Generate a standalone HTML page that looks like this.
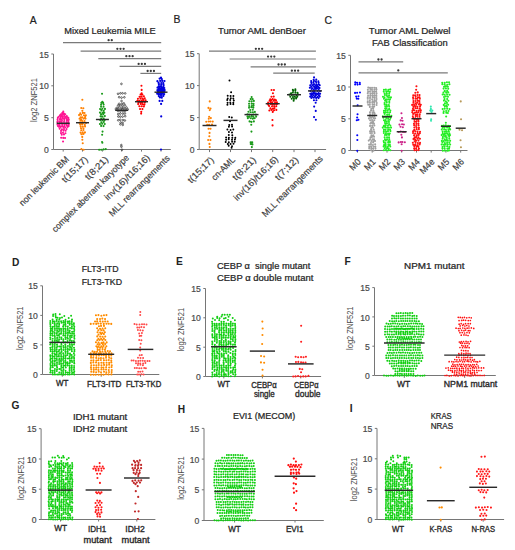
<!DOCTYPE html>
<html><head><meta charset="utf-8"><style>
html,body{margin:0;padding:0;background:#fff;width:515px;height:550px;overflow:hidden}
svg{display:block;font-family:"Liberation Sans",sans-serif}
</style></head><body>
<svg width="515" height="550" viewBox="0 0 515 550">
<rect width="515" height="550" fill="#fff"/>
<text x="29.8" y="24.2" font-size="10.4" fill="#222" stroke="#222" stroke-width="0.2">A</text>
<text x="64.3" y="34.2" font-size="8.5" fill="#262626" textLength="91.5" lengthAdjust="spacingAndGlyphs" stroke="#262626" stroke-width="0.22">Mixed Leukemia MILE</text>
<line x1="53.5" y1="54.0" x2="53.5" y2="149.5" stroke="#767676" stroke-width="1"/>
<line x1="53.5" y1="149.5" x2="170.8" y2="149.5" stroke="#767676" stroke-width="1"/>
<line x1="51.3" y1="149.5" x2="53.5" y2="149.5" stroke="#767676" stroke-width="1"/>
<text x="48.9" y="153.1" font-size="8.6" fill="#4a4a4a" text-anchor="end" stroke="#4a4a4a" stroke-width="0.2">0</text>
<line x1="51.3" y1="117.7" x2="53.5" y2="117.7" stroke="#767676" stroke-width="1"/>
<text x="48.9" y="121.3" font-size="8.6" fill="#4a4a4a" text-anchor="end" stroke="#4a4a4a" stroke-width="0.2">5</text>
<line x1="51.3" y1="85.8" x2="53.5" y2="85.8" stroke="#767676" stroke-width="1"/>
<text x="48.9" y="89.4" font-size="8.6" fill="#4a4a4a" text-anchor="end" stroke="#4a4a4a" stroke-width="0.2">10</text>
<line x1="51.3" y1="54.0" x2="53.5" y2="54.0" stroke="#767676" stroke-width="1"/>
<text x="48.9" y="57.6" font-size="8.6" fill="#4a4a4a" text-anchor="end" stroke="#4a4a4a" stroke-width="0.2">15</text>
<text x="37.0" y="100.0" font-size="8.2" fill="#4a4a4a" text-anchor="middle" textLength="44" lengthAdjust="spacingAndGlyphs" transform="rotate(-90 37.0 100.0)">log2 ZNF521</text>
<line x1="63.2" y1="149.4" x2="63.2" y2="151.6" stroke="#767676" stroke-width="1"/>
<line x1="82.5" y1="149.4" x2="82.5" y2="151.6" stroke="#767676" stroke-width="1"/>
<line x1="102.4" y1="149.4" x2="102.4" y2="151.6" stroke="#767676" stroke-width="1"/>
<line x1="121.7" y1="149.4" x2="121.7" y2="151.6" stroke="#767676" stroke-width="1"/>
<line x1="141.5" y1="149.4" x2="141.5" y2="151.6" stroke="#767676" stroke-width="1"/>
<line x1="161.0" y1="149.4" x2="161.0" y2="151.6" stroke="#767676" stroke-width="1"/>
<line x1="63.0" y1="42.6" x2="161.2" y2="42.6" stroke="#7a7a7a" stroke-width="1.2"/>
<path d="M107.47 40.20a1.15 1.15 0 1 0 2.3 0a1.15 1.15 0 1 0 -2.3 0M110.62 40.20a1.15 1.15 0 1 0 2.3 0a1.15 1.15 0 1 0 -2.3 0" fill="#3a3a3a"/>
<line x1="80.6" y1="51.2" x2="161.2" y2="51.2" stroke="#7a7a7a" stroke-width="1.2"/>
<path d="M116.20 48.80a1.15 1.15 0 1 0 2.3 0a1.15 1.15 0 1 0 -2.3 0M119.35 48.80a1.15 1.15 0 1 0 2.3 0a1.15 1.15 0 1 0 -2.3 0M122.50 48.80a1.15 1.15 0 1 0 2.3 0a1.15 1.15 0 1 0 -2.3 0" fill="#3a3a3a"/>
<line x1="98.3" y1="58.6" x2="161.2" y2="58.6" stroke="#7a7a7a" stroke-width="1.2"/>
<path d="M125.20 56.20a1.15 1.15 0 1 0 2.3 0a1.15 1.15 0 1 0 -2.3 0M128.35 56.20a1.15 1.15 0 1 0 2.3 0a1.15 1.15 0 1 0 -2.3 0M131.50 56.20a1.15 1.15 0 1 0 2.3 0a1.15 1.15 0 1 0 -2.3 0" fill="#3a3a3a"/>
<line x1="119.6" y1="66.3" x2="161.2" y2="66.3" stroke="#7a7a7a" stroke-width="1.2"/>
<path d="M137.50 63.90a1.15 1.15 0 1 0 2.3 0a1.15 1.15 0 1 0 -2.3 0M140.65 63.90a1.15 1.15 0 1 0 2.3 0a1.15 1.15 0 1 0 -2.3 0M143.80 63.90a1.15 1.15 0 1 0 2.3 0a1.15 1.15 0 1 0 -2.3 0" fill="#3a3a3a"/>
<line x1="140.4" y1="73.4" x2="161.2" y2="73.4" stroke="#7a7a7a" stroke-width="1.2"/>
<path d="M146.50 71.00a1.15 1.15 0 1 0 2.3 0a1.15 1.15 0 1 0 -2.3 0M149.65 71.00a1.15 1.15 0 1 0 2.3 0a1.15 1.15 0 1 0 -2.3 0M152.80 71.00a1.15 1.15 0 1 0 2.3 0a1.15 1.15 0 1 0 -2.3 0" fill="#3a3a3a"/>
<text x="69.5" y="159.9" font-size="9.0" fill="#404040" text-anchor="end" textLength="66" lengthAdjust="spacingAndGlyphs" transform="rotate(-45 69.5 159.9)" stroke="#404040" stroke-width="0.2">non leukemic BM</text>
<text x="88.5" y="159.9" font-size="9.0" fill="#404040" text-anchor="end" textLength="33" lengthAdjust="spacingAndGlyphs" transform="rotate(-45 88.5 159.9)" stroke="#404040" stroke-width="0.2">t(15;17)</text>
<text x="108.9" y="159.9" font-size="9.0" fill="#404040" text-anchor="end" textLength="29" lengthAdjust="spacingAndGlyphs" transform="rotate(-45 108.9 159.9)" stroke="#404040" stroke-width="0.2">t(8;21)</text>
<text x="129.7" y="158.4" font-size="9.0" fill="#404040" text-anchor="end" textLength="105" lengthAdjust="spacingAndGlyphs" transform="rotate(-45 129.7 158.4)" stroke="#404040" stroke-width="0.2">complex aberrant karyotype</text>
<text x="150.5" y="158.4" font-size="9.0" fill="#404040" text-anchor="end" textLength="60" lengthAdjust="spacingAndGlyphs" transform="rotate(-45 150.5 158.4)" stroke="#404040" stroke-width="0.2">inv(16)/t16;16)</text>
<text x="170.5" y="158.9" font-size="9.0" fill="#404040" text-anchor="end" textLength="82" lengthAdjust="spacingAndGlyphs" transform="rotate(-45 170.5 158.9)" stroke="#404040" stroke-width="0.2">MLL rearrangements</text>
<path d="M62.0 141.5a1.05 1.05 0 1 0 2.1 0a1.05 1.05 0 1 0 -2.1 0M60.1 137.7a1.05 1.05 0 1 0 2.1 0a1.05 1.05 0 1 0 -2.1 0M62.2 137.9a1.05 1.05 0 1 0 2.1 0a1.05 1.05 0 1 0 -2.1 0M64.0 138.0a1.05 1.05 0 1 0 2.1 0a1.05 1.05 0 1 0 -2.1 0M60.7 134.7a1.05 1.05 0 1 0 2.1 0a1.05 1.05 0 1 0 -2.1 0M62.9 134.5a1.05 1.05 0 1 0 2.1 0a1.05 1.05 0 1 0 -2.1 0M59.9 133.1a1.05 1.05 0 1 0 2.1 0a1.05 1.05 0 1 0 -2.1 0M61.9 132.7a1.05 1.05 0 1 0 2.1 0a1.05 1.05 0 1 0 -2.1 0M64.4 133.2a1.05 1.05 0 1 0 2.1 0a1.05 1.05 0 1 0 -2.1 0M60.0 130.9a1.05 1.05 0 1 0 2.1 0a1.05 1.05 0 1 0 -2.1 0M62.5 130.6a1.05 1.05 0 1 0 2.1 0a1.05 1.05 0 1 0 -2.1 0M64.6 130.8a1.05 1.05 0 1 0 2.1 0a1.05 1.05 0 1 0 -2.1 0M58.6 128.8a1.05 1.05 0 1 0 2.1 0a1.05 1.05 0 1 0 -2.1 0M60.9 129.3a1.05 1.05 0 1 0 2.1 0a1.05 1.05 0 1 0 -2.1 0M63.0 129.1a1.05 1.05 0 1 0 2.1 0a1.05 1.05 0 1 0 -2.1 0M65.5 129.0a1.05 1.05 0 1 0 2.1 0a1.05 1.05 0 1 0 -2.1 0M57.8 126.8a1.05 1.05 0 1 0 2.1 0a1.05 1.05 0 1 0 -2.1 0M59.6 126.9a1.05 1.05 0 1 0 2.1 0a1.05 1.05 0 1 0 -2.1 0M62.3 127.1a1.05 1.05 0 1 0 2.1 0a1.05 1.05 0 1 0 -2.1 0M64.2 127.2a1.05 1.05 0 1 0 2.1 0a1.05 1.05 0 1 0 -2.1 0M66.5 127.0a1.05 1.05 0 1 0 2.1 0a1.05 1.05 0 1 0 -2.1 0M56.9 126.0a1.05 1.05 0 1 0 2.1 0a1.05 1.05 0 1 0 -2.1 0M58.7 125.9a1.05 1.05 0 1 0 2.1 0a1.05 1.05 0 1 0 -2.1 0M61.1 126.1a1.05 1.05 0 1 0 2.1 0a1.05 1.05 0 1 0 -2.1 0M63.4 125.7a1.05 1.05 0 1 0 2.1 0a1.05 1.05 0 1 0 -2.1 0M65.8 125.6a1.05 1.05 0 1 0 2.1 0a1.05 1.05 0 1 0 -2.1 0M67.6 126.0a1.05 1.05 0 1 0 2.1 0a1.05 1.05 0 1 0 -2.1 0M56.4 124.6a1.05 1.05 0 1 0 2.1 0a1.05 1.05 0 1 0 -2.1 0M58.5 124.7a1.05 1.05 0 1 0 2.1 0a1.05 1.05 0 1 0 -2.1 0M61.2 124.6a1.05 1.05 0 1 0 2.1 0a1.05 1.05 0 1 0 -2.1 0M63.5 124.5a1.05 1.05 0 1 0 2.1 0a1.05 1.05 0 1 0 -2.1 0M65.6 124.7a1.05 1.05 0 1 0 2.1 0a1.05 1.05 0 1 0 -2.1 0M67.7 124.6a1.05 1.05 0 1 0 2.1 0a1.05 1.05 0 1 0 -2.1 0M56.9 123.6a1.05 1.05 0 1 0 2.1 0a1.05 1.05 0 1 0 -2.1 0M58.8 123.4a1.05 1.05 0 1 0 2.1 0a1.05 1.05 0 1 0 -2.1 0M60.7 123.5a1.05 1.05 0 1 0 2.1 0a1.05 1.05 0 1 0 -2.1 0M63.4 123.7a1.05 1.05 0 1 0 2.1 0a1.05 1.05 0 1 0 -2.1 0M65.7 123.2a1.05 1.05 0 1 0 2.1 0a1.05 1.05 0 1 0 -2.1 0M67.6 123.4a1.05 1.05 0 1 0 2.1 0a1.05 1.05 0 1 0 -2.1 0M56.3 122.0a1.05 1.05 0 1 0 2.1 0a1.05 1.05 0 1 0 -2.1 0M58.6 121.8a1.05 1.05 0 1 0 2.1 0a1.05 1.05 0 1 0 -2.1 0M60.7 122.2a1.05 1.05 0 1 0 2.1 0a1.05 1.05 0 1 0 -2.1 0M63.0 121.9a1.05 1.05 0 1 0 2.1 0a1.05 1.05 0 1 0 -2.1 0M65.4 122.3a1.05 1.05 0 1 0 2.1 0a1.05 1.05 0 1 0 -2.1 0M67.4 122.0a1.05 1.05 0 1 0 2.1 0a1.05 1.05 0 1 0 -2.1 0M56.7 121.0a1.05 1.05 0 1 0 2.1 0a1.05 1.05 0 1 0 -2.1 0M59.1 121.0a1.05 1.05 0 1 0 2.1 0a1.05 1.05 0 1 0 -2.1 0M60.9 120.7a1.05 1.05 0 1 0 2.1 0a1.05 1.05 0 1 0 -2.1 0M63.2 121.0a1.05 1.05 0 1 0 2.1 0a1.05 1.05 0 1 0 -2.1 0M65.8 120.5a1.05 1.05 0 1 0 2.1 0a1.05 1.05 0 1 0 -2.1 0M67.4 120.6a1.05 1.05 0 1 0 2.1 0a1.05 1.05 0 1 0 -2.1 0M56.5 119.5a1.05 1.05 0 1 0 2.1 0a1.05 1.05 0 1 0 -2.1 0M58.9 119.3a1.05 1.05 0 1 0 2.1 0a1.05 1.05 0 1 0 -2.1 0M60.7 119.5a1.05 1.05 0 1 0 2.1 0a1.05 1.05 0 1 0 -2.1 0M63.2 119.6a1.05 1.05 0 1 0 2.1 0a1.05 1.05 0 1 0 -2.1 0M65.8 119.6a1.05 1.05 0 1 0 2.1 0a1.05 1.05 0 1 0 -2.1 0M67.7 119.6a1.05 1.05 0 1 0 2.1 0a1.05 1.05 0 1 0 -2.1 0M56.8 117.9a1.05 1.05 0 1 0 2.1 0a1.05 1.05 0 1 0 -2.1 0M59.1 118.4a1.05 1.05 0 1 0 2.1 0a1.05 1.05 0 1 0 -2.1 0M61.3 118.4a1.05 1.05 0 1 0 2.1 0a1.05 1.05 0 1 0 -2.1 0M63.2 118.2a1.05 1.05 0 1 0 2.1 0a1.05 1.05 0 1 0 -2.1 0M65.2 118.3a1.05 1.05 0 1 0 2.1 0a1.05 1.05 0 1 0 -2.1 0M67.3 117.9a1.05 1.05 0 1 0 2.1 0a1.05 1.05 0 1 0 -2.1 0M57.5 116.7a1.05 1.05 0 1 0 2.1 0a1.05 1.05 0 1 0 -2.1 0M59.8 116.7a1.05 1.05 0 1 0 2.1 0a1.05 1.05 0 1 0 -2.1 0M61.8 116.7a1.05 1.05 0 1 0 2.1 0a1.05 1.05 0 1 0 -2.1 0M64.1 116.9a1.05 1.05 0 1 0 2.1 0a1.05 1.05 0 1 0 -2.1 0M66.2 117.2a1.05 1.05 0 1 0 2.1 0a1.05 1.05 0 1 0 -2.1 0M58.9 115.4a1.05 1.05 0 1 0 2.1 0a1.05 1.05 0 1 0 -2.1 0M60.9 115.6a1.05 1.05 0 1 0 2.1 0a1.05 1.05 0 1 0 -2.1 0M63.2 115.4a1.05 1.05 0 1 0 2.1 0a1.05 1.05 0 1 0 -2.1 0M65.7 116.0a1.05 1.05 0 1 0 2.1 0a1.05 1.05 0 1 0 -2.1 0M59.9 114.4a1.05 1.05 0 1 0 2.1 0a1.05 1.05 0 1 0 -2.1 0M61.9 114.1a1.05 1.05 0 1 0 2.1 0a1.05 1.05 0 1 0 -2.1 0M64.2 114.3a1.05 1.05 0 1 0 2.1 0a1.05 1.05 0 1 0 -2.1 0M61.3 112.9a1.05 1.05 0 1 0 2.1 0a1.05 1.05 0 1 0 -2.1 0M62.9 113.5a1.05 1.05 0 1 0 2.1 0a1.05 1.05 0 1 0 -2.1 0M62.2 111.6a1.05 1.05 0 1 0 2.1 0a1.05 1.05 0 1 0 -2.1 0" fill="#ff1493"/>
<path d="M80.4 149.1a1.05 1.05 0 1 0 2.1 0a1.05 1.05 0 1 0 -2.1 0M82.6 149.7a1.05 1.05 0 1 0 2.1 0a1.05 1.05 0 1 0 -2.1 0M81.7 143.2a1.05 1.05 0 1 0 2.1 0a1.05 1.05 0 1 0 -2.1 0M81.3 139.8a1.05 1.05 0 1 0 2.1 0a1.05 1.05 0 1 0 -2.1 0M81.2 136.9a1.05 1.05 0 1 0 2.1 0a1.05 1.05 0 1 0 -2.1 0M80.4 134.3a1.05 1.05 0 1 0 2.1 0a1.05 1.05 0 1 0 -2.1 0M82.4 133.9a1.05 1.05 0 1 0 2.1 0a1.05 1.05 0 1 0 -2.1 0M79.5 132.6a1.05 1.05 0 1 0 2.1 0a1.05 1.05 0 1 0 -2.1 0M81.7 132.4a1.05 1.05 0 1 0 2.1 0a1.05 1.05 0 1 0 -2.1 0M83.9 132.4a1.05 1.05 0 1 0 2.1 0a1.05 1.05 0 1 0 -2.1 0M80.2 130.3a1.05 1.05 0 1 0 2.1 0a1.05 1.05 0 1 0 -2.1 0M82.4 130.0a1.05 1.05 0 1 0 2.1 0a1.05 1.05 0 1 0 -2.1 0M80.0 128.3a1.05 1.05 0 1 0 2.1 0a1.05 1.05 0 1 0 -2.1 0M82.4 128.5a1.05 1.05 0 1 0 2.1 0a1.05 1.05 0 1 0 -2.1 0M79.6 126.5a1.05 1.05 0 1 0 2.1 0a1.05 1.05 0 1 0 -2.1 0M81.8 126.8a1.05 1.05 0 1 0 2.1 0a1.05 1.05 0 1 0 -2.1 0M84.0 126.4a1.05 1.05 0 1 0 2.1 0a1.05 1.05 0 1 0 -2.1 0M79.1 124.4a1.05 1.05 0 1 0 2.1 0a1.05 1.05 0 1 0 -2.1 0M81.2 124.4a1.05 1.05 0 1 0 2.1 0a1.05 1.05 0 1 0 -2.1 0M83.7 124.9a1.05 1.05 0 1 0 2.1 0a1.05 1.05 0 1 0 -2.1 0M78.4 122.7a1.05 1.05 0 1 0 2.1 0a1.05 1.05 0 1 0 -2.1 0M80.5 122.9a1.05 1.05 0 1 0 2.1 0a1.05 1.05 0 1 0 -2.1 0M82.3 122.8a1.05 1.05 0 1 0 2.1 0a1.05 1.05 0 1 0 -2.1 0M85.0 122.9a1.05 1.05 0 1 0 2.1 0a1.05 1.05 0 1 0 -2.1 0M79.4 120.8a1.05 1.05 0 1 0 2.1 0a1.05 1.05 0 1 0 -2.1 0M81.2 121.0a1.05 1.05 0 1 0 2.1 0a1.05 1.05 0 1 0 -2.1 0M83.5 121.0a1.05 1.05 0 1 0 2.1 0a1.05 1.05 0 1 0 -2.1 0M78.5 118.8a1.05 1.05 0 1 0 2.1 0a1.05 1.05 0 1 0 -2.1 0M80.3 119.2a1.05 1.05 0 1 0 2.1 0a1.05 1.05 0 1 0 -2.1 0M82.7 118.6a1.05 1.05 0 1 0 2.1 0a1.05 1.05 0 1 0 -2.1 0M84.5 118.6a1.05 1.05 0 1 0 2.1 0a1.05 1.05 0 1 0 -2.1 0M79.5 117.2a1.05 1.05 0 1 0 2.1 0a1.05 1.05 0 1 0 -2.1 0M81.2 117.2a1.05 1.05 0 1 0 2.1 0a1.05 1.05 0 1 0 -2.1 0M84.0 117.1a1.05 1.05 0 1 0 2.1 0a1.05 1.05 0 1 0 -2.1 0M78.0 115.1a1.05 1.05 0 1 0 2.1 0a1.05 1.05 0 1 0 -2.1 0M80.1 114.7a1.05 1.05 0 1 0 2.1 0a1.05 1.05 0 1 0 -2.1 0M82.9 115.2a1.05 1.05 0 1 0 2.1 0a1.05 1.05 0 1 0 -2.1 0M84.8 115.4a1.05 1.05 0 1 0 2.1 0a1.05 1.05 0 1 0 -2.1 0M79.2 113.4a1.05 1.05 0 1 0 2.1 0a1.05 1.05 0 1 0 -2.1 0M81.7 112.9a1.05 1.05 0 1 0 2.1 0a1.05 1.05 0 1 0 -2.1 0M83.5 113.0a1.05 1.05 0 1 0 2.1 0a1.05 1.05 0 1 0 -2.1 0M81.3 110.7a1.05 1.05 0 1 0 2.1 0a1.05 1.05 0 1 0 -2.1 0M80.2 108.0a1.05 1.05 0 1 0 2.1 0a1.05 1.05 0 1 0 -2.1 0M82.3 108.3a1.05 1.05 0 1 0 2.1 0a1.05 1.05 0 1 0 -2.1 0M81.3 99.8a1.05 1.05 0 1 0 2.1 0a1.05 1.05 0 1 0 -2.1 0" fill="#ff8000"/>
<path d="M98.1 149.7a1.05 1.05 0 1 0 2.1 0a1.05 1.05 0 1 0 -2.1 0M100.2 149.7a1.05 1.05 0 1 0 2.1 0a1.05 1.05 0 1 0 -2.1 0M102.5 149.4a1.05 1.05 0 1 0 2.1 0a1.05 1.05 0 1 0 -2.1 0M104.7 149.1a1.05 1.05 0 1 0 2.1 0a1.05 1.05 0 1 0 -2.1 0M101.3 142.8a1.05 1.05 0 1 0 2.1 0a1.05 1.05 0 1 0 -2.1 0M101.0 142.0a1.05 1.05 0 1 0 2.1 0a1.05 1.05 0 1 0 -2.1 0M101.1 134.8a1.05 1.05 0 1 0 2.1 0a1.05 1.05 0 1 0 -2.1 0M101.5 131.6a1.05 1.05 0 1 0 2.1 0a1.05 1.05 0 1 0 -2.1 0M100.1 125.9a1.05 1.05 0 1 0 2.1 0a1.05 1.05 0 1 0 -2.1 0M102.5 126.1a1.05 1.05 0 1 0 2.1 0a1.05 1.05 0 1 0 -2.1 0M98.9 124.0a1.05 1.05 0 1 0 2.1 0a1.05 1.05 0 1 0 -2.1 0M101.2 123.8a1.05 1.05 0 1 0 2.1 0a1.05 1.05 0 1 0 -2.1 0M103.7 124.0a1.05 1.05 0 1 0 2.1 0a1.05 1.05 0 1 0 -2.1 0M100.3 122.2a1.05 1.05 0 1 0 2.1 0a1.05 1.05 0 1 0 -2.1 0M102.7 122.0a1.05 1.05 0 1 0 2.1 0a1.05 1.05 0 1 0 -2.1 0M99.2 120.1a1.05 1.05 0 1 0 2.1 0a1.05 1.05 0 1 0 -2.1 0M101.4 120.3a1.05 1.05 0 1 0 2.1 0a1.05 1.05 0 1 0 -2.1 0M103.5 120.2a1.05 1.05 0 1 0 2.1 0a1.05 1.05 0 1 0 -2.1 0M100.2 118.5a1.05 1.05 0 1 0 2.1 0a1.05 1.05 0 1 0 -2.1 0M102.6 118.5a1.05 1.05 0 1 0 2.1 0a1.05 1.05 0 1 0 -2.1 0M99.5 116.2a1.05 1.05 0 1 0 2.1 0a1.05 1.05 0 1 0 -2.1 0M101.4 116.6a1.05 1.05 0 1 0 2.1 0a1.05 1.05 0 1 0 -2.1 0M103.8 116.1a1.05 1.05 0 1 0 2.1 0a1.05 1.05 0 1 0 -2.1 0M100.0 114.4a1.05 1.05 0 1 0 2.1 0a1.05 1.05 0 1 0 -2.1 0M102.2 114.2a1.05 1.05 0 1 0 2.1 0a1.05 1.05 0 1 0 -2.1 0M98.9 112.6a1.05 1.05 0 1 0 2.1 0a1.05 1.05 0 1 0 -2.1 0M101.5 112.8a1.05 1.05 0 1 0 2.1 0a1.05 1.05 0 1 0 -2.1 0M103.3 112.7a1.05 1.05 0 1 0 2.1 0a1.05 1.05 0 1 0 -2.1 0M100.4 110.4a1.05 1.05 0 1 0 2.1 0a1.05 1.05 0 1 0 -2.1 0M102.7 110.9a1.05 1.05 0 1 0 2.1 0a1.05 1.05 0 1 0 -2.1 0M99.0 109.0a1.05 1.05 0 1 0 2.1 0a1.05 1.05 0 1 0 -2.1 0M101.3 108.7a1.05 1.05 0 1 0 2.1 0a1.05 1.05 0 1 0 -2.1 0M103.9 108.9a1.05 1.05 0 1 0 2.1 0a1.05 1.05 0 1 0 -2.1 0M100.0 106.7a1.05 1.05 0 1 0 2.1 0a1.05 1.05 0 1 0 -2.1 0M102.5 106.7a1.05 1.05 0 1 0 2.1 0a1.05 1.05 0 1 0 -2.1 0M100.0 104.8a1.05 1.05 0 1 0 2.1 0a1.05 1.05 0 1 0 -2.1 0M102.6 104.5a1.05 1.05 0 1 0 2.1 0a1.05 1.05 0 1 0 -2.1 0M100.3 102.9a1.05 1.05 0 1 0 2.1 0a1.05 1.05 0 1 0 -2.1 0M102.1 102.9a1.05 1.05 0 1 0 2.1 0a1.05 1.05 0 1 0 -2.1 0M101.4 101.7a1.05 1.05 0 1 0 2.1 0a1.05 1.05 0 1 0 -2.1 0M101.0 93.8a1.05 1.05 0 1 0 2.1 0a1.05 1.05 0 1 0 -2.1 0" fill="#1a9a1a"/>
<path d="M121.1 149.7a0.85 0.85 0 1 0 1.7 0a0.85 0.85 0 1 0 -1.7 0M120.6 146.7a0.85 0.85 0 1 0 1.7 0a0.85 0.85 0 1 0 -1.7 0M120.5 145.1a0.85 0.85 0 1 0 1.7 0a0.85 0.85 0 1 0 -1.7 0M119.5 124.3a0.85 0.85 0 1 0 1.7 0a0.85 0.85 0 1 0 -1.7 0M121.9 124.9a0.85 0.85 0 1 0 1.7 0a0.85 0.85 0 1 0 -1.7 0M119.9 122.5a0.85 0.85 0 1 0 1.7 0a0.85 0.85 0 1 0 -1.7 0M121.8 123.0a0.85 0.85 0 1 0 1.7 0a0.85 0.85 0 1 0 -1.7 0M117.4 120.3a0.85 0.85 0 1 0 1.7 0a0.85 0.85 0 1 0 -1.7 0M119.4 119.8a0.85 0.85 0 1 0 1.7 0a0.85 0.85 0 1 0 -1.7 0M122.1 120.1a0.85 0.85 0 1 0 1.7 0a0.85 0.85 0 1 0 -1.7 0M124.0 120.5a0.85 0.85 0 1 0 1.7 0a0.85 0.85 0 1 0 -1.7 0M117.5 116.5a0.85 0.85 0 1 0 1.7 0a0.85 0.85 0 1 0 -1.7 0M119.4 116.6a0.85 0.85 0 1 0 1.7 0a0.85 0.85 0 1 0 -1.7 0M121.7 116.6a0.85 0.85 0 1 0 1.7 0a0.85 0.85 0 1 0 -1.7 0M124.3 116.2a0.85 0.85 0 1 0 1.7 0a0.85 0.85 0 1 0 -1.7 0M117.4 114.1a0.85 0.85 0 1 0 1.7 0a0.85 0.85 0 1 0 -1.7 0M119.5 113.5a0.85 0.85 0 1 0 1.7 0a0.85 0.85 0 1 0 -1.7 0M122.0 113.6a0.85 0.85 0 1 0 1.7 0a0.85 0.85 0 1 0 -1.7 0M124.0 113.5a0.85 0.85 0 1 0 1.7 0a0.85 0.85 0 1 0 -1.7 0M117.1 111.0a0.85 0.85 0 1 0 1.7 0a0.85 0.85 0 1 0 -1.7 0M119.6 111.1a0.85 0.85 0 1 0 1.7 0a0.85 0.85 0 1 0 -1.7 0M122.2 111.1a0.85 0.85 0 1 0 1.7 0a0.85 0.85 0 1 0 -1.7 0M124.3 111.0a0.85 0.85 0 1 0 1.7 0a0.85 0.85 0 1 0 -1.7 0M115.0 109.0a0.85 0.85 0 1 0 1.7 0a0.85 0.85 0 1 0 -1.7 0M117.2 109.0a0.85 0.85 0 1 0 1.7 0a0.85 0.85 0 1 0 -1.7 0M119.9 109.4a0.85 0.85 0 1 0 1.7 0a0.85 0.85 0 1 0 -1.7 0M121.8 109.3a0.85 0.85 0 1 0 1.7 0a0.85 0.85 0 1 0 -1.7 0M124.6 109.1a0.85 0.85 0 1 0 1.7 0a0.85 0.85 0 1 0 -1.7 0M126.8 109.3a0.85 0.85 0 1 0 1.7 0a0.85 0.85 0 1 0 -1.7 0M116.2 107.7a0.85 0.85 0 1 0 1.7 0a0.85 0.85 0 1 0 -1.7 0M118.5 107.4a0.85 0.85 0 1 0 1.7 0a0.85 0.85 0 1 0 -1.7 0M121.0 107.8a0.85 0.85 0 1 0 1.7 0a0.85 0.85 0 1 0 -1.7 0M123.0 107.7a0.85 0.85 0 1 0 1.7 0a0.85 0.85 0 1 0 -1.7 0M125.6 107.5a0.85 0.85 0 1 0 1.7 0a0.85 0.85 0 1 0 -1.7 0M117.3 105.4a0.85 0.85 0 1 0 1.7 0a0.85 0.85 0 1 0 -1.7 0M119.4 105.3a0.85 0.85 0 1 0 1.7 0a0.85 0.85 0 1 0 -1.7 0M121.7 105.7a0.85 0.85 0 1 0 1.7 0a0.85 0.85 0 1 0 -1.7 0M124.1 105.3a0.85 0.85 0 1 0 1.7 0a0.85 0.85 0 1 0 -1.7 0M118.3 103.8a0.85 0.85 0 1 0 1.7 0a0.85 0.85 0 1 0 -1.7 0M121.1 103.7a0.85 0.85 0 1 0 1.7 0a0.85 0.85 0 1 0 -1.7 0M123.0 103.4a0.85 0.85 0 1 0 1.7 0a0.85 0.85 0 1 0 -1.7 0M120.7 101.0a0.85 0.85 0 1 0 1.7 0a0.85 0.85 0 1 0 -1.7 0M118.3 97.2a0.85 0.85 0 1 0 1.7 0a0.85 0.85 0 1 0 -1.7 0M120.7 97.6a0.85 0.85 0 1 0 1.7 0a0.85 0.85 0 1 0 -1.7 0M123.5 97.3a0.85 0.85 0 1 0 1.7 0a0.85 0.85 0 1 0 -1.7 0M117.2 93.8a0.85 0.85 0 1 0 1.7 0a0.85 0.85 0 1 0 -1.7 0M119.6 93.3a0.85 0.85 0 1 0 1.7 0a0.85 0.85 0 1 0 -1.7 0M121.7 93.3a0.85 0.85 0 1 0 1.7 0a0.85 0.85 0 1 0 -1.7 0M124.3 93.4a0.85 0.85 0 1 0 1.7 0a0.85 0.85 0 1 0 -1.7 0M120.6 83.9a0.85 0.85 0 1 0 1.7 0a0.85 0.85 0 1 0 -1.7 0" fill="none" stroke="#3a3a3a" stroke-width="0.75"/>
<path d="M140.1 113.6a1.05 1.05 0 1 0 2.1 0a1.05 1.05 0 1 0 -2.1 0M140.2 111.8a1.05 1.05 0 1 0 2.1 0a1.05 1.05 0 1 0 -2.1 0M139.0 109.0a1.05 1.05 0 1 0 2.1 0a1.05 1.05 0 1 0 -2.1 0M141.4 109.1a1.05 1.05 0 1 0 2.1 0a1.05 1.05 0 1 0 -2.1 0M138.3 106.2a1.05 1.05 0 1 0 2.1 0a1.05 1.05 0 1 0 -2.1 0M140.6 106.3a1.05 1.05 0 1 0 2.1 0a1.05 1.05 0 1 0 -2.1 0M142.8 106.4a1.05 1.05 0 1 0 2.1 0a1.05 1.05 0 1 0 -2.1 0M137.1 104.1a1.05 1.05 0 1 0 2.1 0a1.05 1.05 0 1 0 -2.1 0M139.7 104.0a1.05 1.05 0 1 0 2.1 0a1.05 1.05 0 1 0 -2.1 0M141.7 104.3a1.05 1.05 0 1 0 2.1 0a1.05 1.05 0 1 0 -2.1 0M143.4 104.5a1.05 1.05 0 1 0 2.1 0a1.05 1.05 0 1 0 -2.1 0M137.4 102.4a1.05 1.05 0 1 0 2.1 0a1.05 1.05 0 1 0 -2.1 0M139.5 102.6a1.05 1.05 0 1 0 2.1 0a1.05 1.05 0 1 0 -2.1 0M141.3 102.4a1.05 1.05 0 1 0 2.1 0a1.05 1.05 0 1 0 -2.1 0M143.8 102.6a1.05 1.05 0 1 0 2.1 0a1.05 1.05 0 1 0 -2.1 0M136.3 100.7a1.05 1.05 0 1 0 2.1 0a1.05 1.05 0 1 0 -2.1 0M138.3 100.7a1.05 1.05 0 1 0 2.1 0a1.05 1.05 0 1 0 -2.1 0M140.6 100.6a1.05 1.05 0 1 0 2.1 0a1.05 1.05 0 1 0 -2.1 0M142.5 100.1a1.05 1.05 0 1 0 2.1 0a1.05 1.05 0 1 0 -2.1 0M144.6 100.3a1.05 1.05 0 1 0 2.1 0a1.05 1.05 0 1 0 -2.1 0M136.9 98.8a1.05 1.05 0 1 0 2.1 0a1.05 1.05 0 1 0 -2.1 0M139.4 98.6a1.05 1.05 0 1 0 2.1 0a1.05 1.05 0 1 0 -2.1 0M141.6 98.6a1.05 1.05 0 1 0 2.1 0a1.05 1.05 0 1 0 -2.1 0M143.7 98.2a1.05 1.05 0 1 0 2.1 0a1.05 1.05 0 1 0 -2.1 0M138.5 96.8a1.05 1.05 0 1 0 2.1 0a1.05 1.05 0 1 0 -2.1 0M140.5 96.6a1.05 1.05 0 1 0 2.1 0a1.05 1.05 0 1 0 -2.1 0M142.8 96.3a1.05 1.05 0 1 0 2.1 0a1.05 1.05 0 1 0 -2.1 0M139.5 94.5a1.05 1.05 0 1 0 2.1 0a1.05 1.05 0 1 0 -2.1 0M141.3 94.5a1.05 1.05 0 1 0 2.1 0a1.05 1.05 0 1 0 -2.1 0M140.6 93.2a1.05 1.05 0 1 0 2.1 0a1.05 1.05 0 1 0 -2.1 0M140.6 89.9a1.05 1.05 0 1 0 2.1 0a1.05 1.05 0 1 0 -2.1 0M140.4 85.7a1.05 1.05 0 1 0 2.1 0a1.05 1.05 0 1 0 -2.1 0" fill="#ff0000"/>
<path d="M159.9 149.5a1.1 1.1 0 1 0 2.2 0a1.1 1.1 0 1 0 -2.2 0M160.1 116.4a1.1 1.1 0 1 0 2.2 0a1.1 1.1 0 1 0 -2.2 0M160.0 103.9a1.1 1.1 0 1 0 2.2 0a1.1 1.1 0 1 0 -2.2 0M158.5 100.9a1.1 1.1 0 1 0 2.2 0a1.1 1.1 0 1 0 -2.2 0M161.2 100.9a1.1 1.1 0 1 0 2.2 0a1.1 1.1 0 1 0 -2.2 0M158.8 97.5a1.1 1.1 0 1 0 2.2 0a1.1 1.1 0 1 0 -2.2 0M160.7 97.7a1.1 1.1 0 1 0 2.2 0a1.1 1.1 0 1 0 -2.2 0M157.7 96.1a1.1 1.1 0 1 0 2.2 0a1.1 1.1 0 1 0 -2.2 0M160.0 95.8a1.1 1.1 0 1 0 2.2 0a1.1 1.1 0 1 0 -2.2 0M162.2 96.0a1.1 1.1 0 1 0 2.2 0a1.1 1.1 0 1 0 -2.2 0M157.6 94.4a1.1 1.1 0 1 0 2.2 0a1.1 1.1 0 1 0 -2.2 0M160.2 94.5a1.1 1.1 0 1 0 2.2 0a1.1 1.1 0 1 0 -2.2 0M162.5 95.0a1.1 1.1 0 1 0 2.2 0a1.1 1.1 0 1 0 -2.2 0M156.1 93.7a1.1 1.1 0 1 0 2.2 0a1.1 1.1 0 1 0 -2.2 0M159.0 94.1a1.1 1.1 0 1 0 2.2 0a1.1 1.1 0 1 0 -2.2 0M161.0 93.6a1.1 1.1 0 1 0 2.2 0a1.1 1.1 0 1 0 -2.2 0M163.1 94.1a1.1 1.1 0 1 0 2.2 0a1.1 1.1 0 1 0 -2.2 0M157.4 92.9a1.1 1.1 0 1 0 2.2 0a1.1 1.1 0 1 0 -2.2 0M159.6 92.8a1.1 1.1 0 1 0 2.2 0a1.1 1.1 0 1 0 -2.2 0M162.5 92.5a1.1 1.1 0 1 0 2.2 0a1.1 1.1 0 1 0 -2.2 0M156.7 91.8a1.1 1.1 0 1 0 2.2 0a1.1 1.1 0 1 0 -2.2 0M159.0 92.0a1.1 1.1 0 1 0 2.2 0a1.1 1.1 0 1 0 -2.2 0M160.9 92.1a1.1 1.1 0 1 0 2.2 0a1.1 1.1 0 1 0 -2.2 0M163.3 91.5a1.1 1.1 0 1 0 2.2 0a1.1 1.1 0 1 0 -2.2 0M157.3 90.9a1.1 1.1 0 1 0 2.2 0a1.1 1.1 0 1 0 -2.2 0M159.9 90.7a1.1 1.1 0 1 0 2.2 0a1.1 1.1 0 1 0 -2.2 0M161.9 90.8a1.1 1.1 0 1 0 2.2 0a1.1 1.1 0 1 0 -2.2 0M156.3 90.2a1.1 1.1 0 1 0 2.2 0a1.1 1.1 0 1 0 -2.2 0M158.4 90.1a1.1 1.1 0 1 0 2.2 0a1.1 1.1 0 1 0 -2.2 0M161.3 89.7a1.1 1.1 0 1 0 2.2 0a1.1 1.1 0 1 0 -2.2 0M163.6 90.1a1.1 1.1 0 1 0 2.2 0a1.1 1.1 0 1 0 -2.2 0M157.9 88.8a1.1 1.1 0 1 0 2.2 0a1.1 1.1 0 1 0 -2.2 0M159.8 88.9a1.1 1.1 0 1 0 2.2 0a1.1 1.1 0 1 0 -2.2 0M162.5 89.0a1.1 1.1 0 1 0 2.2 0a1.1 1.1 0 1 0 -2.2 0M156.4 87.7a1.1 1.1 0 1 0 2.2 0a1.1 1.1 0 1 0 -2.2 0M158.6 87.4a1.1 1.1 0 1 0 2.2 0a1.1 1.1 0 1 0 -2.2 0M160.8 87.9a1.1 1.1 0 1 0 2.2 0a1.1 1.1 0 1 0 -2.2 0M163.2 88.0a1.1 1.1 0 1 0 2.2 0a1.1 1.1 0 1 0 -2.2 0M157.4 86.6a1.1 1.1 0 1 0 2.2 0a1.1 1.1 0 1 0 -2.2 0M159.9 86.5a1.1 1.1 0 1 0 2.2 0a1.1 1.1 0 1 0 -2.2 0M162.1 87.1a1.1 1.1 0 1 0 2.2 0a1.1 1.1 0 1 0 -2.2 0M157.9 86.0a1.1 1.1 0 1 0 2.2 0a1.1 1.1 0 1 0 -2.2 0M160.0 86.1a1.1 1.1 0 1 0 2.2 0a1.1 1.1 0 1 0 -2.2 0M162.5 85.8a1.1 1.1 0 1 0 2.2 0a1.1 1.1 0 1 0 -2.2 0M157.8 84.2a1.1 1.1 0 1 0 2.2 0a1.1 1.1 0 1 0 -2.2 0M160.1 84.5a1.1 1.1 0 1 0 2.2 0a1.1 1.1 0 1 0 -2.2 0M162.4 84.6a1.1 1.1 0 1 0 2.2 0a1.1 1.1 0 1 0 -2.2 0M157.5 82.9a1.1 1.1 0 1 0 2.2 0a1.1 1.1 0 1 0 -2.2 0M160.2 83.0a1.1 1.1 0 1 0 2.2 0a1.1 1.1 0 1 0 -2.2 0M162.2 83.1a1.1 1.1 0 1 0 2.2 0a1.1 1.1 0 1 0 -2.2 0M156.3 81.2a1.1 1.1 0 1 0 2.2 0a1.1 1.1 0 1 0 -2.2 0M159.1 80.9a1.1 1.1 0 1 0 2.2 0a1.1 1.1 0 1 0 -2.2 0M161.2 80.9a1.1 1.1 0 1 0 2.2 0a1.1 1.1 0 1 0 -2.2 0M163.4 81.0a1.1 1.1 0 1 0 2.2 0a1.1 1.1 0 1 0 -2.2 0M158.5 78.6a1.1 1.1 0 1 0 2.2 0a1.1 1.1 0 1 0 -2.2 0M160.8 79.1a1.1 1.1 0 1 0 2.2 0a1.1 1.1 0 1 0 -2.2 0M159.9 77.7a1.1 1.1 0 1 0 2.2 0a1.1 1.1 0 1 0 -2.2 0" fill="#0000dd"/>
<line x1="56.7" y1="123.3" x2="69.7" y2="123.3" stroke="#2a2a2a" stroke-width="1.45"/>
<line x1="76.0" y1="122.7" x2="89.0" y2="122.7" stroke="#2a2a2a" stroke-width="1.45"/>
<line x1="95.9" y1="119.5" x2="108.9" y2="119.5" stroke="#2a2a2a" stroke-width="1.45"/>
<line x1="115.2" y1="110.3" x2="128.2" y2="110.3" stroke="#2a2a2a" stroke-width="1.45"/>
<line x1="135.0" y1="101.7" x2="148.0" y2="101.7" stroke="#2a2a2a" stroke-width="1.45"/>
<line x1="154.5" y1="92.2" x2="167.5" y2="92.2" stroke="#2a2a2a" stroke-width="1.45"/>
<text x="173.6" y="23.4" font-size="10.4" fill="#222" stroke="#222" stroke-width="0.2">B</text>
<text x="217.9" y="34.2" font-size="8.5" fill="#262626" textLength="88" lengthAdjust="spacingAndGlyphs" stroke="#262626" stroke-width="0.22">Tumor AML denBoer</text>
<line x1="199.2" y1="53.7" x2="199.2" y2="149.5" stroke="#767676" stroke-width="1"/>
<line x1="199.2" y1="149.5" x2="326.1" y2="149.5" stroke="#767676" stroke-width="1"/>
<line x1="197.0" y1="149.5" x2="199.2" y2="149.5" stroke="#767676" stroke-width="1"/>
<text x="194.6" y="153.1" font-size="8.6" fill="#4a4a4a" text-anchor="end" stroke="#4a4a4a" stroke-width="0.2">0</text>
<line x1="197.0" y1="117.6" x2="199.2" y2="117.6" stroke="#767676" stroke-width="1"/>
<text x="194.6" y="121.2" font-size="8.6" fill="#4a4a4a" text-anchor="end" stroke="#4a4a4a" stroke-width="0.2">5</text>
<line x1="197.0" y1="85.6" x2="199.2" y2="85.6" stroke="#767676" stroke-width="1"/>
<text x="194.6" y="89.2" font-size="8.6" fill="#4a4a4a" text-anchor="end" stroke="#4a4a4a" stroke-width="0.2">10</text>
<line x1="197.0" y1="53.7" x2="199.2" y2="53.7" stroke="#767676" stroke-width="1"/>
<text x="194.6" y="57.3" font-size="8.6" fill="#4a4a4a" text-anchor="end" stroke="#4a4a4a" stroke-width="0.2">15</text>
<line x1="209.5" y1="149.9" x2="209.5" y2="152.1" stroke="#767676" stroke-width="1"/>
<line x1="230.5" y1="149.9" x2="230.5" y2="152.1" stroke="#767676" stroke-width="1"/>
<line x1="251.5" y1="149.9" x2="251.5" y2="152.1" stroke="#767676" stroke-width="1"/>
<line x1="272.7" y1="149.9" x2="272.7" y2="152.1" stroke="#767676" stroke-width="1"/>
<line x1="294.0" y1="149.9" x2="294.0" y2="152.1" stroke="#767676" stroke-width="1"/>
<line x1="315.0" y1="149.9" x2="315.0" y2="152.1" stroke="#767676" stroke-width="1"/>
<line x1="209.0" y1="51.2" x2="315.9" y2="51.2" stroke="#7a7a7a" stroke-width="1.2"/>
<path d="M254.70 48.80a1.15 1.15 0 1 0 2.3 0a1.15 1.15 0 1 0 -2.3 0M257.85 48.80a1.15 1.15 0 1 0 2.3 0a1.15 1.15 0 1 0 -2.3 0M261.00 48.80a1.15 1.15 0 1 0 2.3 0a1.15 1.15 0 1 0 -2.3 0" fill="#3a3a3a"/>
<line x1="229.6" y1="59.0" x2="315.9" y2="59.0" stroke="#7a7a7a" stroke-width="1.2"/>
<path d="M266.90 56.60a1.15 1.15 0 1 0 2.3 0a1.15 1.15 0 1 0 -2.3 0M270.05 56.60a1.15 1.15 0 1 0 2.3 0a1.15 1.15 0 1 0 -2.3 0M273.20 56.60a1.15 1.15 0 1 0 2.3 0a1.15 1.15 0 1 0 -2.3 0" fill="#3a3a3a"/>
<line x1="250.6" y1="66.9" x2="315.9" y2="66.9" stroke="#7a7a7a" stroke-width="1.2"/>
<path d="M277.40 64.50a1.15 1.15 0 1 0 2.3 0a1.15 1.15 0 1 0 -2.3 0M280.55 64.50a1.15 1.15 0 1 0 2.3 0a1.15 1.15 0 1 0 -2.3 0M283.70 64.50a1.15 1.15 0 1 0 2.3 0a1.15 1.15 0 1 0 -2.3 0" fill="#3a3a3a"/>
<line x1="273.2" y1="73.1" x2="314.7" y2="73.1" stroke="#7a7a7a" stroke-width="1.2"/>
<path d="M290.70 70.70a1.15 1.15 0 1 0 2.3 0a1.15 1.15 0 1 0 -2.3 0M293.85 70.70a1.15 1.15 0 1 0 2.3 0a1.15 1.15 0 1 0 -2.3 0M297.00 70.70a1.15 1.15 0 1 0 2.3 0a1.15 1.15 0 1 0 -2.3 0" fill="#3a3a3a"/>
<text x="214.5" y="160.4" font-size="9.0" fill="#404040" text-anchor="end" textLength="33" lengthAdjust="spacingAndGlyphs" transform="rotate(-45 214.5 160.4)" stroke="#404040" stroke-width="0.2">t(15;17)</text>
<text x="235.5" y="160.4" font-size="9.0" fill="#404040" text-anchor="end" textLength="29" lengthAdjust="spacingAndGlyphs" transform="rotate(-45 235.5 160.4)" stroke="#404040" stroke-width="0.2">cn-AML</text>
<text x="256.5" y="160.4" font-size="9.0" fill="#404040" text-anchor="end" textLength="29" lengthAdjust="spacingAndGlyphs" transform="rotate(-45 256.5 160.4)" stroke="#404040" stroke-width="0.2">t(8;21)</text>
<text x="278.7" y="159.9" font-size="9.0" fill="#404040" text-anchor="end" textLength="58.5" lengthAdjust="spacingAndGlyphs" transform="rotate(-45 278.7 159.9)" stroke="#404040" stroke-width="0.2">inv(16)/t16;16)</text>
<text x="299.0" y="160.4" font-size="9.0" fill="#404040" text-anchor="end" textLength="29" lengthAdjust="spacingAndGlyphs" transform="rotate(-45 299.0 160.4)" stroke="#404040" stroke-width="0.2">t(7;12)</text>
<text x="323.5" y="159.4" font-size="9.0" fill="#404040" text-anchor="end" textLength="82" lengthAdjust="spacingAndGlyphs" transform="rotate(-45 323.5 159.4)" stroke="#404040" stroke-width="0.2">MLL rearrangements</text>
<path d="M208.7 147.0a1.05 1.05 0 1 0 2.1 0a1.05 1.05 0 1 0 -2.1 0M208.4 143.9a1.05 1.05 0 1 0 2.1 0a1.05 1.05 0 1 0 -2.1 0M207.1 140.0a1.05 1.05 0 1 0 2.1 0a1.05 1.05 0 1 0 -2.1 0M209.4 140.0a1.05 1.05 0 1 0 2.1 0a1.05 1.05 0 1 0 -2.1 0M208.3 136.3a1.05 1.05 0 1 0 2.1 0a1.05 1.05 0 1 0 -2.1 0M208.5 132.9a1.05 1.05 0 1 0 2.1 0a1.05 1.05 0 1 0 -2.1 0M207.5 128.7a1.05 1.05 0 1 0 2.1 0a1.05 1.05 0 1 0 -2.1 0M209.5 128.8a1.05 1.05 0 1 0 2.1 0a1.05 1.05 0 1 0 -2.1 0M206.2 124.8a1.05 1.05 0 1 0 2.1 0a1.05 1.05 0 1 0 -2.1 0M208.1 124.7a1.05 1.05 0 1 0 2.1 0a1.05 1.05 0 1 0 -2.1 0M211.0 124.6a1.05 1.05 0 1 0 2.1 0a1.05 1.05 0 1 0 -2.1 0M205.2 121.8a1.05 1.05 0 1 0 2.1 0a1.05 1.05 0 1 0 -2.1 0M207.6 121.5a1.05 1.05 0 1 0 2.1 0a1.05 1.05 0 1 0 -2.1 0M209.4 121.5a1.05 1.05 0 1 0 2.1 0a1.05 1.05 0 1 0 -2.1 0M211.7 121.6a1.05 1.05 0 1 0 2.1 0a1.05 1.05 0 1 0 -2.1 0M207.7 118.7a1.05 1.05 0 1 0 2.1 0a1.05 1.05 0 1 0 -2.1 0M209.8 118.1a1.05 1.05 0 1 0 2.1 0a1.05 1.05 0 1 0 -2.1 0M208.1 116.7a1.05 1.05 0 1 0 2.1 0a1.05 1.05 0 1 0 -2.1 0M208.7 110.1a1.05 1.05 0 1 0 2.1 0a1.05 1.05 0 1 0 -2.1 0M207.4 107.9a1.05 1.05 0 1 0 2.1 0a1.05 1.05 0 1 0 -2.1 0M209.5 108.5a1.05 1.05 0 1 0 2.1 0a1.05 1.05 0 1 0 -2.1 0M208.7 101.4a1.05 1.05 0 1 0 2.1 0a1.05 1.05 0 1 0 -2.1 0" fill="#ff8000"/>
<path d="M230.6 147.8a1.0 1.0 0 1 0 2.0 0a1.0 1.0 0 1 0 -2.0 0M227.7 145.8a1.0 1.0 0 1 0 2.0 0a1.0 1.0 0 1 0 -2.0 0M231.0 146.2a1.0 1.0 0 1 0 2.0 0a1.0 1.0 0 1 0 -2.0 0M226.8 144.0a1.0 1.0 0 1 0 2.0 0a1.0 1.0 0 1 0 -2.0 0M229.6 144.0a1.0 1.0 0 1 0 2.0 0a1.0 1.0 0 1 0 -2.0 0M232.5 143.8a1.0 1.0 0 1 0 2.0 0a1.0 1.0 0 1 0 -2.0 0M224.7 142.1a1.0 1.0 0 1 0 2.0 0a1.0 1.0 0 1 0 -2.0 0M227.8 142.2a1.0 1.0 0 1 0 2.0 0a1.0 1.0 0 1 0 -2.0 0M231.1 141.7a1.0 1.0 0 1 0 2.0 0a1.0 1.0 0 1 0 -2.0 0M233.7 141.7a1.0 1.0 0 1 0 2.0 0a1.0 1.0 0 1 0 -2.0 0M225.1 139.8a1.0 1.0 0 1 0 2.0 0a1.0 1.0 0 1 0 -2.0 0M227.7 139.3a1.0 1.0 0 1 0 2.0 0a1.0 1.0 0 1 0 -2.0 0M231.0 139.7a1.0 1.0 0 1 0 2.0 0a1.0 1.0 0 1 0 -2.0 0M233.9 139.4a1.0 1.0 0 1 0 2.0 0a1.0 1.0 0 1 0 -2.0 0M225.1 137.4a1.0 1.0 0 1 0 2.0 0a1.0 1.0 0 1 0 -2.0 0M227.9 137.7a1.0 1.0 0 1 0 2.0 0a1.0 1.0 0 1 0 -2.0 0M231.3 137.8a1.0 1.0 0 1 0 2.0 0a1.0 1.0 0 1 0 -2.0 0M234.3 137.7a1.0 1.0 0 1 0 2.0 0a1.0 1.0 0 1 0 -2.0 0M227.8 135.0a1.0 1.0 0 1 0 2.0 0a1.0 1.0 0 1 0 -2.0 0M231.3 135.3a1.0 1.0 0 1 0 2.0 0a1.0 1.0 0 1 0 -2.0 0M227.9 131.9a1.0 1.0 0 1 0 2.0 0a1.0 1.0 0 1 0 -2.0 0M231.0 132.4a1.0 1.0 0 1 0 2.0 0a1.0 1.0 0 1 0 -2.0 0M226.4 129.5a1.0 1.0 0 1 0 2.0 0a1.0 1.0 0 1 0 -2.0 0M229.6 130.0a1.0 1.0 0 1 0 2.0 0a1.0 1.0 0 1 0 -2.0 0M232.3 129.4a1.0 1.0 0 1 0 2.0 0a1.0 1.0 0 1 0 -2.0 0M227.9 126.8a1.0 1.0 0 1 0 2.0 0a1.0 1.0 0 1 0 -2.0 0M231.1 126.6a1.0 1.0 0 1 0 2.0 0a1.0 1.0 0 1 0 -2.0 0M228.2 125.1a1.0 1.0 0 1 0 2.0 0a1.0 1.0 0 1 0 -2.0 0M231.0 124.7a1.0 1.0 0 1 0 2.0 0a1.0 1.0 0 1 0 -2.0 0M229.0 121.2a1.0 1.0 0 1 0 2.0 0a1.0 1.0 0 1 0 -2.0 0M228.2 117.0a1.0 1.0 0 1 0 2.0 0a1.0 1.0 0 1 0 -2.0 0M230.8 117.4a1.0 1.0 0 1 0 2.0 0a1.0 1.0 0 1 0 -2.0 0M226.4 104.7a1.0 1.0 0 1 0 2.0 0a1.0 1.0 0 1 0 -2.0 0M229.5 104.1a1.0 1.0 0 1 0 2.0 0a1.0 1.0 0 1 0 -2.0 0M232.3 104.3a1.0 1.0 0 1 0 2.0 0a1.0 1.0 0 1 0 -2.0 0M226.6 102.8a1.0 1.0 0 1 0 2.0 0a1.0 1.0 0 1 0 -2.0 0M229.3 102.4a1.0 1.0 0 1 0 2.0 0a1.0 1.0 0 1 0 -2.0 0M232.3 102.8a1.0 1.0 0 1 0 2.0 0a1.0 1.0 0 1 0 -2.0 0M226.2 99.9a1.0 1.0 0 1 0 2.0 0a1.0 1.0 0 1 0 -2.0 0M229.2 100.1a1.0 1.0 0 1 0 2.0 0a1.0 1.0 0 1 0 -2.0 0M232.8 100.5a1.0 1.0 0 1 0 2.0 0a1.0 1.0 0 1 0 -2.0 0M226.7 98.6a1.0 1.0 0 1 0 2.0 0a1.0 1.0 0 1 0 -2.0 0M229.8 98.2a1.0 1.0 0 1 0 2.0 0a1.0 1.0 0 1 0 -2.0 0M232.3 98.6a1.0 1.0 0 1 0 2.0 0a1.0 1.0 0 1 0 -2.0 0M226.7 95.7a1.0 1.0 0 1 0 2.0 0a1.0 1.0 0 1 0 -2.0 0M229.6 95.9a1.0 1.0 0 1 0 2.0 0a1.0 1.0 0 1 0 -2.0 0M232.4 95.9a1.0 1.0 0 1 0 2.0 0a1.0 1.0 0 1 0 -2.0 0M230.1 92.2a1.0 1.0 0 1 0 2.0 0a1.0 1.0 0 1 0 -2.0 0M228.5 80.5a1.0 1.0 0 1 0 2.0 0a1.0 1.0 0 1 0 -2.0 0" fill="#000000"/>
<path d="M250.8 147.1a1.05 1.05 0 1 0 2.1 0a1.05 1.05 0 1 0 -2.1 0M249.7 143.9a1.05 1.05 0 1 0 2.1 0a1.05 1.05 0 1 0 -2.1 0M251.4 144.4a1.05 1.05 0 1 0 2.1 0a1.05 1.05 0 1 0 -2.1 0M249.6 142.2a1.05 1.05 0 1 0 2.1 0a1.05 1.05 0 1 0 -2.1 0M251.2 142.2a1.05 1.05 0 1 0 2.1 0a1.05 1.05 0 1 0 -2.1 0M250.4 131.6a1.05 1.05 0 1 0 2.1 0a1.05 1.05 0 1 0 -2.1 0M250.2 124.8a1.05 1.05 0 1 0 2.1 0a1.05 1.05 0 1 0 -2.1 0M248.5 121.4a1.05 1.05 0 1 0 2.1 0a1.05 1.05 0 1 0 -2.1 0M250.4 121.9a1.05 1.05 0 1 0 2.1 0a1.05 1.05 0 1 0 -2.1 0M252.8 121.4a1.05 1.05 0 1 0 2.1 0a1.05 1.05 0 1 0 -2.1 0M246.8 118.2a1.05 1.05 0 1 0 2.1 0a1.05 1.05 0 1 0 -2.1 0M249.6 118.3a1.05 1.05 0 1 0 2.1 0a1.05 1.05 0 1 0 -2.1 0M251.7 118.8a1.05 1.05 0 1 0 2.1 0a1.05 1.05 0 1 0 -2.1 0M253.6 118.3a1.05 1.05 0 1 0 2.1 0a1.05 1.05 0 1 0 -2.1 0M246.4 116.6a1.05 1.05 0 1 0 2.1 0a1.05 1.05 0 1 0 -2.1 0M248.1 116.7a1.05 1.05 0 1 0 2.1 0a1.05 1.05 0 1 0 -2.1 0M250.3 116.4a1.05 1.05 0 1 0 2.1 0a1.05 1.05 0 1 0 -2.1 0M252.3 116.7a1.05 1.05 0 1 0 2.1 0a1.05 1.05 0 1 0 -2.1 0M255.1 116.6a1.05 1.05 0 1 0 2.1 0a1.05 1.05 0 1 0 -2.1 0M246.4 114.3a1.05 1.05 0 1 0 2.1 0a1.05 1.05 0 1 0 -2.1 0M248.1 114.6a1.05 1.05 0 1 0 2.1 0a1.05 1.05 0 1 0 -2.1 0M250.8 114.9a1.05 1.05 0 1 0 2.1 0a1.05 1.05 0 1 0 -2.1 0M252.6 114.5a1.05 1.05 0 1 0 2.1 0a1.05 1.05 0 1 0 -2.1 0M254.8 114.6a1.05 1.05 0 1 0 2.1 0a1.05 1.05 0 1 0 -2.1 0M247.4 111.8a1.05 1.05 0 1 0 2.1 0a1.05 1.05 0 1 0 -2.1 0M249.6 112.2a1.05 1.05 0 1 0 2.1 0a1.05 1.05 0 1 0 -2.1 0M251.8 112.3a1.05 1.05 0 1 0 2.1 0a1.05 1.05 0 1 0 -2.1 0M253.8 111.9a1.05 1.05 0 1 0 2.1 0a1.05 1.05 0 1 0 -2.1 0M249.2 110.0a1.05 1.05 0 1 0 2.1 0a1.05 1.05 0 1 0 -2.1 0M251.7 109.8a1.05 1.05 0 1 0 2.1 0a1.05 1.05 0 1 0 -2.1 0M248.0 107.7a1.05 1.05 0 1 0 2.1 0a1.05 1.05 0 1 0 -2.1 0M250.3 107.3a1.05 1.05 0 1 0 2.1 0a1.05 1.05 0 1 0 -2.1 0M252.3 107.6a1.05 1.05 0 1 0 2.1 0a1.05 1.05 0 1 0 -2.1 0M248.1 106.0a1.05 1.05 0 1 0 2.1 0a1.05 1.05 0 1 0 -2.1 0M250.7 106.0a1.05 1.05 0 1 0 2.1 0a1.05 1.05 0 1 0 -2.1 0M252.5 105.4a1.05 1.05 0 1 0 2.1 0a1.05 1.05 0 1 0 -2.1 0M248.0 103.7a1.05 1.05 0 1 0 2.1 0a1.05 1.05 0 1 0 -2.1 0M250.6 103.7a1.05 1.05 0 1 0 2.1 0a1.05 1.05 0 1 0 -2.1 0M252.5 103.7a1.05 1.05 0 1 0 2.1 0a1.05 1.05 0 1 0 -2.1 0M248.3 101.3a1.05 1.05 0 1 0 2.1 0a1.05 1.05 0 1 0 -2.1 0M250.6 101.4a1.05 1.05 0 1 0 2.1 0a1.05 1.05 0 1 0 -2.1 0M252.8 100.9a1.05 1.05 0 1 0 2.1 0a1.05 1.05 0 1 0 -2.1 0M249.6 99.1a1.05 1.05 0 1 0 2.1 0a1.05 1.05 0 1 0 -2.1 0M251.6 99.1a1.05 1.05 0 1 0 2.1 0a1.05 1.05 0 1 0 -2.1 0M250.6 97.1a1.05 1.05 0 1 0 2.1 0a1.05 1.05 0 1 0 -2.1 0" fill="#1a9a1a"/>
<path d="M271.5 125.4a1.05 1.05 0 1 0 2.1 0a1.05 1.05 0 1 0 -2.1 0M271.4 120.0a1.05 1.05 0 1 0 2.1 0a1.05 1.05 0 1 0 -2.1 0M271.7 111.9a1.05 1.05 0 1 0 2.1 0a1.05 1.05 0 1 0 -2.1 0M268.3 110.5a1.05 1.05 0 1 0 2.1 0a1.05 1.05 0 1 0 -2.1 0M270.6 109.9a1.05 1.05 0 1 0 2.1 0a1.05 1.05 0 1 0 -2.1 0M273.0 110.2a1.05 1.05 0 1 0 2.1 0a1.05 1.05 0 1 0 -2.1 0M275.3 109.9a1.05 1.05 0 1 0 2.1 0a1.05 1.05 0 1 0 -2.1 0M269.4 108.4a1.05 1.05 0 1 0 2.1 0a1.05 1.05 0 1 0 -2.1 0M271.9 108.5a1.05 1.05 0 1 0 2.1 0a1.05 1.05 0 1 0 -2.1 0M273.5 108.1a1.05 1.05 0 1 0 2.1 0a1.05 1.05 0 1 0 -2.1 0M268.1 106.1a1.05 1.05 0 1 0 2.1 0a1.05 1.05 0 1 0 -2.1 0M270.9 106.3a1.05 1.05 0 1 0 2.1 0a1.05 1.05 0 1 0 -2.1 0M273.1 106.2a1.05 1.05 0 1 0 2.1 0a1.05 1.05 0 1 0 -2.1 0M275.2 106.3a1.05 1.05 0 1 0 2.1 0a1.05 1.05 0 1 0 -2.1 0M267.1 104.6a1.05 1.05 0 1 0 2.1 0a1.05 1.05 0 1 0 -2.1 0M269.8 104.1a1.05 1.05 0 1 0 2.1 0a1.05 1.05 0 1 0 -2.1 0M271.7 104.4a1.05 1.05 0 1 0 2.1 0a1.05 1.05 0 1 0 -2.1 0M273.7 104.3a1.05 1.05 0 1 0 2.1 0a1.05 1.05 0 1 0 -2.1 0M275.8 104.2a1.05 1.05 0 1 0 2.1 0a1.05 1.05 0 1 0 -2.1 0M267.1 102.5a1.05 1.05 0 1 0 2.1 0a1.05 1.05 0 1 0 -2.1 0M269.6 102.2a1.05 1.05 0 1 0 2.1 0a1.05 1.05 0 1 0 -2.1 0M271.3 102.3a1.05 1.05 0 1 0 2.1 0a1.05 1.05 0 1 0 -2.1 0M274.0 102.2a1.05 1.05 0 1 0 2.1 0a1.05 1.05 0 1 0 -2.1 0M275.9 102.2a1.05 1.05 0 1 0 2.1 0a1.05 1.05 0 1 0 -2.1 0M268.6 100.6a1.05 1.05 0 1 0 2.1 0a1.05 1.05 0 1 0 -2.1 0M270.2 100.2a1.05 1.05 0 1 0 2.1 0a1.05 1.05 0 1 0 -2.1 0M272.7 100.6a1.05 1.05 0 1 0 2.1 0a1.05 1.05 0 1 0 -2.1 0M275.0 100.2a1.05 1.05 0 1 0 2.1 0a1.05 1.05 0 1 0 -2.1 0M269.2 99.4a1.05 1.05 0 1 0 2.1 0a1.05 1.05 0 1 0 -2.1 0M271.6 99.1a1.05 1.05 0 1 0 2.1 0a1.05 1.05 0 1 0 -2.1 0M273.7 99.6a1.05 1.05 0 1 0 2.1 0a1.05 1.05 0 1 0 -2.1 0M270.4 96.7a1.05 1.05 0 1 0 2.1 0a1.05 1.05 0 1 0 -2.1 0M272.7 96.6a1.05 1.05 0 1 0 2.1 0a1.05 1.05 0 1 0 -2.1 0M271.9 93.2a1.05 1.05 0 1 0 2.1 0a1.05 1.05 0 1 0 -2.1 0M270.5 90.0a1.05 1.05 0 1 0 2.1 0a1.05 1.05 0 1 0 -2.1 0M272.9 90.0a1.05 1.05 0 1 0 2.1 0a1.05 1.05 0 1 0 -2.1 0" fill="#ff0000"/>
<path d="M292.6 100.8a1.05 1.05 0 1 0 2.1 0a1.05 1.05 0 1 0 -2.1 0M290.7 98.8a1.05 1.05 0 1 0 2.1 0a1.05 1.05 0 1 0 -2.1 0M292.9 98.9a1.05 1.05 0 1 0 2.1 0a1.05 1.05 0 1 0 -2.1 0M295.1 98.4a1.05 1.05 0 1 0 2.1 0a1.05 1.05 0 1 0 -2.1 0M289.3 96.7a1.05 1.05 0 1 0 2.1 0a1.05 1.05 0 1 0 -2.1 0M291.9 97.0a1.05 1.05 0 1 0 2.1 0a1.05 1.05 0 1 0 -2.1 0M293.8 96.8a1.05 1.05 0 1 0 2.1 0a1.05 1.05 0 1 0 -2.1 0M296.2 96.7a1.05 1.05 0 1 0 2.1 0a1.05 1.05 0 1 0 -2.1 0M288.3 94.6a1.05 1.05 0 1 0 2.1 0a1.05 1.05 0 1 0 -2.1 0M290.8 95.0a1.05 1.05 0 1 0 2.1 0a1.05 1.05 0 1 0 -2.1 0M292.7 94.7a1.05 1.05 0 1 0 2.1 0a1.05 1.05 0 1 0 -2.1 0M295.4 95.1a1.05 1.05 0 1 0 2.1 0a1.05 1.05 0 1 0 -2.1 0M297.1 94.5a1.05 1.05 0 1 0 2.1 0a1.05 1.05 0 1 0 -2.1 0M290.0 93.2a1.05 1.05 0 1 0 2.1 0a1.05 1.05 0 1 0 -2.1 0M291.8 92.5a1.05 1.05 0 1 0 2.1 0a1.05 1.05 0 1 0 -2.1 0M294.3 92.7a1.05 1.05 0 1 0 2.1 0a1.05 1.05 0 1 0 -2.1 0M296.5 92.9a1.05 1.05 0 1 0 2.1 0a1.05 1.05 0 1 0 -2.1 0M292.1 90.7a1.05 1.05 0 1 0 2.1 0a1.05 1.05 0 1 0 -2.1 0M294.3 90.7a1.05 1.05 0 1 0 2.1 0a1.05 1.05 0 1 0 -2.1 0M291.8 89.9a1.05 1.05 0 1 0 2.1 0a1.05 1.05 0 1 0 -2.1 0M294.3 89.4a1.05 1.05 0 1 0 2.1 0a1.05 1.05 0 1 0 -2.1 0" fill="#006400"/>
<path d="M314.8 119.7a1.05 1.05 0 1 0 2.1 0a1.05 1.05 0 1 0 -2.1 0M313.0 117.1a1.05 1.05 0 1 0 2.1 0a1.05 1.05 0 1 0 -2.1 0M314.7 110.9a1.05 1.05 0 1 0 2.1 0a1.05 1.05 0 1 0 -2.1 0M313.1 106.6a1.05 1.05 0 1 0 2.1 0a1.05 1.05 0 1 0 -2.1 0M314.6 102.8a1.05 1.05 0 1 0 2.1 0a1.05 1.05 0 1 0 -2.1 0M312.9 100.2a1.05 1.05 0 1 0 2.1 0a1.05 1.05 0 1 0 -2.1 0M315.4 100.2a1.05 1.05 0 1 0 2.1 0a1.05 1.05 0 1 0 -2.1 0M310.4 98.0a1.05 1.05 0 1 0 2.1 0a1.05 1.05 0 1 0 -2.1 0M312.8 97.8a1.05 1.05 0 1 0 2.1 0a1.05 1.05 0 1 0 -2.1 0M315.1 98.0a1.05 1.05 0 1 0 2.1 0a1.05 1.05 0 1 0 -2.1 0M317.5 98.1a1.05 1.05 0 1 0 2.1 0a1.05 1.05 0 1 0 -2.1 0M309.1 96.6a1.05 1.05 0 1 0 2.1 0a1.05 1.05 0 1 0 -2.1 0M311.2 96.8a1.05 1.05 0 1 0 2.1 0a1.05 1.05 0 1 0 -2.1 0M313.9 96.5a1.05 1.05 0 1 0 2.1 0a1.05 1.05 0 1 0 -2.1 0M316.5 96.9a1.05 1.05 0 1 0 2.1 0a1.05 1.05 0 1 0 -2.1 0M318.7 96.4a1.05 1.05 0 1 0 2.1 0a1.05 1.05 0 1 0 -2.1 0M310.3 95.1a1.05 1.05 0 1 0 2.1 0a1.05 1.05 0 1 0 -2.1 0M312.5 95.3a1.05 1.05 0 1 0 2.1 0a1.05 1.05 0 1 0 -2.1 0M314.9 95.3a1.05 1.05 0 1 0 2.1 0a1.05 1.05 0 1 0 -2.1 0M317.6 95.1a1.05 1.05 0 1 0 2.1 0a1.05 1.05 0 1 0 -2.1 0M309.2 93.8a1.05 1.05 0 1 0 2.1 0a1.05 1.05 0 1 0 -2.1 0M311.7 94.3a1.05 1.05 0 1 0 2.1 0a1.05 1.05 0 1 0 -2.1 0M314.0 93.8a1.05 1.05 0 1 0 2.1 0a1.05 1.05 0 1 0 -2.1 0M316.4 94.0a1.05 1.05 0 1 0 2.1 0a1.05 1.05 0 1 0 -2.1 0M319.1 93.8a1.05 1.05 0 1 0 2.1 0a1.05 1.05 0 1 0 -2.1 0M310.6 93.2a1.05 1.05 0 1 0 2.1 0a1.05 1.05 0 1 0 -2.1 0M312.9 93.0a1.05 1.05 0 1 0 2.1 0a1.05 1.05 0 1 0 -2.1 0M314.9 93.2a1.05 1.05 0 1 0 2.1 0a1.05 1.05 0 1 0 -2.1 0M317.5 93.1a1.05 1.05 0 1 0 2.1 0a1.05 1.05 0 1 0 -2.1 0M309.4 91.0a1.05 1.05 0 1 0 2.1 0a1.05 1.05 0 1 0 -2.1 0M311.8 91.5a1.05 1.05 0 1 0 2.1 0a1.05 1.05 0 1 0 -2.1 0M313.6 91.1a1.05 1.05 0 1 0 2.1 0a1.05 1.05 0 1 0 -2.1 0M316.5 91.0a1.05 1.05 0 1 0 2.1 0a1.05 1.05 0 1 0 -2.1 0M319.0 91.1a1.05 1.05 0 1 0 2.1 0a1.05 1.05 0 1 0 -2.1 0M310.6 89.0a1.05 1.05 0 1 0 2.1 0a1.05 1.05 0 1 0 -2.1 0M312.8 89.6a1.05 1.05 0 1 0 2.1 0a1.05 1.05 0 1 0 -2.1 0M314.9 89.1a1.05 1.05 0 1 0 2.1 0a1.05 1.05 0 1 0 -2.1 0M317.6 89.2a1.05 1.05 0 1 0 2.1 0a1.05 1.05 0 1 0 -2.1 0M308.8 87.8a1.05 1.05 0 1 0 2.1 0a1.05 1.05 0 1 0 -2.1 0M311.3 88.3a1.05 1.05 0 1 0 2.1 0a1.05 1.05 0 1 0 -2.1 0M314.1 88.3a1.05 1.05 0 1 0 2.1 0a1.05 1.05 0 1 0 -2.1 0M316.1 88.2a1.05 1.05 0 1 0 2.1 0a1.05 1.05 0 1 0 -2.1 0M318.5 88.0a1.05 1.05 0 1 0 2.1 0a1.05 1.05 0 1 0 -2.1 0M310.4 86.6a1.05 1.05 0 1 0 2.1 0a1.05 1.05 0 1 0 -2.1 0M313.0 86.8a1.05 1.05 0 1 0 2.1 0a1.05 1.05 0 1 0 -2.1 0M315.2 87.0a1.05 1.05 0 1 0 2.1 0a1.05 1.05 0 1 0 -2.1 0M317.3 87.1a1.05 1.05 0 1 0 2.1 0a1.05 1.05 0 1 0 -2.1 0M309.2 85.4a1.05 1.05 0 1 0 2.1 0a1.05 1.05 0 1 0 -2.1 0M311.8 85.3a1.05 1.05 0 1 0 2.1 0a1.05 1.05 0 1 0 -2.1 0M314.3 85.5a1.05 1.05 0 1 0 2.1 0a1.05 1.05 0 1 0 -2.1 0M316.3 85.6a1.05 1.05 0 1 0 2.1 0a1.05 1.05 0 1 0 -2.1 0M318.7 85.2a1.05 1.05 0 1 0 2.1 0a1.05 1.05 0 1 0 -2.1 0M310.5 83.8a1.05 1.05 0 1 0 2.1 0a1.05 1.05 0 1 0 -2.1 0M313.0 84.0a1.05 1.05 0 1 0 2.1 0a1.05 1.05 0 1 0 -2.1 0M315.2 84.5a1.05 1.05 0 1 0 2.1 0a1.05 1.05 0 1 0 -2.1 0M317.6 84.3a1.05 1.05 0 1 0 2.1 0a1.05 1.05 0 1 0 -2.1 0M310.2 82.2a1.05 1.05 0 1 0 2.1 0a1.05 1.05 0 1 0 -2.1 0M312.4 82.3a1.05 1.05 0 1 0 2.1 0a1.05 1.05 0 1 0 -2.1 0M315.2 82.5a1.05 1.05 0 1 0 2.1 0a1.05 1.05 0 1 0 -2.1 0M317.6 82.8a1.05 1.05 0 1 0 2.1 0a1.05 1.05 0 1 0 -2.1 0M310.1 81.1a1.05 1.05 0 1 0 2.1 0a1.05 1.05 0 1 0 -2.1 0M312.9 80.9a1.05 1.05 0 1 0 2.1 0a1.05 1.05 0 1 0 -2.1 0M314.8 81.2a1.05 1.05 0 1 0 2.1 0a1.05 1.05 0 1 0 -2.1 0M317.3 81.2a1.05 1.05 0 1 0 2.1 0a1.05 1.05 0 1 0 -2.1 0M312.6 79.7a1.05 1.05 0 1 0 2.1 0a1.05 1.05 0 1 0 -2.1 0M315.2 79.5a1.05 1.05 0 1 0 2.1 0a1.05 1.05 0 1 0 -2.1 0M313.0 77.4a1.05 1.05 0 1 0 2.1 0a1.05 1.05 0 1 0 -2.1 0" fill="#0000dd"/>
<line x1="202.5" y1="125.5" x2="216.5" y2="125.5" stroke="#2a2a2a" stroke-width="1.45"/>
<line x1="223.5" y1="120.4" x2="237.5" y2="120.4" stroke="#2a2a2a" stroke-width="1.45"/>
<line x1="244.5" y1="114.6" x2="258.5" y2="114.6" stroke="#2a2a2a" stroke-width="1.45"/>
<line x1="265.7" y1="103.7" x2="279.7" y2="103.7" stroke="#2a2a2a" stroke-width="1.45"/>
<line x1="287.0" y1="94.7" x2="301.0" y2="94.7" stroke="#2a2a2a" stroke-width="1.45"/>
<line x1="308.0" y1="90.9" x2="322.0" y2="90.9" stroke="#2a2a2a" stroke-width="1.45"/>
<text x="324.5" y="23.8" font-size="10.4" fill="#222" stroke="#222" stroke-width="0.2">C</text>
<text x="368.8" y="34.2" font-size="8.5" fill="#262626" textLength="81.7" lengthAdjust="spacingAndGlyphs" stroke="#262626" stroke-width="0.22">Tumor AML Delwel</text>
<text x="372.1" y="46.4" font-size="8.5" fill="#262626" textLength="75.5" lengthAdjust="spacingAndGlyphs" stroke="#262626" stroke-width="0.22">FAB Classification</text>
<line x1="350.5" y1="55.3" x2="350.5" y2="150.5" stroke="#767676" stroke-width="1"/>
<line x1="350.5" y1="150.5" x2="467.5" y2="150.5" stroke="#767676" stroke-width="1"/>
<line x1="348.3" y1="150.5" x2="350.5" y2="150.5" stroke="#767676" stroke-width="1"/>
<text x="345.9" y="154.1" font-size="8.6" fill="#4a4a4a" text-anchor="end" stroke="#4a4a4a" stroke-width="0.2">0</text>
<line x1="348.3" y1="118.8" x2="350.5" y2="118.8" stroke="#767676" stroke-width="1"/>
<text x="345.9" y="122.4" font-size="8.6" fill="#4a4a4a" text-anchor="end" stroke="#4a4a4a" stroke-width="0.2">5</text>
<line x1="348.3" y1="87.0" x2="350.5" y2="87.0" stroke="#767676" stroke-width="1"/>
<text x="345.9" y="90.6" font-size="8.6" fill="#4a4a4a" text-anchor="end" stroke="#4a4a4a" stroke-width="0.2">10</text>
<line x1="348.3" y1="55.3" x2="350.5" y2="55.3" stroke="#767676" stroke-width="1"/>
<text x="345.9" y="58.9" font-size="8.6" fill="#4a4a4a" text-anchor="end" stroke="#4a4a4a" stroke-width="0.2">15</text>
<line x1="357.5" y1="150.4" x2="357.5" y2="152.6" stroke="#767676" stroke-width="1"/>
<line x1="372.2" y1="150.4" x2="372.2" y2="152.6" stroke="#767676" stroke-width="1"/>
<line x1="387.0" y1="150.4" x2="387.0" y2="152.6" stroke="#767676" stroke-width="1"/>
<line x1="401.7" y1="150.4" x2="401.7" y2="152.6" stroke="#767676" stroke-width="1"/>
<line x1="416.5" y1="150.4" x2="416.5" y2="152.6" stroke="#767676" stroke-width="1"/>
<line x1="431.2" y1="150.4" x2="431.2" y2="152.6" stroke="#767676" stroke-width="1"/>
<line x1="445.9" y1="150.4" x2="445.9" y2="152.6" stroke="#767676" stroke-width="1"/>
<line x1="460.7" y1="150.4" x2="460.7" y2="152.6" stroke="#767676" stroke-width="1"/>
<line x1="358.5" y1="61.9" x2="403.2" y2="61.9" stroke="#7a7a7a" stroke-width="1.2"/>
<path d="M377.28 59.50a1.15 1.15 0 1 0 2.3 0a1.15 1.15 0 1 0 -2.3 0M380.43 59.50a1.15 1.15 0 1 0 2.3 0a1.15 1.15 0 1 0 -2.3 0" fill="#3a3a3a"/>
<line x1="358.5" y1="72.8" x2="447.8" y2="72.8" stroke="#7a7a7a" stroke-width="1.2"/>
<path d="M397.15 70.40a1.15 1.15 0 1 0 2.3 0a1.15 1.15 0 1 0 -2.3 0" fill="#3a3a3a"/>
<text x="361.5" y="162.4" font-size="9.0" fill="#404040" text-anchor="end" textLength="12" lengthAdjust="spacingAndGlyphs" transform="rotate(-45 361.5 162.4)" stroke="#404040" stroke-width="0.2">M0</text>
<text x="376.2" y="162.4" font-size="9.0" fill="#404040" text-anchor="end" textLength="12" lengthAdjust="spacingAndGlyphs" transform="rotate(-45 376.2 162.4)" stroke="#404040" stroke-width="0.2">M1</text>
<text x="391.0" y="162.4" font-size="9.0" fill="#404040" text-anchor="end" textLength="12" lengthAdjust="spacingAndGlyphs" transform="rotate(-45 391.0 162.4)" stroke="#404040" stroke-width="0.2">M2</text>
<text x="405.7" y="162.4" font-size="9.0" fill="#404040" text-anchor="end" textLength="12" lengthAdjust="spacingAndGlyphs" transform="rotate(-45 405.7 162.4)" stroke="#404040" stroke-width="0.2">M3</text>
<text x="420.5" y="162.4" font-size="9.0" fill="#404040" text-anchor="end" textLength="12" lengthAdjust="spacingAndGlyphs" transform="rotate(-45 420.5 162.4)" stroke="#404040" stroke-width="0.2">M4</text>
<text x="435.2" y="162.4" font-size="9.0" fill="#404040" text-anchor="end" textLength="17" lengthAdjust="spacingAndGlyphs" transform="rotate(-45 435.2 162.4)" stroke="#404040" stroke-width="0.2">M4e</text>
<text x="449.9" y="162.4" font-size="9.0" fill="#404040" text-anchor="end" textLength="12" lengthAdjust="spacingAndGlyphs" transform="rotate(-45 449.9 162.4)" stroke="#404040" stroke-width="0.2">M5</text>
<text x="464.7" y="162.4" font-size="9.0" fill="#404040" text-anchor="end" textLength="12" lengthAdjust="spacingAndGlyphs" transform="rotate(-45 464.7 162.4)" stroke="#404040" stroke-width="0.2">M6</text>
<path d="M356.2 150.7a1.05 1.05 0 1 0 2.1 0a1.05 1.05 0 1 0 -2.1 0M356.3 140.0a1.05 1.05 0 1 0 2.1 0a1.05 1.05 0 1 0 -2.1 0M356.2 135.3a1.05 1.05 0 1 0 2.1 0a1.05 1.05 0 1 0 -2.1 0M355.7 120.2a1.05 1.05 0 1 0 2.1 0a1.05 1.05 0 1 0 -2.1 0M357.4 119.8a1.05 1.05 0 1 0 2.1 0a1.05 1.05 0 1 0 -2.1 0M356.1 117.5a1.05 1.05 0 1 0 2.1 0a1.05 1.05 0 1 0 -2.1 0M356.5 114.2a1.05 1.05 0 1 0 2.1 0a1.05 1.05 0 1 0 -2.1 0M356.6 105.3a1.05 1.05 0 1 0 2.1 0a1.05 1.05 0 1 0 -2.1 0M355.7 98.6a1.05 1.05 0 1 0 2.1 0a1.05 1.05 0 1 0 -2.1 0M357.3 98.7a1.05 1.05 0 1 0 2.1 0a1.05 1.05 0 1 0 -2.1 0M355.1 96.5a1.05 1.05 0 1 0 2.1 0a1.05 1.05 0 1 0 -2.1 0M357.4 96.3a1.05 1.05 0 1 0 2.1 0a1.05 1.05 0 1 0 -2.1 0M354.0 92.9a1.05 1.05 0 1 0 2.1 0a1.05 1.05 0 1 0 -2.1 0M356.1 92.7a1.05 1.05 0 1 0 2.1 0a1.05 1.05 0 1 0 -2.1 0M358.9 92.5a1.05 1.05 0 1 0 2.1 0a1.05 1.05 0 1 0 -2.1 0M354.1 84.5a1.05 1.05 0 1 0 2.1 0a1.05 1.05 0 1 0 -2.1 0M356.5 84.6a1.05 1.05 0 1 0 2.1 0a1.05 1.05 0 1 0 -2.1 0M358.8 84.2a1.05 1.05 0 1 0 2.1 0a1.05 1.05 0 1 0 -2.1 0M354.2 82.4a1.05 1.05 0 1 0 2.1 0a1.05 1.05 0 1 0 -2.1 0M356.1 82.8a1.05 1.05 0 1 0 2.1 0a1.05 1.05 0 1 0 -2.1 0M358.7 82.7a1.05 1.05 0 1 0 2.1 0a1.05 1.05 0 1 0 -2.1 0" fill="#0000ff"/>
<path d="M370.0 150.2a1.05 1.05 0 1 0 2.1 0a1.05 1.05 0 1 0 -2.1 0M372.4 150.7a1.05 1.05 0 1 0 2.1 0a1.05 1.05 0 1 0 -2.1 0M368.2 148.4a1.05 1.05 0 1 0 2.1 0a1.05 1.05 0 1 0 -2.1 0M370.4 148.4a1.05 1.05 0 1 0 2.1 0a1.05 1.05 0 1 0 -2.1 0M372.1 148.8a1.05 1.05 0 1 0 2.1 0a1.05 1.05 0 1 0 -2.1 0M374.4 148.6a1.05 1.05 0 1 0 2.1 0a1.05 1.05 0 1 0 -2.1 0M368.2 146.9a1.05 1.05 0 1 0 2.1 0a1.05 1.05 0 1 0 -2.1 0M370.1 146.8a1.05 1.05 0 1 0 2.1 0a1.05 1.05 0 1 0 -2.1 0M372.4 146.8a1.05 1.05 0 1 0 2.1 0a1.05 1.05 0 1 0 -2.1 0M374.3 146.8a1.05 1.05 0 1 0 2.1 0a1.05 1.05 0 1 0 -2.1 0M368.1 144.6a1.05 1.05 0 1 0 2.1 0a1.05 1.05 0 1 0 -2.1 0M369.9 144.8a1.05 1.05 0 1 0 2.1 0a1.05 1.05 0 1 0 -2.1 0M371.9 145.0a1.05 1.05 0 1 0 2.1 0a1.05 1.05 0 1 0 -2.1 0M374.1 144.4a1.05 1.05 0 1 0 2.1 0a1.05 1.05 0 1 0 -2.1 0M369.9 143.1a1.05 1.05 0 1 0 2.1 0a1.05 1.05 0 1 0 -2.1 0M372.1 142.5a1.05 1.05 0 1 0 2.1 0a1.05 1.05 0 1 0 -2.1 0M367.7 140.6a1.05 1.05 0 1 0 2.1 0a1.05 1.05 0 1 0 -2.1 0M370.3 141.0a1.05 1.05 0 1 0 2.1 0a1.05 1.05 0 1 0 -2.1 0M372.4 141.1a1.05 1.05 0 1 0 2.1 0a1.05 1.05 0 1 0 -2.1 0M374.0 141.0a1.05 1.05 0 1 0 2.1 0a1.05 1.05 0 1 0 -2.1 0M369.0 139.2a1.05 1.05 0 1 0 2.1 0a1.05 1.05 0 1 0 -2.1 0M371.4 139.3a1.05 1.05 0 1 0 2.1 0a1.05 1.05 0 1 0 -2.1 0M373.0 139.2a1.05 1.05 0 1 0 2.1 0a1.05 1.05 0 1 0 -2.1 0M369.4 137.4a1.05 1.05 0 1 0 2.1 0a1.05 1.05 0 1 0 -2.1 0M370.9 136.9a1.05 1.05 0 1 0 2.1 0a1.05 1.05 0 1 0 -2.1 0M373.0 136.8a1.05 1.05 0 1 0 2.1 0a1.05 1.05 0 1 0 -2.1 0M370.4 135.4a1.05 1.05 0 1 0 2.1 0a1.05 1.05 0 1 0 -2.1 0M372.3 135.4a1.05 1.05 0 1 0 2.1 0a1.05 1.05 0 1 0 -2.1 0M369.2 133.1a1.05 1.05 0 1 0 2.1 0a1.05 1.05 0 1 0 -2.1 0M370.9 133.0a1.05 1.05 0 1 0 2.1 0a1.05 1.05 0 1 0 -2.1 0M373.5 133.1a1.05 1.05 0 1 0 2.1 0a1.05 1.05 0 1 0 -2.1 0M369.0 131.3a1.05 1.05 0 1 0 2.1 0a1.05 1.05 0 1 0 -2.1 0M370.9 131.2a1.05 1.05 0 1 0 2.1 0a1.05 1.05 0 1 0 -2.1 0M373.1 131.5a1.05 1.05 0 1 0 2.1 0a1.05 1.05 0 1 0 -2.1 0M370.0 129.4a1.05 1.05 0 1 0 2.1 0a1.05 1.05 0 1 0 -2.1 0M372.6 129.5a1.05 1.05 0 1 0 2.1 0a1.05 1.05 0 1 0 -2.1 0M370.4 127.7a1.05 1.05 0 1 0 2.1 0a1.05 1.05 0 1 0 -2.1 0M371.9 127.5a1.05 1.05 0 1 0 2.1 0a1.05 1.05 0 1 0 -2.1 0M369.0 125.9a1.05 1.05 0 1 0 2.1 0a1.05 1.05 0 1 0 -2.1 0M371.1 125.8a1.05 1.05 0 1 0 2.1 0a1.05 1.05 0 1 0 -2.1 0M373.3 125.5a1.05 1.05 0 1 0 2.1 0a1.05 1.05 0 1 0 -2.1 0M369.3 123.5a1.05 1.05 0 1 0 2.1 0a1.05 1.05 0 1 0 -2.1 0M371.4 123.5a1.05 1.05 0 1 0 2.1 0a1.05 1.05 0 1 0 -2.1 0M372.9 123.6a1.05 1.05 0 1 0 2.1 0a1.05 1.05 0 1 0 -2.1 0M370.3 122.2a1.05 1.05 0 1 0 2.1 0a1.05 1.05 0 1 0 -2.1 0M371.9 121.9a1.05 1.05 0 1 0 2.1 0a1.05 1.05 0 1 0 -2.1 0M369.1 120.2a1.05 1.05 0 1 0 2.1 0a1.05 1.05 0 1 0 -2.1 0M371.0 120.0a1.05 1.05 0 1 0 2.1 0a1.05 1.05 0 1 0 -2.1 0M373.2 120.2a1.05 1.05 0 1 0 2.1 0a1.05 1.05 0 1 0 -2.1 0M367.9 118.4a1.05 1.05 0 1 0 2.1 0a1.05 1.05 0 1 0 -2.1 0M370.0 117.9a1.05 1.05 0 1 0 2.1 0a1.05 1.05 0 1 0 -2.1 0M372.4 118.1a1.05 1.05 0 1 0 2.1 0a1.05 1.05 0 1 0 -2.1 0M374.1 118.2a1.05 1.05 0 1 0 2.1 0a1.05 1.05 0 1 0 -2.1 0M368.8 116.4a1.05 1.05 0 1 0 2.1 0a1.05 1.05 0 1 0 -2.1 0M371.3 116.4a1.05 1.05 0 1 0 2.1 0a1.05 1.05 0 1 0 -2.1 0M373.4 116.1a1.05 1.05 0 1 0 2.1 0a1.05 1.05 0 1 0 -2.1 0M369.0 114.2a1.05 1.05 0 1 0 2.1 0a1.05 1.05 0 1 0 -2.1 0M371.5 114.0a1.05 1.05 0 1 0 2.1 0a1.05 1.05 0 1 0 -2.1 0M373.6 113.9a1.05 1.05 0 1 0 2.1 0a1.05 1.05 0 1 0 -2.1 0M368.9 112.2a1.05 1.05 0 1 0 2.1 0a1.05 1.05 0 1 0 -2.1 0M371.5 112.4a1.05 1.05 0 1 0 2.1 0a1.05 1.05 0 1 0 -2.1 0M373.2 112.6a1.05 1.05 0 1 0 2.1 0a1.05 1.05 0 1 0 -2.1 0M370.0 110.4a1.05 1.05 0 1 0 2.1 0a1.05 1.05 0 1 0 -2.1 0M372.3 110.6a1.05 1.05 0 1 0 2.1 0a1.05 1.05 0 1 0 -2.1 0M370.3 108.7a1.05 1.05 0 1 0 2.1 0a1.05 1.05 0 1 0 -2.1 0M372.1 108.4a1.05 1.05 0 1 0 2.1 0a1.05 1.05 0 1 0 -2.1 0M368.8 106.9a1.05 1.05 0 1 0 2.1 0a1.05 1.05 0 1 0 -2.1 0M371.3 106.8a1.05 1.05 0 1 0 2.1 0a1.05 1.05 0 1 0 -2.1 0M373.1 106.6a1.05 1.05 0 1 0 2.1 0a1.05 1.05 0 1 0 -2.1 0M367.2 104.8a1.05 1.05 0 1 0 2.1 0a1.05 1.05 0 1 0 -2.1 0M368.8 104.7a1.05 1.05 0 1 0 2.1 0a1.05 1.05 0 1 0 -2.1 0M371.5 104.6a1.05 1.05 0 1 0 2.1 0a1.05 1.05 0 1 0 -2.1 0M373.1 104.6a1.05 1.05 0 1 0 2.1 0a1.05 1.05 0 1 0 -2.1 0M375.5 105.0a1.05 1.05 0 1 0 2.1 0a1.05 1.05 0 1 0 -2.1 0M366.7 102.6a1.05 1.05 0 1 0 2.1 0a1.05 1.05 0 1 0 -2.1 0M368.9 102.7a1.05 1.05 0 1 0 2.1 0a1.05 1.05 0 1 0 -2.1 0M371.2 102.6a1.05 1.05 0 1 0 2.1 0a1.05 1.05 0 1 0 -2.1 0M373.2 102.6a1.05 1.05 0 1 0 2.1 0a1.05 1.05 0 1 0 -2.1 0M375.7 103.0a1.05 1.05 0 1 0 2.1 0a1.05 1.05 0 1 0 -2.1 0M366.7 101.3a1.05 1.05 0 1 0 2.1 0a1.05 1.05 0 1 0 -2.1 0M368.8 100.9a1.05 1.05 0 1 0 2.1 0a1.05 1.05 0 1 0 -2.1 0M371.5 101.2a1.05 1.05 0 1 0 2.1 0a1.05 1.05 0 1 0 -2.1 0M373.5 100.9a1.05 1.05 0 1 0 2.1 0a1.05 1.05 0 1 0 -2.1 0M375.2 101.0a1.05 1.05 0 1 0 2.1 0a1.05 1.05 0 1 0 -2.1 0M366.7 98.8a1.05 1.05 0 1 0 2.1 0a1.05 1.05 0 1 0 -2.1 0M369.0 98.7a1.05 1.05 0 1 0 2.1 0a1.05 1.05 0 1 0 -2.1 0M371.1 99.2a1.05 1.05 0 1 0 2.1 0a1.05 1.05 0 1 0 -2.1 0M373.4 99.0a1.05 1.05 0 1 0 2.1 0a1.05 1.05 0 1 0 -2.1 0M375.5 99.0a1.05 1.05 0 1 0 2.1 0a1.05 1.05 0 1 0 -2.1 0M366.7 97.2a1.05 1.05 0 1 0 2.1 0a1.05 1.05 0 1 0 -2.1 0M369.0 97.3a1.05 1.05 0 1 0 2.1 0a1.05 1.05 0 1 0 -2.1 0M371.5 97.1a1.05 1.05 0 1 0 2.1 0a1.05 1.05 0 1 0 -2.1 0M373.3 97.3a1.05 1.05 0 1 0 2.1 0a1.05 1.05 0 1 0 -2.1 0M375.3 97.0a1.05 1.05 0 1 0 2.1 0a1.05 1.05 0 1 0 -2.1 0M367.1 95.5a1.05 1.05 0 1 0 2.1 0a1.05 1.05 0 1 0 -2.1 0M369.3 95.4a1.05 1.05 0 1 0 2.1 0a1.05 1.05 0 1 0 -2.1 0M371.4 95.4a1.05 1.05 0 1 0 2.1 0a1.05 1.05 0 1 0 -2.1 0M373.4 95.2a1.05 1.05 0 1 0 2.1 0a1.05 1.05 0 1 0 -2.1 0M375.3 95.3a1.05 1.05 0 1 0 2.1 0a1.05 1.05 0 1 0 -2.1 0M366.7 93.3a1.05 1.05 0 1 0 2.1 0a1.05 1.05 0 1 0 -2.1 0M369.3 93.5a1.05 1.05 0 1 0 2.1 0a1.05 1.05 0 1 0 -2.1 0M371.3 93.2a1.05 1.05 0 1 0 2.1 0a1.05 1.05 0 1 0 -2.1 0M373.2 93.3a1.05 1.05 0 1 0 2.1 0a1.05 1.05 0 1 0 -2.1 0M375.5 93.3a1.05 1.05 0 1 0 2.1 0a1.05 1.05 0 1 0 -2.1 0M367.1 91.7a1.05 1.05 0 1 0 2.1 0a1.05 1.05 0 1 0 -2.1 0M368.9 91.5a1.05 1.05 0 1 0 2.1 0a1.05 1.05 0 1 0 -2.1 0M371.4 91.4a1.05 1.05 0 1 0 2.1 0a1.05 1.05 0 1 0 -2.1 0M373.3 91.8a1.05 1.05 0 1 0 2.1 0a1.05 1.05 0 1 0 -2.1 0M375.1 91.5a1.05 1.05 0 1 0 2.1 0a1.05 1.05 0 1 0 -2.1 0M366.8 89.7a1.05 1.05 0 1 0 2.1 0a1.05 1.05 0 1 0 -2.1 0M369.4 89.5a1.05 1.05 0 1 0 2.1 0a1.05 1.05 0 1 0 -2.1 0M370.9 89.6a1.05 1.05 0 1 0 2.1 0a1.05 1.05 0 1 0 -2.1 0M373.3 89.7a1.05 1.05 0 1 0 2.1 0a1.05 1.05 0 1 0 -2.1 0M375.4 89.6a1.05 1.05 0 1 0 2.1 0a1.05 1.05 0 1 0 -2.1 0M367.2 87.6a1.05 1.05 0 1 0 2.1 0a1.05 1.05 0 1 0 -2.1 0M369.0 87.9a1.05 1.05 0 1 0 2.1 0a1.05 1.05 0 1 0 -2.1 0M371.0 87.8a1.05 1.05 0 1 0 2.1 0a1.05 1.05 0 1 0 -2.1 0M373.2 87.8a1.05 1.05 0 1 0 2.1 0a1.05 1.05 0 1 0 -2.1 0M375.1 88.0a1.05 1.05 0 1 0 2.1 0a1.05 1.05 0 1 0 -2.1 0" fill="#a0a0a0"/>
<path d="M382.8 150.3a1.05 1.05 0 1 0 2.1 0a1.05 1.05 0 1 0 -2.1 0M384.9 150.1a1.05 1.05 0 1 0 2.1 0a1.05 1.05 0 1 0 -2.1 0M387.2 150.3a1.05 1.05 0 1 0 2.1 0a1.05 1.05 0 1 0 -2.1 0M389.3 150.2a1.05 1.05 0 1 0 2.1 0a1.05 1.05 0 1 0 -2.1 0M383.7 148.3a1.05 1.05 0 1 0 2.1 0a1.05 1.05 0 1 0 -2.1 0M385.9 148.3a1.05 1.05 0 1 0 2.1 0a1.05 1.05 0 1 0 -2.1 0M387.7 148.7a1.05 1.05 0 1 0 2.1 0a1.05 1.05 0 1 0 -2.1 0M382.6 146.4a1.05 1.05 0 1 0 2.1 0a1.05 1.05 0 1 0 -2.1 0M384.7 146.6a1.05 1.05 0 1 0 2.1 0a1.05 1.05 0 1 0 -2.1 0M386.9 146.7a1.05 1.05 0 1 0 2.1 0a1.05 1.05 0 1 0 -2.1 0M389.2 146.5a1.05 1.05 0 1 0 2.1 0a1.05 1.05 0 1 0 -2.1 0M383.1 144.9a1.05 1.05 0 1 0 2.1 0a1.05 1.05 0 1 0 -2.1 0M384.6 144.9a1.05 1.05 0 1 0 2.1 0a1.05 1.05 0 1 0 -2.1 0M387.3 144.9a1.05 1.05 0 1 0 2.1 0a1.05 1.05 0 1 0 -2.1 0M388.8 144.9a1.05 1.05 0 1 0 2.1 0a1.05 1.05 0 1 0 -2.1 0M382.9 142.5a1.05 1.05 0 1 0 2.1 0a1.05 1.05 0 1 0 -2.1 0M384.5 143.1a1.05 1.05 0 1 0 2.1 0a1.05 1.05 0 1 0 -2.1 0M387.1 142.6a1.05 1.05 0 1 0 2.1 0a1.05 1.05 0 1 0 -2.1 0M388.8 142.5a1.05 1.05 0 1 0 2.1 0a1.05 1.05 0 1 0 -2.1 0M382.6 141.1a1.05 1.05 0 1 0 2.1 0a1.05 1.05 0 1 0 -2.1 0M384.8 140.6a1.05 1.05 0 1 0 2.1 0a1.05 1.05 0 1 0 -2.1 0M387.3 141.1a1.05 1.05 0 1 0 2.1 0a1.05 1.05 0 1 0 -2.1 0M388.8 141.2a1.05 1.05 0 1 0 2.1 0a1.05 1.05 0 1 0 -2.1 0M383.9 139.2a1.05 1.05 0 1 0 2.1 0a1.05 1.05 0 1 0 -2.1 0M386.0 139.3a1.05 1.05 0 1 0 2.1 0a1.05 1.05 0 1 0 -2.1 0M388.2 139.2a1.05 1.05 0 1 0 2.1 0a1.05 1.05 0 1 0 -2.1 0M383.6 137.2a1.05 1.05 0 1 0 2.1 0a1.05 1.05 0 1 0 -2.1 0M386.0 137.3a1.05 1.05 0 1 0 2.1 0a1.05 1.05 0 1 0 -2.1 0M388.0 137.4a1.05 1.05 0 1 0 2.1 0a1.05 1.05 0 1 0 -2.1 0M383.9 135.0a1.05 1.05 0 1 0 2.1 0a1.05 1.05 0 1 0 -2.1 0M385.7 134.9a1.05 1.05 0 1 0 2.1 0a1.05 1.05 0 1 0 -2.1 0M388.0 134.9a1.05 1.05 0 1 0 2.1 0a1.05 1.05 0 1 0 -2.1 0M382.8 133.0a1.05 1.05 0 1 0 2.1 0a1.05 1.05 0 1 0 -2.1 0M384.9 133.3a1.05 1.05 0 1 0 2.1 0a1.05 1.05 0 1 0 -2.1 0M387.0 133.5a1.05 1.05 0 1 0 2.1 0a1.05 1.05 0 1 0 -2.1 0M388.7 133.5a1.05 1.05 0 1 0 2.1 0a1.05 1.05 0 1 0 -2.1 0M382.8 131.4a1.05 1.05 0 1 0 2.1 0a1.05 1.05 0 1 0 -2.1 0M385.0 131.6a1.05 1.05 0 1 0 2.1 0a1.05 1.05 0 1 0 -2.1 0M386.9 131.3a1.05 1.05 0 1 0 2.1 0a1.05 1.05 0 1 0 -2.1 0M389.4 131.1a1.05 1.05 0 1 0 2.1 0a1.05 1.05 0 1 0 -2.1 0M382.9 129.6a1.05 1.05 0 1 0 2.1 0a1.05 1.05 0 1 0 -2.1 0M384.5 129.6a1.05 1.05 0 1 0 2.1 0a1.05 1.05 0 1 0 -2.1 0M387.1 129.8a1.05 1.05 0 1 0 2.1 0a1.05 1.05 0 1 0 -2.1 0M389.0 129.8a1.05 1.05 0 1 0 2.1 0a1.05 1.05 0 1 0 -2.1 0M381.7 127.6a1.05 1.05 0 1 0 2.1 0a1.05 1.05 0 1 0 -2.1 0M384.1 127.2a1.05 1.05 0 1 0 2.1 0a1.05 1.05 0 1 0 -2.1 0M386.1 127.7a1.05 1.05 0 1 0 2.1 0a1.05 1.05 0 1 0 -2.1 0M387.9 127.8a1.05 1.05 0 1 0 2.1 0a1.05 1.05 0 1 0 -2.1 0M390.0 127.6a1.05 1.05 0 1 0 2.1 0a1.05 1.05 0 1 0 -2.1 0M382.8 125.9a1.05 1.05 0 1 0 2.1 0a1.05 1.05 0 1 0 -2.1 0M384.7 125.6a1.05 1.05 0 1 0 2.1 0a1.05 1.05 0 1 0 -2.1 0M386.9 125.7a1.05 1.05 0 1 0 2.1 0a1.05 1.05 0 1 0 -2.1 0M389.3 125.5a1.05 1.05 0 1 0 2.1 0a1.05 1.05 0 1 0 -2.1 0M384.1 123.7a1.05 1.05 0 1 0 2.1 0a1.05 1.05 0 1 0 -2.1 0M385.9 123.6a1.05 1.05 0 1 0 2.1 0a1.05 1.05 0 1 0 -2.1 0M388.0 124.1a1.05 1.05 0 1 0 2.1 0a1.05 1.05 0 1 0 -2.1 0M383.9 122.1a1.05 1.05 0 1 0 2.1 0a1.05 1.05 0 1 0 -2.1 0M385.8 121.7a1.05 1.05 0 1 0 2.1 0a1.05 1.05 0 1 0 -2.1 0M387.9 121.9a1.05 1.05 0 1 0 2.1 0a1.05 1.05 0 1 0 -2.1 0M382.9 120.2a1.05 1.05 0 1 0 2.1 0a1.05 1.05 0 1 0 -2.1 0M384.6 120.1a1.05 1.05 0 1 0 2.1 0a1.05 1.05 0 1 0 -2.1 0M387.2 120.0a1.05 1.05 0 1 0 2.1 0a1.05 1.05 0 1 0 -2.1 0M388.8 119.8a1.05 1.05 0 1 0 2.1 0a1.05 1.05 0 1 0 -2.1 0M382.4 117.8a1.05 1.05 0 1 0 2.1 0a1.05 1.05 0 1 0 -2.1 0M385.2 118.1a1.05 1.05 0 1 0 2.1 0a1.05 1.05 0 1 0 -2.1 0M387.1 118.3a1.05 1.05 0 1 0 2.1 0a1.05 1.05 0 1 0 -2.1 0M389.4 118.1a1.05 1.05 0 1 0 2.1 0a1.05 1.05 0 1 0 -2.1 0M381.8 116.3a1.05 1.05 0 1 0 2.1 0a1.05 1.05 0 1 0 -2.1 0M384.0 116.2a1.05 1.05 0 1 0 2.1 0a1.05 1.05 0 1 0 -2.1 0M386.1 116.0a1.05 1.05 0 1 0 2.1 0a1.05 1.05 0 1 0 -2.1 0M388.1 116.1a1.05 1.05 0 1 0 2.1 0a1.05 1.05 0 1 0 -2.1 0M390.3 115.9a1.05 1.05 0 1 0 2.1 0a1.05 1.05 0 1 0 -2.1 0M383.6 113.9a1.05 1.05 0 1 0 2.1 0a1.05 1.05 0 1 0 -2.1 0M386.1 114.6a1.05 1.05 0 1 0 2.1 0a1.05 1.05 0 1 0 -2.1 0M388.1 114.2a1.05 1.05 0 1 0 2.1 0a1.05 1.05 0 1 0 -2.1 0M383.0 112.6a1.05 1.05 0 1 0 2.1 0a1.05 1.05 0 1 0 -2.1 0M384.9 112.2a1.05 1.05 0 1 0 2.1 0a1.05 1.05 0 1 0 -2.1 0M386.8 112.3a1.05 1.05 0 1 0 2.1 0a1.05 1.05 0 1 0 -2.1 0M389.0 112.3a1.05 1.05 0 1 0 2.1 0a1.05 1.05 0 1 0 -2.1 0M382.9 110.8a1.05 1.05 0 1 0 2.1 0a1.05 1.05 0 1 0 -2.1 0M384.6 110.5a1.05 1.05 0 1 0 2.1 0a1.05 1.05 0 1 0 -2.1 0M386.7 110.2a1.05 1.05 0 1 0 2.1 0a1.05 1.05 0 1 0 -2.1 0M389.3 110.5a1.05 1.05 0 1 0 2.1 0a1.05 1.05 0 1 0 -2.1 0M384.1 108.5a1.05 1.05 0 1 0 2.1 0a1.05 1.05 0 1 0 -2.1 0M385.6 108.5a1.05 1.05 0 1 0 2.1 0a1.05 1.05 0 1 0 -2.1 0M388.1 108.9a1.05 1.05 0 1 0 2.1 0a1.05 1.05 0 1 0 -2.1 0M384.2 106.6a1.05 1.05 0 1 0 2.1 0a1.05 1.05 0 1 0 -2.1 0M385.9 106.4a1.05 1.05 0 1 0 2.1 0a1.05 1.05 0 1 0 -2.1 0M388.1 106.5a1.05 1.05 0 1 0 2.1 0a1.05 1.05 0 1 0 -2.1 0M383.6 104.4a1.05 1.05 0 1 0 2.1 0a1.05 1.05 0 1 0 -2.1 0M385.6 104.9a1.05 1.05 0 1 0 2.1 0a1.05 1.05 0 1 0 -2.1 0M387.8 105.1a1.05 1.05 0 1 0 2.1 0a1.05 1.05 0 1 0 -2.1 0M383.5 103.1a1.05 1.05 0 1 0 2.1 0a1.05 1.05 0 1 0 -2.1 0M385.7 102.5a1.05 1.05 0 1 0 2.1 0a1.05 1.05 0 1 0 -2.1 0M388.2 102.7a1.05 1.05 0 1 0 2.1 0a1.05 1.05 0 1 0 -2.1 0M384.0 100.7a1.05 1.05 0 1 0 2.1 0a1.05 1.05 0 1 0 -2.1 0M385.6 101.1a1.05 1.05 0 1 0 2.1 0a1.05 1.05 0 1 0 -2.1 0M388.2 101.2a1.05 1.05 0 1 0 2.1 0a1.05 1.05 0 1 0 -2.1 0M382.9 98.8a1.05 1.05 0 1 0 2.1 0a1.05 1.05 0 1 0 -2.1 0M385.0 99.2a1.05 1.05 0 1 0 2.1 0a1.05 1.05 0 1 0 -2.1 0M387.0 99.3a1.05 1.05 0 1 0 2.1 0a1.05 1.05 0 1 0 -2.1 0M388.9 99.4a1.05 1.05 0 1 0 2.1 0a1.05 1.05 0 1 0 -2.1 0M381.9 96.8a1.05 1.05 0 1 0 2.1 0a1.05 1.05 0 1 0 -2.1 0M383.5 97.2a1.05 1.05 0 1 0 2.1 0a1.05 1.05 0 1 0 -2.1 0M386.2 96.8a1.05 1.05 0 1 0 2.1 0a1.05 1.05 0 1 0 -2.1 0M387.9 97.3a1.05 1.05 0 1 0 2.1 0a1.05 1.05 0 1 0 -2.1 0M389.9 97.4a1.05 1.05 0 1 0 2.1 0a1.05 1.05 0 1 0 -2.1 0M383.8 94.9a1.05 1.05 0 1 0 2.1 0a1.05 1.05 0 1 0 -2.1 0M385.8 95.3a1.05 1.05 0 1 0 2.1 0a1.05 1.05 0 1 0 -2.1 0M388.0 95.4a1.05 1.05 0 1 0 2.1 0a1.05 1.05 0 1 0 -2.1 0M383.6 93.5a1.05 1.05 0 1 0 2.1 0a1.05 1.05 0 1 0 -2.1 0M385.8 93.4a1.05 1.05 0 1 0 2.1 0a1.05 1.05 0 1 0 -2.1 0M388.1 93.3a1.05 1.05 0 1 0 2.1 0a1.05 1.05 0 1 0 -2.1 0M382.7 91.6a1.05 1.05 0 1 0 2.1 0a1.05 1.05 0 1 0 -2.1 0M385.2 91.6a1.05 1.05 0 1 0 2.1 0a1.05 1.05 0 1 0 -2.1 0M387.0 91.3a1.05 1.05 0 1 0 2.1 0a1.05 1.05 0 1 0 -2.1 0M388.8 91.8a1.05 1.05 0 1 0 2.1 0a1.05 1.05 0 1 0 -2.1 0M382.9 89.8a1.05 1.05 0 1 0 2.1 0a1.05 1.05 0 1 0 -2.1 0M384.8 89.6a1.05 1.05 0 1 0 2.1 0a1.05 1.05 0 1 0 -2.1 0M387.3 89.8a1.05 1.05 0 1 0 2.1 0a1.05 1.05 0 1 0 -2.1 0M389.2 89.4a1.05 1.05 0 1 0 2.1 0a1.05 1.05 0 1 0 -2.1 0" fill="#22ee22"/>
<path d="M400.6 150.7a1.05 1.05 0 1 0 2.1 0a1.05 1.05 0 1 0 -2.1 0M400.6 144.2a1.05 1.05 0 1 0 2.1 0a1.05 1.05 0 1 0 -2.1 0M397.6 142.4a1.05 1.05 0 1 0 2.1 0a1.05 1.05 0 1 0 -2.1 0M399.8 142.0a1.05 1.05 0 1 0 2.1 0a1.05 1.05 0 1 0 -2.1 0M401.4 142.0a1.05 1.05 0 1 0 2.1 0a1.05 1.05 0 1 0 -2.1 0M403.8 142.2a1.05 1.05 0 1 0 2.1 0a1.05 1.05 0 1 0 -2.1 0M400.9 137.4a1.05 1.05 0 1 0 2.1 0a1.05 1.05 0 1 0 -2.1 0M400.3 134.8a1.05 1.05 0 1 0 2.1 0a1.05 1.05 0 1 0 -2.1 0M397.7 132.0a1.05 1.05 0 1 0 2.1 0a1.05 1.05 0 1 0 -2.1 0M399.7 131.5a1.05 1.05 0 1 0 2.1 0a1.05 1.05 0 1 0 -2.1 0M402.0 131.9a1.05 1.05 0 1 0 2.1 0a1.05 1.05 0 1 0 -2.1 0M403.9 132.0a1.05 1.05 0 1 0 2.1 0a1.05 1.05 0 1 0 -2.1 0M399.5 126.7a1.05 1.05 0 1 0 2.1 0a1.05 1.05 0 1 0 -2.1 0M401.8 127.2a1.05 1.05 0 1 0 2.1 0a1.05 1.05 0 1 0 -2.1 0M398.4 124.6a1.05 1.05 0 1 0 2.1 0a1.05 1.05 0 1 0 -2.1 0M401.0 124.2a1.05 1.05 0 1 0 2.1 0a1.05 1.05 0 1 0 -2.1 0M402.8 124.5a1.05 1.05 0 1 0 2.1 0a1.05 1.05 0 1 0 -2.1 0M399.6 120.4a1.05 1.05 0 1 0 2.1 0a1.05 1.05 0 1 0 -2.1 0M401.5 120.8a1.05 1.05 0 1 0 2.1 0a1.05 1.05 0 1 0 -2.1 0M400.9 118.0a1.05 1.05 0 1 0 2.1 0a1.05 1.05 0 1 0 -2.1 0M400.4 113.2a1.05 1.05 0 1 0 2.1 0a1.05 1.05 0 1 0 -2.1 0" fill="#cc2288"/>
<path d="M413.5 150.3a1.05 1.05 0 1 0 2.1 0a1.05 1.05 0 1 0 -2.1 0M415.4 150.1a1.05 1.05 0 1 0 2.1 0a1.05 1.05 0 1 0 -2.1 0M417.5 150.1a1.05 1.05 0 1 0 2.1 0a1.05 1.05 0 1 0 -2.1 0M413.1 148.6a1.05 1.05 0 1 0 2.1 0a1.05 1.05 0 1 0 -2.1 0M415.1 148.3a1.05 1.05 0 1 0 2.1 0a1.05 1.05 0 1 0 -2.1 0M417.9 148.5a1.05 1.05 0 1 0 2.1 0a1.05 1.05 0 1 0 -2.1 0M413.3 146.4a1.05 1.05 0 1 0 2.1 0a1.05 1.05 0 1 0 -2.1 0M415.7 146.4a1.05 1.05 0 1 0 2.1 0a1.05 1.05 0 1 0 -2.1 0M417.3 146.6a1.05 1.05 0 1 0 2.1 0a1.05 1.05 0 1 0 -2.1 0M412.2 144.8a1.05 1.05 0 1 0 2.1 0a1.05 1.05 0 1 0 -2.1 0M414.1 144.9a1.05 1.05 0 1 0 2.1 0a1.05 1.05 0 1 0 -2.1 0M416.4 145.0a1.05 1.05 0 1 0 2.1 0a1.05 1.05 0 1 0 -2.1 0M418.6 144.4a1.05 1.05 0 1 0 2.1 0a1.05 1.05 0 1 0 -2.1 0M411.8 142.7a1.05 1.05 0 1 0 2.1 0a1.05 1.05 0 1 0 -2.1 0M414.5 142.8a1.05 1.05 0 1 0 2.1 0a1.05 1.05 0 1 0 -2.1 0M416.8 143.1a1.05 1.05 0 1 0 2.1 0a1.05 1.05 0 1 0 -2.1 0M419.0 142.9a1.05 1.05 0 1 0 2.1 0a1.05 1.05 0 1 0 -2.1 0M413.5 141.0a1.05 1.05 0 1 0 2.1 0a1.05 1.05 0 1 0 -2.1 0M415.1 140.8a1.05 1.05 0 1 0 2.1 0a1.05 1.05 0 1 0 -2.1 0M417.4 140.6a1.05 1.05 0 1 0 2.1 0a1.05 1.05 0 1 0 -2.1 0M412.4 139.0a1.05 1.05 0 1 0 2.1 0a1.05 1.05 0 1 0 -2.1 0M414.1 139.2a1.05 1.05 0 1 0 2.1 0a1.05 1.05 0 1 0 -2.1 0M416.4 138.8a1.05 1.05 0 1 0 2.1 0a1.05 1.05 0 1 0 -2.1 0M418.9 138.8a1.05 1.05 0 1 0 2.1 0a1.05 1.05 0 1 0 -2.1 0M413.5 137.4a1.05 1.05 0 1 0 2.1 0a1.05 1.05 0 1 0 -2.1 0M415.1 137.1a1.05 1.05 0 1 0 2.1 0a1.05 1.05 0 1 0 -2.1 0M417.3 137.4a1.05 1.05 0 1 0 2.1 0a1.05 1.05 0 1 0 -2.1 0M413.0 135.2a1.05 1.05 0 1 0 2.1 0a1.05 1.05 0 1 0 -2.1 0M415.6 135.4a1.05 1.05 0 1 0 2.1 0a1.05 1.05 0 1 0 -2.1 0M417.6 134.9a1.05 1.05 0 1 0 2.1 0a1.05 1.05 0 1 0 -2.1 0M412.0 132.9a1.05 1.05 0 1 0 2.1 0a1.05 1.05 0 1 0 -2.1 0M414.1 133.5a1.05 1.05 0 1 0 2.1 0a1.05 1.05 0 1 0 -2.1 0M416.6 133.2a1.05 1.05 0 1 0 2.1 0a1.05 1.05 0 1 0 -2.1 0M418.8 133.3a1.05 1.05 0 1 0 2.1 0a1.05 1.05 0 1 0 -2.1 0M412.0 131.3a1.05 1.05 0 1 0 2.1 0a1.05 1.05 0 1 0 -2.1 0M414.2 131.3a1.05 1.05 0 1 0 2.1 0a1.05 1.05 0 1 0 -2.1 0M416.5 131.6a1.05 1.05 0 1 0 2.1 0a1.05 1.05 0 1 0 -2.1 0M419.0 131.7a1.05 1.05 0 1 0 2.1 0a1.05 1.05 0 1 0 -2.1 0M413.2 129.8a1.05 1.05 0 1 0 2.1 0a1.05 1.05 0 1 0 -2.1 0M415.6 129.2a1.05 1.05 0 1 0 2.1 0a1.05 1.05 0 1 0 -2.1 0M417.8 129.2a1.05 1.05 0 1 0 2.1 0a1.05 1.05 0 1 0 -2.1 0M413.3 127.5a1.05 1.05 0 1 0 2.1 0a1.05 1.05 0 1 0 -2.1 0M415.6 127.8a1.05 1.05 0 1 0 2.1 0a1.05 1.05 0 1 0 -2.1 0M417.9 127.9a1.05 1.05 0 1 0 2.1 0a1.05 1.05 0 1 0 -2.1 0M413.1 125.3a1.05 1.05 0 1 0 2.1 0a1.05 1.05 0 1 0 -2.1 0M415.1 126.0a1.05 1.05 0 1 0 2.1 0a1.05 1.05 0 1 0 -2.1 0M417.5 125.5a1.05 1.05 0 1 0 2.1 0a1.05 1.05 0 1 0 -2.1 0M412.9 123.7a1.05 1.05 0 1 0 2.1 0a1.05 1.05 0 1 0 -2.1 0M415.3 123.9a1.05 1.05 0 1 0 2.1 0a1.05 1.05 0 1 0 -2.1 0M417.4 123.7a1.05 1.05 0 1 0 2.1 0a1.05 1.05 0 1 0 -2.1 0M413.5 121.8a1.05 1.05 0 1 0 2.1 0a1.05 1.05 0 1 0 -2.1 0M415.2 121.8a1.05 1.05 0 1 0 2.1 0a1.05 1.05 0 1 0 -2.1 0M417.4 121.5a1.05 1.05 0 1 0 2.1 0a1.05 1.05 0 1 0 -2.1 0M413.3 119.8a1.05 1.05 0 1 0 2.1 0a1.05 1.05 0 1 0 -2.1 0M415.6 119.8a1.05 1.05 0 1 0 2.1 0a1.05 1.05 0 1 0 -2.1 0M417.3 119.9a1.05 1.05 0 1 0 2.1 0a1.05 1.05 0 1 0 -2.1 0M412.1 117.8a1.05 1.05 0 1 0 2.1 0a1.05 1.05 0 1 0 -2.1 0M414.3 118.2a1.05 1.05 0 1 0 2.1 0a1.05 1.05 0 1 0 -2.1 0M416.7 118.4a1.05 1.05 0 1 0 2.1 0a1.05 1.05 0 1 0 -2.1 0M418.8 118.3a1.05 1.05 0 1 0 2.1 0a1.05 1.05 0 1 0 -2.1 0M411.8 116.3a1.05 1.05 0 1 0 2.1 0a1.05 1.05 0 1 0 -2.1 0M414.6 116.1a1.05 1.05 0 1 0 2.1 0a1.05 1.05 0 1 0 -2.1 0M416.3 116.0a1.05 1.05 0 1 0 2.1 0a1.05 1.05 0 1 0 -2.1 0M418.5 116.1a1.05 1.05 0 1 0 2.1 0a1.05 1.05 0 1 0 -2.1 0M412.1 114.0a1.05 1.05 0 1 0 2.1 0a1.05 1.05 0 1 0 -2.1 0M414.5 114.6a1.05 1.05 0 1 0 2.1 0a1.05 1.05 0 1 0 -2.1 0M416.3 114.4a1.05 1.05 0 1 0 2.1 0a1.05 1.05 0 1 0 -2.1 0M418.7 114.3a1.05 1.05 0 1 0 2.1 0a1.05 1.05 0 1 0 -2.1 0M411.2 112.3a1.05 1.05 0 1 0 2.1 0a1.05 1.05 0 1 0 -2.1 0M413.5 112.7a1.05 1.05 0 1 0 2.1 0a1.05 1.05 0 1 0 -2.1 0M415.3 112.3a1.05 1.05 0 1 0 2.1 0a1.05 1.05 0 1 0 -2.1 0M417.2 112.3a1.05 1.05 0 1 0 2.1 0a1.05 1.05 0 1 0 -2.1 0M419.5 112.1a1.05 1.05 0 1 0 2.1 0a1.05 1.05 0 1 0 -2.1 0M411.4 110.5a1.05 1.05 0 1 0 2.1 0a1.05 1.05 0 1 0 -2.1 0M413.1 110.2a1.05 1.05 0 1 0 2.1 0a1.05 1.05 0 1 0 -2.1 0M415.5 110.7a1.05 1.05 0 1 0 2.1 0a1.05 1.05 0 1 0 -2.1 0M417.8 110.6a1.05 1.05 0 1 0 2.1 0a1.05 1.05 0 1 0 -2.1 0M419.8 110.2a1.05 1.05 0 1 0 2.1 0a1.05 1.05 0 1 0 -2.1 0M411.9 108.7a1.05 1.05 0 1 0 2.1 0a1.05 1.05 0 1 0 -2.1 0M414.4 108.3a1.05 1.05 0 1 0 2.1 0a1.05 1.05 0 1 0 -2.1 0M416.4 108.2a1.05 1.05 0 1 0 2.1 0a1.05 1.05 0 1 0 -2.1 0M418.8 108.6a1.05 1.05 0 1 0 2.1 0a1.05 1.05 0 1 0 -2.1 0M412.3 106.9a1.05 1.05 0 1 0 2.1 0a1.05 1.05 0 1 0 -2.1 0M414.3 106.5a1.05 1.05 0 1 0 2.1 0a1.05 1.05 0 1 0 -2.1 0M416.4 106.8a1.05 1.05 0 1 0 2.1 0a1.05 1.05 0 1 0 -2.1 0M419.0 106.4a1.05 1.05 0 1 0 2.1 0a1.05 1.05 0 1 0 -2.1 0M411.1 104.9a1.05 1.05 0 1 0 2.1 0a1.05 1.05 0 1 0 -2.1 0M413.0 104.9a1.05 1.05 0 1 0 2.1 0a1.05 1.05 0 1 0 -2.1 0M415.2 104.8a1.05 1.05 0 1 0 2.1 0a1.05 1.05 0 1 0 -2.1 0M417.9 104.4a1.05 1.05 0 1 0 2.1 0a1.05 1.05 0 1 0 -2.1 0M419.8 104.8a1.05 1.05 0 1 0 2.1 0a1.05 1.05 0 1 0 -2.1 0M412.4 102.7a1.05 1.05 0 1 0 2.1 0a1.05 1.05 0 1 0 -2.1 0M414.6 103.2a1.05 1.05 0 1 0 2.1 0a1.05 1.05 0 1 0 -2.1 0M416.2 102.7a1.05 1.05 0 1 0 2.1 0a1.05 1.05 0 1 0 -2.1 0M418.5 103.1a1.05 1.05 0 1 0 2.1 0a1.05 1.05 0 1 0 -2.1 0M412.4 101.1a1.05 1.05 0 1 0 2.1 0a1.05 1.05 0 1 0 -2.1 0M414.6 101.0a1.05 1.05 0 1 0 2.1 0a1.05 1.05 0 1 0 -2.1 0M416.8 100.8a1.05 1.05 0 1 0 2.1 0a1.05 1.05 0 1 0 -2.1 0M418.4 101.1a1.05 1.05 0 1 0 2.1 0a1.05 1.05 0 1 0 -2.1 0M412.1 98.7a1.05 1.05 0 1 0 2.1 0a1.05 1.05 0 1 0 -2.1 0M414.5 98.8a1.05 1.05 0 1 0 2.1 0a1.05 1.05 0 1 0 -2.1 0M416.3 98.8a1.05 1.05 0 1 0 2.1 0a1.05 1.05 0 1 0 -2.1 0M418.8 98.8a1.05 1.05 0 1 0 2.1 0a1.05 1.05 0 1 0 -2.1 0M412.0 97.2a1.05 1.05 0 1 0 2.1 0a1.05 1.05 0 1 0 -2.1 0M414.6 96.8a1.05 1.05 0 1 0 2.1 0a1.05 1.05 0 1 0 -2.1 0M416.8 97.3a1.05 1.05 0 1 0 2.1 0a1.05 1.05 0 1 0 -2.1 0M418.5 97.4a1.05 1.05 0 1 0 2.1 0a1.05 1.05 0 1 0 -2.1 0M412.2 95.2a1.05 1.05 0 1 0 2.1 0a1.05 1.05 0 1 0 -2.1 0M414.1 95.2a1.05 1.05 0 1 0 2.1 0a1.05 1.05 0 1 0 -2.1 0M416.4 95.0a1.05 1.05 0 1 0 2.1 0a1.05 1.05 0 1 0 -2.1 0M418.5 95.1a1.05 1.05 0 1 0 2.1 0a1.05 1.05 0 1 0 -2.1 0M414.3 92.8a1.05 1.05 0 1 0 2.1 0a1.05 1.05 0 1 0 -2.1 0M416.7 92.4a1.05 1.05 0 1 0 2.1 0a1.05 1.05 0 1 0 -2.1 0M415.1 89.8a1.05 1.05 0 1 0 2.1 0a1.05 1.05 0 1 0 -2.1 0M415.4 86.2a1.05 1.05 0 1 0 2.1 0a1.05 1.05 0 1 0 -2.1 0" fill="#ff1010"/>
<path d="M430.0 120.7a1.05 1.05 0 1 0 2.1 0a1.05 1.05 0 1 0 -2.1 0M430.1 119.3a1.05 1.05 0 1 0 2.1 0a1.05 1.05 0 1 0 -2.1 0M430.5 112.0a1.05 1.05 0 1 0 2.1 0a1.05 1.05 0 1 0 -2.1 0M429.2 110.6a1.05 1.05 0 1 0 2.1 0a1.05 1.05 0 1 0 -2.1 0M431.3 110.5a1.05 1.05 0 1 0 2.1 0a1.05 1.05 0 1 0 -2.1 0M429.8 108.9a1.05 1.05 0 1 0 2.1 0a1.05 1.05 0 1 0 -2.1 0M429.8 106.6a1.05 1.05 0 1 0 2.1 0a1.05 1.05 0 1 0 -2.1 0" fill="#33e8b0"/>
<path d="M441.8 150.7a1.05 1.05 0 1 0 2.1 0a1.05 1.05 0 1 0 -2.1 0M443.9 150.6a1.05 1.05 0 1 0 2.1 0a1.05 1.05 0 1 0 -2.1 0M446.3 150.7a1.05 1.05 0 1 0 2.1 0a1.05 1.05 0 1 0 -2.1 0M447.9 150.5a1.05 1.05 0 1 0 2.1 0a1.05 1.05 0 1 0 -2.1 0M441.4 148.6a1.05 1.05 0 1 0 2.1 0a1.05 1.05 0 1 0 -2.1 0M443.6 148.5a1.05 1.05 0 1 0 2.1 0a1.05 1.05 0 1 0 -2.1 0M446.3 148.6a1.05 1.05 0 1 0 2.1 0a1.05 1.05 0 1 0 -2.1 0M448.0 148.5a1.05 1.05 0 1 0 2.1 0a1.05 1.05 0 1 0 -2.1 0M441.5 146.9a1.05 1.05 0 1 0 2.1 0a1.05 1.05 0 1 0 -2.1 0M443.6 146.5a1.05 1.05 0 1 0 2.1 0a1.05 1.05 0 1 0 -2.1 0M446.1 146.3a1.05 1.05 0 1 0 2.1 0a1.05 1.05 0 1 0 -2.1 0M448.3 146.9a1.05 1.05 0 1 0 2.1 0a1.05 1.05 0 1 0 -2.1 0M440.6 144.5a1.05 1.05 0 1 0 2.1 0a1.05 1.05 0 1 0 -2.1 0M442.7 144.7a1.05 1.05 0 1 0 2.1 0a1.05 1.05 0 1 0 -2.1 0M444.6 144.4a1.05 1.05 0 1 0 2.1 0a1.05 1.05 0 1 0 -2.1 0M446.8 144.5a1.05 1.05 0 1 0 2.1 0a1.05 1.05 0 1 0 -2.1 0M449.1 144.5a1.05 1.05 0 1 0 2.1 0a1.05 1.05 0 1 0 -2.1 0M441.4 142.5a1.05 1.05 0 1 0 2.1 0a1.05 1.05 0 1 0 -2.1 0M443.8 143.0a1.05 1.05 0 1 0 2.1 0a1.05 1.05 0 1 0 -2.1 0M446.1 142.8a1.05 1.05 0 1 0 2.1 0a1.05 1.05 0 1 0 -2.1 0M448.3 142.6a1.05 1.05 0 1 0 2.1 0a1.05 1.05 0 1 0 -2.1 0M440.8 140.9a1.05 1.05 0 1 0 2.1 0a1.05 1.05 0 1 0 -2.1 0M442.8 141.0a1.05 1.05 0 1 0 2.1 0a1.05 1.05 0 1 0 -2.1 0M444.9 140.8a1.05 1.05 0 1 0 2.1 0a1.05 1.05 0 1 0 -2.1 0M446.8 140.7a1.05 1.05 0 1 0 2.1 0a1.05 1.05 0 1 0 -2.1 0M449.1 140.8a1.05 1.05 0 1 0 2.1 0a1.05 1.05 0 1 0 -2.1 0M441.6 138.6a1.05 1.05 0 1 0 2.1 0a1.05 1.05 0 1 0 -2.1 0M443.7 139.2a1.05 1.05 0 1 0 2.1 0a1.05 1.05 0 1 0 -2.1 0M445.8 139.0a1.05 1.05 0 1 0 2.1 0a1.05 1.05 0 1 0 -2.1 0M448.2 138.8a1.05 1.05 0 1 0 2.1 0a1.05 1.05 0 1 0 -2.1 0M441.9 136.9a1.05 1.05 0 1 0 2.1 0a1.05 1.05 0 1 0 -2.1 0M444.0 136.8a1.05 1.05 0 1 0 2.1 0a1.05 1.05 0 1 0 -2.1 0M445.7 137.3a1.05 1.05 0 1 0 2.1 0a1.05 1.05 0 1 0 -2.1 0M448.1 136.8a1.05 1.05 0 1 0 2.1 0a1.05 1.05 0 1 0 -2.1 0M440.6 135.1a1.05 1.05 0 1 0 2.1 0a1.05 1.05 0 1 0 -2.1 0M442.9 134.9a1.05 1.05 0 1 0 2.1 0a1.05 1.05 0 1 0 -2.1 0M444.7 135.5a1.05 1.05 0 1 0 2.1 0a1.05 1.05 0 1 0 -2.1 0M447.2 134.9a1.05 1.05 0 1 0 2.1 0a1.05 1.05 0 1 0 -2.1 0M449.0 135.1a1.05 1.05 0 1 0 2.1 0a1.05 1.05 0 1 0 -2.1 0M441.7 133.4a1.05 1.05 0 1 0 2.1 0a1.05 1.05 0 1 0 -2.1 0M444.0 133.5a1.05 1.05 0 1 0 2.1 0a1.05 1.05 0 1 0 -2.1 0M446.0 133.4a1.05 1.05 0 1 0 2.1 0a1.05 1.05 0 1 0 -2.1 0M448.4 133.5a1.05 1.05 0 1 0 2.1 0a1.05 1.05 0 1 0 -2.1 0M441.6 131.6a1.05 1.05 0 1 0 2.1 0a1.05 1.05 0 1 0 -2.1 0M443.9 131.7a1.05 1.05 0 1 0 2.1 0a1.05 1.05 0 1 0 -2.1 0M445.7 131.6a1.05 1.05 0 1 0 2.1 0a1.05 1.05 0 1 0 -2.1 0M447.8 131.6a1.05 1.05 0 1 0 2.1 0a1.05 1.05 0 1 0 -2.1 0M440.7 129.5a1.05 1.05 0 1 0 2.1 0a1.05 1.05 0 1 0 -2.1 0M443.1 129.5a1.05 1.05 0 1 0 2.1 0a1.05 1.05 0 1 0 -2.1 0M444.8 129.7a1.05 1.05 0 1 0 2.1 0a1.05 1.05 0 1 0 -2.1 0M447.3 129.6a1.05 1.05 0 1 0 2.1 0a1.05 1.05 0 1 0 -2.1 0M449.1 129.4a1.05 1.05 0 1 0 2.1 0a1.05 1.05 0 1 0 -2.1 0M441.6 127.7a1.05 1.05 0 1 0 2.1 0a1.05 1.05 0 1 0 -2.1 0M443.6 127.5a1.05 1.05 0 1 0 2.1 0a1.05 1.05 0 1 0 -2.1 0M446.0 127.5a1.05 1.05 0 1 0 2.1 0a1.05 1.05 0 1 0 -2.1 0M448.1 127.8a1.05 1.05 0 1 0 2.1 0a1.05 1.05 0 1 0 -2.1 0M440.9 125.7a1.05 1.05 0 1 0 2.1 0a1.05 1.05 0 1 0 -2.1 0M442.7 125.5a1.05 1.05 0 1 0 2.1 0a1.05 1.05 0 1 0 -2.1 0M444.8 125.4a1.05 1.05 0 1 0 2.1 0a1.05 1.05 0 1 0 -2.1 0M447.1 125.7a1.05 1.05 0 1 0 2.1 0a1.05 1.05 0 1 0 -2.1 0M448.9 126.0a1.05 1.05 0 1 0 2.1 0a1.05 1.05 0 1 0 -2.1 0M444.8 122.7a1.05 1.05 0 1 0 2.1 0a1.05 1.05 0 1 0 -2.1 0M445.1 116.5a1.05 1.05 0 1 0 2.1 0a1.05 1.05 0 1 0 -2.1 0M442.5 112.9a1.05 1.05 0 1 0 2.1 0a1.05 1.05 0 1 0 -2.1 0M445.2 112.7a1.05 1.05 0 1 0 2.1 0a1.05 1.05 0 1 0 -2.1 0M446.8 113.0a1.05 1.05 0 1 0 2.1 0a1.05 1.05 0 1 0 -2.1 0M442.7 111.3a1.05 1.05 0 1 0 2.1 0a1.05 1.05 0 1 0 -2.1 0M445.1 111.0a1.05 1.05 0 1 0 2.1 0a1.05 1.05 0 1 0 -2.1 0M447.4 111.0a1.05 1.05 0 1 0 2.1 0a1.05 1.05 0 1 0 -2.1 0M441.6 109.1a1.05 1.05 0 1 0 2.1 0a1.05 1.05 0 1 0 -2.1 0M443.7 108.8a1.05 1.05 0 1 0 2.1 0a1.05 1.05 0 1 0 -2.1 0M446.1 108.8a1.05 1.05 0 1 0 2.1 0a1.05 1.05 0 1 0 -2.1 0M448.5 109.1a1.05 1.05 0 1 0 2.1 0a1.05 1.05 0 1 0 -2.1 0M443.8 106.6a1.05 1.05 0 1 0 2.1 0a1.05 1.05 0 1 0 -2.1 0M445.9 106.8a1.05 1.05 0 1 0 2.1 0a1.05 1.05 0 1 0 -2.1 0M442.7 104.9a1.05 1.05 0 1 0 2.1 0a1.05 1.05 0 1 0 -2.1 0M445.2 105.2a1.05 1.05 0 1 0 2.1 0a1.05 1.05 0 1 0 -2.1 0M447.1 104.8a1.05 1.05 0 1 0 2.1 0a1.05 1.05 0 1 0 -2.1 0M443.9 103.2a1.05 1.05 0 1 0 2.1 0a1.05 1.05 0 1 0 -2.1 0M445.9 102.9a1.05 1.05 0 1 0 2.1 0a1.05 1.05 0 1 0 -2.1 0M442.9 100.6a1.05 1.05 0 1 0 2.1 0a1.05 1.05 0 1 0 -2.1 0M444.8 101.2a1.05 1.05 0 1 0 2.1 0a1.05 1.05 0 1 0 -2.1 0M447.3 100.8a1.05 1.05 0 1 0 2.1 0a1.05 1.05 0 1 0 -2.1 0M443.5 99.1a1.05 1.05 0 1 0 2.1 0a1.05 1.05 0 1 0 -2.1 0M446.1 99.0a1.05 1.05 0 1 0 2.1 0a1.05 1.05 0 1 0 -2.1 0M443.0 97.0a1.05 1.05 0 1 0 2.1 0a1.05 1.05 0 1 0 -2.1 0M444.8 96.5a1.05 1.05 0 1 0 2.1 0a1.05 1.05 0 1 0 -2.1 0M446.9 96.8a1.05 1.05 0 1 0 2.1 0a1.05 1.05 0 1 0 -2.1 0M441.6 94.5a1.05 1.05 0 1 0 2.1 0a1.05 1.05 0 1 0 -2.1 0M443.6 94.8a1.05 1.05 0 1 0 2.1 0a1.05 1.05 0 1 0 -2.1 0M446.1 94.6a1.05 1.05 0 1 0 2.1 0a1.05 1.05 0 1 0 -2.1 0M448.5 94.8a1.05 1.05 0 1 0 2.1 0a1.05 1.05 0 1 0 -2.1 0M442.4 92.6a1.05 1.05 0 1 0 2.1 0a1.05 1.05 0 1 0 -2.1 0M445.1 92.6a1.05 1.05 0 1 0 2.1 0a1.05 1.05 0 1 0 -2.1 0M447.2 92.4a1.05 1.05 0 1 0 2.1 0a1.05 1.05 0 1 0 -2.1 0M443.7 90.9a1.05 1.05 0 1 0 2.1 0a1.05 1.05 0 1 0 -2.1 0M446.1 90.8a1.05 1.05 0 1 0 2.1 0a1.05 1.05 0 1 0 -2.1 0M442.5 88.6a1.05 1.05 0 1 0 2.1 0a1.05 1.05 0 1 0 -2.1 0M444.9 88.5a1.05 1.05 0 1 0 2.1 0a1.05 1.05 0 1 0 -2.1 0M447.2 88.7a1.05 1.05 0 1 0 2.1 0a1.05 1.05 0 1 0 -2.1 0M443.0 86.7a1.05 1.05 0 1 0 2.1 0a1.05 1.05 0 1 0 -2.1 0M444.8 86.4a1.05 1.05 0 1 0 2.1 0a1.05 1.05 0 1 0 -2.1 0M446.8 86.8a1.05 1.05 0 1 0 2.1 0a1.05 1.05 0 1 0 -2.1 0M441.3 84.3a1.05 1.05 0 1 0 2.1 0a1.05 1.05 0 1 0 -2.1 0M443.6 84.6a1.05 1.05 0 1 0 2.1 0a1.05 1.05 0 1 0 -2.1 0M446.2 84.7a1.05 1.05 0 1 0 2.1 0a1.05 1.05 0 1 0 -2.1 0M448.4 84.3a1.05 1.05 0 1 0 2.1 0a1.05 1.05 0 1 0 -2.1 0M441.2 82.8a1.05 1.05 0 1 0 2.1 0a1.05 1.05 0 1 0 -2.1 0M443.7 82.7a1.05 1.05 0 1 0 2.1 0a1.05 1.05 0 1 0 -2.1 0M445.9 82.3a1.05 1.05 0 1 0 2.1 0a1.05 1.05 0 1 0 -2.1 0M448.0 82.3a1.05 1.05 0 1 0 2.1 0a1.05 1.05 0 1 0 -2.1 0" fill="#22ee22"/>
<path d="M459.9 147.3a1.05 1.05 0 1 0 2.1 0a1.05 1.05 0 1 0 -2.1 0M459.5 140.2a1.05 1.05 0 1 0 2.1 0a1.05 1.05 0 1 0 -2.1 0M458.5 129.8a1.05 1.05 0 1 0 2.1 0a1.05 1.05 0 1 0 -2.1 0M461.0 130.2a1.05 1.05 0 1 0 2.1 0a1.05 1.05 0 1 0 -2.1 0M460.0 119.3a1.05 1.05 0 1 0 2.1 0a1.05 1.05 0 1 0 -2.1 0M459.7 101.4a1.05 1.05 0 1 0 2.1 0a1.05 1.05 0 1 0 -2.1 0" fill="#b89a5a"/>
<line x1="352.5" y1="106.0" x2="362.5" y2="106.0" stroke="#2a2a2a" stroke-width="1.45"/>
<line x1="367.2" y1="115.5" x2="377.2" y2="115.5" stroke="#2a2a2a" stroke-width="1.45"/>
<line x1="382.0" y1="116.8" x2="392.0" y2="116.8" stroke="#2a2a2a" stroke-width="1.45"/>
<line x1="396.7" y1="131.7" x2="406.7" y2="131.7" stroke="#2a2a2a" stroke-width="1.45"/>
<line x1="411.5" y1="118.7" x2="421.5" y2="118.7" stroke="#2a2a2a" stroke-width="1.45"/>
<line x1="426.2" y1="113.6" x2="436.2" y2="113.6" stroke="#2a2a2a" stroke-width="1.45"/>
<line x1="440.9" y1="126.3" x2="450.9" y2="126.3" stroke="#2a2a2a" stroke-width="1.45"/>
<line x1="455.7" y1="128.2" x2="465.7" y2="128.2" stroke="#2a2a2a" stroke-width="1.45"/>
<text x="12.0" y="265.7" font-size="10.2" fill="#222" font-weight="bold">D</text>
<text x="81.7" y="271.7" font-size="8.2" fill="#262626" textLength="36.8" lengthAdjust="spacingAndGlyphs" stroke="#262626" stroke-width="0.22">FLT3-ITD</text>
<text x="81.7" y="285.0" font-size="8.2" fill="#262626" textLength="40.3" lengthAdjust="spacingAndGlyphs" stroke="#262626" stroke-width="0.22">FLT3-TKD</text>
<line x1="42.5" y1="285.8" x2="42.5" y2="374.5" stroke="#767676" stroke-width="1"/>
<line x1="42.5" y1="374.5" x2="159.3" y2="374.5" stroke="#767676" stroke-width="1"/>
<line x1="40.3" y1="374.5" x2="42.5" y2="374.5" stroke="#767676" stroke-width="1"/>
<text x="37.9" y="378.1" font-size="8.6" fill="#4a4a4a" text-anchor="end" stroke="#4a4a4a" stroke-width="0.2">0</text>
<line x1="40.3" y1="344.9" x2="42.5" y2="344.9" stroke="#767676" stroke-width="1"/>
<text x="37.9" y="348.5" font-size="8.6" fill="#4a4a4a" text-anchor="end" stroke="#4a4a4a" stroke-width="0.2">5</text>
<line x1="40.3" y1="315.4" x2="42.5" y2="315.4" stroke="#767676" stroke-width="1"/>
<text x="37.9" y="319.0" font-size="8.6" fill="#4a4a4a" text-anchor="end" stroke="#4a4a4a" stroke-width="0.2">10</text>
<line x1="40.3" y1="285.8" x2="42.5" y2="285.8" stroke="#767676" stroke-width="1"/>
<text x="37.9" y="289.4" font-size="8.6" fill="#4a4a4a" text-anchor="end" stroke="#4a4a4a" stroke-width="0.2">15</text>
<text x="23.2" y="328.2" font-size="8.2" fill="#4a4a4a" text-anchor="middle" textLength="43.5" lengthAdjust="spacingAndGlyphs" transform="rotate(-90 23.2 328.2)">log2 ZNF521</text>
<line x1="62.3" y1="374.5" x2="62.3" y2="376.7" stroke="#767676" stroke-width="1"/>
<line x1="101.2" y1="374.5" x2="101.2" y2="376.7" stroke="#767676" stroke-width="1"/>
<line x1="140.5" y1="374.5" x2="140.5" y2="376.7" stroke="#767676" stroke-width="1"/>
<path d="M51.9 374.4a1.0 1.0 0 1 0 2.0 0a1.0 1.0 0 1 0 -2.0 0M54.0 374.4a1.0 1.0 0 1 0 2.0 0a1.0 1.0 0 1 0 -2.0 0M56.2 374.5a1.0 1.0 0 1 0 2.0 0a1.0 1.0 0 1 0 -2.0 0M57.9 374.4a1.0 1.0 0 1 0 2.0 0a1.0 1.0 0 1 0 -2.0 0M60.1 374.4a1.0 1.0 0 1 0 2.0 0a1.0 1.0 0 1 0 -2.0 0M62.4 374.7a1.0 1.0 0 1 0 2.0 0a1.0 1.0 0 1 0 -2.0 0M64.3 374.4a1.0 1.0 0 1 0 2.0 0a1.0 1.0 0 1 0 -2.0 0M66.9 374.4a1.0 1.0 0 1 0 2.0 0a1.0 1.0 0 1 0 -2.0 0M68.6 374.5a1.0 1.0 0 1 0 2.0 0a1.0 1.0 0 1 0 -2.0 0M70.9 374.2a1.0 1.0 0 1 0 2.0 0a1.0 1.0 0 1 0 -2.0 0M73.3 374.4a1.0 1.0 0 1 0 2.0 0a1.0 1.0 0 1 0 -2.0 0M49.3 372.6a1.0 1.0 0 1 0 2.0 0a1.0 1.0 0 1 0 -2.0 0M51.4 372.8a1.0 1.0 0 1 0 2.0 0a1.0 1.0 0 1 0 -2.0 0M53.6 372.8a1.0 1.0 0 1 0 2.0 0a1.0 1.0 0 1 0 -2.0 0M58.3 372.5a1.0 1.0 0 1 0 2.0 0a1.0 1.0 0 1 0 -2.0 0M60.4 372.9a1.0 1.0 0 1 0 2.0 0a1.0 1.0 0 1 0 -2.0 0M62.3 372.9a1.0 1.0 0 1 0 2.0 0a1.0 1.0 0 1 0 -2.0 0M64.8 372.6a1.0 1.0 0 1 0 2.0 0a1.0 1.0 0 1 0 -2.0 0M66.7 372.6a1.0 1.0 0 1 0 2.0 0a1.0 1.0 0 1 0 -2.0 0M68.6 372.8a1.0 1.0 0 1 0 2.0 0a1.0 1.0 0 1 0 -2.0 0M71.2 372.8a1.0 1.0 0 1 0 2.0 0a1.0 1.0 0 1 0 -2.0 0M72.9 372.8a1.0 1.0 0 1 0 2.0 0a1.0 1.0 0 1 0 -2.0 0M49.7 370.7a1.0 1.0 0 1 0 2.0 0a1.0 1.0 0 1 0 -2.0 0M51.7 370.8a1.0 1.0 0 1 0 2.0 0a1.0 1.0 0 1 0 -2.0 0M53.7 371.0a1.0 1.0 0 1 0 2.0 0a1.0 1.0 0 1 0 -2.0 0M55.8 370.9a1.0 1.0 0 1 0 2.0 0a1.0 1.0 0 1 0 -2.0 0M60.4 370.8a1.0 1.0 0 1 0 2.0 0a1.0 1.0 0 1 0 -2.0 0M62.1 371.0a1.0 1.0 0 1 0 2.0 0a1.0 1.0 0 1 0 -2.0 0M64.5 370.8a1.0 1.0 0 1 0 2.0 0a1.0 1.0 0 1 0 -2.0 0M68.6 370.7a1.0 1.0 0 1 0 2.0 0a1.0 1.0 0 1 0 -2.0 0M70.8 370.9a1.0 1.0 0 1 0 2.0 0a1.0 1.0 0 1 0 -2.0 0M73.3 371.2a1.0 1.0 0 1 0 2.0 0a1.0 1.0 0 1 0 -2.0 0M49.3 369.0a1.0 1.0 0 1 0 2.0 0a1.0 1.0 0 1 0 -2.0 0M53.9 369.1a1.0 1.0 0 1 0 2.0 0a1.0 1.0 0 1 0 -2.0 0M56.0 369.3a1.0 1.0 0 1 0 2.0 0a1.0 1.0 0 1 0 -2.0 0M58.3 369.1a1.0 1.0 0 1 0 2.0 0a1.0 1.0 0 1 0 -2.0 0M60.0 368.9a1.0 1.0 0 1 0 2.0 0a1.0 1.0 0 1 0 -2.0 0M62.5 369.3a1.0 1.0 0 1 0 2.0 0a1.0 1.0 0 1 0 -2.0 0M68.6 369.1a1.0 1.0 0 1 0 2.0 0a1.0 1.0 0 1 0 -2.0 0M70.7 369.1a1.0 1.0 0 1 0 2.0 0a1.0 1.0 0 1 0 -2.0 0M72.9 369.4a1.0 1.0 0 1 0 2.0 0a1.0 1.0 0 1 0 -2.0 0M49.6 367.3a1.0 1.0 0 1 0 2.0 0a1.0 1.0 0 1 0 -2.0 0M51.8 367.3a1.0 1.0 0 1 0 2.0 0a1.0 1.0 0 1 0 -2.0 0M56.1 367.3a1.0 1.0 0 1 0 2.0 0a1.0 1.0 0 1 0 -2.0 0M60.3 367.1a1.0 1.0 0 1 0 2.0 0a1.0 1.0 0 1 0 -2.0 0M62.1 367.6a1.0 1.0 0 1 0 2.0 0a1.0 1.0 0 1 0 -2.0 0M64.8 367.6a1.0 1.0 0 1 0 2.0 0a1.0 1.0 0 1 0 -2.0 0M68.7 367.6a1.0 1.0 0 1 0 2.0 0a1.0 1.0 0 1 0 -2.0 0M70.8 367.2a1.0 1.0 0 1 0 2.0 0a1.0 1.0 0 1 0 -2.0 0M73.1 367.7a1.0 1.0 0 1 0 2.0 0a1.0 1.0 0 1 0 -2.0 0M49.6 365.8a1.0 1.0 0 1 0 2.0 0a1.0 1.0 0 1 0 -2.0 0M51.6 365.4a1.0 1.0 0 1 0 2.0 0a1.0 1.0 0 1 0 -2.0 0M53.7 365.6a1.0 1.0 0 1 0 2.0 0a1.0 1.0 0 1 0 -2.0 0M55.7 365.8a1.0 1.0 0 1 0 2.0 0a1.0 1.0 0 1 0 -2.0 0M60.4 365.5a1.0 1.0 0 1 0 2.0 0a1.0 1.0 0 1 0 -2.0 0M62.7 365.7a1.0 1.0 0 1 0 2.0 0a1.0 1.0 0 1 0 -2.0 0M64.4 365.4a1.0 1.0 0 1 0 2.0 0a1.0 1.0 0 1 0 -2.0 0M66.6 365.5a1.0 1.0 0 1 0 2.0 0a1.0 1.0 0 1 0 -2.0 0M68.6 365.8a1.0 1.0 0 1 0 2.0 0a1.0 1.0 0 1 0 -2.0 0M70.8 365.5a1.0 1.0 0 1 0 2.0 0a1.0 1.0 0 1 0 -2.0 0M73.1 365.9a1.0 1.0 0 1 0 2.0 0a1.0 1.0 0 1 0 -2.0 0M49.4 364.1a1.0 1.0 0 1 0 2.0 0a1.0 1.0 0 1 0 -2.0 0M51.7 363.8a1.0 1.0 0 1 0 2.0 0a1.0 1.0 0 1 0 -2.0 0M53.8 364.0a1.0 1.0 0 1 0 2.0 0a1.0 1.0 0 1 0 -2.0 0M56.0 363.9a1.0 1.0 0 1 0 2.0 0a1.0 1.0 0 1 0 -2.0 0M58.2 364.1a1.0 1.0 0 1 0 2.0 0a1.0 1.0 0 1 0 -2.0 0M60.1 363.8a1.0 1.0 0 1 0 2.0 0a1.0 1.0 0 1 0 -2.0 0M62.1 363.7a1.0 1.0 0 1 0 2.0 0a1.0 1.0 0 1 0 -2.0 0M64.6 363.8a1.0 1.0 0 1 0 2.0 0a1.0 1.0 0 1 0 -2.0 0M66.6 363.8a1.0 1.0 0 1 0 2.0 0a1.0 1.0 0 1 0 -2.0 0M68.6 363.6a1.0 1.0 0 1 0 2.0 0a1.0 1.0 0 1 0 -2.0 0M73.3 363.6a1.0 1.0 0 1 0 2.0 0a1.0 1.0 0 1 0 -2.0 0M49.8 362.1a1.0 1.0 0 1 0 2.0 0a1.0 1.0 0 1 0 -2.0 0M51.6 362.0a1.0 1.0 0 1 0 2.0 0a1.0 1.0 0 1 0 -2.0 0M53.8 361.8a1.0 1.0 0 1 0 2.0 0a1.0 1.0 0 1 0 -2.0 0M56.0 362.2a1.0 1.0 0 1 0 2.0 0a1.0 1.0 0 1 0 -2.0 0M58.2 361.9a1.0 1.0 0 1 0 2.0 0a1.0 1.0 0 1 0 -2.0 0M60.0 361.8a1.0 1.0 0 1 0 2.0 0a1.0 1.0 0 1 0 -2.0 0M62.6 362.0a1.0 1.0 0 1 0 2.0 0a1.0 1.0 0 1 0 -2.0 0M64.6 362.3a1.0 1.0 0 1 0 2.0 0a1.0 1.0 0 1 0 -2.0 0M66.5 362.3a1.0 1.0 0 1 0 2.0 0a1.0 1.0 0 1 0 -2.0 0M69.0 362.0a1.0 1.0 0 1 0 2.0 0a1.0 1.0 0 1 0 -2.0 0M71.1 362.0a1.0 1.0 0 1 0 2.0 0a1.0 1.0 0 1 0 -2.0 0M73.1 362.0a1.0 1.0 0 1 0 2.0 0a1.0 1.0 0 1 0 -2.0 0M49.3 360.0a1.0 1.0 0 1 0 2.0 0a1.0 1.0 0 1 0 -2.0 0M51.7 360.5a1.0 1.0 0 1 0 2.0 0a1.0 1.0 0 1 0 -2.0 0M54.0 360.6a1.0 1.0 0 1 0 2.0 0a1.0 1.0 0 1 0 -2.0 0M55.9 360.1a1.0 1.0 0 1 0 2.0 0a1.0 1.0 0 1 0 -2.0 0M58.1 360.1a1.0 1.0 0 1 0 2.0 0a1.0 1.0 0 1 0 -2.0 0M60.0 360.3a1.0 1.0 0 1 0 2.0 0a1.0 1.0 0 1 0 -2.0 0M62.1 360.0a1.0 1.0 0 1 0 2.0 0a1.0 1.0 0 1 0 -2.0 0M64.3 360.4a1.0 1.0 0 1 0 2.0 0a1.0 1.0 0 1 0 -2.0 0M69.0 360.5a1.0 1.0 0 1 0 2.0 0a1.0 1.0 0 1 0 -2.0 0M70.8 360.4a1.0 1.0 0 1 0 2.0 0a1.0 1.0 0 1 0 -2.0 0M73.1 360.2a1.0 1.0 0 1 0 2.0 0a1.0 1.0 0 1 0 -2.0 0M49.6 358.7a1.0 1.0 0 1 0 2.0 0a1.0 1.0 0 1 0 -2.0 0M51.4 358.4a1.0 1.0 0 1 0 2.0 0a1.0 1.0 0 1 0 -2.0 0M53.8 358.4a1.0 1.0 0 1 0 2.0 0a1.0 1.0 0 1 0 -2.0 0M55.7 358.4a1.0 1.0 0 1 0 2.0 0a1.0 1.0 0 1 0 -2.0 0M58.4 358.8a1.0 1.0 0 1 0 2.0 0a1.0 1.0 0 1 0 -2.0 0M60.5 358.8a1.0 1.0 0 1 0 2.0 0a1.0 1.0 0 1 0 -2.0 0M62.6 358.3a1.0 1.0 0 1 0 2.0 0a1.0 1.0 0 1 0 -2.0 0M64.6 358.4a1.0 1.0 0 1 0 2.0 0a1.0 1.0 0 1 0 -2.0 0M66.9 358.5a1.0 1.0 0 1 0 2.0 0a1.0 1.0 0 1 0 -2.0 0M68.7 358.4a1.0 1.0 0 1 0 2.0 0a1.0 1.0 0 1 0 -2.0 0M70.7 358.3a1.0 1.0 0 1 0 2.0 0a1.0 1.0 0 1 0 -2.0 0M73.1 358.3a1.0 1.0 0 1 0 2.0 0a1.0 1.0 0 1 0 -2.0 0M49.4 356.8a1.0 1.0 0 1 0 2.0 0a1.0 1.0 0 1 0 -2.0 0M51.7 356.8a1.0 1.0 0 1 0 2.0 0a1.0 1.0 0 1 0 -2.0 0M53.6 356.6a1.0 1.0 0 1 0 2.0 0a1.0 1.0 0 1 0 -2.0 0M56.0 356.5a1.0 1.0 0 1 0 2.0 0a1.0 1.0 0 1 0 -2.0 0M57.9 356.5a1.0 1.0 0 1 0 2.0 0a1.0 1.0 0 1 0 -2.0 0M60.1 356.8a1.0 1.0 0 1 0 2.0 0a1.0 1.0 0 1 0 -2.0 0M62.2 356.8a1.0 1.0 0 1 0 2.0 0a1.0 1.0 0 1 0 -2.0 0M64.5 356.8a1.0 1.0 0 1 0 2.0 0a1.0 1.0 0 1 0 -2.0 0M68.6 356.7a1.0 1.0 0 1 0 2.0 0a1.0 1.0 0 1 0 -2.0 0M71.0 356.9a1.0 1.0 0 1 0 2.0 0a1.0 1.0 0 1 0 -2.0 0M72.9 357.1a1.0 1.0 0 1 0 2.0 0a1.0 1.0 0 1 0 -2.0 0M49.3 355.2a1.0 1.0 0 1 0 2.0 0a1.0 1.0 0 1 0 -2.0 0M51.4 355.3a1.0 1.0 0 1 0 2.0 0a1.0 1.0 0 1 0 -2.0 0M54.0 354.8a1.0 1.0 0 1 0 2.0 0a1.0 1.0 0 1 0 -2.0 0M55.7 354.8a1.0 1.0 0 1 0 2.0 0a1.0 1.0 0 1 0 -2.0 0M57.8 355.0a1.0 1.0 0 1 0 2.0 0a1.0 1.0 0 1 0 -2.0 0M60.1 355.1a1.0 1.0 0 1 0 2.0 0a1.0 1.0 0 1 0 -2.0 0M62.6 355.1a1.0 1.0 0 1 0 2.0 0a1.0 1.0 0 1 0 -2.0 0M64.6 355.2a1.0 1.0 0 1 0 2.0 0a1.0 1.0 0 1 0 -2.0 0M66.5 355.1a1.0 1.0 0 1 0 2.0 0a1.0 1.0 0 1 0 -2.0 0M69.0 355.1a1.0 1.0 0 1 0 2.0 0a1.0 1.0 0 1 0 -2.0 0M70.7 354.9a1.0 1.0 0 1 0 2.0 0a1.0 1.0 0 1 0 -2.0 0M73.4 355.1a1.0 1.0 0 1 0 2.0 0a1.0 1.0 0 1 0 -2.0 0M51.4 353.2a1.0 1.0 0 1 0 2.0 0a1.0 1.0 0 1 0 -2.0 0M53.6 353.5a1.0 1.0 0 1 0 2.0 0a1.0 1.0 0 1 0 -2.0 0M55.8 353.0a1.0 1.0 0 1 0 2.0 0a1.0 1.0 0 1 0 -2.0 0M58.3 353.3a1.0 1.0 0 1 0 2.0 0a1.0 1.0 0 1 0 -2.0 0M59.9 353.0a1.0 1.0 0 1 0 2.0 0a1.0 1.0 0 1 0 -2.0 0M62.2 353.2a1.0 1.0 0 1 0 2.0 0a1.0 1.0 0 1 0 -2.0 0M64.6 353.1a1.0 1.0 0 1 0 2.0 0a1.0 1.0 0 1 0 -2.0 0M66.9 353.2a1.0 1.0 0 1 0 2.0 0a1.0 1.0 0 1 0 -2.0 0M69.0 353.5a1.0 1.0 0 1 0 2.0 0a1.0 1.0 0 1 0 -2.0 0M72.9 353.2a1.0 1.0 0 1 0 2.0 0a1.0 1.0 0 1 0 -2.0 0M49.7 351.2a1.0 1.0 0 1 0 2.0 0a1.0 1.0 0 1 0 -2.0 0M51.8 351.5a1.0 1.0 0 1 0 2.0 0a1.0 1.0 0 1 0 -2.0 0M53.8 351.2a1.0 1.0 0 1 0 2.0 0a1.0 1.0 0 1 0 -2.0 0M55.9 351.7a1.0 1.0 0 1 0 2.0 0a1.0 1.0 0 1 0 -2.0 0M57.8 351.3a1.0 1.0 0 1 0 2.0 0a1.0 1.0 0 1 0 -2.0 0M60.5 351.5a1.0 1.0 0 1 0 2.0 0a1.0 1.0 0 1 0 -2.0 0M64.4 351.4a1.0 1.0 0 1 0 2.0 0a1.0 1.0 0 1 0 -2.0 0M66.6 351.4a1.0 1.0 0 1 0 2.0 0a1.0 1.0 0 1 0 -2.0 0M70.9 351.2a1.0 1.0 0 1 0 2.0 0a1.0 1.0 0 1 0 -2.0 0M73.4 351.2a1.0 1.0 0 1 0 2.0 0a1.0 1.0 0 1 0 -2.0 0M49.6 349.5a1.0 1.0 0 1 0 2.0 0a1.0 1.0 0 1 0 -2.0 0M51.6 349.5a1.0 1.0 0 1 0 2.0 0a1.0 1.0 0 1 0 -2.0 0M53.8 349.9a1.0 1.0 0 1 0 2.0 0a1.0 1.0 0 1 0 -2.0 0M55.7 349.7a1.0 1.0 0 1 0 2.0 0a1.0 1.0 0 1 0 -2.0 0M58.3 349.8a1.0 1.0 0 1 0 2.0 0a1.0 1.0 0 1 0 -2.0 0M60.3 349.6a1.0 1.0 0 1 0 2.0 0a1.0 1.0 0 1 0 -2.0 0M62.5 349.9a1.0 1.0 0 1 0 2.0 0a1.0 1.0 0 1 0 -2.0 0M64.6 349.5a1.0 1.0 0 1 0 2.0 0a1.0 1.0 0 1 0 -2.0 0M66.8 349.7a1.0 1.0 0 1 0 2.0 0a1.0 1.0 0 1 0 -2.0 0M68.7 349.7a1.0 1.0 0 1 0 2.0 0a1.0 1.0 0 1 0 -2.0 0M70.7 349.6a1.0 1.0 0 1 0 2.0 0a1.0 1.0 0 1 0 -2.0 0M73.4 349.7a1.0 1.0 0 1 0 2.0 0a1.0 1.0 0 1 0 -2.0 0M49.3 347.7a1.0 1.0 0 1 0 2.0 0a1.0 1.0 0 1 0 -2.0 0M51.4 347.6a1.0 1.0 0 1 0 2.0 0a1.0 1.0 0 1 0 -2.0 0M53.8 347.9a1.0 1.0 0 1 0 2.0 0a1.0 1.0 0 1 0 -2.0 0M55.8 347.7a1.0 1.0 0 1 0 2.0 0a1.0 1.0 0 1 0 -2.0 0M60.1 348.0a1.0 1.0 0 1 0 2.0 0a1.0 1.0 0 1 0 -2.0 0M62.6 347.8a1.0 1.0 0 1 0 2.0 0a1.0 1.0 0 1 0 -2.0 0M64.6 347.6a1.0 1.0 0 1 0 2.0 0a1.0 1.0 0 1 0 -2.0 0M66.7 348.2a1.0 1.0 0 1 0 2.0 0a1.0 1.0 0 1 0 -2.0 0M69.0 347.8a1.0 1.0 0 1 0 2.0 0a1.0 1.0 0 1 0 -2.0 0M70.7 347.9a1.0 1.0 0 1 0 2.0 0a1.0 1.0 0 1 0 -2.0 0M73.0 347.7a1.0 1.0 0 1 0 2.0 0a1.0 1.0 0 1 0 -2.0 0M51.5 346.2a1.0 1.0 0 1 0 2.0 0a1.0 1.0 0 1 0 -2.0 0M53.7 345.9a1.0 1.0 0 1 0 2.0 0a1.0 1.0 0 1 0 -2.0 0M56.2 346.2a1.0 1.0 0 1 0 2.0 0a1.0 1.0 0 1 0 -2.0 0M58.2 346.4a1.0 1.0 0 1 0 2.0 0a1.0 1.0 0 1 0 -2.0 0M60.0 346.3a1.0 1.0 0 1 0 2.0 0a1.0 1.0 0 1 0 -2.0 0M62.3 345.9a1.0 1.0 0 1 0 2.0 0a1.0 1.0 0 1 0 -2.0 0M64.5 346.3a1.0 1.0 0 1 0 2.0 0a1.0 1.0 0 1 0 -2.0 0M66.9 345.9a1.0 1.0 0 1 0 2.0 0a1.0 1.0 0 1 0 -2.0 0M69.0 346.2a1.0 1.0 0 1 0 2.0 0a1.0 1.0 0 1 0 -2.0 0M71.1 346.0a1.0 1.0 0 1 0 2.0 0a1.0 1.0 0 1 0 -2.0 0M49.2 344.4a1.0 1.0 0 1 0 2.0 0a1.0 1.0 0 1 0 -2.0 0M51.6 344.4a1.0 1.0 0 1 0 2.0 0a1.0 1.0 0 1 0 -2.0 0M53.8 344.1a1.0 1.0 0 1 0 2.0 0a1.0 1.0 0 1 0 -2.0 0M56.0 344.6a1.0 1.0 0 1 0 2.0 0a1.0 1.0 0 1 0 -2.0 0M60.4 344.2a1.0 1.0 0 1 0 2.0 0a1.0 1.0 0 1 0 -2.0 0M64.3 344.5a1.0 1.0 0 1 0 2.0 0a1.0 1.0 0 1 0 -2.0 0M68.8 344.4a1.0 1.0 0 1 0 2.0 0a1.0 1.0 0 1 0 -2.0 0M71.0 344.4a1.0 1.0 0 1 0 2.0 0a1.0 1.0 0 1 0 -2.0 0M73.0 344.5a1.0 1.0 0 1 0 2.0 0a1.0 1.0 0 1 0 -2.0 0M49.6 342.7a1.0 1.0 0 1 0 2.0 0a1.0 1.0 0 1 0 -2.0 0M51.5 342.7a1.0 1.0 0 1 0 2.0 0a1.0 1.0 0 1 0 -2.0 0M53.8 342.4a1.0 1.0 0 1 0 2.0 0a1.0 1.0 0 1 0 -2.0 0M56.2 342.3a1.0 1.0 0 1 0 2.0 0a1.0 1.0 0 1 0 -2.0 0M60.3 342.7a1.0 1.0 0 1 0 2.0 0a1.0 1.0 0 1 0 -2.0 0M62.7 342.4a1.0 1.0 0 1 0 2.0 0a1.0 1.0 0 1 0 -2.0 0M64.3 342.3a1.0 1.0 0 1 0 2.0 0a1.0 1.0 0 1 0 -2.0 0M66.4 342.6a1.0 1.0 0 1 0 2.0 0a1.0 1.0 0 1 0 -2.0 0M68.6 342.8a1.0 1.0 0 1 0 2.0 0a1.0 1.0 0 1 0 -2.0 0M70.7 342.4a1.0 1.0 0 1 0 2.0 0a1.0 1.0 0 1 0 -2.0 0M73.4 342.4a1.0 1.0 0 1 0 2.0 0a1.0 1.0 0 1 0 -2.0 0M51.5 341.1a1.0 1.0 0 1 0 2.0 0a1.0 1.0 0 1 0 -2.0 0M53.9 340.7a1.0 1.0 0 1 0 2.0 0a1.0 1.0 0 1 0 -2.0 0M55.9 340.7a1.0 1.0 0 1 0 2.0 0a1.0 1.0 0 1 0 -2.0 0M57.8 340.9a1.0 1.0 0 1 0 2.0 0a1.0 1.0 0 1 0 -2.0 0M62.3 341.0a1.0 1.0 0 1 0 2.0 0a1.0 1.0 0 1 0 -2.0 0M66.6 341.0a1.0 1.0 0 1 0 2.0 0a1.0 1.0 0 1 0 -2.0 0M68.9 340.6a1.0 1.0 0 1 0 2.0 0a1.0 1.0 0 1 0 -2.0 0M70.8 340.8a1.0 1.0 0 1 0 2.0 0a1.0 1.0 0 1 0 -2.0 0M72.9 340.9a1.0 1.0 0 1 0 2.0 0a1.0 1.0 0 1 0 -2.0 0M49.4 339.3a1.0 1.0 0 1 0 2.0 0a1.0 1.0 0 1 0 -2.0 0M51.7 338.8a1.0 1.0 0 1 0 2.0 0a1.0 1.0 0 1 0 -2.0 0M54.0 338.9a1.0 1.0 0 1 0 2.0 0a1.0 1.0 0 1 0 -2.0 0M56.1 338.9a1.0 1.0 0 1 0 2.0 0a1.0 1.0 0 1 0 -2.0 0M58.1 339.3a1.0 1.0 0 1 0 2.0 0a1.0 1.0 0 1 0 -2.0 0M60.3 339.1a1.0 1.0 0 1 0 2.0 0a1.0 1.0 0 1 0 -2.0 0M62.4 339.2a1.0 1.0 0 1 0 2.0 0a1.0 1.0 0 1 0 -2.0 0M64.7 338.9a1.0 1.0 0 1 0 2.0 0a1.0 1.0 0 1 0 -2.0 0M66.9 338.8a1.0 1.0 0 1 0 2.0 0a1.0 1.0 0 1 0 -2.0 0M69.1 338.9a1.0 1.0 0 1 0 2.0 0a1.0 1.0 0 1 0 -2.0 0M73.4 338.7a1.0 1.0 0 1 0 2.0 0a1.0 1.0 0 1 0 -2.0 0M49.3 337.4a1.0 1.0 0 1 0 2.0 0a1.0 1.0 0 1 0 -2.0 0M53.9 337.0a1.0 1.0 0 1 0 2.0 0a1.0 1.0 0 1 0 -2.0 0M56.2 337.4a1.0 1.0 0 1 0 2.0 0a1.0 1.0 0 1 0 -2.0 0M58.4 337.0a1.0 1.0 0 1 0 2.0 0a1.0 1.0 0 1 0 -2.0 0M60.4 337.4a1.0 1.0 0 1 0 2.0 0a1.0 1.0 0 1 0 -2.0 0M64.4 337.2a1.0 1.0 0 1 0 2.0 0a1.0 1.0 0 1 0 -2.0 0M66.4 337.5a1.0 1.0 0 1 0 2.0 0a1.0 1.0 0 1 0 -2.0 0M69.0 337.0a1.0 1.0 0 1 0 2.0 0a1.0 1.0 0 1 0 -2.0 0M70.7 337.2a1.0 1.0 0 1 0 2.0 0a1.0 1.0 0 1 0 -2.0 0M73.2 337.0a1.0 1.0 0 1 0 2.0 0a1.0 1.0 0 1 0 -2.0 0M49.5 335.2a1.0 1.0 0 1 0 2.0 0a1.0 1.0 0 1 0 -2.0 0M51.6 335.7a1.0 1.0 0 1 0 2.0 0a1.0 1.0 0 1 0 -2.0 0M53.6 335.8a1.0 1.0 0 1 0 2.0 0a1.0 1.0 0 1 0 -2.0 0M56.1 335.3a1.0 1.0 0 1 0 2.0 0a1.0 1.0 0 1 0 -2.0 0M57.9 335.2a1.0 1.0 0 1 0 2.0 0a1.0 1.0 0 1 0 -2.0 0M62.3 335.5a1.0 1.0 0 1 0 2.0 0a1.0 1.0 0 1 0 -2.0 0M64.2 335.6a1.0 1.0 0 1 0 2.0 0a1.0 1.0 0 1 0 -2.0 0M66.7 335.5a1.0 1.0 0 1 0 2.0 0a1.0 1.0 0 1 0 -2.0 0M69.1 335.7a1.0 1.0 0 1 0 2.0 0a1.0 1.0 0 1 0 -2.0 0M70.9 335.4a1.0 1.0 0 1 0 2.0 0a1.0 1.0 0 1 0 -2.0 0M73.4 335.4a1.0 1.0 0 1 0 2.0 0a1.0 1.0 0 1 0 -2.0 0M49.4 333.5a1.0 1.0 0 1 0 2.0 0a1.0 1.0 0 1 0 -2.0 0M51.3 333.8a1.0 1.0 0 1 0 2.0 0a1.0 1.0 0 1 0 -2.0 0M53.6 333.8a1.0 1.0 0 1 0 2.0 0a1.0 1.0 0 1 0 -2.0 0M55.8 333.5a1.0 1.0 0 1 0 2.0 0a1.0 1.0 0 1 0 -2.0 0M58.3 333.9a1.0 1.0 0 1 0 2.0 0a1.0 1.0 0 1 0 -2.0 0M60.0 333.8a1.0 1.0 0 1 0 2.0 0a1.0 1.0 0 1 0 -2.0 0M62.5 333.7a1.0 1.0 0 1 0 2.0 0a1.0 1.0 0 1 0 -2.0 0M64.8 333.4a1.0 1.0 0 1 0 2.0 0a1.0 1.0 0 1 0 -2.0 0M66.9 333.7a1.0 1.0 0 1 0 2.0 0a1.0 1.0 0 1 0 -2.0 0M69.1 333.5a1.0 1.0 0 1 0 2.0 0a1.0 1.0 0 1 0 -2.0 0M71.1 333.6a1.0 1.0 0 1 0 2.0 0a1.0 1.0 0 1 0 -2.0 0M73.0 333.7a1.0 1.0 0 1 0 2.0 0a1.0 1.0 0 1 0 -2.0 0M49.6 331.8a1.0 1.0 0 1 0 2.0 0a1.0 1.0 0 1 0 -2.0 0M51.7 331.8a1.0 1.0 0 1 0 2.0 0a1.0 1.0 0 1 0 -2.0 0M53.6 332.2a1.0 1.0 0 1 0 2.0 0a1.0 1.0 0 1 0 -2.0 0M56.1 331.9a1.0 1.0 0 1 0 2.0 0a1.0 1.0 0 1 0 -2.0 0M57.9 331.7a1.0 1.0 0 1 0 2.0 0a1.0 1.0 0 1 0 -2.0 0M60.2 331.9a1.0 1.0 0 1 0 2.0 0a1.0 1.0 0 1 0 -2.0 0M62.6 331.8a1.0 1.0 0 1 0 2.0 0a1.0 1.0 0 1 0 -2.0 0M64.7 331.9a1.0 1.0 0 1 0 2.0 0a1.0 1.0 0 1 0 -2.0 0M66.9 332.2a1.0 1.0 0 1 0 2.0 0a1.0 1.0 0 1 0 -2.0 0M68.5 331.9a1.0 1.0 0 1 0 2.0 0a1.0 1.0 0 1 0 -2.0 0M71.1 331.7a1.0 1.0 0 1 0 2.0 0a1.0 1.0 0 1 0 -2.0 0M73.0 331.7a1.0 1.0 0 1 0 2.0 0a1.0 1.0 0 1 0 -2.0 0M49.7 330.2a1.0 1.0 0 1 0 2.0 0a1.0 1.0 0 1 0 -2.0 0M51.4 330.1a1.0 1.0 0 1 0 2.0 0a1.0 1.0 0 1 0 -2.0 0M53.9 330.1a1.0 1.0 0 1 0 2.0 0a1.0 1.0 0 1 0 -2.0 0M56.1 330.3a1.0 1.0 0 1 0 2.0 0a1.0 1.0 0 1 0 -2.0 0M58.2 330.1a1.0 1.0 0 1 0 2.0 0a1.0 1.0 0 1 0 -2.0 0M60.1 330.1a1.0 1.0 0 1 0 2.0 0a1.0 1.0 0 1 0 -2.0 0M62.3 329.9a1.0 1.0 0 1 0 2.0 0a1.0 1.0 0 1 0 -2.0 0M64.6 329.9a1.0 1.0 0 1 0 2.0 0a1.0 1.0 0 1 0 -2.0 0M66.8 330.0a1.0 1.0 0 1 0 2.0 0a1.0 1.0 0 1 0 -2.0 0M68.7 330.4a1.0 1.0 0 1 0 2.0 0a1.0 1.0 0 1 0 -2.0 0M73.3 330.0a1.0 1.0 0 1 0 2.0 0a1.0 1.0 0 1 0 -2.0 0M49.7 328.4a1.0 1.0 0 1 0 2.0 0a1.0 1.0 0 1 0 -2.0 0M51.4 328.3a1.0 1.0 0 1 0 2.0 0a1.0 1.0 0 1 0 -2.0 0M53.9 328.3a1.0 1.0 0 1 0 2.0 0a1.0 1.0 0 1 0 -2.0 0M56.0 328.6a1.0 1.0 0 1 0 2.0 0a1.0 1.0 0 1 0 -2.0 0M58.0 328.4a1.0 1.0 0 1 0 2.0 0a1.0 1.0 0 1 0 -2.0 0M60.0 328.7a1.0 1.0 0 1 0 2.0 0a1.0 1.0 0 1 0 -2.0 0M62.3 328.5a1.0 1.0 0 1 0 2.0 0a1.0 1.0 0 1 0 -2.0 0M64.3 328.5a1.0 1.0 0 1 0 2.0 0a1.0 1.0 0 1 0 -2.0 0M66.7 328.4a1.0 1.0 0 1 0 2.0 0a1.0 1.0 0 1 0 -2.0 0M69.0 328.1a1.0 1.0 0 1 0 2.0 0a1.0 1.0 0 1 0 -2.0 0M70.9 328.4a1.0 1.0 0 1 0 2.0 0a1.0 1.0 0 1 0 -2.0 0M73.0 328.4a1.0 1.0 0 1 0 2.0 0a1.0 1.0 0 1 0 -2.0 0M49.5 326.6a1.0 1.0 0 1 0 2.0 0a1.0 1.0 0 1 0 -2.0 0M51.8 326.7a1.0 1.0 0 1 0 2.0 0a1.0 1.0 0 1 0 -2.0 0M53.7 326.3a1.0 1.0 0 1 0 2.0 0a1.0 1.0 0 1 0 -2.0 0M56.0 326.8a1.0 1.0 0 1 0 2.0 0a1.0 1.0 0 1 0 -2.0 0M57.9 326.4a1.0 1.0 0 1 0 2.0 0a1.0 1.0 0 1 0 -2.0 0M62.1 326.4a1.0 1.0 0 1 0 2.0 0a1.0 1.0 0 1 0 -2.0 0M64.6 326.3a1.0 1.0 0 1 0 2.0 0a1.0 1.0 0 1 0 -2.0 0M66.8 326.6a1.0 1.0 0 1 0 2.0 0a1.0 1.0 0 1 0 -2.0 0M70.9 326.7a1.0 1.0 0 1 0 2.0 0a1.0 1.0 0 1 0 -2.0 0M73.3 326.8a1.0 1.0 0 1 0 2.0 0a1.0 1.0 0 1 0 -2.0 0M49.4 324.8a1.0 1.0 0 1 0 2.0 0a1.0 1.0 0 1 0 -2.0 0M53.7 324.7a1.0 1.0 0 1 0 2.0 0a1.0 1.0 0 1 0 -2.0 0M55.8 325.0a1.0 1.0 0 1 0 2.0 0a1.0 1.0 0 1 0 -2.0 0M58.1 324.8a1.0 1.0 0 1 0 2.0 0a1.0 1.0 0 1 0 -2.0 0M62.6 325.0a1.0 1.0 0 1 0 2.0 0a1.0 1.0 0 1 0 -2.0 0M64.4 324.6a1.0 1.0 0 1 0 2.0 0a1.0 1.0 0 1 0 -2.0 0M68.7 324.8a1.0 1.0 0 1 0 2.0 0a1.0 1.0 0 1 0 -2.0 0M71.0 324.7a1.0 1.0 0 1 0 2.0 0a1.0 1.0 0 1 0 -2.0 0M72.9 325.1a1.0 1.0 0 1 0 2.0 0a1.0 1.0 0 1 0 -2.0 0M49.2 322.9a1.0 1.0 0 1 0 2.0 0a1.0 1.0 0 1 0 -2.0 0M51.6 323.1a1.0 1.0 0 1 0 2.0 0a1.0 1.0 0 1 0 -2.0 0M53.7 323.2a1.0 1.0 0 1 0 2.0 0a1.0 1.0 0 1 0 -2.0 0M56.1 323.2a1.0 1.0 0 1 0 2.0 0a1.0 1.0 0 1 0 -2.0 0M58.1 323.3a1.0 1.0 0 1 0 2.0 0a1.0 1.0 0 1 0 -2.0 0M60.5 322.8a1.0 1.0 0 1 0 2.0 0a1.0 1.0 0 1 0 -2.0 0M62.5 322.8a1.0 1.0 0 1 0 2.0 0a1.0 1.0 0 1 0 -2.0 0M64.3 323.1a1.0 1.0 0 1 0 2.0 0a1.0 1.0 0 1 0 -2.0 0M66.9 323.1a1.0 1.0 0 1 0 2.0 0a1.0 1.0 0 1 0 -2.0 0M68.8 323.2a1.0 1.0 0 1 0 2.0 0a1.0 1.0 0 1 0 -2.0 0M70.8 322.9a1.0 1.0 0 1 0 2.0 0a1.0 1.0 0 1 0 -2.0 0M72.9 323.3a1.0 1.0 0 1 0 2.0 0a1.0 1.0 0 1 0 -2.0 0M49.3 321.0a1.0 1.0 0 1 0 2.0 0a1.0 1.0 0 1 0 -2.0 0M51.9 321.2a1.0 1.0 0 1 0 2.0 0a1.0 1.0 0 1 0 -2.0 0M53.6 321.5a1.0 1.0 0 1 0 2.0 0a1.0 1.0 0 1 0 -2.0 0M55.7 321.0a1.0 1.0 0 1 0 2.0 0a1.0 1.0 0 1 0 -2.0 0M57.8 321.5a1.0 1.0 0 1 0 2.0 0a1.0 1.0 0 1 0 -2.0 0M60.1 321.3a1.0 1.0 0 1 0 2.0 0a1.0 1.0 0 1 0 -2.0 0M62.4 321.1a1.0 1.0 0 1 0 2.0 0a1.0 1.0 0 1 0 -2.0 0M64.4 321.5a1.0 1.0 0 1 0 2.0 0a1.0 1.0 0 1 0 -2.0 0M66.8 321.6a1.0 1.0 0 1 0 2.0 0a1.0 1.0 0 1 0 -2.0 0M68.5 321.2a1.0 1.0 0 1 0 2.0 0a1.0 1.0 0 1 0 -2.0 0M70.8 321.3a1.0 1.0 0 1 0 2.0 0a1.0 1.0 0 1 0 -2.0 0M51.6 319.6a1.0 1.0 0 1 0 2.0 0a1.0 1.0 0 1 0 -2.0 0M55.7 319.8a1.0 1.0 0 1 0 2.0 0a1.0 1.0 0 1 0 -2.0 0M58.3 319.5a1.0 1.0 0 1 0 2.0 0a1.0 1.0 0 1 0 -2.0 0M64.5 319.8a1.0 1.0 0 1 0 2.0 0a1.0 1.0 0 1 0 -2.0 0M71.0 319.5a1.0 1.0 0 1 0 2.0 0a1.0 1.0 0 1 0 -2.0 0M54.9 317.6a1.0 1.0 0 1 0 2.0 0a1.0 1.0 0 1 0 -2.0 0M56.6 317.8a1.0 1.0 0 1 0 2.0 0a1.0 1.0 0 1 0 -2.0 0M59.0 318.0a1.0 1.0 0 1 0 2.0 0a1.0 1.0 0 1 0 -2.0 0M61.0 317.6a1.0 1.0 0 1 0 2.0 0a1.0 1.0 0 1 0 -2.0 0M67.7 317.9a1.0 1.0 0 1 0 2.0 0a1.0 1.0 0 1 0 -2.0 0M52.1 316.0a1.0 1.0 0 1 0 2.0 0a1.0 1.0 0 1 0 -2.0 0M54.6 315.9a1.0 1.0 0 1 0 2.0 0a1.0 1.0 0 1 0 -2.0 0M63.3 316.0a1.0 1.0 0 1 0 2.0 0a1.0 1.0 0 1 0 -2.0 0M70.1 315.8a1.0 1.0 0 1 0 2.0 0a1.0 1.0 0 1 0 -2.0 0M52.2 314.4a1.0 1.0 0 1 0 2.0 0a1.0 1.0 0 1 0 -2.0 0M54.5 314.0a1.0 1.0 0 1 0 2.0 0a1.0 1.0 0 1 0 -2.0 0M58.8 314.2a1.0 1.0 0 1 0 2.0 0a1.0 1.0 0 1 0 -2.0 0" fill="#12cf12"/>
<path d="M89.8 374.8a1.05 1.05 0 1 0 2.1 0a1.05 1.05 0 1 0 -2.1 0M92.5 374.8a1.05 1.05 0 1 0 2.1 0a1.05 1.05 0 1 0 -2.1 0M94.7 374.8a1.05 1.05 0 1 0 2.1 0a1.05 1.05 0 1 0 -2.1 0M97.6 374.7a1.05 1.05 0 1 0 2.1 0a1.05 1.05 0 1 0 -2.1 0M100.2 374.6a1.05 1.05 0 1 0 2.1 0a1.05 1.05 0 1 0 -2.1 0M102.5 374.7a1.05 1.05 0 1 0 2.1 0a1.05 1.05 0 1 0 -2.1 0M105.0 374.3a1.05 1.05 0 1 0 2.1 0a1.05 1.05 0 1 0 -2.1 0M107.5 374.4a1.05 1.05 0 1 0 2.1 0a1.05 1.05 0 1 0 -2.1 0M110.4 374.4a1.05 1.05 0 1 0 2.1 0a1.05 1.05 0 1 0 -2.1 0M90.2 371.8a1.05 1.05 0 1 0 2.1 0a1.05 1.05 0 1 0 -2.1 0M92.6 371.9a1.05 1.05 0 1 0 2.1 0a1.05 1.05 0 1 0 -2.1 0M95.1 372.3a1.05 1.05 0 1 0 2.1 0a1.05 1.05 0 1 0 -2.1 0M97.7 371.8a1.05 1.05 0 1 0 2.1 0a1.05 1.05 0 1 0 -2.1 0M100.0 372.2a1.05 1.05 0 1 0 2.1 0a1.05 1.05 0 1 0 -2.1 0M103.0 371.8a1.05 1.05 0 1 0 2.1 0a1.05 1.05 0 1 0 -2.1 0M105.3 372.3a1.05 1.05 0 1 0 2.1 0a1.05 1.05 0 1 0 -2.1 0M108.0 372.0a1.05 1.05 0 1 0 2.1 0a1.05 1.05 0 1 0 -2.1 0M110.6 372.1a1.05 1.05 0 1 0 2.1 0a1.05 1.05 0 1 0 -2.1 0M90.2 369.4a1.05 1.05 0 1 0 2.1 0a1.05 1.05 0 1 0 -2.1 0M92.8 369.7a1.05 1.05 0 1 0 2.1 0a1.05 1.05 0 1 0 -2.1 0M95.0 369.5a1.05 1.05 0 1 0 2.1 0a1.05 1.05 0 1 0 -2.1 0M97.4 369.9a1.05 1.05 0 1 0 2.1 0a1.05 1.05 0 1 0 -2.1 0M100.3 369.5a1.05 1.05 0 1 0 2.1 0a1.05 1.05 0 1 0 -2.1 0M102.6 369.5a1.05 1.05 0 1 0 2.1 0a1.05 1.05 0 1 0 -2.1 0M105.0 369.6a1.05 1.05 0 1 0 2.1 0a1.05 1.05 0 1 0 -2.1 0M107.7 370.1a1.05 1.05 0 1 0 2.1 0a1.05 1.05 0 1 0 -2.1 0M110.7 370.0a1.05 1.05 0 1 0 2.1 0a1.05 1.05 0 1 0 -2.1 0M89.9 367.4a1.05 1.05 0 1 0 2.1 0a1.05 1.05 0 1 0 -2.1 0M92.7 367.7a1.05 1.05 0 1 0 2.1 0a1.05 1.05 0 1 0 -2.1 0M95.2 367.5a1.05 1.05 0 1 0 2.1 0a1.05 1.05 0 1 0 -2.1 0M97.4 367.5a1.05 1.05 0 1 0 2.1 0a1.05 1.05 0 1 0 -2.1 0M100.4 367.6a1.05 1.05 0 1 0 2.1 0a1.05 1.05 0 1 0 -2.1 0M102.4 367.6a1.05 1.05 0 1 0 2.1 0a1.05 1.05 0 1 0 -2.1 0M105.1 367.2a1.05 1.05 0 1 0 2.1 0a1.05 1.05 0 1 0 -2.1 0M108.1 367.5a1.05 1.05 0 1 0 2.1 0a1.05 1.05 0 1 0 -2.1 0M110.5 367.1a1.05 1.05 0 1 0 2.1 0a1.05 1.05 0 1 0 -2.1 0M90.2 365.3a1.05 1.05 0 1 0 2.1 0a1.05 1.05 0 1 0 -2.1 0M92.8 365.2a1.05 1.05 0 1 0 2.1 0a1.05 1.05 0 1 0 -2.1 0M95.3 365.3a1.05 1.05 0 1 0 2.1 0a1.05 1.05 0 1 0 -2.1 0M97.7 365.0a1.05 1.05 0 1 0 2.1 0a1.05 1.05 0 1 0 -2.1 0M100.4 365.2a1.05 1.05 0 1 0 2.1 0a1.05 1.05 0 1 0 -2.1 0M103.0 364.9a1.05 1.05 0 1 0 2.1 0a1.05 1.05 0 1 0 -2.1 0M105.6 365.1a1.05 1.05 0 1 0 2.1 0a1.05 1.05 0 1 0 -2.1 0M108.1 364.8a1.05 1.05 0 1 0 2.1 0a1.05 1.05 0 1 0 -2.1 0M110.7 365.2a1.05 1.05 0 1 0 2.1 0a1.05 1.05 0 1 0 -2.1 0M89.8 362.9a1.05 1.05 0 1 0 2.1 0a1.05 1.05 0 1 0 -2.1 0M92.3 362.5a1.05 1.05 0 1 0 2.1 0a1.05 1.05 0 1 0 -2.1 0M95.0 362.5a1.05 1.05 0 1 0 2.1 0a1.05 1.05 0 1 0 -2.1 0M97.6 363.0a1.05 1.05 0 1 0 2.1 0a1.05 1.05 0 1 0 -2.1 0M100.3 362.8a1.05 1.05 0 1 0 2.1 0a1.05 1.05 0 1 0 -2.1 0M102.6 362.9a1.05 1.05 0 1 0 2.1 0a1.05 1.05 0 1 0 -2.1 0M105.5 362.8a1.05 1.05 0 1 0 2.1 0a1.05 1.05 0 1 0 -2.1 0M108.1 362.9a1.05 1.05 0 1 0 2.1 0a1.05 1.05 0 1 0 -2.1 0M110.3 362.4a1.05 1.05 0 1 0 2.1 0a1.05 1.05 0 1 0 -2.1 0M90.1 360.5a1.05 1.05 0 1 0 2.1 0a1.05 1.05 0 1 0 -2.1 0M92.4 360.4a1.05 1.05 0 1 0 2.1 0a1.05 1.05 0 1 0 -2.1 0M95.3 360.5a1.05 1.05 0 1 0 2.1 0a1.05 1.05 0 1 0 -2.1 0M97.3 360.3a1.05 1.05 0 1 0 2.1 0a1.05 1.05 0 1 0 -2.1 0M99.8 360.0a1.05 1.05 0 1 0 2.1 0a1.05 1.05 0 1 0 -2.1 0M102.9 360.3a1.05 1.05 0 1 0 2.1 0a1.05 1.05 0 1 0 -2.1 0M105.3 360.3a1.05 1.05 0 1 0 2.1 0a1.05 1.05 0 1 0 -2.1 0M107.7 360.1a1.05 1.05 0 1 0 2.1 0a1.05 1.05 0 1 0 -2.1 0M110.2 360.5a1.05 1.05 0 1 0 2.1 0a1.05 1.05 0 1 0 -2.1 0M90.0 357.8a1.05 1.05 0 1 0 2.1 0a1.05 1.05 0 1 0 -2.1 0M92.2 357.8a1.05 1.05 0 1 0 2.1 0a1.05 1.05 0 1 0 -2.1 0M95.2 357.9a1.05 1.05 0 1 0 2.1 0a1.05 1.05 0 1 0 -2.1 0M97.7 358.2a1.05 1.05 0 1 0 2.1 0a1.05 1.05 0 1 0 -2.1 0M99.9 358.1a1.05 1.05 0 1 0 2.1 0a1.05 1.05 0 1 0 -2.1 0M102.4 358.2a1.05 1.05 0 1 0 2.1 0a1.05 1.05 0 1 0 -2.1 0M105.0 357.8a1.05 1.05 0 1 0 2.1 0a1.05 1.05 0 1 0 -2.1 0M108.1 357.8a1.05 1.05 0 1 0 2.1 0a1.05 1.05 0 1 0 -2.1 0M110.2 358.2a1.05 1.05 0 1 0 2.1 0a1.05 1.05 0 1 0 -2.1 0M90.0 355.9a1.05 1.05 0 1 0 2.1 0a1.05 1.05 0 1 0 -2.1 0M92.4 355.6a1.05 1.05 0 1 0 2.1 0a1.05 1.05 0 1 0 -2.1 0M95.4 355.6a1.05 1.05 0 1 0 2.1 0a1.05 1.05 0 1 0 -2.1 0M97.9 355.4a1.05 1.05 0 1 0 2.1 0a1.05 1.05 0 1 0 -2.1 0M100.4 355.3a1.05 1.05 0 1 0 2.1 0a1.05 1.05 0 1 0 -2.1 0M102.7 355.2a1.05 1.05 0 1 0 2.1 0a1.05 1.05 0 1 0 -2.1 0M105.0 355.9a1.05 1.05 0 1 0 2.1 0a1.05 1.05 0 1 0 -2.1 0M107.8 355.8a1.05 1.05 0 1 0 2.1 0a1.05 1.05 0 1 0 -2.1 0M110.2 355.5a1.05 1.05 0 1 0 2.1 0a1.05 1.05 0 1 0 -2.1 0M89.7 353.2a1.05 1.05 0 1 0 2.1 0a1.05 1.05 0 1 0 -2.1 0M92.8 353.2a1.05 1.05 0 1 0 2.1 0a1.05 1.05 0 1 0 -2.1 0M95.0 353.5a1.05 1.05 0 1 0 2.1 0a1.05 1.05 0 1 0 -2.1 0M97.9 353.3a1.05 1.05 0 1 0 2.1 0a1.05 1.05 0 1 0 -2.1 0M99.9 353.3a1.05 1.05 0 1 0 2.1 0a1.05 1.05 0 1 0 -2.1 0M102.7 353.5a1.05 1.05 0 1 0 2.1 0a1.05 1.05 0 1 0 -2.1 0M105.2 353.3a1.05 1.05 0 1 0 2.1 0a1.05 1.05 0 1 0 -2.1 0M107.9 353.1a1.05 1.05 0 1 0 2.1 0a1.05 1.05 0 1 0 -2.1 0M110.4 353.3a1.05 1.05 0 1 0 2.1 0a1.05 1.05 0 1 0 -2.1 0M91.5 351.4a1.05 1.05 0 1 0 2.1 0a1.05 1.05 0 1 0 -2.1 0M93.7 351.8a1.05 1.05 0 1 0 2.1 0a1.05 1.05 0 1 0 -2.1 0M96.0 351.7a1.05 1.05 0 1 0 2.1 0a1.05 1.05 0 1 0 -2.1 0M99.0 351.5a1.05 1.05 0 1 0 2.1 0a1.05 1.05 0 1 0 -2.1 0M101.4 351.6a1.05 1.05 0 1 0 2.1 0a1.05 1.05 0 1 0 -2.1 0M104.2 351.6a1.05 1.05 0 1 0 2.1 0a1.05 1.05 0 1 0 -2.1 0M106.7 351.1a1.05 1.05 0 1 0 2.1 0a1.05 1.05 0 1 0 -2.1 0M109.0 351.2a1.05 1.05 0 1 0 2.1 0a1.05 1.05 0 1 0 -2.1 0M96.6 349.9a1.05 1.05 0 1 0 2.1 0a1.05 1.05 0 1 0 -2.1 0M98.6 349.7a1.05 1.05 0 1 0 2.1 0a1.05 1.05 0 1 0 -2.1 0M101.5 349.3a1.05 1.05 0 1 0 2.1 0a1.05 1.05 0 1 0 -2.1 0M103.9 349.8a1.05 1.05 0 1 0 2.1 0a1.05 1.05 0 1 0 -2.1 0M96.4 347.7a1.05 1.05 0 1 0 2.1 0a1.05 1.05 0 1 0 -2.1 0M99.1 347.7a1.05 1.05 0 1 0 2.1 0a1.05 1.05 0 1 0 -2.1 0M101.5 347.8a1.05 1.05 0 1 0 2.1 0a1.05 1.05 0 1 0 -2.1 0M104.3 348.0a1.05 1.05 0 1 0 2.1 0a1.05 1.05 0 1 0 -2.1 0M95.3 346.2a1.05 1.05 0 1 0 2.1 0a1.05 1.05 0 1 0 -2.1 0M97.5 346.4a1.05 1.05 0 1 0 2.1 0a1.05 1.05 0 1 0 -2.1 0M100.3 346.2a1.05 1.05 0 1 0 2.1 0a1.05 1.05 0 1 0 -2.1 0M102.5 345.9a1.05 1.05 0 1 0 2.1 0a1.05 1.05 0 1 0 -2.1 0M105.3 346.3a1.05 1.05 0 1 0 2.1 0a1.05 1.05 0 1 0 -2.1 0M96.5 344.2a1.05 1.05 0 1 0 2.1 0a1.05 1.05 0 1 0 -2.1 0M98.6 344.4a1.05 1.05 0 1 0 2.1 0a1.05 1.05 0 1 0 -2.1 0M101.7 344.1a1.05 1.05 0 1 0 2.1 0a1.05 1.05 0 1 0 -2.1 0M104.1 344.1a1.05 1.05 0 1 0 2.1 0a1.05 1.05 0 1 0 -2.1 0M94.9 342.3a1.05 1.05 0 1 0 2.1 0a1.05 1.05 0 1 0 -2.1 0M97.5 342.5a1.05 1.05 0 1 0 2.1 0a1.05 1.05 0 1 0 -2.1 0M100.5 342.9a1.05 1.05 0 1 0 2.1 0a1.05 1.05 0 1 0 -2.1 0M102.5 342.4a1.05 1.05 0 1 0 2.1 0a1.05 1.05 0 1 0 -2.1 0M105.6 342.4a1.05 1.05 0 1 0 2.1 0a1.05 1.05 0 1 0 -2.1 0M96.2 340.2a1.05 1.05 0 1 0 2.1 0a1.05 1.05 0 1 0 -2.1 0M98.6 340.0a1.05 1.05 0 1 0 2.1 0a1.05 1.05 0 1 0 -2.1 0M101.4 340.1a1.05 1.05 0 1 0 2.1 0a1.05 1.05 0 1 0 -2.1 0M104.3 340.0a1.05 1.05 0 1 0 2.1 0a1.05 1.05 0 1 0 -2.1 0M97.4 338.7a1.05 1.05 0 1 0 2.1 0a1.05 1.05 0 1 0 -2.1 0M100.1 338.7a1.05 1.05 0 1 0 2.1 0a1.05 1.05 0 1 0 -2.1 0M102.8 338.6a1.05 1.05 0 1 0 2.1 0a1.05 1.05 0 1 0 -2.1 0M96.2 336.4a1.05 1.05 0 1 0 2.1 0a1.05 1.05 0 1 0 -2.1 0M99.1 336.6a1.05 1.05 0 1 0 2.1 0a1.05 1.05 0 1 0 -2.1 0M101.5 336.8a1.05 1.05 0 1 0 2.1 0a1.05 1.05 0 1 0 -2.1 0M104.2 336.5a1.05 1.05 0 1 0 2.1 0a1.05 1.05 0 1 0 -2.1 0M97.5 334.6a1.05 1.05 0 1 0 2.1 0a1.05 1.05 0 1 0 -2.1 0M100.2 334.1a1.05 1.05 0 1 0 2.1 0a1.05 1.05 0 1 0 -2.1 0M102.8 334.1a1.05 1.05 0 1 0 2.1 0a1.05 1.05 0 1 0 -2.1 0M96.5 332.2a1.05 1.05 0 1 0 2.1 0a1.05 1.05 0 1 0 -2.1 0M99.1 332.6a1.05 1.05 0 1 0 2.1 0a1.05 1.05 0 1 0 -2.1 0M101.3 332.8a1.05 1.05 0 1 0 2.1 0a1.05 1.05 0 1 0 -2.1 0M103.8 332.3a1.05 1.05 0 1 0 2.1 0a1.05 1.05 0 1 0 -2.1 0M97.3 330.2a1.05 1.05 0 1 0 2.1 0a1.05 1.05 0 1 0 -2.1 0M100.3 330.3a1.05 1.05 0 1 0 2.1 0a1.05 1.05 0 1 0 -2.1 0M102.6 330.4a1.05 1.05 0 1 0 2.1 0a1.05 1.05 0 1 0 -2.1 0M96.1 328.2a1.05 1.05 0 1 0 2.1 0a1.05 1.05 0 1 0 -2.1 0M99.0 328.7a1.05 1.05 0 1 0 2.1 0a1.05 1.05 0 1 0 -2.1 0M101.5 328.5a1.05 1.05 0 1 0 2.1 0a1.05 1.05 0 1 0 -2.1 0M104.2 328.3a1.05 1.05 0 1 0 2.1 0a1.05 1.05 0 1 0 -2.1 0M97.9 326.2a1.05 1.05 0 1 0 2.1 0a1.05 1.05 0 1 0 -2.1 0M100.0 325.9a1.05 1.05 0 1 0 2.1 0a1.05 1.05 0 1 0 -2.1 0M102.9 325.9a1.05 1.05 0 1 0 2.1 0a1.05 1.05 0 1 0 -2.1 0M89.7 323.9a1.05 1.05 0 1 0 2.1 0a1.05 1.05 0 1 0 -2.1 0M92.5 323.7a1.05 1.05 0 1 0 2.1 0a1.05 1.05 0 1 0 -2.1 0M95.2 323.9a1.05 1.05 0 1 0 2.1 0a1.05 1.05 0 1 0 -2.1 0M97.3 323.5a1.05 1.05 0 1 0 2.1 0a1.05 1.05 0 1 0 -2.1 0M99.8 323.6a1.05 1.05 0 1 0 2.1 0a1.05 1.05 0 1 0 -2.1 0M102.7 323.9a1.05 1.05 0 1 0 2.1 0a1.05 1.05 0 1 0 -2.1 0M105.4 323.7a1.05 1.05 0 1 0 2.1 0a1.05 1.05 0 1 0 -2.1 0M107.7 323.7a1.05 1.05 0 1 0 2.1 0a1.05 1.05 0 1 0 -2.1 0M110.2 323.9a1.05 1.05 0 1 0 2.1 0a1.05 1.05 0 1 0 -2.1 0M94.0 321.5a1.05 1.05 0 1 0 2.1 0a1.05 1.05 0 1 0 -2.1 0M96.1 321.4a1.05 1.05 0 1 0 2.1 0a1.05 1.05 0 1 0 -2.1 0M99.1 321.3a1.05 1.05 0 1 0 2.1 0a1.05 1.05 0 1 0 -2.1 0M101.7 321.6a1.05 1.05 0 1 0 2.1 0a1.05 1.05 0 1 0 -2.1 0M104.1 321.5a1.05 1.05 0 1 0 2.1 0a1.05 1.05 0 1 0 -2.1 0M106.6 321.5a1.05 1.05 0 1 0 2.1 0a1.05 1.05 0 1 0 -2.1 0M96.1 319.1a1.05 1.05 0 1 0 2.1 0a1.05 1.05 0 1 0 -2.1 0M99.0 319.0a1.05 1.05 0 1 0 2.1 0a1.05 1.05 0 1 0 -2.1 0M101.3 318.6a1.05 1.05 0 1 0 2.1 0a1.05 1.05 0 1 0 -2.1 0M104.0 319.1a1.05 1.05 0 1 0 2.1 0a1.05 1.05 0 1 0 -2.1 0M94.9 315.2a1.05 1.05 0 1 0 2.1 0a1.05 1.05 0 1 0 -2.1 0M97.4 315.1a1.05 1.05 0 1 0 2.1 0a1.05 1.05 0 1 0 -2.1 0M100.3 315.7a1.05 1.05 0 1 0 2.1 0a1.05 1.05 0 1 0 -2.1 0M102.9 315.3a1.05 1.05 0 1 0 2.1 0a1.05 1.05 0 1 0 -2.1 0M105.4 315.1a1.05 1.05 0 1 0 2.1 0a1.05 1.05 0 1 0 -2.1 0" fill="#ff8c00"/>
<path d="M136.3 374.4a1.0 1.0 0 1 0 2.0 0a1.0 1.0 0 1 0 -2.0 0M138.0 374.6a1.0 1.0 0 1 0 2.0 0a1.0 1.0 0 1 0 -2.0 0M140.4 374.3a1.0 1.0 0 1 0 2.0 0a1.0 1.0 0 1 0 -2.0 0M142.6 374.5a1.0 1.0 0 1 0 2.0 0a1.0 1.0 0 1 0 -2.0 0M137.2 371.8a1.0 1.0 0 1 0 2.0 0a1.0 1.0 0 1 0 -2.0 0M139.2 371.8a1.0 1.0 0 1 0 2.0 0a1.0 1.0 0 1 0 -2.0 0M141.5 371.4a1.0 1.0 0 1 0 2.0 0a1.0 1.0 0 1 0 -2.0 0M133.8 367.9a1.0 1.0 0 1 0 2.0 0a1.0 1.0 0 1 0 -2.0 0M135.9 368.0a1.0 1.0 0 1 0 2.0 0a1.0 1.0 0 1 0 -2.0 0M138.2 368.2a1.0 1.0 0 1 0 2.0 0a1.0 1.0 0 1 0 -2.0 0M140.4 368.2a1.0 1.0 0 1 0 2.0 0a1.0 1.0 0 1 0 -2.0 0M143.2 368.0a1.0 1.0 0 1 0 2.0 0a1.0 1.0 0 1 0 -2.0 0M144.9 368.2a1.0 1.0 0 1 0 2.0 0a1.0 1.0 0 1 0 -2.0 0M136.9 365.0a1.0 1.0 0 1 0 2.0 0a1.0 1.0 0 1 0 -2.0 0M139.4 364.7a1.0 1.0 0 1 0 2.0 0a1.0 1.0 0 1 0 -2.0 0M141.9 365.2a1.0 1.0 0 1 0 2.0 0a1.0 1.0 0 1 0 -2.0 0M135.0 363.2a1.0 1.0 0 1 0 2.0 0a1.0 1.0 0 1 0 -2.0 0M137.2 363.3a1.0 1.0 0 1 0 2.0 0a1.0 1.0 0 1 0 -2.0 0M139.3 363.5a1.0 1.0 0 1 0 2.0 0a1.0 1.0 0 1 0 -2.0 0M142.1 363.5a1.0 1.0 0 1 0 2.0 0a1.0 1.0 0 1 0 -2.0 0M144.4 363.1a1.0 1.0 0 1 0 2.0 0a1.0 1.0 0 1 0 -2.0 0M130.6 360.6a1.0 1.0 0 1 0 2.0 0a1.0 1.0 0 1 0 -2.0 0M132.6 360.6a1.0 1.0 0 1 0 2.0 0a1.0 1.0 0 1 0 -2.0 0M134.9 361.0a1.0 1.0 0 1 0 2.0 0a1.0 1.0 0 1 0 -2.0 0M137.3 360.9a1.0 1.0 0 1 0 2.0 0a1.0 1.0 0 1 0 -2.0 0M139.4 360.7a1.0 1.0 0 1 0 2.0 0a1.0 1.0 0 1 0 -2.0 0M141.7 360.7a1.0 1.0 0 1 0 2.0 0a1.0 1.0 0 1 0 -2.0 0M143.9 361.1a1.0 1.0 0 1 0 2.0 0a1.0 1.0 0 1 0 -2.0 0M146.4 360.9a1.0 1.0 0 1 0 2.0 0a1.0 1.0 0 1 0 -2.0 0M148.5 361.0a1.0 1.0 0 1 0 2.0 0a1.0 1.0 0 1 0 -2.0 0M137.0 357.8a1.0 1.0 0 1 0 2.0 0a1.0 1.0 0 1 0 -2.0 0M139.5 358.1a1.0 1.0 0 1 0 2.0 0a1.0 1.0 0 1 0 -2.0 0M142.1 358.1a1.0 1.0 0 1 0 2.0 0a1.0 1.0 0 1 0 -2.0 0M138.7 355.3a1.0 1.0 0 1 0 2.0 0a1.0 1.0 0 1 0 -2.0 0M140.8 355.1a1.0 1.0 0 1 0 2.0 0a1.0 1.0 0 1 0 -2.0 0M139.2 350.6a1.0 1.0 0 1 0 2.0 0a1.0 1.0 0 1 0 -2.0 0M139.2 347.6a1.0 1.0 0 1 0 2.0 0a1.0 1.0 0 1 0 -2.0 0M139.7 343.8a1.0 1.0 0 1 0 2.0 0a1.0 1.0 0 1 0 -2.0 0M138.2 340.1a1.0 1.0 0 1 0 2.0 0a1.0 1.0 0 1 0 -2.0 0M140.4 340.3a1.0 1.0 0 1 0 2.0 0a1.0 1.0 0 1 0 -2.0 0M138.7 335.9a1.0 1.0 0 1 0 2.0 0a1.0 1.0 0 1 0 -2.0 0M140.3 335.8a1.0 1.0 0 1 0 2.0 0a1.0 1.0 0 1 0 -2.0 0M138.2 333.4a1.0 1.0 0 1 0 2.0 0a1.0 1.0 0 1 0 -2.0 0M140.9 333.1a1.0 1.0 0 1 0 2.0 0a1.0 1.0 0 1 0 -2.0 0M136.9 329.9a1.0 1.0 0 1 0 2.0 0a1.0 1.0 0 1 0 -2.0 0M139.3 330.3a1.0 1.0 0 1 0 2.0 0a1.0 1.0 0 1 0 -2.0 0M141.8 330.5a1.0 1.0 0 1 0 2.0 0a1.0 1.0 0 1 0 -2.0 0M136.3 327.4a1.0 1.0 0 1 0 2.0 0a1.0 1.0 0 1 0 -2.0 0M138.3 327.4a1.0 1.0 0 1 0 2.0 0a1.0 1.0 0 1 0 -2.0 0M140.4 326.9a1.0 1.0 0 1 0 2.0 0a1.0 1.0 0 1 0 -2.0 0M143.0 327.2a1.0 1.0 0 1 0 2.0 0a1.0 1.0 0 1 0 -2.0 0M133.5 324.1a1.0 1.0 0 1 0 2.0 0a1.0 1.0 0 1 0 -2.0 0M135.7 324.5a1.0 1.0 0 1 0 2.0 0a1.0 1.0 0 1 0 -2.0 0M138.5 324.5a1.0 1.0 0 1 0 2.0 0a1.0 1.0 0 1 0 -2.0 0M141.0 324.2a1.0 1.0 0 1 0 2.0 0a1.0 1.0 0 1 0 -2.0 0M143.1 324.2a1.0 1.0 0 1 0 2.0 0a1.0 1.0 0 1 0 -2.0 0M145.5 324.5a1.0 1.0 0 1 0 2.0 0a1.0 1.0 0 1 0 -2.0 0M139.2 315.0a1.0 1.0 0 1 0 2.0 0a1.0 1.0 0 1 0 -2.0 0M139.3 311.9a1.0 1.0 0 1 0 2.0 0a1.0 1.0 0 1 0 -2.0 0" fill="#ff4a4a"/>
<line x1="49.4" y1="342.4" x2="75.2" y2="342.4" stroke="#2a2a2a" stroke-width="1.45"/>
<line x1="88.2" y1="354.3" x2="114.2" y2="354.3" stroke="#2a2a2a" stroke-width="1.45"/>
<line x1="127.7" y1="349.4" x2="153.3" y2="349.4" stroke="#2a2a2a" stroke-width="1.45"/>
<text x="55.9" y="386.2" font-size="8.8" fill="#2a2a2a" textLength="12.4" lengthAdjust="spacingAndGlyphs" stroke="#2a2a2a" stroke-width="0.35">WT</text>
<text x="87.1" y="386.8" font-size="8.8" fill="#2a2a2a" textLength="34.4" lengthAdjust="spacingAndGlyphs" stroke="#2a2a2a" stroke-width="0.35">FLT3-ITD</text>
<text x="125.9" y="386.8" font-size="8.8" fill="#2a2a2a" textLength="35.4" lengthAdjust="spacingAndGlyphs" stroke="#2a2a2a" stroke-width="0.35">FLT3-TKD</text>
<text x="175.9" y="264.8" font-size="10.2" fill="#222" font-weight="bold">E</text>
<text x="216.9" y="269.4" font-size="8.2" fill="#262626" textLength="93.4" lengthAdjust="spacingAndGlyphs" stroke="#262626" stroke-width="0.22" style="white-space:pre">CEBP α  single mutant</text>
<text x="216.9" y="280.7" font-size="8.2" fill="#262626" textLength="96.5" lengthAdjust="spacingAndGlyphs" stroke="#262626" stroke-width="0.22">CEBP α double mutant</text>
<line x1="205.5" y1="288.5" x2="205.5" y2="376.5" stroke="#767676" stroke-width="1"/>
<line x1="205.5" y1="376.5" x2="321.1" y2="376.5" stroke="#767676" stroke-width="1"/>
<line x1="203.3" y1="376.5" x2="205.5" y2="376.5" stroke="#767676" stroke-width="1"/>
<text x="200.9" y="380.1" font-size="8.6" fill="#4a4a4a" text-anchor="end" stroke="#4a4a4a" stroke-width="0.2">0</text>
<line x1="203.3" y1="347.2" x2="205.5" y2="347.2" stroke="#767676" stroke-width="1"/>
<text x="200.9" y="350.8" font-size="8.6" fill="#4a4a4a" text-anchor="end" stroke="#4a4a4a" stroke-width="0.2">5</text>
<line x1="203.3" y1="317.8" x2="205.5" y2="317.8" stroke="#767676" stroke-width="1"/>
<text x="200.9" y="321.4" font-size="8.6" fill="#4a4a4a" text-anchor="end" stroke="#4a4a4a" stroke-width="0.2">10</text>
<line x1="203.3" y1="288.5" x2="205.5" y2="288.5" stroke="#767676" stroke-width="1"/>
<text x="200.9" y="292.1" font-size="8.6" fill="#4a4a4a" text-anchor="end" stroke="#4a4a4a" stroke-width="0.2">15</text>
<text x="184.2" y="329.6" font-size="8.2" fill="#4a4a4a" text-anchor="middle" textLength="43.5" lengthAdjust="spacingAndGlyphs" transform="rotate(-90 184.2 329.6)">log2 ZNF521</text>
<line x1="223.8" y1="376.2" x2="223.8" y2="378.4" stroke="#767676" stroke-width="1"/>
<line x1="262.4" y1="376.2" x2="262.4" y2="378.4" stroke="#767676" stroke-width="1"/>
<line x1="300.8" y1="376.2" x2="300.8" y2="378.4" stroke="#767676" stroke-width="1"/>
<path d="M211.1 376.4a1.0 1.0 0 1 0 2.0 0a1.0 1.0 0 1 0 -2.0 0M213.7 375.9a1.0 1.0 0 1 0 2.0 0a1.0 1.0 0 1 0 -2.0 0M216.0 375.9a1.0 1.0 0 1 0 2.0 0a1.0 1.0 0 1 0 -2.0 0M218.3 376.4a1.0 1.0 0 1 0 2.0 0a1.0 1.0 0 1 0 -2.0 0M220.6 376.0a1.0 1.0 0 1 0 2.0 0a1.0 1.0 0 1 0 -2.0 0M223.0 376.1a1.0 1.0 0 1 0 2.0 0a1.0 1.0 0 1 0 -2.0 0M225.1 376.0a1.0 1.0 0 1 0 2.0 0a1.0 1.0 0 1 0 -2.0 0M227.3 376.3a1.0 1.0 0 1 0 2.0 0a1.0 1.0 0 1 0 -2.0 0M229.8 376.2a1.0 1.0 0 1 0 2.0 0a1.0 1.0 0 1 0 -2.0 0M233.9 376.2a1.0 1.0 0 1 0 2.0 0a1.0 1.0 0 1 0 -2.0 0M211.5 374.6a1.0 1.0 0 1 0 2.0 0a1.0 1.0 0 1 0 -2.0 0M213.8 374.6a1.0 1.0 0 1 0 2.0 0a1.0 1.0 0 1 0 -2.0 0M215.7 374.7a1.0 1.0 0 1 0 2.0 0a1.0 1.0 0 1 0 -2.0 0M218.0 374.3a1.0 1.0 0 1 0 2.0 0a1.0 1.0 0 1 0 -2.0 0M220.4 374.4a1.0 1.0 0 1 0 2.0 0a1.0 1.0 0 1 0 -2.0 0M223.0 374.5a1.0 1.0 0 1 0 2.0 0a1.0 1.0 0 1 0 -2.0 0M224.8 374.2a1.0 1.0 0 1 0 2.0 0a1.0 1.0 0 1 0 -2.0 0M227.5 374.2a1.0 1.0 0 1 0 2.0 0a1.0 1.0 0 1 0 -2.0 0M232.2 374.3a1.0 1.0 0 1 0 2.0 0a1.0 1.0 0 1 0 -2.0 0M234.5 374.5a1.0 1.0 0 1 0 2.0 0a1.0 1.0 0 1 0 -2.0 0M211.3 372.5a1.0 1.0 0 1 0 2.0 0a1.0 1.0 0 1 0 -2.0 0M215.7 373.0a1.0 1.0 0 1 0 2.0 0a1.0 1.0 0 1 0 -2.0 0M218.1 372.9a1.0 1.0 0 1 0 2.0 0a1.0 1.0 0 1 0 -2.0 0M220.5 372.5a1.0 1.0 0 1 0 2.0 0a1.0 1.0 0 1 0 -2.0 0M223.0 372.9a1.0 1.0 0 1 0 2.0 0a1.0 1.0 0 1 0 -2.0 0M227.4 372.9a1.0 1.0 0 1 0 2.0 0a1.0 1.0 0 1 0 -2.0 0M229.7 372.7a1.0 1.0 0 1 0 2.0 0a1.0 1.0 0 1 0 -2.0 0M231.7 372.4a1.0 1.0 0 1 0 2.0 0a1.0 1.0 0 1 0 -2.0 0M234.1 372.6a1.0 1.0 0 1 0 2.0 0a1.0 1.0 0 1 0 -2.0 0M213.4 371.1a1.0 1.0 0 1 0 2.0 0a1.0 1.0 0 1 0 -2.0 0M215.9 370.7a1.0 1.0 0 1 0 2.0 0a1.0 1.0 0 1 0 -2.0 0M218.1 370.9a1.0 1.0 0 1 0 2.0 0a1.0 1.0 0 1 0 -2.0 0M220.8 371.0a1.0 1.0 0 1 0 2.0 0a1.0 1.0 0 1 0 -2.0 0M222.6 371.1a1.0 1.0 0 1 0 2.0 0a1.0 1.0 0 1 0 -2.0 0M225.3 370.7a1.0 1.0 0 1 0 2.0 0a1.0 1.0 0 1 0 -2.0 0M227.2 371.1a1.0 1.0 0 1 0 2.0 0a1.0 1.0 0 1 0 -2.0 0M229.7 371.2a1.0 1.0 0 1 0 2.0 0a1.0 1.0 0 1 0 -2.0 0M231.6 370.7a1.0 1.0 0 1 0 2.0 0a1.0 1.0 0 1 0 -2.0 0M234.3 371.0a1.0 1.0 0 1 0 2.0 0a1.0 1.0 0 1 0 -2.0 0M211.4 369.1a1.0 1.0 0 1 0 2.0 0a1.0 1.0 0 1 0 -2.0 0M213.8 369.4a1.0 1.0 0 1 0 2.0 0a1.0 1.0 0 1 0 -2.0 0M216.1 369.4a1.0 1.0 0 1 0 2.0 0a1.0 1.0 0 1 0 -2.0 0M218.4 368.9a1.0 1.0 0 1 0 2.0 0a1.0 1.0 0 1 0 -2.0 0M220.7 369.1a1.0 1.0 0 1 0 2.0 0a1.0 1.0 0 1 0 -2.0 0M222.6 369.4a1.0 1.0 0 1 0 2.0 0a1.0 1.0 0 1 0 -2.0 0M225.2 369.0a1.0 1.0 0 1 0 2.0 0a1.0 1.0 0 1 0 -2.0 0M227.3 369.1a1.0 1.0 0 1 0 2.0 0a1.0 1.0 0 1 0 -2.0 0M232.2 369.3a1.0 1.0 0 1 0 2.0 0a1.0 1.0 0 1 0 -2.0 0M234.4 369.4a1.0 1.0 0 1 0 2.0 0a1.0 1.0 0 1 0 -2.0 0M211.6 367.3a1.0 1.0 0 1 0 2.0 0a1.0 1.0 0 1 0 -2.0 0M213.6 367.1a1.0 1.0 0 1 0 2.0 0a1.0 1.0 0 1 0 -2.0 0M216.2 367.7a1.0 1.0 0 1 0 2.0 0a1.0 1.0 0 1 0 -2.0 0M218.4 367.6a1.0 1.0 0 1 0 2.0 0a1.0 1.0 0 1 0 -2.0 0M220.7 367.4a1.0 1.0 0 1 0 2.0 0a1.0 1.0 0 1 0 -2.0 0M223.0 367.3a1.0 1.0 0 1 0 2.0 0a1.0 1.0 0 1 0 -2.0 0M225.0 367.5a1.0 1.0 0 1 0 2.0 0a1.0 1.0 0 1 0 -2.0 0M227.2 367.4a1.0 1.0 0 1 0 2.0 0a1.0 1.0 0 1 0 -2.0 0M229.7 367.7a1.0 1.0 0 1 0 2.0 0a1.0 1.0 0 1 0 -2.0 0M232.2 367.5a1.0 1.0 0 1 0 2.0 0a1.0 1.0 0 1 0 -2.0 0M234.0 367.3a1.0 1.0 0 1 0 2.0 0a1.0 1.0 0 1 0 -2.0 0M211.6 365.4a1.0 1.0 0 1 0 2.0 0a1.0 1.0 0 1 0 -2.0 0M213.8 366.0a1.0 1.0 0 1 0 2.0 0a1.0 1.0 0 1 0 -2.0 0M215.9 365.8a1.0 1.0 0 1 0 2.0 0a1.0 1.0 0 1 0 -2.0 0M218.4 365.8a1.0 1.0 0 1 0 2.0 0a1.0 1.0 0 1 0 -2.0 0M220.4 365.4a1.0 1.0 0 1 0 2.0 0a1.0 1.0 0 1 0 -2.0 0M222.6 365.5a1.0 1.0 0 1 0 2.0 0a1.0 1.0 0 1 0 -2.0 0M225.2 365.7a1.0 1.0 0 1 0 2.0 0a1.0 1.0 0 1 0 -2.0 0M227.4 365.8a1.0 1.0 0 1 0 2.0 0a1.0 1.0 0 1 0 -2.0 0M229.4 365.4a1.0 1.0 0 1 0 2.0 0a1.0 1.0 0 1 0 -2.0 0M234.0 365.4a1.0 1.0 0 1 0 2.0 0a1.0 1.0 0 1 0 -2.0 0M211.7 364.0a1.0 1.0 0 1 0 2.0 0a1.0 1.0 0 1 0 -2.0 0M213.8 363.7a1.0 1.0 0 1 0 2.0 0a1.0 1.0 0 1 0 -2.0 0M215.8 363.9a1.0 1.0 0 1 0 2.0 0a1.0 1.0 0 1 0 -2.0 0M218.2 364.1a1.0 1.0 0 1 0 2.0 0a1.0 1.0 0 1 0 -2.0 0M222.7 364.1a1.0 1.0 0 1 0 2.0 0a1.0 1.0 0 1 0 -2.0 0M227.2 364.1a1.0 1.0 0 1 0 2.0 0a1.0 1.0 0 1 0 -2.0 0M229.7 363.8a1.0 1.0 0 1 0 2.0 0a1.0 1.0 0 1 0 -2.0 0M234.4 363.7a1.0 1.0 0 1 0 2.0 0a1.0 1.0 0 1 0 -2.0 0M211.5 362.3a1.0 1.0 0 1 0 2.0 0a1.0 1.0 0 1 0 -2.0 0M213.5 361.9a1.0 1.0 0 1 0 2.0 0a1.0 1.0 0 1 0 -2.0 0M215.9 362.3a1.0 1.0 0 1 0 2.0 0a1.0 1.0 0 1 0 -2.0 0M218.1 361.9a1.0 1.0 0 1 0 2.0 0a1.0 1.0 0 1 0 -2.0 0M222.6 362.4a1.0 1.0 0 1 0 2.0 0a1.0 1.0 0 1 0 -2.0 0M225.2 362.0a1.0 1.0 0 1 0 2.0 0a1.0 1.0 0 1 0 -2.0 0M227.2 362.1a1.0 1.0 0 1 0 2.0 0a1.0 1.0 0 1 0 -2.0 0M229.4 362.0a1.0 1.0 0 1 0 2.0 0a1.0 1.0 0 1 0 -2.0 0M231.8 362.1a1.0 1.0 0 1 0 2.0 0a1.0 1.0 0 1 0 -2.0 0M234.0 362.0a1.0 1.0 0 1 0 2.0 0a1.0 1.0 0 1 0 -2.0 0M211.3 360.3a1.0 1.0 0 1 0 2.0 0a1.0 1.0 0 1 0 -2.0 0M213.7 360.6a1.0 1.0 0 1 0 2.0 0a1.0 1.0 0 1 0 -2.0 0M218.4 360.3a1.0 1.0 0 1 0 2.0 0a1.0 1.0 0 1 0 -2.0 0M222.6 360.4a1.0 1.0 0 1 0 2.0 0a1.0 1.0 0 1 0 -2.0 0M224.8 360.2a1.0 1.0 0 1 0 2.0 0a1.0 1.0 0 1 0 -2.0 0M227.2 360.3a1.0 1.0 0 1 0 2.0 0a1.0 1.0 0 1 0 -2.0 0M229.4 360.2a1.0 1.0 0 1 0 2.0 0a1.0 1.0 0 1 0 -2.0 0M231.9 360.7a1.0 1.0 0 1 0 2.0 0a1.0 1.0 0 1 0 -2.0 0M233.9 360.2a1.0 1.0 0 1 0 2.0 0a1.0 1.0 0 1 0 -2.0 0M211.4 358.9a1.0 1.0 0 1 0 2.0 0a1.0 1.0 0 1 0 -2.0 0M213.9 358.4a1.0 1.0 0 1 0 2.0 0a1.0 1.0 0 1 0 -2.0 0M216.0 358.5a1.0 1.0 0 1 0 2.0 0a1.0 1.0 0 1 0 -2.0 0M218.5 358.5a1.0 1.0 0 1 0 2.0 0a1.0 1.0 0 1 0 -2.0 0M223.1 358.6a1.0 1.0 0 1 0 2.0 0a1.0 1.0 0 1 0 -2.0 0M224.8 358.6a1.0 1.0 0 1 0 2.0 0a1.0 1.0 0 1 0 -2.0 0M227.2 358.8a1.0 1.0 0 1 0 2.0 0a1.0 1.0 0 1 0 -2.0 0M229.4 359.0a1.0 1.0 0 1 0 2.0 0a1.0 1.0 0 1 0 -2.0 0M231.7 358.4a1.0 1.0 0 1 0 2.0 0a1.0 1.0 0 1 0 -2.0 0M234.2 358.4a1.0 1.0 0 1 0 2.0 0a1.0 1.0 0 1 0 -2.0 0M211.5 356.9a1.0 1.0 0 1 0 2.0 0a1.0 1.0 0 1 0 -2.0 0M213.7 357.0a1.0 1.0 0 1 0 2.0 0a1.0 1.0 0 1 0 -2.0 0M215.7 357.1a1.0 1.0 0 1 0 2.0 0a1.0 1.0 0 1 0 -2.0 0M218.4 357.1a1.0 1.0 0 1 0 2.0 0a1.0 1.0 0 1 0 -2.0 0M220.8 356.7a1.0 1.0 0 1 0 2.0 0a1.0 1.0 0 1 0 -2.0 0M222.9 357.1a1.0 1.0 0 1 0 2.0 0a1.0 1.0 0 1 0 -2.0 0M227.1 356.9a1.0 1.0 0 1 0 2.0 0a1.0 1.0 0 1 0 -2.0 0M229.5 357.1a1.0 1.0 0 1 0 2.0 0a1.0 1.0 0 1 0 -2.0 0M232.2 356.8a1.0 1.0 0 1 0 2.0 0a1.0 1.0 0 1 0 -2.0 0M233.9 357.2a1.0 1.0 0 1 0 2.0 0a1.0 1.0 0 1 0 -2.0 0M211.4 355.2a1.0 1.0 0 1 0 2.0 0a1.0 1.0 0 1 0 -2.0 0M213.7 355.4a1.0 1.0 0 1 0 2.0 0a1.0 1.0 0 1 0 -2.0 0M215.8 355.4a1.0 1.0 0 1 0 2.0 0a1.0 1.0 0 1 0 -2.0 0M218.5 355.1a1.0 1.0 0 1 0 2.0 0a1.0 1.0 0 1 0 -2.0 0M220.8 355.0a1.0 1.0 0 1 0 2.0 0a1.0 1.0 0 1 0 -2.0 0M222.7 355.3a1.0 1.0 0 1 0 2.0 0a1.0 1.0 0 1 0 -2.0 0M227.2 355.3a1.0 1.0 0 1 0 2.0 0a1.0 1.0 0 1 0 -2.0 0M231.8 355.1a1.0 1.0 0 1 0 2.0 0a1.0 1.0 0 1 0 -2.0 0M234.3 354.9a1.0 1.0 0 1 0 2.0 0a1.0 1.0 0 1 0 -2.0 0M211.2 353.7a1.0 1.0 0 1 0 2.0 0a1.0 1.0 0 1 0 -2.0 0M213.5 353.4a1.0 1.0 0 1 0 2.0 0a1.0 1.0 0 1 0 -2.0 0M216.2 353.1a1.0 1.0 0 1 0 2.0 0a1.0 1.0 0 1 0 -2.0 0M218.0 353.4a1.0 1.0 0 1 0 2.0 0a1.0 1.0 0 1 0 -2.0 0M220.5 353.6a1.0 1.0 0 1 0 2.0 0a1.0 1.0 0 1 0 -2.0 0M223.0 353.7a1.0 1.0 0 1 0 2.0 0a1.0 1.0 0 1 0 -2.0 0M225.3 353.3a1.0 1.0 0 1 0 2.0 0a1.0 1.0 0 1 0 -2.0 0M229.4 353.1a1.0 1.0 0 1 0 2.0 0a1.0 1.0 0 1 0 -2.0 0M231.8 353.7a1.0 1.0 0 1 0 2.0 0a1.0 1.0 0 1 0 -2.0 0M234.2 353.4a1.0 1.0 0 1 0 2.0 0a1.0 1.0 0 1 0 -2.0 0M211.6 351.7a1.0 1.0 0 1 0 2.0 0a1.0 1.0 0 1 0 -2.0 0M213.4 351.5a1.0 1.0 0 1 0 2.0 0a1.0 1.0 0 1 0 -2.0 0M216.0 351.8a1.0 1.0 0 1 0 2.0 0a1.0 1.0 0 1 0 -2.0 0M218.5 351.5a1.0 1.0 0 1 0 2.0 0a1.0 1.0 0 1 0 -2.0 0M222.8 351.5a1.0 1.0 0 1 0 2.0 0a1.0 1.0 0 1 0 -2.0 0M224.9 351.5a1.0 1.0 0 1 0 2.0 0a1.0 1.0 0 1 0 -2.0 0M227.4 351.8a1.0 1.0 0 1 0 2.0 0a1.0 1.0 0 1 0 -2.0 0M232.0 351.6a1.0 1.0 0 1 0 2.0 0a1.0 1.0 0 1 0 -2.0 0M234.4 351.3a1.0 1.0 0 1 0 2.0 0a1.0 1.0 0 1 0 -2.0 0M211.5 350.0a1.0 1.0 0 1 0 2.0 0a1.0 1.0 0 1 0 -2.0 0M213.5 350.2a1.0 1.0 0 1 0 2.0 0a1.0 1.0 0 1 0 -2.0 0M215.8 349.8a1.0 1.0 0 1 0 2.0 0a1.0 1.0 0 1 0 -2.0 0M218.1 349.8a1.0 1.0 0 1 0 2.0 0a1.0 1.0 0 1 0 -2.0 0M220.8 349.7a1.0 1.0 0 1 0 2.0 0a1.0 1.0 0 1 0 -2.0 0M222.7 350.0a1.0 1.0 0 1 0 2.0 0a1.0 1.0 0 1 0 -2.0 0M224.9 349.7a1.0 1.0 0 1 0 2.0 0a1.0 1.0 0 1 0 -2.0 0M227.2 349.6a1.0 1.0 0 1 0 2.0 0a1.0 1.0 0 1 0 -2.0 0M229.6 349.8a1.0 1.0 0 1 0 2.0 0a1.0 1.0 0 1 0 -2.0 0M234.5 349.9a1.0 1.0 0 1 0 2.0 0a1.0 1.0 0 1 0 -2.0 0M211.5 348.1a1.0 1.0 0 1 0 2.0 0a1.0 1.0 0 1 0 -2.0 0M213.7 347.8a1.0 1.0 0 1 0 2.0 0a1.0 1.0 0 1 0 -2.0 0M215.8 348.1a1.0 1.0 0 1 0 2.0 0a1.0 1.0 0 1 0 -2.0 0M218.4 348.3a1.0 1.0 0 1 0 2.0 0a1.0 1.0 0 1 0 -2.0 0M220.6 348.3a1.0 1.0 0 1 0 2.0 0a1.0 1.0 0 1 0 -2.0 0M222.6 348.3a1.0 1.0 0 1 0 2.0 0a1.0 1.0 0 1 0 -2.0 0M224.9 348.3a1.0 1.0 0 1 0 2.0 0a1.0 1.0 0 1 0 -2.0 0M227.6 348.4a1.0 1.0 0 1 0 2.0 0a1.0 1.0 0 1 0 -2.0 0M229.5 347.8a1.0 1.0 0 1 0 2.0 0a1.0 1.0 0 1 0 -2.0 0M232.1 348.0a1.0 1.0 0 1 0 2.0 0a1.0 1.0 0 1 0 -2.0 0M213.8 346.1a1.0 1.0 0 1 0 2.0 0a1.0 1.0 0 1 0 -2.0 0M215.8 346.5a1.0 1.0 0 1 0 2.0 0a1.0 1.0 0 1 0 -2.0 0M218.0 346.2a1.0 1.0 0 1 0 2.0 0a1.0 1.0 0 1 0 -2.0 0M220.8 346.2a1.0 1.0 0 1 0 2.0 0a1.0 1.0 0 1 0 -2.0 0M222.8 346.3a1.0 1.0 0 1 0 2.0 0a1.0 1.0 0 1 0 -2.0 0M225.1 346.2a1.0 1.0 0 1 0 2.0 0a1.0 1.0 0 1 0 -2.0 0M231.7 346.5a1.0 1.0 0 1 0 2.0 0a1.0 1.0 0 1 0 -2.0 0M234.1 346.6a1.0 1.0 0 1 0 2.0 0a1.0 1.0 0 1 0 -2.0 0M211.3 344.6a1.0 1.0 0 1 0 2.0 0a1.0 1.0 0 1 0 -2.0 0M213.9 344.7a1.0 1.0 0 1 0 2.0 0a1.0 1.0 0 1 0 -2.0 0M218.4 344.6a1.0 1.0 0 1 0 2.0 0a1.0 1.0 0 1 0 -2.0 0M220.4 344.8a1.0 1.0 0 1 0 2.0 0a1.0 1.0 0 1 0 -2.0 0M222.6 344.7a1.0 1.0 0 1 0 2.0 0a1.0 1.0 0 1 0 -2.0 0M225.2 344.8a1.0 1.0 0 1 0 2.0 0a1.0 1.0 0 1 0 -2.0 0M227.2 344.4a1.0 1.0 0 1 0 2.0 0a1.0 1.0 0 1 0 -2.0 0M229.7 344.4a1.0 1.0 0 1 0 2.0 0a1.0 1.0 0 1 0 -2.0 0M232.0 344.4a1.0 1.0 0 1 0 2.0 0a1.0 1.0 0 1 0 -2.0 0M234.0 344.5a1.0 1.0 0 1 0 2.0 0a1.0 1.0 0 1 0 -2.0 0M211.4 343.0a1.0 1.0 0 1 0 2.0 0a1.0 1.0 0 1 0 -2.0 0M215.8 342.7a1.0 1.0 0 1 0 2.0 0a1.0 1.0 0 1 0 -2.0 0M218.4 342.9a1.0 1.0 0 1 0 2.0 0a1.0 1.0 0 1 0 -2.0 0M220.3 342.8a1.0 1.0 0 1 0 2.0 0a1.0 1.0 0 1 0 -2.0 0M222.7 342.7a1.0 1.0 0 1 0 2.0 0a1.0 1.0 0 1 0 -2.0 0M225.2 343.1a1.0 1.0 0 1 0 2.0 0a1.0 1.0 0 1 0 -2.0 0M227.6 343.1a1.0 1.0 0 1 0 2.0 0a1.0 1.0 0 1 0 -2.0 0M229.5 343.0a1.0 1.0 0 1 0 2.0 0a1.0 1.0 0 1 0 -2.0 0M234.0 342.6a1.0 1.0 0 1 0 2.0 0a1.0 1.0 0 1 0 -2.0 0M211.2 341.4a1.0 1.0 0 1 0 2.0 0a1.0 1.0 0 1 0 -2.0 0M213.7 340.9a1.0 1.0 0 1 0 2.0 0a1.0 1.0 0 1 0 -2.0 0M216.0 341.1a1.0 1.0 0 1 0 2.0 0a1.0 1.0 0 1 0 -2.0 0M218.4 341.1a1.0 1.0 0 1 0 2.0 0a1.0 1.0 0 1 0 -2.0 0M220.3 340.9a1.0 1.0 0 1 0 2.0 0a1.0 1.0 0 1 0 -2.0 0M222.8 341.0a1.0 1.0 0 1 0 2.0 0a1.0 1.0 0 1 0 -2.0 0M224.9 341.0a1.0 1.0 0 1 0 2.0 0a1.0 1.0 0 1 0 -2.0 0M227.5 341.3a1.0 1.0 0 1 0 2.0 0a1.0 1.0 0 1 0 -2.0 0M229.6 341.4a1.0 1.0 0 1 0 2.0 0a1.0 1.0 0 1 0 -2.0 0M232.0 340.9a1.0 1.0 0 1 0 2.0 0a1.0 1.0 0 1 0 -2.0 0M234.3 341.0a1.0 1.0 0 1 0 2.0 0a1.0 1.0 0 1 0 -2.0 0M213.9 339.1a1.0 1.0 0 1 0 2.0 0a1.0 1.0 0 1 0 -2.0 0M216.0 339.2a1.0 1.0 0 1 0 2.0 0a1.0 1.0 0 1 0 -2.0 0M220.7 339.3a1.0 1.0 0 1 0 2.0 0a1.0 1.0 0 1 0 -2.0 0M224.8 339.6a1.0 1.0 0 1 0 2.0 0a1.0 1.0 0 1 0 -2.0 0M229.8 339.1a1.0 1.0 0 1 0 2.0 0a1.0 1.0 0 1 0 -2.0 0M231.7 339.2a1.0 1.0 0 1 0 2.0 0a1.0 1.0 0 1 0 -2.0 0M234.4 339.2a1.0 1.0 0 1 0 2.0 0a1.0 1.0 0 1 0 -2.0 0M211.6 337.6a1.0 1.0 0 1 0 2.0 0a1.0 1.0 0 1 0 -2.0 0M213.5 337.5a1.0 1.0 0 1 0 2.0 0a1.0 1.0 0 1 0 -2.0 0M215.7 337.5a1.0 1.0 0 1 0 2.0 0a1.0 1.0 0 1 0 -2.0 0M218.5 337.9a1.0 1.0 0 1 0 2.0 0a1.0 1.0 0 1 0 -2.0 0M220.8 337.7a1.0 1.0 0 1 0 2.0 0a1.0 1.0 0 1 0 -2.0 0M222.8 337.7a1.0 1.0 0 1 0 2.0 0a1.0 1.0 0 1 0 -2.0 0M224.9 337.4a1.0 1.0 0 1 0 2.0 0a1.0 1.0 0 1 0 -2.0 0M227.1 337.8a1.0 1.0 0 1 0 2.0 0a1.0 1.0 0 1 0 -2.0 0M229.5 337.5a1.0 1.0 0 1 0 2.0 0a1.0 1.0 0 1 0 -2.0 0M232.2 337.4a1.0 1.0 0 1 0 2.0 0a1.0 1.0 0 1 0 -2.0 0M234.1 337.4a1.0 1.0 0 1 0 2.0 0a1.0 1.0 0 1 0 -2.0 0M211.3 335.7a1.0 1.0 0 1 0 2.0 0a1.0 1.0 0 1 0 -2.0 0M213.9 336.1a1.0 1.0 0 1 0 2.0 0a1.0 1.0 0 1 0 -2.0 0M215.7 336.0a1.0 1.0 0 1 0 2.0 0a1.0 1.0 0 1 0 -2.0 0M218.5 336.1a1.0 1.0 0 1 0 2.0 0a1.0 1.0 0 1 0 -2.0 0M220.7 336.0a1.0 1.0 0 1 0 2.0 0a1.0 1.0 0 1 0 -2.0 0M222.7 335.8a1.0 1.0 0 1 0 2.0 0a1.0 1.0 0 1 0 -2.0 0M225.0 335.6a1.0 1.0 0 1 0 2.0 0a1.0 1.0 0 1 0 -2.0 0M227.6 335.8a1.0 1.0 0 1 0 2.0 0a1.0 1.0 0 1 0 -2.0 0M229.9 336.0a1.0 1.0 0 1 0 2.0 0a1.0 1.0 0 1 0 -2.0 0M232.2 336.0a1.0 1.0 0 1 0 2.0 0a1.0 1.0 0 1 0 -2.0 0M234.3 336.0a1.0 1.0 0 1 0 2.0 0a1.0 1.0 0 1 0 -2.0 0M211.3 334.2a1.0 1.0 0 1 0 2.0 0a1.0 1.0 0 1 0 -2.0 0M213.9 333.9a1.0 1.0 0 1 0 2.0 0a1.0 1.0 0 1 0 -2.0 0M215.9 334.3a1.0 1.0 0 1 0 2.0 0a1.0 1.0 0 1 0 -2.0 0M218.4 334.3a1.0 1.0 0 1 0 2.0 0a1.0 1.0 0 1 0 -2.0 0M220.3 334.4a1.0 1.0 0 1 0 2.0 0a1.0 1.0 0 1 0 -2.0 0M222.9 334.2a1.0 1.0 0 1 0 2.0 0a1.0 1.0 0 1 0 -2.0 0M227.4 334.1a1.0 1.0 0 1 0 2.0 0a1.0 1.0 0 1 0 -2.0 0M229.8 334.3a1.0 1.0 0 1 0 2.0 0a1.0 1.0 0 1 0 -2.0 0M231.7 334.0a1.0 1.0 0 1 0 2.0 0a1.0 1.0 0 1 0 -2.0 0M234.0 334.0a1.0 1.0 0 1 0 2.0 0a1.0 1.0 0 1 0 -2.0 0M213.5 332.1a1.0 1.0 0 1 0 2.0 0a1.0 1.0 0 1 0 -2.0 0M218.1 332.3a1.0 1.0 0 1 0 2.0 0a1.0 1.0 0 1 0 -2.0 0M220.7 332.6a1.0 1.0 0 1 0 2.0 0a1.0 1.0 0 1 0 -2.0 0M222.9 332.6a1.0 1.0 0 1 0 2.0 0a1.0 1.0 0 1 0 -2.0 0M225.3 332.5a1.0 1.0 0 1 0 2.0 0a1.0 1.0 0 1 0 -2.0 0M227.6 332.4a1.0 1.0 0 1 0 2.0 0a1.0 1.0 0 1 0 -2.0 0M229.7 332.5a1.0 1.0 0 1 0 2.0 0a1.0 1.0 0 1 0 -2.0 0M231.9 332.3a1.0 1.0 0 1 0 2.0 0a1.0 1.0 0 1 0 -2.0 0M234.3 332.2a1.0 1.0 0 1 0 2.0 0a1.0 1.0 0 1 0 -2.0 0M211.3 330.9a1.0 1.0 0 1 0 2.0 0a1.0 1.0 0 1 0 -2.0 0M213.5 330.8a1.0 1.0 0 1 0 2.0 0a1.0 1.0 0 1 0 -2.0 0M218.2 330.7a1.0 1.0 0 1 0 2.0 0a1.0 1.0 0 1 0 -2.0 0M220.3 330.6a1.0 1.0 0 1 0 2.0 0a1.0 1.0 0 1 0 -2.0 0M223.0 330.5a1.0 1.0 0 1 0 2.0 0a1.0 1.0 0 1 0 -2.0 0M225.2 330.8a1.0 1.0 0 1 0 2.0 0a1.0 1.0 0 1 0 -2.0 0M227.6 330.9a1.0 1.0 0 1 0 2.0 0a1.0 1.0 0 1 0 -2.0 0M229.6 330.7a1.0 1.0 0 1 0 2.0 0a1.0 1.0 0 1 0 -2.0 0M231.7 330.5a1.0 1.0 0 1 0 2.0 0a1.0 1.0 0 1 0 -2.0 0M234.3 330.4a1.0 1.0 0 1 0 2.0 0a1.0 1.0 0 1 0 -2.0 0M211.4 328.9a1.0 1.0 0 1 0 2.0 0a1.0 1.0 0 1 0 -2.0 0M214.0 329.1a1.0 1.0 0 1 0 2.0 0a1.0 1.0 0 1 0 -2.0 0M216.1 328.7a1.0 1.0 0 1 0 2.0 0a1.0 1.0 0 1 0 -2.0 0M218.3 329.0a1.0 1.0 0 1 0 2.0 0a1.0 1.0 0 1 0 -2.0 0M220.4 329.1a1.0 1.0 0 1 0 2.0 0a1.0 1.0 0 1 0 -2.0 0M222.5 328.8a1.0 1.0 0 1 0 2.0 0a1.0 1.0 0 1 0 -2.0 0M225.3 329.1a1.0 1.0 0 1 0 2.0 0a1.0 1.0 0 1 0 -2.0 0M227.6 328.9a1.0 1.0 0 1 0 2.0 0a1.0 1.0 0 1 0 -2.0 0M229.7 329.0a1.0 1.0 0 1 0 2.0 0a1.0 1.0 0 1 0 -2.0 0M232.0 328.7a1.0 1.0 0 1 0 2.0 0a1.0 1.0 0 1 0 -2.0 0M234.2 328.8a1.0 1.0 0 1 0 2.0 0a1.0 1.0 0 1 0 -2.0 0M211.2 326.8a1.0 1.0 0 1 0 2.0 0a1.0 1.0 0 1 0 -2.0 0M213.8 327.2a1.0 1.0 0 1 0 2.0 0a1.0 1.0 0 1 0 -2.0 0M215.8 327.1a1.0 1.0 0 1 0 2.0 0a1.0 1.0 0 1 0 -2.0 0M218.3 327.3a1.0 1.0 0 1 0 2.0 0a1.0 1.0 0 1 0 -2.0 0M220.6 327.2a1.0 1.0 0 1 0 2.0 0a1.0 1.0 0 1 0 -2.0 0M222.9 327.2a1.0 1.0 0 1 0 2.0 0a1.0 1.0 0 1 0 -2.0 0M225.3 327.3a1.0 1.0 0 1 0 2.0 0a1.0 1.0 0 1 0 -2.0 0M229.6 326.8a1.0 1.0 0 1 0 2.0 0a1.0 1.0 0 1 0 -2.0 0M234.3 326.9a1.0 1.0 0 1 0 2.0 0a1.0 1.0 0 1 0 -2.0 0M211.5 325.6a1.0 1.0 0 1 0 2.0 0a1.0 1.0 0 1 0 -2.0 0M213.8 325.2a1.0 1.0 0 1 0 2.0 0a1.0 1.0 0 1 0 -2.0 0M215.8 325.3a1.0 1.0 0 1 0 2.0 0a1.0 1.0 0 1 0 -2.0 0M218.1 325.1a1.0 1.0 0 1 0 2.0 0a1.0 1.0 0 1 0 -2.0 0M220.3 325.1a1.0 1.0 0 1 0 2.0 0a1.0 1.0 0 1 0 -2.0 0M222.8 325.1a1.0 1.0 0 1 0 2.0 0a1.0 1.0 0 1 0 -2.0 0M225.0 325.6a1.0 1.0 0 1 0 2.0 0a1.0 1.0 0 1 0 -2.0 0M227.6 325.3a1.0 1.0 0 1 0 2.0 0a1.0 1.0 0 1 0 -2.0 0M229.7 325.1a1.0 1.0 0 1 0 2.0 0a1.0 1.0 0 1 0 -2.0 0M231.7 325.5a1.0 1.0 0 1 0 2.0 0a1.0 1.0 0 1 0 -2.0 0M234.1 325.2a1.0 1.0 0 1 0 2.0 0a1.0 1.0 0 1 0 -2.0 0M211.3 323.7a1.0 1.0 0 1 0 2.0 0a1.0 1.0 0 1 0 -2.0 0M213.5 323.8a1.0 1.0 0 1 0 2.0 0a1.0 1.0 0 1 0 -2.0 0M215.7 323.8a1.0 1.0 0 1 0 2.0 0a1.0 1.0 0 1 0 -2.0 0M218.2 323.7a1.0 1.0 0 1 0 2.0 0a1.0 1.0 0 1 0 -2.0 0M220.5 323.5a1.0 1.0 0 1 0 2.0 0a1.0 1.0 0 1 0 -2.0 0M222.8 323.7a1.0 1.0 0 1 0 2.0 0a1.0 1.0 0 1 0 -2.0 0M225.3 323.4a1.0 1.0 0 1 0 2.0 0a1.0 1.0 0 1 0 -2.0 0M227.6 323.8a1.0 1.0 0 1 0 2.0 0a1.0 1.0 0 1 0 -2.0 0M229.7 323.5a1.0 1.0 0 1 0 2.0 0a1.0 1.0 0 1 0 -2.0 0M231.9 323.5a1.0 1.0 0 1 0 2.0 0a1.0 1.0 0 1 0 -2.0 0M234.0 323.8a1.0 1.0 0 1 0 2.0 0a1.0 1.0 0 1 0 -2.0 0M211.1 321.7a1.0 1.0 0 1 0 2.0 0a1.0 1.0 0 1 0 -2.0 0M220.4 321.8a1.0 1.0 0 1 0 2.0 0a1.0 1.0 0 1 0 -2.0 0M222.9 321.8a1.0 1.0 0 1 0 2.0 0a1.0 1.0 0 1 0 -2.0 0M229.8 321.7a1.0 1.0 0 1 0 2.0 0a1.0 1.0 0 1 0 -2.0 0M214.0 319.9a1.0 1.0 0 1 0 2.0 0a1.0 1.0 0 1 0 -2.0 0M218.2 320.2a1.0 1.0 0 1 0 2.0 0a1.0 1.0 0 1 0 -2.0 0M227.0 319.9a1.0 1.0 0 1 0 2.0 0a1.0 1.0 0 1 0 -2.0 0M233.9 320.3a1.0 1.0 0 1 0 2.0 0a1.0 1.0 0 1 0 -2.0 0M211.8 318.6a1.0 1.0 0 1 0 2.0 0a1.0 1.0 0 1 0 -2.0 0M216.2 318.1a1.0 1.0 0 1 0 2.0 0a1.0 1.0 0 1 0 -2.0 0M218.6 318.2a1.0 1.0 0 1 0 2.0 0a1.0 1.0 0 1 0 -2.0 0M223.0 318.4a1.0 1.0 0 1 0 2.0 0a1.0 1.0 0 1 0 -2.0 0M224.7 318.1a1.0 1.0 0 1 0 2.0 0a1.0 1.0 0 1 0 -2.0 0M231.7 318.1a1.0 1.0 0 1 0 2.0 0a1.0 1.0 0 1 0 -2.0 0M216.2 316.8a1.0 1.0 0 1 0 2.0 0a1.0 1.0 0 1 0 -2.0 0M220.5 316.5a1.0 1.0 0 1 0 2.0 0a1.0 1.0 0 1 0 -2.0 0M227.6 316.7a1.0 1.0 0 1 0 2.0 0a1.0 1.0 0 1 0 -2.0 0M221.3 314.8a1.0 1.0 0 1 0 2.0 0a1.0 1.0 0 1 0 -2.0 0M223.7 314.8a1.0 1.0 0 1 0 2.0 0a1.0 1.0 0 1 0 -2.0 0M226.4 314.8a1.0 1.0 0 1 0 2.0 0a1.0 1.0 0 1 0 -2.0 0M228.9 314.7a1.0 1.0 0 1 0 2.0 0a1.0 1.0 0 1 0 -2.0 0" fill="#12cf12"/>
<path d="M261.3 321.6a1.05 1.05 0 1 0 2.1 0a1.05 1.05 0 1 0 -2.1 0M261.6 328.5a1.05 1.05 0 1 0 2.1 0a1.05 1.05 0 1 0 -2.1 0M261.4 335.0a1.05 1.05 0 1 0 2.1 0a1.05 1.05 0 1 0 -2.1 0M261.1 344.0a1.05 1.05 0 1 0 2.1 0a1.05 1.05 0 1 0 -2.1 0M260.0 356.0a1.05 1.05 0 1 0 2.1 0a1.05 1.05 0 1 0 -2.1 0M263.1 356.5a1.05 1.05 0 1 0 2.1 0a1.05 1.05 0 1 0 -2.1 0M259.9 362.4a1.05 1.05 0 1 0 2.1 0a1.05 1.05 0 1 0 -2.1 0M263.1 362.7a1.05 1.05 0 1 0 2.1 0a1.05 1.05 0 1 0 -2.1 0M261.5 369.8a1.05 1.05 0 1 0 2.1 0a1.05 1.05 0 1 0 -2.1 0M261.5 375.6a1.05 1.05 0 1 0 2.1 0a1.05 1.05 0 1 0 -2.1 0" fill="#ff8c00"/>
<path d="M300.1 325.7a1.05 1.05 0 1 0 2.1 0a1.05 1.05 0 1 0 -2.1 0M300.1 341.8a1.05 1.05 0 1 0 2.1 0a1.05 1.05 0 1 0 -2.1 0M294.6 356.8a1.05 1.05 0 1 0 2.1 0a1.05 1.05 0 1 0 -2.1 0M297.1 357.2a1.05 1.05 0 1 0 2.1 0a1.05 1.05 0 1 0 -2.1 0M300.0 357.1a1.05 1.05 0 1 0 2.1 0a1.05 1.05 0 1 0 -2.1 0M302.5 357.2a1.05 1.05 0 1 0 2.1 0a1.05 1.05 0 1 0 -2.1 0M304.9 356.8a1.05 1.05 0 1 0 2.1 0a1.05 1.05 0 1 0 -2.1 0M294.9 362.0a1.05 1.05 0 1 0 2.1 0a1.05 1.05 0 1 0 -2.1 0M297.3 361.9a1.05 1.05 0 1 0 2.1 0a1.05 1.05 0 1 0 -2.1 0M300.0 362.2a1.05 1.05 0 1 0 2.1 0a1.05 1.05 0 1 0 -2.1 0M302.1 362.5a1.05 1.05 0 1 0 2.1 0a1.05 1.05 0 1 0 -2.1 0M304.5 362.5a1.05 1.05 0 1 0 2.1 0a1.05 1.05 0 1 0 -2.1 0M298.7 368.9a1.05 1.05 0 1 0 2.1 0a1.05 1.05 0 1 0 -2.1 0M301.2 369.2a1.05 1.05 0 1 0 2.1 0a1.05 1.05 0 1 0 -2.1 0M300.0 372.2a1.05 1.05 0 1 0 2.1 0a1.05 1.05 0 1 0 -2.1 0M292.2 376.5a1.05 1.05 0 1 0 2.1 0a1.05 1.05 0 1 0 -2.1 0M294.5 376.4a1.05 1.05 0 1 0 2.1 0a1.05 1.05 0 1 0 -2.1 0M297.0 376.0a1.05 1.05 0 1 0 2.1 0a1.05 1.05 0 1 0 -2.1 0M299.5 376.5a1.05 1.05 0 1 0 2.1 0a1.05 1.05 0 1 0 -2.1 0M302.2 376.4a1.05 1.05 0 1 0 2.1 0a1.05 1.05 0 1 0 -2.1 0M304.6 376.4a1.05 1.05 0 1 0 2.1 0a1.05 1.05 0 1 0 -2.1 0M307.4 375.9a1.05 1.05 0 1 0 2.1 0a1.05 1.05 0 1 0 -2.1 0" fill="#ff2020"/>
<line x1="211.0" y1="346.7" x2="236.6" y2="346.7" stroke="#2a2a2a" stroke-width="1.45"/>
<line x1="249.8" y1="351.1" x2="275.0" y2="351.1" stroke="#2a2a2a" stroke-width="1.45"/>
<line x1="288.0" y1="363.9" x2="313.6" y2="363.9" stroke="#2a2a2a" stroke-width="1.45"/>
<text x="217.4" y="387.2" font-size="8.8" fill="#2a2a2a" textLength="12.4" lengthAdjust="spacingAndGlyphs" stroke="#2a2a2a" stroke-width="0.35">WT</text>
<text x="251.2" y="388.3" font-size="8.8" fill="#2a2a2a" textLength="25.5" lengthAdjust="spacingAndGlyphs" stroke="#2a2a2a" stroke-width="0.35">CEBPα</text>
<text x="253.9" y="397.3" font-size="8.8" fill="#2a2a2a" textLength="20.8" lengthAdjust="spacingAndGlyphs" stroke="#2a2a2a" stroke-width="0.35">single</text>
<text x="294.0" y="388.3" font-size="8.8" fill="#2a2a2a" textLength="24.5" lengthAdjust="spacingAndGlyphs" stroke="#2a2a2a" stroke-width="0.35">CEBPα</text>
<text x="295.0" y="397.3" font-size="8.8" fill="#2a2a2a" textLength="25.5" lengthAdjust="spacingAndGlyphs" stroke="#2a2a2a" stroke-width="0.35">double</text>
<text x="344.6" y="265.1" font-size="10.2" fill="#222" font-weight="bold">F</text>
<text x="404.1" y="269.0" font-size="8.2" fill="#262626" textLength="60.3" lengthAdjust="spacingAndGlyphs" stroke="#262626" stroke-width="0.22">NPM1 mutant</text>
<line x1="374.5" y1="287.6" x2="374.5" y2="375.5" stroke="#767676" stroke-width="1"/>
<line x1="374.5" y1="375.5" x2="495.8" y2="375.5" stroke="#767676" stroke-width="1"/>
<line x1="372.3" y1="375.5" x2="374.5" y2="375.5" stroke="#767676" stroke-width="1"/>
<text x="369.9" y="379.1" font-size="8.6" fill="#4a4a4a" text-anchor="end" stroke="#4a4a4a" stroke-width="0.2">0</text>
<line x1="372.3" y1="346.2" x2="374.5" y2="346.2" stroke="#767676" stroke-width="1"/>
<text x="369.9" y="349.8" font-size="8.6" fill="#4a4a4a" text-anchor="end" stroke="#4a4a4a" stroke-width="0.2">5</text>
<line x1="372.3" y1="316.9" x2="374.5" y2="316.9" stroke="#767676" stroke-width="1"/>
<text x="369.9" y="320.5" font-size="8.6" fill="#4a4a4a" text-anchor="end" stroke="#4a4a4a" stroke-width="0.2">10</text>
<line x1="372.3" y1="287.6" x2="374.5" y2="287.6" stroke="#767676" stroke-width="1"/>
<text x="369.9" y="291.2" font-size="8.6" fill="#4a4a4a" text-anchor="end" stroke="#4a4a4a" stroke-width="0.2">15</text>
<text x="353.2" y="328.2" font-size="8.2" fill="#4a4a4a" text-anchor="middle" textLength="43.5" lengthAdjust="spacingAndGlyphs" transform="rotate(-90 353.2 328.2)">log2 ZNF521</text>
<line x1="404.3" y1="375.7" x2="404.3" y2="377.9" stroke="#767676" stroke-width="1"/>
<line x1="464.7" y1="375.7" x2="464.7" y2="377.9" stroke="#767676" stroke-width="1"/>
<path d="M395.4 313.2a1.0 1.0 0 1 0 2.0 0a1.0 1.0 0 1 0 -2.0 0M397.6 313.2a1.0 1.0 0 1 0 2.0 0a1.0 1.0 0 1 0 -2.0 0M399.8 313.1a1.0 1.0 0 1 0 2.0 0a1.0 1.0 0 1 0 -2.0 0M402.3 313.3a1.0 1.0 0 1 0 2.0 0a1.0 1.0 0 1 0 -2.0 0M404.6 313.1a1.0 1.0 0 1 0 2.0 0a1.0 1.0 0 1 0 -2.0 0M406.7 313.3a1.0 1.0 0 1 0 2.0 0a1.0 1.0 0 1 0 -2.0 0M409.0 313.1a1.0 1.0 0 1 0 2.0 0a1.0 1.0 0 1 0 -2.0 0M411.3 313.1a1.0 1.0 0 1 0 2.0 0a1.0 1.0 0 1 0 -2.0 0M391.1 315.8a1.0 1.0 0 1 0 2.0 0a1.0 1.0 0 1 0 -2.0 0M393.0 315.9a1.0 1.0 0 1 0 2.0 0a1.0 1.0 0 1 0 -2.0 0M395.3 315.9a1.0 1.0 0 1 0 2.0 0a1.0 1.0 0 1 0 -2.0 0M397.5 316.0a1.0 1.0 0 1 0 2.0 0a1.0 1.0 0 1 0 -2.0 0M399.9 315.9a1.0 1.0 0 1 0 2.0 0a1.0 1.0 0 1 0 -2.0 0M402.0 315.8a1.0 1.0 0 1 0 2.0 0a1.0 1.0 0 1 0 -2.0 0M404.4 315.7a1.0 1.0 0 1 0 2.0 0a1.0 1.0 0 1 0 -2.0 0M406.8 315.6a1.0 1.0 0 1 0 2.0 0a1.0 1.0 0 1 0 -2.0 0M408.9 315.6a1.0 1.0 0 1 0 2.0 0a1.0 1.0 0 1 0 -2.0 0M411.3 315.9a1.0 1.0 0 1 0 2.0 0a1.0 1.0 0 1 0 -2.0 0M413.2 315.8a1.0 1.0 0 1 0 2.0 0a1.0 1.0 0 1 0 -2.0 0M415.7 315.9a1.0 1.0 0 1 0 2.0 0a1.0 1.0 0 1 0 -2.0 0M391.0 318.4a1.0 1.0 0 1 0 2.0 0a1.0 1.0 0 1 0 -2.0 0M393.3 318.3a1.0 1.0 0 1 0 2.0 0a1.0 1.0 0 1 0 -2.0 0M395.3 318.6a1.0 1.0 0 1 0 2.0 0a1.0 1.0 0 1 0 -2.0 0M397.5 318.3a1.0 1.0 0 1 0 2.0 0a1.0 1.0 0 1 0 -2.0 0M399.9 318.4a1.0 1.0 0 1 0 2.0 0a1.0 1.0 0 1 0 -2.0 0M402.0 318.6a1.0 1.0 0 1 0 2.0 0a1.0 1.0 0 1 0 -2.0 0M404.4 318.5a1.0 1.0 0 1 0 2.0 0a1.0 1.0 0 1 0 -2.0 0M406.6 318.6a1.0 1.0 0 1 0 2.0 0a1.0 1.0 0 1 0 -2.0 0M408.8 318.6a1.0 1.0 0 1 0 2.0 0a1.0 1.0 0 1 0 -2.0 0M411.2 318.6a1.0 1.0 0 1 0 2.0 0a1.0 1.0 0 1 0 -2.0 0M413.5 318.5a1.0 1.0 0 1 0 2.0 0a1.0 1.0 0 1 0 -2.0 0M415.7 318.6a1.0 1.0 0 1 0 2.0 0a1.0 1.0 0 1 0 -2.0 0M388.7 320.9a1.0 1.0 0 1 0 2.0 0a1.0 1.0 0 1 0 -2.0 0M391.1 321.2a1.0 1.0 0 1 0 2.0 0a1.0 1.0 0 1 0 -2.0 0M393.2 321.2a1.0 1.0 0 1 0 2.0 0a1.0 1.0 0 1 0 -2.0 0M395.3 321.1a1.0 1.0 0 1 0 2.0 0a1.0 1.0 0 1 0 -2.0 0M397.8 321.3a1.0 1.0 0 1 0 2.0 0a1.0 1.0 0 1 0 -2.0 0M400.1 320.9a1.0 1.0 0 1 0 2.0 0a1.0 1.0 0 1 0 -2.0 0M402.2 321.1a1.0 1.0 0 1 0 2.0 0a1.0 1.0 0 1 0 -2.0 0M404.4 320.9a1.0 1.0 0 1 0 2.0 0a1.0 1.0 0 1 0 -2.0 0M406.5 321.1a1.0 1.0 0 1 0 2.0 0a1.0 1.0 0 1 0 -2.0 0M408.9 321.0a1.0 1.0 0 1 0 2.0 0a1.0 1.0 0 1 0 -2.0 0M411.1 321.1a1.0 1.0 0 1 0 2.0 0a1.0 1.0 0 1 0 -2.0 0M413.5 321.1a1.0 1.0 0 1 0 2.0 0a1.0 1.0 0 1 0 -2.0 0M415.5 321.2a1.0 1.0 0 1 0 2.0 0a1.0 1.0 0 1 0 -2.0 0M417.9 321.3a1.0 1.0 0 1 0 2.0 0a1.0 1.0 0 1 0 -2.0 0M385.5 323.6a1.0 1.0 0 1 0 2.0 0a1.0 1.0 0 1 0 -2.0 0M387.6 323.9a1.0 1.0 0 1 0 2.0 0a1.0 1.0 0 1 0 -2.0 0M389.8 323.7a1.0 1.0 0 1 0 2.0 0a1.0 1.0 0 1 0 -2.0 0M392.0 323.5a1.0 1.0 0 1 0 2.0 0a1.0 1.0 0 1 0 -2.0 0M394.2 323.6a1.0 1.0 0 1 0 2.0 0a1.0 1.0 0 1 0 -2.0 0M396.5 323.8a1.0 1.0 0 1 0 2.0 0a1.0 1.0 0 1 0 -2.0 0M398.8 323.9a1.0 1.0 0 1 0 2.0 0a1.0 1.0 0 1 0 -2.0 0M401.1 323.7a1.0 1.0 0 1 0 2.0 0a1.0 1.0 0 1 0 -2.0 0M403.5 323.8a1.0 1.0 0 1 0 2.0 0a1.0 1.0 0 1 0 -2.0 0M405.6 323.9a1.0 1.0 0 1 0 2.0 0a1.0 1.0 0 1 0 -2.0 0M407.9 323.7a1.0 1.0 0 1 0 2.0 0a1.0 1.0 0 1 0 -2.0 0M410.1 323.6a1.0 1.0 0 1 0 2.0 0a1.0 1.0 0 1 0 -2.0 0M412.5 323.6a1.0 1.0 0 1 0 2.0 0a1.0 1.0 0 1 0 -2.0 0M414.7 323.5a1.0 1.0 0 1 0 2.0 0a1.0 1.0 0 1 0 -2.0 0M416.6 323.7a1.0 1.0 0 1 0 2.0 0a1.0 1.0 0 1 0 -2.0 0M418.9 323.7a1.0 1.0 0 1 0 2.0 0a1.0 1.0 0 1 0 -2.0 0M421.1 323.9a1.0 1.0 0 1 0 2.0 0a1.0 1.0 0 1 0 -2.0 0M384.2 326.4a1.0 1.0 0 1 0 2.0 0a1.0 1.0 0 1 0 -2.0 0M386.6 326.6a1.0 1.0 0 1 0 2.0 0a1.0 1.0 0 1 0 -2.0 0M388.7 326.4a1.0 1.0 0 1 0 2.0 0a1.0 1.0 0 1 0 -2.0 0M390.7 326.2a1.0 1.0 0 1 0 2.0 0a1.0 1.0 0 1 0 -2.0 0M393.1 326.6a1.0 1.0 0 1 0 2.0 0a1.0 1.0 0 1 0 -2.0 0M395.4 326.4a1.0 1.0 0 1 0 2.0 0a1.0 1.0 0 1 0 -2.0 0M397.5 326.3a1.0 1.0 0 1 0 2.0 0a1.0 1.0 0 1 0 -2.0 0M400.1 326.4a1.0 1.0 0 1 0 2.0 0a1.0 1.0 0 1 0 -2.0 0M402.3 326.2a1.0 1.0 0 1 0 2.0 0a1.0 1.0 0 1 0 -2.0 0M404.3 326.2a1.0 1.0 0 1 0 2.0 0a1.0 1.0 0 1 0 -2.0 0M406.8 326.2a1.0 1.0 0 1 0 2.0 0a1.0 1.0 0 1 0 -2.0 0M409.1 326.3a1.0 1.0 0 1 0 2.0 0a1.0 1.0 0 1 0 -2.0 0M411.3 326.4a1.0 1.0 0 1 0 2.0 0a1.0 1.0 0 1 0 -2.0 0M413.4 326.6a1.0 1.0 0 1 0 2.0 0a1.0 1.0 0 1 0 -2.0 0M415.6 326.4a1.0 1.0 0 1 0 2.0 0a1.0 1.0 0 1 0 -2.0 0M417.8 326.5a1.0 1.0 0 1 0 2.0 0a1.0 1.0 0 1 0 -2.0 0M420.4 326.2a1.0 1.0 0 1 0 2.0 0a1.0 1.0 0 1 0 -2.0 0M422.5 326.3a1.0 1.0 0 1 0 2.0 0a1.0 1.0 0 1 0 -2.0 0M384.0 329.0a1.0 1.0 0 1 0 2.0 0a1.0 1.0 0 1 0 -2.0 0M386.5 329.2a1.0 1.0 0 1 0 2.0 0a1.0 1.0 0 1 0 -2.0 0M388.9 329.2a1.0 1.0 0 1 0 2.0 0a1.0 1.0 0 1 0 -2.0 0M391.0 329.1a1.0 1.0 0 1 0 2.0 0a1.0 1.0 0 1 0 -2.0 0M393.0 329.1a1.0 1.0 0 1 0 2.0 0a1.0 1.0 0 1 0 -2.0 0M395.4 329.0a1.0 1.0 0 1 0 2.0 0a1.0 1.0 0 1 0 -2.0 0M397.8 328.9a1.0 1.0 0 1 0 2.0 0a1.0 1.0 0 1 0 -2.0 0M399.8 328.9a1.0 1.0 0 1 0 2.0 0a1.0 1.0 0 1 0 -2.0 0M402.0 329.0a1.0 1.0 0 1 0 2.0 0a1.0 1.0 0 1 0 -2.0 0M404.5 328.9a1.0 1.0 0 1 0 2.0 0a1.0 1.0 0 1 0 -2.0 0M406.7 329.0a1.0 1.0 0 1 0 2.0 0a1.0 1.0 0 1 0 -2.0 0M408.9 329.0a1.0 1.0 0 1 0 2.0 0a1.0 1.0 0 1 0 -2.0 0M411.2 328.8a1.0 1.0 0 1 0 2.0 0a1.0 1.0 0 1 0 -2.0 0M413.2 329.0a1.0 1.0 0 1 0 2.0 0a1.0 1.0 0 1 0 -2.0 0M415.6 329.1a1.0 1.0 0 1 0 2.0 0a1.0 1.0 0 1 0 -2.0 0M417.8 329.1a1.0 1.0 0 1 0 2.0 0a1.0 1.0 0 1 0 -2.0 0M420.1 328.8a1.0 1.0 0 1 0 2.0 0a1.0 1.0 0 1 0 -2.0 0M422.4 329.0a1.0 1.0 0 1 0 2.0 0a1.0 1.0 0 1 0 -2.0 0M384.1 331.8a1.0 1.0 0 1 0 2.0 0a1.0 1.0 0 1 0 -2.0 0M386.3 331.7a1.0 1.0 0 1 0 2.0 0a1.0 1.0 0 1 0 -2.0 0M388.8 331.6a1.0 1.0 0 1 0 2.0 0a1.0 1.0 0 1 0 -2.0 0M390.9 331.8a1.0 1.0 0 1 0 2.0 0a1.0 1.0 0 1 0 -2.0 0M393.2 331.5a1.0 1.0 0 1 0 2.0 0a1.0 1.0 0 1 0 -2.0 0M395.3 331.5a1.0 1.0 0 1 0 2.0 0a1.0 1.0 0 1 0 -2.0 0M397.6 331.5a1.0 1.0 0 1 0 2.0 0a1.0 1.0 0 1 0 -2.0 0M400.0 331.6a1.0 1.0 0 1 0 2.0 0a1.0 1.0 0 1 0 -2.0 0M402.1 331.7a1.0 1.0 0 1 0 2.0 0a1.0 1.0 0 1 0 -2.0 0M404.6 331.5a1.0 1.0 0 1 0 2.0 0a1.0 1.0 0 1 0 -2.0 0M406.5 331.6a1.0 1.0 0 1 0 2.0 0a1.0 1.0 0 1 0 -2.0 0M408.9 331.8a1.0 1.0 0 1 0 2.0 0a1.0 1.0 0 1 0 -2.0 0M411.3 331.6a1.0 1.0 0 1 0 2.0 0a1.0 1.0 0 1 0 -2.0 0M413.3 331.5a1.0 1.0 0 1 0 2.0 0a1.0 1.0 0 1 0 -2.0 0M415.5 331.8a1.0 1.0 0 1 0 2.0 0a1.0 1.0 0 1 0 -2.0 0M418.0 331.5a1.0 1.0 0 1 0 2.0 0a1.0 1.0 0 1 0 -2.0 0M420.2 331.5a1.0 1.0 0 1 0 2.0 0a1.0 1.0 0 1 0 -2.0 0M422.4 331.6a1.0 1.0 0 1 0 2.0 0a1.0 1.0 0 1 0 -2.0 0M384.0 334.4a1.0 1.0 0 1 0 2.0 0a1.0 1.0 0 1 0 -2.0 0M386.5 334.3a1.0 1.0 0 1 0 2.0 0a1.0 1.0 0 1 0 -2.0 0M388.5 334.4a1.0 1.0 0 1 0 2.0 0a1.0 1.0 0 1 0 -2.0 0M390.9 334.4a1.0 1.0 0 1 0 2.0 0a1.0 1.0 0 1 0 -2.0 0M393.0 334.5a1.0 1.0 0 1 0 2.0 0a1.0 1.0 0 1 0 -2.0 0M395.2 334.2a1.0 1.0 0 1 0 2.0 0a1.0 1.0 0 1 0 -2.0 0M397.6 334.2a1.0 1.0 0 1 0 2.0 0a1.0 1.0 0 1 0 -2.0 0M399.8 334.4a1.0 1.0 0 1 0 2.0 0a1.0 1.0 0 1 0 -2.0 0M402.4 334.2a1.0 1.0 0 1 0 2.0 0a1.0 1.0 0 1 0 -2.0 0M404.3 334.4a1.0 1.0 0 1 0 2.0 0a1.0 1.0 0 1 0 -2.0 0M406.6 334.3a1.0 1.0 0 1 0 2.0 0a1.0 1.0 0 1 0 -2.0 0M409.0 334.3a1.0 1.0 0 1 0 2.0 0a1.0 1.0 0 1 0 -2.0 0M411.0 334.1a1.0 1.0 0 1 0 2.0 0a1.0 1.0 0 1 0 -2.0 0M413.4 334.5a1.0 1.0 0 1 0 2.0 0a1.0 1.0 0 1 0 -2.0 0M415.8 334.1a1.0 1.0 0 1 0 2.0 0a1.0 1.0 0 1 0 -2.0 0M417.9 334.3a1.0 1.0 0 1 0 2.0 0a1.0 1.0 0 1 0 -2.0 0M420.1 334.4a1.0 1.0 0 1 0 2.0 0a1.0 1.0 0 1 0 -2.0 0M422.4 334.4a1.0 1.0 0 1 0 2.0 0a1.0 1.0 0 1 0 -2.0 0M385.2 337.1a1.0 1.0 0 1 0 2.0 0a1.0 1.0 0 1 0 -2.0 0M387.7 336.9a1.0 1.0 0 1 0 2.0 0a1.0 1.0 0 1 0 -2.0 0M389.7 336.9a1.0 1.0 0 1 0 2.0 0a1.0 1.0 0 1 0 -2.0 0M391.9 337.0a1.0 1.0 0 1 0 2.0 0a1.0 1.0 0 1 0 -2.0 0M394.4 337.0a1.0 1.0 0 1 0 2.0 0a1.0 1.0 0 1 0 -2.0 0M396.7 336.8a1.0 1.0 0 1 0 2.0 0a1.0 1.0 0 1 0 -2.0 0M398.9 337.1a1.0 1.0 0 1 0 2.0 0a1.0 1.0 0 1 0 -2.0 0M400.9 336.9a1.0 1.0 0 1 0 2.0 0a1.0 1.0 0 1 0 -2.0 0M403.1 337.0a1.0 1.0 0 1 0 2.0 0a1.0 1.0 0 1 0 -2.0 0M405.6 336.9a1.0 1.0 0 1 0 2.0 0a1.0 1.0 0 1 0 -2.0 0M407.9 336.9a1.0 1.0 0 1 0 2.0 0a1.0 1.0 0 1 0 -2.0 0M410.1 336.8a1.0 1.0 0 1 0 2.0 0a1.0 1.0 0 1 0 -2.0 0M412.5 336.9a1.0 1.0 0 1 0 2.0 0a1.0 1.0 0 1 0 -2.0 0M414.4 336.8a1.0 1.0 0 1 0 2.0 0a1.0 1.0 0 1 0 -2.0 0M416.9 337.1a1.0 1.0 0 1 0 2.0 0a1.0 1.0 0 1 0 -2.0 0M419.1 336.8a1.0 1.0 0 1 0 2.0 0a1.0 1.0 0 1 0 -2.0 0M421.4 337.0a1.0 1.0 0 1 0 2.0 0a1.0 1.0 0 1 0 -2.0 0M386.3 339.5a1.0 1.0 0 1 0 2.0 0a1.0 1.0 0 1 0 -2.0 0M388.7 339.4a1.0 1.0 0 1 0 2.0 0a1.0 1.0 0 1 0 -2.0 0M390.7 339.5a1.0 1.0 0 1 0 2.0 0a1.0 1.0 0 1 0 -2.0 0M393.3 339.8a1.0 1.0 0 1 0 2.0 0a1.0 1.0 0 1 0 -2.0 0M395.4 339.7a1.0 1.0 0 1 0 2.0 0a1.0 1.0 0 1 0 -2.0 0M397.8 339.7a1.0 1.0 0 1 0 2.0 0a1.0 1.0 0 1 0 -2.0 0M400.0 339.8a1.0 1.0 0 1 0 2.0 0a1.0 1.0 0 1 0 -2.0 0M402.2 339.8a1.0 1.0 0 1 0 2.0 0a1.0 1.0 0 1 0 -2.0 0M404.5 339.5a1.0 1.0 0 1 0 2.0 0a1.0 1.0 0 1 0 -2.0 0M406.7 339.6a1.0 1.0 0 1 0 2.0 0a1.0 1.0 0 1 0 -2.0 0M408.9 339.5a1.0 1.0 0 1 0 2.0 0a1.0 1.0 0 1 0 -2.0 0M411.2 339.6a1.0 1.0 0 1 0 2.0 0a1.0 1.0 0 1 0 -2.0 0M413.3 339.5a1.0 1.0 0 1 0 2.0 0a1.0 1.0 0 1 0 -2.0 0M415.7 339.6a1.0 1.0 0 1 0 2.0 0a1.0 1.0 0 1 0 -2.0 0M417.9 339.6a1.0 1.0 0 1 0 2.0 0a1.0 1.0 0 1 0 -2.0 0M420.0 339.6a1.0 1.0 0 1 0 2.0 0a1.0 1.0 0 1 0 -2.0 0M386.3 342.3a1.0 1.0 0 1 0 2.0 0a1.0 1.0 0 1 0 -2.0 0M388.8 342.3a1.0 1.0 0 1 0 2.0 0a1.0 1.0 0 1 0 -2.0 0M390.9 342.1a1.0 1.0 0 1 0 2.0 0a1.0 1.0 0 1 0 -2.0 0M393.3 342.2a1.0 1.0 0 1 0 2.0 0a1.0 1.0 0 1 0 -2.0 0M395.4 342.1a1.0 1.0 0 1 0 2.0 0a1.0 1.0 0 1 0 -2.0 0M397.6 342.3a1.0 1.0 0 1 0 2.0 0a1.0 1.0 0 1 0 -2.0 0M400.1 342.2a1.0 1.0 0 1 0 2.0 0a1.0 1.0 0 1 0 -2.0 0M402.3 342.1a1.0 1.0 0 1 0 2.0 0a1.0 1.0 0 1 0 -2.0 0M404.4 342.2a1.0 1.0 0 1 0 2.0 0a1.0 1.0 0 1 0 -2.0 0M406.6 342.2a1.0 1.0 0 1 0 2.0 0a1.0 1.0 0 1 0 -2.0 0M409.0 342.3a1.0 1.0 0 1 0 2.0 0a1.0 1.0 0 1 0 -2.0 0M411.1 342.1a1.0 1.0 0 1 0 2.0 0a1.0 1.0 0 1 0 -2.0 0M413.5 342.3a1.0 1.0 0 1 0 2.0 0a1.0 1.0 0 1 0 -2.0 0M415.7 342.3a1.0 1.0 0 1 0 2.0 0a1.0 1.0 0 1 0 -2.0 0M418.0 342.1a1.0 1.0 0 1 0 2.0 0a1.0 1.0 0 1 0 -2.0 0M420.0 342.2a1.0 1.0 0 1 0 2.0 0a1.0 1.0 0 1 0 -2.0 0M387.4 345.0a1.0 1.0 0 1 0 2.0 0a1.0 1.0 0 1 0 -2.0 0M389.8 344.9a1.0 1.0 0 1 0 2.0 0a1.0 1.0 0 1 0 -2.0 0M392.2 345.0a1.0 1.0 0 1 0 2.0 0a1.0 1.0 0 1 0 -2.0 0M394.2 344.8a1.0 1.0 0 1 0 2.0 0a1.0 1.0 0 1 0 -2.0 0M396.4 345.0a1.0 1.0 0 1 0 2.0 0a1.0 1.0 0 1 0 -2.0 0M398.9 344.9a1.0 1.0 0 1 0 2.0 0a1.0 1.0 0 1 0 -2.0 0M401.0 344.8a1.0 1.0 0 1 0 2.0 0a1.0 1.0 0 1 0 -2.0 0M403.3 344.9a1.0 1.0 0 1 0 2.0 0a1.0 1.0 0 1 0 -2.0 0M405.7 345.0a1.0 1.0 0 1 0 2.0 0a1.0 1.0 0 1 0 -2.0 0M407.9 344.8a1.0 1.0 0 1 0 2.0 0a1.0 1.0 0 1 0 -2.0 0M410.0 344.8a1.0 1.0 0 1 0 2.0 0a1.0 1.0 0 1 0 -2.0 0M412.5 344.7a1.0 1.0 0 1 0 2.0 0a1.0 1.0 0 1 0 -2.0 0M414.4 344.8a1.0 1.0 0 1 0 2.0 0a1.0 1.0 0 1 0 -2.0 0M417.0 345.0a1.0 1.0 0 1 0 2.0 0a1.0 1.0 0 1 0 -2.0 0M419.0 345.0a1.0 1.0 0 1 0 2.0 0a1.0 1.0 0 1 0 -2.0 0M387.7 347.5a1.0 1.0 0 1 0 2.0 0a1.0 1.0 0 1 0 -2.0 0M389.7 347.6a1.0 1.0 0 1 0 2.0 0a1.0 1.0 0 1 0 -2.0 0M392.0 347.4a1.0 1.0 0 1 0 2.0 0a1.0 1.0 0 1 0 -2.0 0M394.5 347.5a1.0 1.0 0 1 0 2.0 0a1.0 1.0 0 1 0 -2.0 0M396.5 347.5a1.0 1.0 0 1 0 2.0 0a1.0 1.0 0 1 0 -2.0 0M398.7 347.3a1.0 1.0 0 1 0 2.0 0a1.0 1.0 0 1 0 -2.0 0M401.0 347.5a1.0 1.0 0 1 0 2.0 0a1.0 1.0 0 1 0 -2.0 0M403.1 347.5a1.0 1.0 0 1 0 2.0 0a1.0 1.0 0 1 0 -2.0 0M405.7 347.4a1.0 1.0 0 1 0 2.0 0a1.0 1.0 0 1 0 -2.0 0M407.9 347.6a1.0 1.0 0 1 0 2.0 0a1.0 1.0 0 1 0 -2.0 0M409.9 347.3a1.0 1.0 0 1 0 2.0 0a1.0 1.0 0 1 0 -2.0 0M412.4 347.6a1.0 1.0 0 1 0 2.0 0a1.0 1.0 0 1 0 -2.0 0M414.5 347.4a1.0 1.0 0 1 0 2.0 0a1.0 1.0 0 1 0 -2.0 0M416.9 347.7a1.0 1.0 0 1 0 2.0 0a1.0 1.0 0 1 0 -2.0 0M418.9 347.5a1.0 1.0 0 1 0 2.0 0a1.0 1.0 0 1 0 -2.0 0M387.6 350.1a1.0 1.0 0 1 0 2.0 0a1.0 1.0 0 1 0 -2.0 0M389.6 350.1a1.0 1.0 0 1 0 2.0 0a1.0 1.0 0 1 0 -2.0 0M392.1 350.2a1.0 1.0 0 1 0 2.0 0a1.0 1.0 0 1 0 -2.0 0M394.3 350.0a1.0 1.0 0 1 0 2.0 0a1.0 1.0 0 1 0 -2.0 0M396.4 350.1a1.0 1.0 0 1 0 2.0 0a1.0 1.0 0 1 0 -2.0 0M398.8 350.1a1.0 1.0 0 1 0 2.0 0a1.0 1.0 0 1 0 -2.0 0M401.2 350.0a1.0 1.0 0 1 0 2.0 0a1.0 1.0 0 1 0 -2.0 0M403.5 350.0a1.0 1.0 0 1 0 2.0 0a1.0 1.0 0 1 0 -2.0 0M405.7 350.0a1.0 1.0 0 1 0 2.0 0a1.0 1.0 0 1 0 -2.0 0M407.8 350.1a1.0 1.0 0 1 0 2.0 0a1.0 1.0 0 1 0 -2.0 0M409.9 350.3a1.0 1.0 0 1 0 2.0 0a1.0 1.0 0 1 0 -2.0 0M412.4 350.1a1.0 1.0 0 1 0 2.0 0a1.0 1.0 0 1 0 -2.0 0M414.7 350.1a1.0 1.0 0 1 0 2.0 0a1.0 1.0 0 1 0 -2.0 0M417.0 350.0a1.0 1.0 0 1 0 2.0 0a1.0 1.0 0 1 0 -2.0 0M419.0 350.0a1.0 1.0 0 1 0 2.0 0a1.0 1.0 0 1 0 -2.0 0M386.5 352.9a1.0 1.0 0 1 0 2.0 0a1.0 1.0 0 1 0 -2.0 0M388.8 352.8a1.0 1.0 0 1 0 2.0 0a1.0 1.0 0 1 0 -2.0 0M390.9 352.9a1.0 1.0 0 1 0 2.0 0a1.0 1.0 0 1 0 -2.0 0M393.0 352.7a1.0 1.0 0 1 0 2.0 0a1.0 1.0 0 1 0 -2.0 0M395.5 352.8a1.0 1.0 0 1 0 2.0 0a1.0 1.0 0 1 0 -2.0 0M397.9 352.6a1.0 1.0 0 1 0 2.0 0a1.0 1.0 0 1 0 -2.0 0M399.9 352.7a1.0 1.0 0 1 0 2.0 0a1.0 1.0 0 1 0 -2.0 0M402.0 352.6a1.0 1.0 0 1 0 2.0 0a1.0 1.0 0 1 0 -2.0 0M404.3 352.7a1.0 1.0 0 1 0 2.0 0a1.0 1.0 0 1 0 -2.0 0M406.6 352.8a1.0 1.0 0 1 0 2.0 0a1.0 1.0 0 1 0 -2.0 0M408.8 352.9a1.0 1.0 0 1 0 2.0 0a1.0 1.0 0 1 0 -2.0 0M411.2 353.0a1.0 1.0 0 1 0 2.0 0a1.0 1.0 0 1 0 -2.0 0M413.3 352.8a1.0 1.0 0 1 0 2.0 0a1.0 1.0 0 1 0 -2.0 0M415.7 352.7a1.0 1.0 0 1 0 2.0 0a1.0 1.0 0 1 0 -2.0 0M418.1 352.7a1.0 1.0 0 1 0 2.0 0a1.0 1.0 0 1 0 -2.0 0M420.3 352.7a1.0 1.0 0 1 0 2.0 0a1.0 1.0 0 1 0 -2.0 0M385.2 355.5a1.0 1.0 0 1 0 2.0 0a1.0 1.0 0 1 0 -2.0 0M387.6 355.4a1.0 1.0 0 1 0 2.0 0a1.0 1.0 0 1 0 -2.0 0M389.6 355.6a1.0 1.0 0 1 0 2.0 0a1.0 1.0 0 1 0 -2.0 0M392.0 355.3a1.0 1.0 0 1 0 2.0 0a1.0 1.0 0 1 0 -2.0 0M394.4 355.4a1.0 1.0 0 1 0 2.0 0a1.0 1.0 0 1 0 -2.0 0M396.5 355.4a1.0 1.0 0 1 0 2.0 0a1.0 1.0 0 1 0 -2.0 0M398.9 355.4a1.0 1.0 0 1 0 2.0 0a1.0 1.0 0 1 0 -2.0 0M401.0 355.6a1.0 1.0 0 1 0 2.0 0a1.0 1.0 0 1 0 -2.0 0M403.2 355.4a1.0 1.0 0 1 0 2.0 0a1.0 1.0 0 1 0 -2.0 0M405.4 355.5a1.0 1.0 0 1 0 2.0 0a1.0 1.0 0 1 0 -2.0 0M407.9 355.4a1.0 1.0 0 1 0 2.0 0a1.0 1.0 0 1 0 -2.0 0M410.0 355.3a1.0 1.0 0 1 0 2.0 0a1.0 1.0 0 1 0 -2.0 0M412.4 355.4a1.0 1.0 0 1 0 2.0 0a1.0 1.0 0 1 0 -2.0 0M414.7 355.4a1.0 1.0 0 1 0 2.0 0a1.0 1.0 0 1 0 -2.0 0M416.9 355.2a1.0 1.0 0 1 0 2.0 0a1.0 1.0 0 1 0 -2.0 0M418.9 355.6a1.0 1.0 0 1 0 2.0 0a1.0 1.0 0 1 0 -2.0 0M421.4 355.5a1.0 1.0 0 1 0 2.0 0a1.0 1.0 0 1 0 -2.0 0M385.3 358.1a1.0 1.0 0 1 0 2.0 0a1.0 1.0 0 1 0 -2.0 0M387.4 357.9a1.0 1.0 0 1 0 2.0 0a1.0 1.0 0 1 0 -2.0 0M389.9 358.2a1.0 1.0 0 1 0 2.0 0a1.0 1.0 0 1 0 -2.0 0M392.0 358.1a1.0 1.0 0 1 0 2.0 0a1.0 1.0 0 1 0 -2.0 0M394.2 358.1a1.0 1.0 0 1 0 2.0 0a1.0 1.0 0 1 0 -2.0 0M396.4 358.1a1.0 1.0 0 1 0 2.0 0a1.0 1.0 0 1 0 -2.0 0M398.7 358.1a1.0 1.0 0 1 0 2.0 0a1.0 1.0 0 1 0 -2.0 0M400.9 358.1a1.0 1.0 0 1 0 2.0 0a1.0 1.0 0 1 0 -2.0 0M403.3 357.9a1.0 1.0 0 1 0 2.0 0a1.0 1.0 0 1 0 -2.0 0M405.5 358.2a1.0 1.0 0 1 0 2.0 0a1.0 1.0 0 1 0 -2.0 0M407.8 358.1a1.0 1.0 0 1 0 2.0 0a1.0 1.0 0 1 0 -2.0 0M410.2 358.1a1.0 1.0 0 1 0 2.0 0a1.0 1.0 0 1 0 -2.0 0M412.2 358.1a1.0 1.0 0 1 0 2.0 0a1.0 1.0 0 1 0 -2.0 0M414.7 358.1a1.0 1.0 0 1 0 2.0 0a1.0 1.0 0 1 0 -2.0 0M416.9 358.0a1.0 1.0 0 1 0 2.0 0a1.0 1.0 0 1 0 -2.0 0M419.0 358.3a1.0 1.0 0 1 0 2.0 0a1.0 1.0 0 1 0 -2.0 0M421.4 358.1a1.0 1.0 0 1 0 2.0 0a1.0 1.0 0 1 0 -2.0 0M386.3 360.8a1.0 1.0 0 1 0 2.0 0a1.0 1.0 0 1 0 -2.0 0M388.5 360.9a1.0 1.0 0 1 0 2.0 0a1.0 1.0 0 1 0 -2.0 0M391.1 360.8a1.0 1.0 0 1 0 2.0 0a1.0 1.0 0 1 0 -2.0 0M393.1 360.9a1.0 1.0 0 1 0 2.0 0a1.0 1.0 0 1 0 -2.0 0M395.3 360.9a1.0 1.0 0 1 0 2.0 0a1.0 1.0 0 1 0 -2.0 0M397.7 360.5a1.0 1.0 0 1 0 2.0 0a1.0 1.0 0 1 0 -2.0 0M400.1 360.7a1.0 1.0 0 1 0 2.0 0a1.0 1.0 0 1 0 -2.0 0M402.3 360.8a1.0 1.0 0 1 0 2.0 0a1.0 1.0 0 1 0 -2.0 0M404.4 360.9a1.0 1.0 0 1 0 2.0 0a1.0 1.0 0 1 0 -2.0 0M406.6 360.9a1.0 1.0 0 1 0 2.0 0a1.0 1.0 0 1 0 -2.0 0M408.9 360.5a1.0 1.0 0 1 0 2.0 0a1.0 1.0 0 1 0 -2.0 0M411.1 360.5a1.0 1.0 0 1 0 2.0 0a1.0 1.0 0 1 0 -2.0 0M413.3 360.8a1.0 1.0 0 1 0 2.0 0a1.0 1.0 0 1 0 -2.0 0M415.5 360.6a1.0 1.0 0 1 0 2.0 0a1.0 1.0 0 1 0 -2.0 0M417.8 360.6a1.0 1.0 0 1 0 2.0 0a1.0 1.0 0 1 0 -2.0 0M420.3 360.9a1.0 1.0 0 1 0 2.0 0a1.0 1.0 0 1 0 -2.0 0M388.8 363.6a1.0 1.0 0 1 0 2.0 0a1.0 1.0 0 1 0 -2.0 0M390.9 363.5a1.0 1.0 0 1 0 2.0 0a1.0 1.0 0 1 0 -2.0 0M393.1 363.5a1.0 1.0 0 1 0 2.0 0a1.0 1.0 0 1 0 -2.0 0M395.5 363.5a1.0 1.0 0 1 0 2.0 0a1.0 1.0 0 1 0 -2.0 0M397.6 363.2a1.0 1.0 0 1 0 2.0 0a1.0 1.0 0 1 0 -2.0 0M400.1 363.4a1.0 1.0 0 1 0 2.0 0a1.0 1.0 0 1 0 -2.0 0M402.2 363.5a1.0 1.0 0 1 0 2.0 0a1.0 1.0 0 1 0 -2.0 0M404.3 363.4a1.0 1.0 0 1 0 2.0 0a1.0 1.0 0 1 0 -2.0 0M406.7 363.5a1.0 1.0 0 1 0 2.0 0a1.0 1.0 0 1 0 -2.0 0M408.9 363.2a1.0 1.0 0 1 0 2.0 0a1.0 1.0 0 1 0 -2.0 0M411.4 363.3a1.0 1.0 0 1 0 2.0 0a1.0 1.0 0 1 0 -2.0 0M413.5 363.5a1.0 1.0 0 1 0 2.0 0a1.0 1.0 0 1 0 -2.0 0M415.6 363.4a1.0 1.0 0 1 0 2.0 0a1.0 1.0 0 1 0 -2.0 0M417.9 363.3a1.0 1.0 0 1 0 2.0 0a1.0 1.0 0 1 0 -2.0 0M390.8 366.2a1.0 1.0 0 1 0 2.0 0a1.0 1.0 0 1 0 -2.0 0M393.1 366.0a1.0 1.0 0 1 0 2.0 0a1.0 1.0 0 1 0 -2.0 0M395.4 365.8a1.0 1.0 0 1 0 2.0 0a1.0 1.0 0 1 0 -2.0 0M397.8 366.1a1.0 1.0 0 1 0 2.0 0a1.0 1.0 0 1 0 -2.0 0M400.1 366.0a1.0 1.0 0 1 0 2.0 0a1.0 1.0 0 1 0 -2.0 0M402.1 365.9a1.0 1.0 0 1 0 2.0 0a1.0 1.0 0 1 0 -2.0 0M404.5 366.1a1.0 1.0 0 1 0 2.0 0a1.0 1.0 0 1 0 -2.0 0M406.6 366.0a1.0 1.0 0 1 0 2.0 0a1.0 1.0 0 1 0 -2.0 0M408.8 366.2a1.0 1.0 0 1 0 2.0 0a1.0 1.0 0 1 0 -2.0 0M411.2 366.0a1.0 1.0 0 1 0 2.0 0a1.0 1.0 0 1 0 -2.0 0M413.5 365.9a1.0 1.0 0 1 0 2.0 0a1.0 1.0 0 1 0 -2.0 0M415.8 366.0a1.0 1.0 0 1 0 2.0 0a1.0 1.0 0 1 0 -2.0 0M392.2 368.5a1.0 1.0 0 1 0 2.0 0a1.0 1.0 0 1 0 -2.0 0M394.2 368.7a1.0 1.0 0 1 0 2.0 0a1.0 1.0 0 1 0 -2.0 0M396.5 368.6a1.0 1.0 0 1 0 2.0 0a1.0 1.0 0 1 0 -2.0 0M398.8 368.5a1.0 1.0 0 1 0 2.0 0a1.0 1.0 0 1 0 -2.0 0M401.0 368.5a1.0 1.0 0 1 0 2.0 0a1.0 1.0 0 1 0 -2.0 0M403.4 368.6a1.0 1.0 0 1 0 2.0 0a1.0 1.0 0 1 0 -2.0 0M405.7 368.7a1.0 1.0 0 1 0 2.0 0a1.0 1.0 0 1 0 -2.0 0M407.8 368.7a1.0 1.0 0 1 0 2.0 0a1.0 1.0 0 1 0 -2.0 0M409.9 368.8a1.0 1.0 0 1 0 2.0 0a1.0 1.0 0 1 0 -2.0 0M412.2 368.8a1.0 1.0 0 1 0 2.0 0a1.0 1.0 0 1 0 -2.0 0M414.7 368.7a1.0 1.0 0 1 0 2.0 0a1.0 1.0 0 1 0 -2.0 0M394.4 371.3a1.0 1.0 0 1 0 2.0 0a1.0 1.0 0 1 0 -2.0 0M396.6 371.5a1.0 1.0 0 1 0 2.0 0a1.0 1.0 0 1 0 -2.0 0M398.7 371.1a1.0 1.0 0 1 0 2.0 0a1.0 1.0 0 1 0 -2.0 0M401.0 371.3a1.0 1.0 0 1 0 2.0 0a1.0 1.0 0 1 0 -2.0 0M403.2 371.2a1.0 1.0 0 1 0 2.0 0a1.0 1.0 0 1 0 -2.0 0M405.7 371.3a1.0 1.0 0 1 0 2.0 0a1.0 1.0 0 1 0 -2.0 0M407.7 371.2a1.0 1.0 0 1 0 2.0 0a1.0 1.0 0 1 0 -2.0 0M410.1 371.2a1.0 1.0 0 1 0 2.0 0a1.0 1.0 0 1 0 -2.0 0M412.3 371.3a1.0 1.0 0 1 0 2.0 0a1.0 1.0 0 1 0 -2.0 0M394.3 373.9a1.0 1.0 0 1 0 2.0 0a1.0 1.0 0 1 0 -2.0 0M396.7 373.7a1.0 1.0 0 1 0 2.0 0a1.0 1.0 0 1 0 -2.0 0M399.0 373.8a1.0 1.0 0 1 0 2.0 0a1.0 1.0 0 1 0 -2.0 0M400.9 374.0a1.0 1.0 0 1 0 2.0 0a1.0 1.0 0 1 0 -2.0 0M403.3 374.0a1.0 1.0 0 1 0 2.0 0a1.0 1.0 0 1 0 -2.0 0M405.4 374.1a1.0 1.0 0 1 0 2.0 0a1.0 1.0 0 1 0 -2.0 0M407.7 374.0a1.0 1.0 0 1 0 2.0 0a1.0 1.0 0 1 0 -2.0 0M409.9 374.0a1.0 1.0 0 1 0 2.0 0a1.0 1.0 0 1 0 -2.0 0M412.4 373.9a1.0 1.0 0 1 0 2.0 0a1.0 1.0 0 1 0 -2.0 0M383.0 375.5a1.0 1.0 0 1 0 2.0 0a1.0 1.0 0 1 0 -2.0 0M385.4 375.8a1.0 1.0 0 1 0 2.0 0a1.0 1.0 0 1 0 -2.0 0M387.4 375.7a1.0 1.0 0 1 0 2.0 0a1.0 1.0 0 1 0 -2.0 0M389.9 375.5a1.0 1.0 0 1 0 2.0 0a1.0 1.0 0 1 0 -2.0 0M392.2 375.8a1.0 1.0 0 1 0 2.0 0a1.0 1.0 0 1 0 -2.0 0M394.1 375.6a1.0 1.0 0 1 0 2.0 0a1.0 1.0 0 1 0 -2.0 0M396.4 375.6a1.0 1.0 0 1 0 2.0 0a1.0 1.0 0 1 0 -2.0 0M398.6 375.7a1.0 1.0 0 1 0 2.0 0a1.0 1.0 0 1 0 -2.0 0M401.0 375.6a1.0 1.0 0 1 0 2.0 0a1.0 1.0 0 1 0 -2.0 0M403.3 375.6a1.0 1.0 0 1 0 2.0 0a1.0 1.0 0 1 0 -2.0 0M405.7 375.8a1.0 1.0 0 1 0 2.0 0a1.0 1.0 0 1 0 -2.0 0M407.6 375.6a1.0 1.0 0 1 0 2.0 0a1.0 1.0 0 1 0 -2.0 0M409.9 375.6a1.0 1.0 0 1 0 2.0 0a1.0 1.0 0 1 0 -2.0 0M412.1 375.8a1.0 1.0 0 1 0 2.0 0a1.0 1.0 0 1 0 -2.0 0M414.7 375.9a1.0 1.0 0 1 0 2.0 0a1.0 1.0 0 1 0 -2.0 0M416.7 375.5a1.0 1.0 0 1 0 2.0 0a1.0 1.0 0 1 0 -2.0 0M419.2 375.7a1.0 1.0 0 1 0 2.0 0a1.0 1.0 0 1 0 -2.0 0M421.5 375.7a1.0 1.0 0 1 0 2.0 0a1.0 1.0 0 1 0 -2.0 0M423.5 375.5a1.0 1.0 0 1 0 2.0 0a1.0 1.0 0 1 0 -2.0 0M394.5 328.7a1.0 1.0 0 1 0 2.0 0a1.0 1.0 0 1 0 -2.0 0M396.5 328.7a1.0 1.0 0 1 0 2.0 0a1.0 1.0 0 1 0 -2.0 0M398.9 328.8a1.0 1.0 0 1 0 2.0 0a1.0 1.0 0 1 0 -2.0 0M401.0 328.6a1.0 1.0 0 1 0 2.0 0a1.0 1.0 0 1 0 -2.0 0M403.3 328.9a1.0 1.0 0 1 0 2.0 0a1.0 1.0 0 1 0 -2.0 0M405.5 328.8a1.0 1.0 0 1 0 2.0 0a1.0 1.0 0 1 0 -2.0 0M407.8 328.7a1.0 1.0 0 1 0 2.0 0a1.0 1.0 0 1 0 -2.0 0M410.1 328.6a1.0 1.0 0 1 0 2.0 0a1.0 1.0 0 1 0 -2.0 0M412.3 328.9a1.0 1.0 0 1 0 2.0 0a1.0 1.0 0 1 0 -2.0 0M395.3 332.8a1.0 1.0 0 1 0 2.0 0a1.0 1.0 0 1 0 -2.0 0M397.8 333.0a1.0 1.0 0 1 0 2.0 0a1.0 1.0 0 1 0 -2.0 0M399.7 332.9a1.0 1.0 0 1 0 2.0 0a1.0 1.0 0 1 0 -2.0 0M402.2 333.0a1.0 1.0 0 1 0 2.0 0a1.0 1.0 0 1 0 -2.0 0M404.4 332.7a1.0 1.0 0 1 0 2.0 0a1.0 1.0 0 1 0 -2.0 0M406.6 332.9a1.0 1.0 0 1 0 2.0 0a1.0 1.0 0 1 0 -2.0 0M409.0 332.7a1.0 1.0 0 1 0 2.0 0a1.0 1.0 0 1 0 -2.0 0M411.2 332.9a1.0 1.0 0 1 0 2.0 0a1.0 1.0 0 1 0 -2.0 0M396.6 337.9a1.0 1.0 0 1 0 2.0 0a1.0 1.0 0 1 0 -2.0 0M398.8 338.0a1.0 1.0 0 1 0 2.0 0a1.0 1.0 0 1 0 -2.0 0M401.1 338.0a1.0 1.0 0 1 0 2.0 0a1.0 1.0 0 1 0 -2.0 0M403.2 338.2a1.0 1.0 0 1 0 2.0 0a1.0 1.0 0 1 0 -2.0 0M405.5 338.2a1.0 1.0 0 1 0 2.0 0a1.0 1.0 0 1 0 -2.0 0M407.7 338.1a1.0 1.0 0 1 0 2.0 0a1.0 1.0 0 1 0 -2.0 0M410.2 338.0a1.0 1.0 0 1 0 2.0 0a1.0 1.0 0 1 0 -2.0 0M397.8 362.6a1.0 1.0 0 1 0 2.0 0a1.0 1.0 0 1 0 -2.0 0M400.1 362.6a1.0 1.0 0 1 0 2.0 0a1.0 1.0 0 1 0 -2.0 0M402.3 362.7a1.0 1.0 0 1 0 2.0 0a1.0 1.0 0 1 0 -2.0 0M404.3 362.7a1.0 1.0 0 1 0 2.0 0a1.0 1.0 0 1 0 -2.0 0M406.7 362.7a1.0 1.0 0 1 0 2.0 0a1.0 1.0 0 1 0 -2.0 0M408.8 362.8a1.0 1.0 0 1 0 2.0 0a1.0 1.0 0 1 0 -2.0 0M398.7 370.0a1.0 1.0 0 1 0 2.0 0a1.0 1.0 0 1 0 -2.0 0M401.0 369.8a1.0 1.0 0 1 0 2.0 0a1.0 1.0 0 1 0 -2.0 0M403.2 370.0a1.0 1.0 0 1 0 2.0 0a1.0 1.0 0 1 0 -2.0 0M405.5 369.9a1.0 1.0 0 1 0 2.0 0a1.0 1.0 0 1 0 -2.0 0M407.9 369.8a1.0 1.0 0 1 0 2.0 0a1.0 1.0 0 1 0 -2.0 0" fill="#12cf12"/>
<path d="M444.2 375.5a0.85 0.85 0 1 0 1.7 0a0.85 0.85 0 1 0 -1.7 0M446.0 375.4a0.85 0.85 0 1 0 1.7 0a0.85 0.85 0 1 0 -1.7 0M448.4 376.0a0.85 0.85 0 1 0 1.7 0a0.85 0.85 0 1 0 -1.7 0M450.4 375.7a0.85 0.85 0 1 0 1.7 0a0.85 0.85 0 1 0 -1.7 0M453.0 375.5a0.85 0.85 0 1 0 1.7 0a0.85 0.85 0 1 0 -1.7 0M454.8 375.7a0.85 0.85 0 1 0 1.7 0a0.85 0.85 0 1 0 -1.7 0M457.2 376.0a0.85 0.85 0 1 0 1.7 0a0.85 0.85 0 1 0 -1.7 0M459.7 375.5a0.85 0.85 0 1 0 1.7 0a0.85 0.85 0 1 0 -1.7 0M461.7 375.6a0.85 0.85 0 1 0 1.7 0a0.85 0.85 0 1 0 -1.7 0M463.5 375.7a0.85 0.85 0 1 0 1.7 0a0.85 0.85 0 1 0 -1.7 0M466.3 375.6a0.85 0.85 0 1 0 1.7 0a0.85 0.85 0 1 0 -1.7 0M468.3 375.8a0.85 0.85 0 1 0 1.7 0a0.85 0.85 0 1 0 -1.7 0M470.1 376.0a0.85 0.85 0 1 0 1.7 0a0.85 0.85 0 1 0 -1.7 0M472.4 375.6a0.85 0.85 0 1 0 1.7 0a0.85 0.85 0 1 0 -1.7 0M475.0 375.4a0.85 0.85 0 1 0 1.7 0a0.85 0.85 0 1 0 -1.7 0M477.0 375.4a0.85 0.85 0 1 0 1.7 0a0.85 0.85 0 1 0 -1.7 0M479.2 375.4a0.85 0.85 0 1 0 1.7 0a0.85 0.85 0 1 0 -1.7 0M481.2 375.5a0.85 0.85 0 1 0 1.7 0a0.85 0.85 0 1 0 -1.7 0M483.4 375.4a0.85 0.85 0 1 0 1.7 0a0.85 0.85 0 1 0 -1.7 0M453.7 374.0a0.85 0.85 0 1 0 1.7 0a0.85 0.85 0 1 0 -1.7 0M455.9 374.2a0.85 0.85 0 1 0 1.7 0a0.85 0.85 0 1 0 -1.7 0M458.3 373.8a0.85 0.85 0 1 0 1.7 0a0.85 0.85 0 1 0 -1.7 0M460.4 374.2a0.85 0.85 0 1 0 1.7 0a0.85 0.85 0 1 0 -1.7 0M462.4 374.1a0.85 0.85 0 1 0 1.7 0a0.85 0.85 0 1 0 -1.7 0M464.7 374.2a0.85 0.85 0 1 0 1.7 0a0.85 0.85 0 1 0 -1.7 0M467.1 374.0a0.85 0.85 0 1 0 1.7 0a0.85 0.85 0 1 0 -1.7 0M469.6 373.7a0.85 0.85 0 1 0 1.7 0a0.85 0.85 0 1 0 -1.7 0M471.2 374.1a0.85 0.85 0 1 0 1.7 0a0.85 0.85 0 1 0 -1.7 0M473.8 374.1a0.85 0.85 0 1 0 1.7 0a0.85 0.85 0 1 0 -1.7 0M451.6 372.2a0.85 0.85 0 1 0 1.7 0a0.85 0.85 0 1 0 -1.7 0M453.7 372.1a0.85 0.85 0 1 0 1.7 0a0.85 0.85 0 1 0 -1.7 0M456.0 372.2a0.85 0.85 0 1 0 1.7 0a0.85 0.85 0 1 0 -1.7 0M458.2 372.0a0.85 0.85 0 1 0 1.7 0a0.85 0.85 0 1 0 -1.7 0M460.6 371.9a0.85 0.85 0 1 0 1.7 0a0.85 0.85 0 1 0 -1.7 0M463.0 372.2a0.85 0.85 0 1 0 1.7 0a0.85 0.85 0 1 0 -1.7 0M464.8 371.9a0.85 0.85 0 1 0 1.7 0a0.85 0.85 0 1 0 -1.7 0M467.2 372.2a0.85 0.85 0 1 0 1.7 0a0.85 0.85 0 1 0 -1.7 0M469.5 372.1a0.85 0.85 0 1 0 1.7 0a0.85 0.85 0 1 0 -1.7 0M471.5 372.5a0.85 0.85 0 1 0 1.7 0a0.85 0.85 0 1 0 -1.7 0M473.6 372.5a0.85 0.85 0 1 0 1.7 0a0.85 0.85 0 1 0 -1.7 0M476.2 372.5a0.85 0.85 0 1 0 1.7 0a0.85 0.85 0 1 0 -1.7 0M447.7 370.2a0.85 0.85 0 1 0 1.7 0a0.85 0.85 0 1 0 -1.7 0M449.8 370.5a0.85 0.85 0 1 0 1.7 0a0.85 0.85 0 1 0 -1.7 0M451.5 370.8a0.85 0.85 0 1 0 1.7 0a0.85 0.85 0 1 0 -1.7 0M454.1 370.6a0.85 0.85 0 1 0 1.7 0a0.85 0.85 0 1 0 -1.7 0M456.2 370.1a0.85 0.85 0 1 0 1.7 0a0.85 0.85 0 1 0 -1.7 0M458.6 370.2a0.85 0.85 0 1 0 1.7 0a0.85 0.85 0 1 0 -1.7 0M460.4 370.5a0.85 0.85 0 1 0 1.7 0a0.85 0.85 0 1 0 -1.7 0M462.5 370.4a0.85 0.85 0 1 0 1.7 0a0.85 0.85 0 1 0 -1.7 0M465.1 370.1a0.85 0.85 0 1 0 1.7 0a0.85 0.85 0 1 0 -1.7 0M467.3 370.1a0.85 0.85 0 1 0 1.7 0a0.85 0.85 0 1 0 -1.7 0M469.3 370.5a0.85 0.85 0 1 0 1.7 0a0.85 0.85 0 1 0 -1.7 0M471.7 370.1a0.85 0.85 0 1 0 1.7 0a0.85 0.85 0 1 0 -1.7 0M473.5 370.7a0.85 0.85 0 1 0 1.7 0a0.85 0.85 0 1 0 -1.7 0M475.9 370.4a0.85 0.85 0 1 0 1.7 0a0.85 0.85 0 1 0 -1.7 0M478.1 370.6a0.85 0.85 0 1 0 1.7 0a0.85 0.85 0 1 0 -1.7 0M480.5 370.5a0.85 0.85 0 1 0 1.7 0a0.85 0.85 0 1 0 -1.7 0M445.1 368.1a0.85 0.85 0 1 0 1.7 0a0.85 0.85 0 1 0 -1.7 0M447.4 367.8a0.85 0.85 0 1 0 1.7 0a0.85 0.85 0 1 0 -1.7 0M449.9 368.4a0.85 0.85 0 1 0 1.7 0a0.85 0.85 0 1 0 -1.7 0M451.9 368.4a0.85 0.85 0 1 0 1.7 0a0.85 0.85 0 1 0 -1.7 0M453.9 368.3a0.85 0.85 0 1 0 1.7 0a0.85 0.85 0 1 0 -1.7 0M456.0 368.2a0.85 0.85 0 1 0 1.7 0a0.85 0.85 0 1 0 -1.7 0M458.5 368.4a0.85 0.85 0 1 0 1.7 0a0.85 0.85 0 1 0 -1.7 0M460.8 368.3a0.85 0.85 0 1 0 1.7 0a0.85 0.85 0 1 0 -1.7 0M462.6 368.3a0.85 0.85 0 1 0 1.7 0a0.85 0.85 0 1 0 -1.7 0M464.9 367.9a0.85 0.85 0 1 0 1.7 0a0.85 0.85 0 1 0 -1.7 0M467.1 368.3a0.85 0.85 0 1 0 1.7 0a0.85 0.85 0 1 0 -1.7 0M469.6 368.3a0.85 0.85 0 1 0 1.7 0a0.85 0.85 0 1 0 -1.7 0M471.7 367.8a0.85 0.85 0 1 0 1.7 0a0.85 0.85 0 1 0 -1.7 0M473.5 368.1a0.85 0.85 0 1 0 1.7 0a0.85 0.85 0 1 0 -1.7 0M475.7 368.0a0.85 0.85 0 1 0 1.7 0a0.85 0.85 0 1 0 -1.7 0M477.9 367.8a0.85 0.85 0 1 0 1.7 0a0.85 0.85 0 1 0 -1.7 0M480.5 367.9a0.85 0.85 0 1 0 1.7 0a0.85 0.85 0 1 0 -1.7 0M482.8 367.9a0.85 0.85 0 1 0 1.7 0a0.85 0.85 0 1 0 -1.7 0M450.9 366.2a0.85 0.85 0 1 0 1.7 0a0.85 0.85 0 1 0 -1.7 0M452.7 366.2a0.85 0.85 0 1 0 1.7 0a0.85 0.85 0 1 0 -1.7 0M454.7 366.3a0.85 0.85 0 1 0 1.7 0a0.85 0.85 0 1 0 -1.7 0M457.2 366.0a0.85 0.85 0 1 0 1.7 0a0.85 0.85 0 1 0 -1.7 0M459.7 366.2a0.85 0.85 0 1 0 1.7 0a0.85 0.85 0 1 0 -1.7 0M461.3 366.6a0.85 0.85 0 1 0 1.7 0a0.85 0.85 0 1 0 -1.7 0M463.7 366.1a0.85 0.85 0 1 0 1.7 0a0.85 0.85 0 1 0 -1.7 0M465.7 366.0a0.85 0.85 0 1 0 1.7 0a0.85 0.85 0 1 0 -1.7 0M468.4 366.4a0.85 0.85 0 1 0 1.7 0a0.85 0.85 0 1 0 -1.7 0M470.5 366.1a0.85 0.85 0 1 0 1.7 0a0.85 0.85 0 1 0 -1.7 0M472.5 366.6a0.85 0.85 0 1 0 1.7 0a0.85 0.85 0 1 0 -1.7 0M474.8 366.6a0.85 0.85 0 1 0 1.7 0a0.85 0.85 0 1 0 -1.7 0M477.3 366.0a0.85 0.85 0 1 0 1.7 0a0.85 0.85 0 1 0 -1.7 0M452.0 364.2a0.85 0.85 0 1 0 1.7 0a0.85 0.85 0 1 0 -1.7 0M454.1 364.8a0.85 0.85 0 1 0 1.7 0a0.85 0.85 0 1 0 -1.7 0M456.3 364.6a0.85 0.85 0 1 0 1.7 0a0.85 0.85 0 1 0 -1.7 0M458.6 364.3a0.85 0.85 0 1 0 1.7 0a0.85 0.85 0 1 0 -1.7 0M460.6 364.4a0.85 0.85 0 1 0 1.7 0a0.85 0.85 0 1 0 -1.7 0M462.7 364.3a0.85 0.85 0 1 0 1.7 0a0.85 0.85 0 1 0 -1.7 0M465.1 364.6a0.85 0.85 0 1 0 1.7 0a0.85 0.85 0 1 0 -1.7 0M467.3 364.6a0.85 0.85 0 1 0 1.7 0a0.85 0.85 0 1 0 -1.7 0M469.4 364.8a0.85 0.85 0 1 0 1.7 0a0.85 0.85 0 1 0 -1.7 0M471.8 364.6a0.85 0.85 0 1 0 1.7 0a0.85 0.85 0 1 0 -1.7 0M473.6 364.8a0.85 0.85 0 1 0 1.7 0a0.85 0.85 0 1 0 -1.7 0M475.9 364.3a0.85 0.85 0 1 0 1.7 0a0.85 0.85 0 1 0 -1.7 0M448.3 361.7a0.85 0.85 0 1 0 1.7 0a0.85 0.85 0 1 0 -1.7 0M451.0 361.7a0.85 0.85 0 1 0 1.7 0a0.85 0.85 0 1 0 -1.7 0M453.0 361.9a0.85 0.85 0 1 0 1.7 0a0.85 0.85 0 1 0 -1.7 0M455.2 361.6a0.85 0.85 0 1 0 1.7 0a0.85 0.85 0 1 0 -1.7 0M457.2 361.8a0.85 0.85 0 1 0 1.7 0a0.85 0.85 0 1 0 -1.7 0M459.3 361.3a0.85 0.85 0 1 0 1.7 0a0.85 0.85 0 1 0 -1.7 0M461.7 361.8a0.85 0.85 0 1 0 1.7 0a0.85 0.85 0 1 0 -1.7 0M463.7 361.7a0.85 0.85 0 1 0 1.7 0a0.85 0.85 0 1 0 -1.7 0M466.3 361.3a0.85 0.85 0 1 0 1.7 0a0.85 0.85 0 1 0 -1.7 0M468.0 361.6a0.85 0.85 0 1 0 1.7 0a0.85 0.85 0 1 0 -1.7 0M470.3 361.9a0.85 0.85 0 1 0 1.7 0a0.85 0.85 0 1 0 -1.7 0M473.0 361.6a0.85 0.85 0 1 0 1.7 0a0.85 0.85 0 1 0 -1.7 0M475.1 361.7a0.85 0.85 0 1 0 1.7 0a0.85 0.85 0 1 0 -1.7 0M476.8 361.9a0.85 0.85 0 1 0 1.7 0a0.85 0.85 0 1 0 -1.7 0M479.0 361.3a0.85 0.85 0 1 0 1.7 0a0.85 0.85 0 1 0 -1.7 0M453.9 359.5a0.85 0.85 0 1 0 1.7 0a0.85 0.85 0 1 0 -1.7 0M456.1 359.8a0.85 0.85 0 1 0 1.7 0a0.85 0.85 0 1 0 -1.7 0M458.7 359.8a0.85 0.85 0 1 0 1.7 0a0.85 0.85 0 1 0 -1.7 0M460.8 360.0a0.85 0.85 0 1 0 1.7 0a0.85 0.85 0 1 0 -1.7 0M462.8 359.7a0.85 0.85 0 1 0 1.7 0a0.85 0.85 0 1 0 -1.7 0M464.8 359.8a0.85 0.85 0 1 0 1.7 0a0.85 0.85 0 1 0 -1.7 0M467.1 359.9a0.85 0.85 0 1 0 1.7 0a0.85 0.85 0 1 0 -1.7 0M469.4 359.7a0.85 0.85 0 1 0 1.7 0a0.85 0.85 0 1 0 -1.7 0M471.6 360.2a0.85 0.85 0 1 0 1.7 0a0.85 0.85 0 1 0 -1.7 0M473.5 359.7a0.85 0.85 0 1 0 1.7 0a0.85 0.85 0 1 0 -1.7 0M455.8 357.2a0.85 0.85 0 1 0 1.7 0a0.85 0.85 0 1 0 -1.7 0M458.0 357.4a0.85 0.85 0 1 0 1.7 0a0.85 0.85 0 1 0 -1.7 0M460.8 357.6a0.85 0.85 0 1 0 1.7 0a0.85 0.85 0 1 0 -1.7 0M463.1 357.7a0.85 0.85 0 1 0 1.7 0a0.85 0.85 0 1 0 -1.7 0M465.0 357.5a0.85 0.85 0 1 0 1.7 0a0.85 0.85 0 1 0 -1.7 0M466.8 357.4a0.85 0.85 0 1 0 1.7 0a0.85 0.85 0 1 0 -1.7 0M469.2 357.6a0.85 0.85 0 1 0 1.7 0a0.85 0.85 0 1 0 -1.7 0M471.2 357.5a0.85 0.85 0 1 0 1.7 0a0.85 0.85 0 1 0 -1.7 0M458.3 355.1a0.85 0.85 0 1 0 1.7 0a0.85 0.85 0 1 0 -1.7 0M460.5 354.9a0.85 0.85 0 1 0 1.7 0a0.85 0.85 0 1 0 -1.7 0M462.9 355.4a0.85 0.85 0 1 0 1.7 0a0.85 0.85 0 1 0 -1.7 0M465.0 354.9a0.85 0.85 0 1 0 1.7 0a0.85 0.85 0 1 0 -1.7 0M467.2 355.4a0.85 0.85 0 1 0 1.7 0a0.85 0.85 0 1 0 -1.7 0M469.7 355.3a0.85 0.85 0 1 0 1.7 0a0.85 0.85 0 1 0 -1.7 0M458.0 353.6a0.85 0.85 0 1 0 1.7 0a0.85 0.85 0 1 0 -1.7 0M460.7 353.2a0.85 0.85 0 1 0 1.7 0a0.85 0.85 0 1 0 -1.7 0M463.0 353.6a0.85 0.85 0 1 0 1.7 0a0.85 0.85 0 1 0 -1.7 0M465.2 353.2a0.85 0.85 0 1 0 1.7 0a0.85 0.85 0 1 0 -1.7 0M467.2 353.3a0.85 0.85 0 1 0 1.7 0a0.85 0.85 0 1 0 -1.7 0M469.2 353.6a0.85 0.85 0 1 0 1.7 0a0.85 0.85 0 1 0 -1.7 0M460.6 350.3a0.85 0.85 0 1 0 1.7 0a0.85 0.85 0 1 0 -1.7 0M462.8 350.7a0.85 0.85 0 1 0 1.7 0a0.85 0.85 0 1 0 -1.7 0M465.0 350.7a0.85 0.85 0 1 0 1.7 0a0.85 0.85 0 1 0 -1.7 0M467.2 350.8a0.85 0.85 0 1 0 1.7 0a0.85 0.85 0 1 0 -1.7 0M459.1 347.5a0.85 0.85 0 1 0 1.7 0a0.85 0.85 0 1 0 -1.7 0M461.7 347.7a0.85 0.85 0 1 0 1.7 0a0.85 0.85 0 1 0 -1.7 0M464.2 347.6a0.85 0.85 0 1 0 1.7 0a0.85 0.85 0 1 0 -1.7 0M466.0 347.6a0.85 0.85 0 1 0 1.7 0a0.85 0.85 0 1 0 -1.7 0M468.3 347.7a0.85 0.85 0 1 0 1.7 0a0.85 0.85 0 1 0 -1.7 0M460.9 345.4a0.85 0.85 0 1 0 1.7 0a0.85 0.85 0 1 0 -1.7 0M462.6 346.0a0.85 0.85 0 1 0 1.7 0a0.85 0.85 0 1 0 -1.7 0M464.6 345.9a0.85 0.85 0 1 0 1.7 0a0.85 0.85 0 1 0 -1.7 0M466.8 345.8a0.85 0.85 0 1 0 1.7 0a0.85 0.85 0 1 0 -1.7 0M459.7 343.2a0.85 0.85 0 1 0 1.7 0a0.85 0.85 0 1 0 -1.7 0M461.6 343.2a0.85 0.85 0 1 0 1.7 0a0.85 0.85 0 1 0 -1.7 0M464.0 343.4a0.85 0.85 0 1 0 1.7 0a0.85 0.85 0 1 0 -1.7 0M466.1 343.3a0.85 0.85 0 1 0 1.7 0a0.85 0.85 0 1 0 -1.7 0M468.3 343.7a0.85 0.85 0 1 0 1.7 0a0.85 0.85 0 1 0 -1.7 0M458.5 342.0a0.85 0.85 0 1 0 1.7 0a0.85 0.85 0 1 0 -1.7 0M460.4 341.6a0.85 0.85 0 1 0 1.7 0a0.85 0.85 0 1 0 -1.7 0M462.7 341.5a0.85 0.85 0 1 0 1.7 0a0.85 0.85 0 1 0 -1.7 0M465.2 341.4a0.85 0.85 0 1 0 1.7 0a0.85 0.85 0 1 0 -1.7 0M467.2 341.8a0.85 0.85 0 1 0 1.7 0a0.85 0.85 0 1 0 -1.7 0M469.7 341.3a0.85 0.85 0 1 0 1.7 0a0.85 0.85 0 1 0 -1.7 0M460.4 335.2a0.85 0.85 0 1 0 1.7 0a0.85 0.85 0 1 0 -1.7 0M463.1 334.9a0.85 0.85 0 1 0 1.7 0a0.85 0.85 0 1 0 -1.7 0M465.2 335.1a0.85 0.85 0 1 0 1.7 0a0.85 0.85 0 1 0 -1.7 0M467.2 335.5a0.85 0.85 0 1 0 1.7 0a0.85 0.85 0 1 0 -1.7 0M459.1 332.7a0.85 0.85 0 1 0 1.7 0a0.85 0.85 0 1 0 -1.7 0M461.4 332.6a0.85 0.85 0 1 0 1.7 0a0.85 0.85 0 1 0 -1.7 0M463.7 333.0a0.85 0.85 0 1 0 1.7 0a0.85 0.85 0 1 0 -1.7 0M466.1 332.6a0.85 0.85 0 1 0 1.7 0a0.85 0.85 0 1 0 -1.7 0M468.5 332.8a0.85 0.85 0 1 0 1.7 0a0.85 0.85 0 1 0 -1.7 0M458.1 330.7a0.85 0.85 0 1 0 1.7 0a0.85 0.85 0 1 0 -1.7 0M460.8 330.3a0.85 0.85 0 1 0 1.7 0a0.85 0.85 0 1 0 -1.7 0M463.1 330.7a0.85 0.85 0 1 0 1.7 0a0.85 0.85 0 1 0 -1.7 0M464.8 330.1a0.85 0.85 0 1 0 1.7 0a0.85 0.85 0 1 0 -1.7 0M467.4 330.7a0.85 0.85 0 1 0 1.7 0a0.85 0.85 0 1 0 -1.7 0M469.1 330.7a0.85 0.85 0 1 0 1.7 0a0.85 0.85 0 1 0 -1.7 0M455.2 328.2a0.85 0.85 0 1 0 1.7 0a0.85 0.85 0 1 0 -1.7 0M457.5 328.5a0.85 0.85 0 1 0 1.7 0a0.85 0.85 0 1 0 -1.7 0M459.3 328.4a0.85 0.85 0 1 0 1.7 0a0.85 0.85 0 1 0 -1.7 0M461.9 328.0a0.85 0.85 0 1 0 1.7 0a0.85 0.85 0 1 0 -1.7 0M464.0 328.3a0.85 0.85 0 1 0 1.7 0a0.85 0.85 0 1 0 -1.7 0M466.3 328.2a0.85 0.85 0 1 0 1.7 0a0.85 0.85 0 1 0 -1.7 0M468.1 328.0a0.85 0.85 0 1 0 1.7 0a0.85 0.85 0 1 0 -1.7 0M470.5 327.9a0.85 0.85 0 1 0 1.7 0a0.85 0.85 0 1 0 -1.7 0M472.9 328.4a0.85 0.85 0 1 0 1.7 0a0.85 0.85 0 1 0 -1.7 0M459.3 325.9a0.85 0.85 0 1 0 1.7 0a0.85 0.85 0 1 0 -1.7 0M461.8 325.5a0.85 0.85 0 1 0 1.7 0a0.85 0.85 0 1 0 -1.7 0M464.0 326.0a0.85 0.85 0 1 0 1.7 0a0.85 0.85 0 1 0 -1.7 0M465.9 325.5a0.85 0.85 0 1 0 1.7 0a0.85 0.85 0 1 0 -1.7 0M468.1 326.0a0.85 0.85 0 1 0 1.7 0a0.85 0.85 0 1 0 -1.7 0M458.3 324.2a0.85 0.85 0 1 0 1.7 0a0.85 0.85 0 1 0 -1.7 0M460.3 323.7a0.85 0.85 0 1 0 1.7 0a0.85 0.85 0 1 0 -1.7 0M462.6 324.3a0.85 0.85 0 1 0 1.7 0a0.85 0.85 0 1 0 -1.7 0M464.7 323.7a0.85 0.85 0 1 0 1.7 0a0.85 0.85 0 1 0 -1.7 0M467.3 323.7a0.85 0.85 0 1 0 1.7 0a0.85 0.85 0 1 0 -1.7 0M469.5 323.7a0.85 0.85 0 1 0 1.7 0a0.85 0.85 0 1 0 -1.7 0M458.2 320.6a0.85 0.85 0 1 0 1.7 0a0.85 0.85 0 1 0 -1.7 0M460.8 320.4a0.85 0.85 0 1 0 1.7 0a0.85 0.85 0 1 0 -1.7 0M462.7 320.2a0.85 0.85 0 1 0 1.7 0a0.85 0.85 0 1 0 -1.7 0M464.8 320.3a0.85 0.85 0 1 0 1.7 0a0.85 0.85 0 1 0 -1.7 0M467.4 320.6a0.85 0.85 0 1 0 1.7 0a0.85 0.85 0 1 0 -1.7 0M469.5 320.5a0.85 0.85 0 1 0 1.7 0a0.85 0.85 0 1 0 -1.7 0M457.4 317.3a0.85 0.85 0 1 0 1.7 0a0.85 0.85 0 1 0 -1.7 0M459.4 317.4a0.85 0.85 0 1 0 1.7 0a0.85 0.85 0 1 0 -1.7 0M461.5 317.7a0.85 0.85 0 1 0 1.7 0a0.85 0.85 0 1 0 -1.7 0M463.6 317.4a0.85 0.85 0 1 0 1.7 0a0.85 0.85 0 1 0 -1.7 0M465.9 317.8a0.85 0.85 0 1 0 1.7 0a0.85 0.85 0 1 0 -1.7 0M468.3 317.5a0.85 0.85 0 1 0 1.7 0a0.85 0.85 0 1 0 -1.7 0M470.4 317.8a0.85 0.85 0 1 0 1.7 0a0.85 0.85 0 1 0 -1.7 0" fill="#ff1010"/>
<line x1="384.0" y1="343.0" x2="424.6" y2="343.0" stroke="#2a2a2a" stroke-width="1.45"/>
<line x1="444.2" y1="355.1" x2="485.2" y2="355.1" stroke="#2a2a2a" stroke-width="1.45"/>
<text x="397.0" y="386.9" font-size="8.8" fill="#2a2a2a" textLength="13.2" lengthAdjust="spacingAndGlyphs" stroke="#2a2a2a" stroke-width="0.35">WT</text>
<text x="443.8" y="386.9" font-size="8.8" fill="#2a2a2a" textLength="53.4" lengthAdjust="spacingAndGlyphs" stroke="#2a2a2a" stroke-width="0.35">NPM1 mutant</text>
<text x="11.6" y="408.5" font-size="10.2" fill="#222" font-weight="bold">G</text>
<text x="72.9" y="420.4" font-size="8.2" fill="#262626" textLength="54.4" lengthAdjust="spacingAndGlyphs" stroke="#262626" stroke-width="0.22">IDH1 mutant</text>
<text x="72.9" y="431.7" font-size="8.2" fill="#262626" textLength="54.4" lengthAdjust="spacingAndGlyphs" stroke="#262626" stroke-width="0.22">IDH2 mutant</text>
<line x1="41.1" y1="428.7" x2="41.1" y2="519.5" stroke="#767676" stroke-width="1"/>
<line x1="41.1" y1="519.5" x2="155.4" y2="519.5" stroke="#767676" stroke-width="1"/>
<line x1="38.9" y1="519.5" x2="41.1" y2="519.5" stroke="#767676" stroke-width="1"/>
<text x="36.5" y="523.1" font-size="8.6" fill="#4a4a4a" text-anchor="end" stroke="#4a4a4a" stroke-width="0.2">0</text>
<line x1="38.9" y1="489.2" x2="41.1" y2="489.2" stroke="#767676" stroke-width="1"/>
<text x="36.5" y="492.8" font-size="8.6" fill="#4a4a4a" text-anchor="end" stroke="#4a4a4a" stroke-width="0.2">5</text>
<line x1="38.9" y1="459.0" x2="41.1" y2="459.0" stroke="#767676" stroke-width="1"/>
<text x="36.5" y="462.6" font-size="8.6" fill="#4a4a4a" text-anchor="end" stroke="#4a4a4a" stroke-width="0.2">10</text>
<line x1="38.9" y1="428.7" x2="41.1" y2="428.7" stroke="#767676" stroke-width="1"/>
<text x="36.5" y="432.3" font-size="8.6" fill="#4a4a4a" text-anchor="end" stroke="#4a4a4a" stroke-width="0.2">15</text>
<text x="24.0" y="478.2" font-size="8.2" fill="#4a4a4a" text-anchor="middle" textLength="43.5" lengthAdjust="spacingAndGlyphs" transform="rotate(-90 24.0 478.2)">log2 ZNF521</text>
<line x1="60.5" y1="519.3" x2="60.5" y2="521.5" stroke="#767676" stroke-width="1"/>
<line x1="98.6" y1="519.3" x2="98.6" y2="521.5" stroke="#767676" stroke-width="1"/>
<line x1="136.8" y1="519.3" x2="136.8" y2="521.5" stroke="#767676" stroke-width="1"/>
<path d="M47.9 519.3a1.0 1.0 0 1 0 2.0 0a1.0 1.0 0 1 0 -2.0 0M49.9 519.2a1.0 1.0 0 1 0 2.0 0a1.0 1.0 0 1 0 -2.0 0M52.1 519.5a1.0 1.0 0 1 0 2.0 0a1.0 1.0 0 1 0 -2.0 0M54.2 519.6a1.0 1.0 0 1 0 2.0 0a1.0 1.0 0 1 0 -2.0 0M56.3 519.5a1.0 1.0 0 1 0 2.0 0a1.0 1.0 0 1 0 -2.0 0M58.4 519.1a1.0 1.0 0 1 0 2.0 0a1.0 1.0 0 1 0 -2.0 0M60.7 519.6a1.0 1.0 0 1 0 2.0 0a1.0 1.0 0 1 0 -2.0 0M62.5 519.3a1.0 1.0 0 1 0 2.0 0a1.0 1.0 0 1 0 -2.0 0M64.7 519.3a1.0 1.0 0 1 0 2.0 0a1.0 1.0 0 1 0 -2.0 0M67.1 519.6a1.0 1.0 0 1 0 2.0 0a1.0 1.0 0 1 0 -2.0 0M69.3 519.1a1.0 1.0 0 1 0 2.0 0a1.0 1.0 0 1 0 -2.0 0M71.2 519.5a1.0 1.0 0 1 0 2.0 0a1.0 1.0 0 1 0 -2.0 0M48.2 517.2a1.0 1.0 0 1 0 2.0 0a1.0 1.0 0 1 0 -2.0 0M50.2 517.4a1.0 1.0 0 1 0 2.0 0a1.0 1.0 0 1 0 -2.0 0M51.9 517.6a1.0 1.0 0 1 0 2.0 0a1.0 1.0 0 1 0 -2.0 0M54.2 517.3a1.0 1.0 0 1 0 2.0 0a1.0 1.0 0 1 0 -2.0 0M56.5 517.2a1.0 1.0 0 1 0 2.0 0a1.0 1.0 0 1 0 -2.0 0M58.3 517.4a1.0 1.0 0 1 0 2.0 0a1.0 1.0 0 1 0 -2.0 0M60.6 517.7a1.0 1.0 0 1 0 2.0 0a1.0 1.0 0 1 0 -2.0 0M62.7 517.4a1.0 1.0 0 1 0 2.0 0a1.0 1.0 0 1 0 -2.0 0M64.5 517.5a1.0 1.0 0 1 0 2.0 0a1.0 1.0 0 1 0 -2.0 0M66.9 517.8a1.0 1.0 0 1 0 2.0 0a1.0 1.0 0 1 0 -2.0 0M68.9 517.4a1.0 1.0 0 1 0 2.0 0a1.0 1.0 0 1 0 -2.0 0M71.4 517.5a1.0 1.0 0 1 0 2.0 0a1.0 1.0 0 1 0 -2.0 0M47.9 515.5a1.0 1.0 0 1 0 2.0 0a1.0 1.0 0 1 0 -2.0 0M50.0 515.6a1.0 1.0 0 1 0 2.0 0a1.0 1.0 0 1 0 -2.0 0M52.2 515.5a1.0 1.0 0 1 0 2.0 0a1.0 1.0 0 1 0 -2.0 0M56.2 515.8a1.0 1.0 0 1 0 2.0 0a1.0 1.0 0 1 0 -2.0 0M58.3 515.8a1.0 1.0 0 1 0 2.0 0a1.0 1.0 0 1 0 -2.0 0M60.6 515.7a1.0 1.0 0 1 0 2.0 0a1.0 1.0 0 1 0 -2.0 0M67.0 515.6a1.0 1.0 0 1 0 2.0 0a1.0 1.0 0 1 0 -2.0 0M69.2 515.6a1.0 1.0 0 1 0 2.0 0a1.0 1.0 0 1 0 -2.0 0M48.0 513.7a1.0 1.0 0 1 0 2.0 0a1.0 1.0 0 1 0 -2.0 0M51.8 514.0a1.0 1.0 0 1 0 2.0 0a1.0 1.0 0 1 0 -2.0 0M54.1 513.8a1.0 1.0 0 1 0 2.0 0a1.0 1.0 0 1 0 -2.0 0M56.1 513.7a1.0 1.0 0 1 0 2.0 0a1.0 1.0 0 1 0 -2.0 0M58.4 514.0a1.0 1.0 0 1 0 2.0 0a1.0 1.0 0 1 0 -2.0 0M60.7 513.9a1.0 1.0 0 1 0 2.0 0a1.0 1.0 0 1 0 -2.0 0M62.6 513.9a1.0 1.0 0 1 0 2.0 0a1.0 1.0 0 1 0 -2.0 0M65.1 514.0a1.0 1.0 0 1 0 2.0 0a1.0 1.0 0 1 0 -2.0 0M67.0 513.6a1.0 1.0 0 1 0 2.0 0a1.0 1.0 0 1 0 -2.0 0M68.8 514.1a1.0 1.0 0 1 0 2.0 0a1.0 1.0 0 1 0 -2.0 0M48.1 512.2a1.0 1.0 0 1 0 2.0 0a1.0 1.0 0 1 0 -2.0 0M49.9 511.9a1.0 1.0 0 1 0 2.0 0a1.0 1.0 0 1 0 -2.0 0M52.0 512.2a1.0 1.0 0 1 0 2.0 0a1.0 1.0 0 1 0 -2.0 0M54.4 512.1a1.0 1.0 0 1 0 2.0 0a1.0 1.0 0 1 0 -2.0 0M56.6 512.0a1.0 1.0 0 1 0 2.0 0a1.0 1.0 0 1 0 -2.0 0M58.2 512.3a1.0 1.0 0 1 0 2.0 0a1.0 1.0 0 1 0 -2.0 0M62.6 512.2a1.0 1.0 0 1 0 2.0 0a1.0 1.0 0 1 0 -2.0 0M64.6 512.2a1.0 1.0 0 1 0 2.0 0a1.0 1.0 0 1 0 -2.0 0M67.0 512.0a1.0 1.0 0 1 0 2.0 0a1.0 1.0 0 1 0 -2.0 0M70.9 512.0a1.0 1.0 0 1 0 2.0 0a1.0 1.0 0 1 0 -2.0 0M50.1 510.4a1.0 1.0 0 1 0 2.0 0a1.0 1.0 0 1 0 -2.0 0M52.1 510.4a1.0 1.0 0 1 0 2.0 0a1.0 1.0 0 1 0 -2.0 0M54.1 510.3a1.0 1.0 0 1 0 2.0 0a1.0 1.0 0 1 0 -2.0 0M56.5 510.1a1.0 1.0 0 1 0 2.0 0a1.0 1.0 0 1 0 -2.0 0M58.4 510.0a1.0 1.0 0 1 0 2.0 0a1.0 1.0 0 1 0 -2.0 0M60.7 510.3a1.0 1.0 0 1 0 2.0 0a1.0 1.0 0 1 0 -2.0 0M62.8 510.0a1.0 1.0 0 1 0 2.0 0a1.0 1.0 0 1 0 -2.0 0M64.6 510.0a1.0 1.0 0 1 0 2.0 0a1.0 1.0 0 1 0 -2.0 0M66.9 510.1a1.0 1.0 0 1 0 2.0 0a1.0 1.0 0 1 0 -2.0 0M69.3 510.1a1.0 1.0 0 1 0 2.0 0a1.0 1.0 0 1 0 -2.0 0M71.2 510.3a1.0 1.0 0 1 0 2.0 0a1.0 1.0 0 1 0 -2.0 0M48.2 508.7a1.0 1.0 0 1 0 2.0 0a1.0 1.0 0 1 0 -2.0 0M52.0 508.2a1.0 1.0 0 1 0 2.0 0a1.0 1.0 0 1 0 -2.0 0M54.5 508.1a1.0 1.0 0 1 0 2.0 0a1.0 1.0 0 1 0 -2.0 0M56.2 508.1a1.0 1.0 0 1 0 2.0 0a1.0 1.0 0 1 0 -2.0 0M58.3 508.3a1.0 1.0 0 1 0 2.0 0a1.0 1.0 0 1 0 -2.0 0M60.5 508.2a1.0 1.0 0 1 0 2.0 0a1.0 1.0 0 1 0 -2.0 0M62.5 508.5a1.0 1.0 0 1 0 2.0 0a1.0 1.0 0 1 0 -2.0 0M64.7 508.4a1.0 1.0 0 1 0 2.0 0a1.0 1.0 0 1 0 -2.0 0M67.0 508.3a1.0 1.0 0 1 0 2.0 0a1.0 1.0 0 1 0 -2.0 0M69.2 508.5a1.0 1.0 0 1 0 2.0 0a1.0 1.0 0 1 0 -2.0 0M71.0 508.2a1.0 1.0 0 1 0 2.0 0a1.0 1.0 0 1 0 -2.0 0M48.0 506.4a1.0 1.0 0 1 0 2.0 0a1.0 1.0 0 1 0 -2.0 0M50.2 506.3a1.0 1.0 0 1 0 2.0 0a1.0 1.0 0 1 0 -2.0 0M52.0 506.6a1.0 1.0 0 1 0 2.0 0a1.0 1.0 0 1 0 -2.0 0M54.1 506.6a1.0 1.0 0 1 0 2.0 0a1.0 1.0 0 1 0 -2.0 0M56.2 506.7a1.0 1.0 0 1 0 2.0 0a1.0 1.0 0 1 0 -2.0 0M58.7 506.4a1.0 1.0 0 1 0 2.0 0a1.0 1.0 0 1 0 -2.0 0M60.3 506.5a1.0 1.0 0 1 0 2.0 0a1.0 1.0 0 1 0 -2.0 0M62.5 506.6a1.0 1.0 0 1 0 2.0 0a1.0 1.0 0 1 0 -2.0 0M64.9 506.4a1.0 1.0 0 1 0 2.0 0a1.0 1.0 0 1 0 -2.0 0M67.1 506.4a1.0 1.0 0 1 0 2.0 0a1.0 1.0 0 1 0 -2.0 0M69.1 506.6a1.0 1.0 0 1 0 2.0 0a1.0 1.0 0 1 0 -2.0 0M71.0 506.6a1.0 1.0 0 1 0 2.0 0a1.0 1.0 0 1 0 -2.0 0M47.8 505.1a1.0 1.0 0 1 0 2.0 0a1.0 1.0 0 1 0 -2.0 0M49.8 504.8a1.0 1.0 0 1 0 2.0 0a1.0 1.0 0 1 0 -2.0 0M51.9 505.0a1.0 1.0 0 1 0 2.0 0a1.0 1.0 0 1 0 -2.0 0M54.4 504.9a1.0 1.0 0 1 0 2.0 0a1.0 1.0 0 1 0 -2.0 0M58.2 505.0a1.0 1.0 0 1 0 2.0 0a1.0 1.0 0 1 0 -2.0 0M60.4 504.9a1.0 1.0 0 1 0 2.0 0a1.0 1.0 0 1 0 -2.0 0M62.8 504.5a1.0 1.0 0 1 0 2.0 0a1.0 1.0 0 1 0 -2.0 0M64.7 505.0a1.0 1.0 0 1 0 2.0 0a1.0 1.0 0 1 0 -2.0 0M67.1 504.7a1.0 1.0 0 1 0 2.0 0a1.0 1.0 0 1 0 -2.0 0M68.7 504.8a1.0 1.0 0 1 0 2.0 0a1.0 1.0 0 1 0 -2.0 0M48.0 502.9a1.0 1.0 0 1 0 2.0 0a1.0 1.0 0 1 0 -2.0 0M50.3 503.3a1.0 1.0 0 1 0 2.0 0a1.0 1.0 0 1 0 -2.0 0M54.4 503.1a1.0 1.0 0 1 0 2.0 0a1.0 1.0 0 1 0 -2.0 0M58.4 503.0a1.0 1.0 0 1 0 2.0 0a1.0 1.0 0 1 0 -2.0 0M60.4 502.7a1.0 1.0 0 1 0 2.0 0a1.0 1.0 0 1 0 -2.0 0M62.5 502.7a1.0 1.0 0 1 0 2.0 0a1.0 1.0 0 1 0 -2.0 0M65.1 503.1a1.0 1.0 0 1 0 2.0 0a1.0 1.0 0 1 0 -2.0 0M66.7 503.2a1.0 1.0 0 1 0 2.0 0a1.0 1.0 0 1 0 -2.0 0M69.0 502.8a1.0 1.0 0 1 0 2.0 0a1.0 1.0 0 1 0 -2.0 0M71.4 502.7a1.0 1.0 0 1 0 2.0 0a1.0 1.0 0 1 0 -2.0 0M47.6 501.5a1.0 1.0 0 1 0 2.0 0a1.0 1.0 0 1 0 -2.0 0M50.3 501.4a1.0 1.0 0 1 0 2.0 0a1.0 1.0 0 1 0 -2.0 0M51.8 501.3a1.0 1.0 0 1 0 2.0 0a1.0 1.0 0 1 0 -2.0 0M54.2 501.0a1.0 1.0 0 1 0 2.0 0a1.0 1.0 0 1 0 -2.0 0M56.5 501.0a1.0 1.0 0 1 0 2.0 0a1.0 1.0 0 1 0 -2.0 0M58.4 501.0a1.0 1.0 0 1 0 2.0 0a1.0 1.0 0 1 0 -2.0 0M60.5 501.3a1.0 1.0 0 1 0 2.0 0a1.0 1.0 0 1 0 -2.0 0M62.9 501.2a1.0 1.0 0 1 0 2.0 0a1.0 1.0 0 1 0 -2.0 0M65.1 501.0a1.0 1.0 0 1 0 2.0 0a1.0 1.0 0 1 0 -2.0 0M68.9 501.0a1.0 1.0 0 1 0 2.0 0a1.0 1.0 0 1 0 -2.0 0M70.8 501.4a1.0 1.0 0 1 0 2.0 0a1.0 1.0 0 1 0 -2.0 0M48.1 499.5a1.0 1.0 0 1 0 2.0 0a1.0 1.0 0 1 0 -2.0 0M50.2 499.2a1.0 1.0 0 1 0 2.0 0a1.0 1.0 0 1 0 -2.0 0M51.9 499.4a1.0 1.0 0 1 0 2.0 0a1.0 1.0 0 1 0 -2.0 0M54.4 499.2a1.0 1.0 0 1 0 2.0 0a1.0 1.0 0 1 0 -2.0 0M56.5 499.6a1.0 1.0 0 1 0 2.0 0a1.0 1.0 0 1 0 -2.0 0M58.2 499.2a1.0 1.0 0 1 0 2.0 0a1.0 1.0 0 1 0 -2.0 0M60.7 499.5a1.0 1.0 0 1 0 2.0 0a1.0 1.0 0 1 0 -2.0 0M62.8 499.4a1.0 1.0 0 1 0 2.0 0a1.0 1.0 0 1 0 -2.0 0M65.0 499.5a1.0 1.0 0 1 0 2.0 0a1.0 1.0 0 1 0 -2.0 0M66.9 499.4a1.0 1.0 0 1 0 2.0 0a1.0 1.0 0 1 0 -2.0 0M69.0 499.1a1.0 1.0 0 1 0 2.0 0a1.0 1.0 0 1 0 -2.0 0M71.1 499.3a1.0 1.0 0 1 0 2.0 0a1.0 1.0 0 1 0 -2.0 0M47.8 497.5a1.0 1.0 0 1 0 2.0 0a1.0 1.0 0 1 0 -2.0 0M49.9 497.8a1.0 1.0 0 1 0 2.0 0a1.0 1.0 0 1 0 -2.0 0M56.3 497.5a1.0 1.0 0 1 0 2.0 0a1.0 1.0 0 1 0 -2.0 0M58.4 497.4a1.0 1.0 0 1 0 2.0 0a1.0 1.0 0 1 0 -2.0 0M62.9 497.4a1.0 1.0 0 1 0 2.0 0a1.0 1.0 0 1 0 -2.0 0M64.7 497.3a1.0 1.0 0 1 0 2.0 0a1.0 1.0 0 1 0 -2.0 0M67.1 497.4a1.0 1.0 0 1 0 2.0 0a1.0 1.0 0 1 0 -2.0 0M69.1 497.7a1.0 1.0 0 1 0 2.0 0a1.0 1.0 0 1 0 -2.0 0M71.0 497.4a1.0 1.0 0 1 0 2.0 0a1.0 1.0 0 1 0 -2.0 0M48.1 496.0a1.0 1.0 0 1 0 2.0 0a1.0 1.0 0 1 0 -2.0 0M50.1 496.0a1.0 1.0 0 1 0 2.0 0a1.0 1.0 0 1 0 -2.0 0M52.1 495.5a1.0 1.0 0 1 0 2.0 0a1.0 1.0 0 1 0 -2.0 0M56.1 495.9a1.0 1.0 0 1 0 2.0 0a1.0 1.0 0 1 0 -2.0 0M58.4 496.0a1.0 1.0 0 1 0 2.0 0a1.0 1.0 0 1 0 -2.0 0M60.6 495.5a1.0 1.0 0 1 0 2.0 0a1.0 1.0 0 1 0 -2.0 0M62.6 495.6a1.0 1.0 0 1 0 2.0 0a1.0 1.0 0 1 0 -2.0 0M64.9 495.5a1.0 1.0 0 1 0 2.0 0a1.0 1.0 0 1 0 -2.0 0M66.8 495.8a1.0 1.0 0 1 0 2.0 0a1.0 1.0 0 1 0 -2.0 0M69.0 495.9a1.0 1.0 0 1 0 2.0 0a1.0 1.0 0 1 0 -2.0 0M71.2 495.6a1.0 1.0 0 1 0 2.0 0a1.0 1.0 0 1 0 -2.0 0M48.2 493.8a1.0 1.0 0 1 0 2.0 0a1.0 1.0 0 1 0 -2.0 0M49.8 493.9a1.0 1.0 0 1 0 2.0 0a1.0 1.0 0 1 0 -2.0 0M52.2 493.8a1.0 1.0 0 1 0 2.0 0a1.0 1.0 0 1 0 -2.0 0M56.4 493.7a1.0 1.0 0 1 0 2.0 0a1.0 1.0 0 1 0 -2.0 0M58.5 494.2a1.0 1.0 0 1 0 2.0 0a1.0 1.0 0 1 0 -2.0 0M60.4 494.0a1.0 1.0 0 1 0 2.0 0a1.0 1.0 0 1 0 -2.0 0M62.8 493.7a1.0 1.0 0 1 0 2.0 0a1.0 1.0 0 1 0 -2.0 0M64.7 494.2a1.0 1.0 0 1 0 2.0 0a1.0 1.0 0 1 0 -2.0 0M66.7 493.7a1.0 1.0 0 1 0 2.0 0a1.0 1.0 0 1 0 -2.0 0M68.9 493.9a1.0 1.0 0 1 0 2.0 0a1.0 1.0 0 1 0 -2.0 0M71.0 493.9a1.0 1.0 0 1 0 2.0 0a1.0 1.0 0 1 0 -2.0 0M48.1 492.4a1.0 1.0 0 1 0 2.0 0a1.0 1.0 0 1 0 -2.0 0M50.3 492.0a1.0 1.0 0 1 0 2.0 0a1.0 1.0 0 1 0 -2.0 0M52.1 492.2a1.0 1.0 0 1 0 2.0 0a1.0 1.0 0 1 0 -2.0 0M54.1 491.9a1.0 1.0 0 1 0 2.0 0a1.0 1.0 0 1 0 -2.0 0M56.3 492.2a1.0 1.0 0 1 0 2.0 0a1.0 1.0 0 1 0 -2.0 0M58.5 491.9a1.0 1.0 0 1 0 2.0 0a1.0 1.0 0 1 0 -2.0 0M60.5 492.2a1.0 1.0 0 1 0 2.0 0a1.0 1.0 0 1 0 -2.0 0M62.4 492.2a1.0 1.0 0 1 0 2.0 0a1.0 1.0 0 1 0 -2.0 0M64.5 492.0a1.0 1.0 0 1 0 2.0 0a1.0 1.0 0 1 0 -2.0 0M67.1 492.2a1.0 1.0 0 1 0 2.0 0a1.0 1.0 0 1 0 -2.0 0M68.8 492.0a1.0 1.0 0 1 0 2.0 0a1.0 1.0 0 1 0 -2.0 0M71.0 492.3a1.0 1.0 0 1 0 2.0 0a1.0 1.0 0 1 0 -2.0 0M48.0 490.5a1.0 1.0 0 1 0 2.0 0a1.0 1.0 0 1 0 -2.0 0M49.8 490.0a1.0 1.0 0 1 0 2.0 0a1.0 1.0 0 1 0 -2.0 0M52.0 490.3a1.0 1.0 0 1 0 2.0 0a1.0 1.0 0 1 0 -2.0 0M54.3 490.3a1.0 1.0 0 1 0 2.0 0a1.0 1.0 0 1 0 -2.0 0M56.6 490.5a1.0 1.0 0 1 0 2.0 0a1.0 1.0 0 1 0 -2.0 0M58.2 490.6a1.0 1.0 0 1 0 2.0 0a1.0 1.0 0 1 0 -2.0 0M60.8 490.1a1.0 1.0 0 1 0 2.0 0a1.0 1.0 0 1 0 -2.0 0M62.6 490.5a1.0 1.0 0 1 0 2.0 0a1.0 1.0 0 1 0 -2.0 0M64.5 490.1a1.0 1.0 0 1 0 2.0 0a1.0 1.0 0 1 0 -2.0 0M67.2 490.4a1.0 1.0 0 1 0 2.0 0a1.0 1.0 0 1 0 -2.0 0M68.9 490.2a1.0 1.0 0 1 0 2.0 0a1.0 1.0 0 1 0 -2.0 0M47.6 488.6a1.0 1.0 0 1 0 2.0 0a1.0 1.0 0 1 0 -2.0 0M49.8 488.5a1.0 1.0 0 1 0 2.0 0a1.0 1.0 0 1 0 -2.0 0M52.0 488.3a1.0 1.0 0 1 0 2.0 0a1.0 1.0 0 1 0 -2.0 0M54.3 488.5a1.0 1.0 0 1 0 2.0 0a1.0 1.0 0 1 0 -2.0 0M56.6 488.3a1.0 1.0 0 1 0 2.0 0a1.0 1.0 0 1 0 -2.0 0M58.3 488.5a1.0 1.0 0 1 0 2.0 0a1.0 1.0 0 1 0 -2.0 0M60.6 488.6a1.0 1.0 0 1 0 2.0 0a1.0 1.0 0 1 0 -2.0 0M62.6 488.2a1.0 1.0 0 1 0 2.0 0a1.0 1.0 0 1 0 -2.0 0M64.5 488.4a1.0 1.0 0 1 0 2.0 0a1.0 1.0 0 1 0 -2.0 0M66.9 488.7a1.0 1.0 0 1 0 2.0 0a1.0 1.0 0 1 0 -2.0 0M68.9 488.7a1.0 1.0 0 1 0 2.0 0a1.0 1.0 0 1 0 -2.0 0M70.9 488.6a1.0 1.0 0 1 0 2.0 0a1.0 1.0 0 1 0 -2.0 0M47.8 486.5a1.0 1.0 0 1 0 2.0 0a1.0 1.0 0 1 0 -2.0 0M49.9 486.5a1.0 1.0 0 1 0 2.0 0a1.0 1.0 0 1 0 -2.0 0M52.1 486.5a1.0 1.0 0 1 0 2.0 0a1.0 1.0 0 1 0 -2.0 0M54.3 486.7a1.0 1.0 0 1 0 2.0 0a1.0 1.0 0 1 0 -2.0 0M56.5 486.4a1.0 1.0 0 1 0 2.0 0a1.0 1.0 0 1 0 -2.0 0M58.7 486.9a1.0 1.0 0 1 0 2.0 0a1.0 1.0 0 1 0 -2.0 0M60.7 486.7a1.0 1.0 0 1 0 2.0 0a1.0 1.0 0 1 0 -2.0 0M62.7 486.5a1.0 1.0 0 1 0 2.0 0a1.0 1.0 0 1 0 -2.0 0M64.5 486.9a1.0 1.0 0 1 0 2.0 0a1.0 1.0 0 1 0 -2.0 0M66.8 486.7a1.0 1.0 0 1 0 2.0 0a1.0 1.0 0 1 0 -2.0 0M69.1 486.9a1.0 1.0 0 1 0 2.0 0a1.0 1.0 0 1 0 -2.0 0M71.3 486.6a1.0 1.0 0 1 0 2.0 0a1.0 1.0 0 1 0 -2.0 0M48.1 485.0a1.0 1.0 0 1 0 2.0 0a1.0 1.0 0 1 0 -2.0 0M49.9 484.7a1.0 1.0 0 1 0 2.0 0a1.0 1.0 0 1 0 -2.0 0M52.1 485.1a1.0 1.0 0 1 0 2.0 0a1.0 1.0 0 1 0 -2.0 0M54.1 484.9a1.0 1.0 0 1 0 2.0 0a1.0 1.0 0 1 0 -2.0 0M56.6 484.8a1.0 1.0 0 1 0 2.0 0a1.0 1.0 0 1 0 -2.0 0M58.4 485.1a1.0 1.0 0 1 0 2.0 0a1.0 1.0 0 1 0 -2.0 0M60.6 484.8a1.0 1.0 0 1 0 2.0 0a1.0 1.0 0 1 0 -2.0 0M62.9 485.1a1.0 1.0 0 1 0 2.0 0a1.0 1.0 0 1 0 -2.0 0M64.5 484.7a1.0 1.0 0 1 0 2.0 0a1.0 1.0 0 1 0 -2.0 0M66.6 485.1a1.0 1.0 0 1 0 2.0 0a1.0 1.0 0 1 0 -2.0 0M69.0 484.9a1.0 1.0 0 1 0 2.0 0a1.0 1.0 0 1 0 -2.0 0M71.1 484.6a1.0 1.0 0 1 0 2.0 0a1.0 1.0 0 1 0 -2.0 0M47.7 482.8a1.0 1.0 0 1 0 2.0 0a1.0 1.0 0 1 0 -2.0 0M50.1 483.2a1.0 1.0 0 1 0 2.0 0a1.0 1.0 0 1 0 -2.0 0M52.4 482.8a1.0 1.0 0 1 0 2.0 0a1.0 1.0 0 1 0 -2.0 0M56.5 482.9a1.0 1.0 0 1 0 2.0 0a1.0 1.0 0 1 0 -2.0 0M58.6 482.9a1.0 1.0 0 1 0 2.0 0a1.0 1.0 0 1 0 -2.0 0M60.8 483.2a1.0 1.0 0 1 0 2.0 0a1.0 1.0 0 1 0 -2.0 0M62.7 482.9a1.0 1.0 0 1 0 2.0 0a1.0 1.0 0 1 0 -2.0 0M64.9 483.2a1.0 1.0 0 1 0 2.0 0a1.0 1.0 0 1 0 -2.0 0M67.0 483.1a1.0 1.0 0 1 0 2.0 0a1.0 1.0 0 1 0 -2.0 0M68.9 483.3a1.0 1.0 0 1 0 2.0 0a1.0 1.0 0 1 0 -2.0 0M71.1 483.1a1.0 1.0 0 1 0 2.0 0a1.0 1.0 0 1 0 -2.0 0M47.9 481.5a1.0 1.0 0 1 0 2.0 0a1.0 1.0 0 1 0 -2.0 0M52.2 481.2a1.0 1.0 0 1 0 2.0 0a1.0 1.0 0 1 0 -2.0 0M54.0 481.2a1.0 1.0 0 1 0 2.0 0a1.0 1.0 0 1 0 -2.0 0M56.5 481.2a1.0 1.0 0 1 0 2.0 0a1.0 1.0 0 1 0 -2.0 0M58.5 481.0a1.0 1.0 0 1 0 2.0 0a1.0 1.0 0 1 0 -2.0 0M60.3 481.3a1.0 1.0 0 1 0 2.0 0a1.0 1.0 0 1 0 -2.0 0M62.5 481.2a1.0 1.0 0 1 0 2.0 0a1.0 1.0 0 1 0 -2.0 0M67.1 481.3a1.0 1.0 0 1 0 2.0 0a1.0 1.0 0 1 0 -2.0 0M68.9 481.3a1.0 1.0 0 1 0 2.0 0a1.0 1.0 0 1 0 -2.0 0M71.4 481.5a1.0 1.0 0 1 0 2.0 0a1.0 1.0 0 1 0 -2.0 0M48.1 479.2a1.0 1.0 0 1 0 2.0 0a1.0 1.0 0 1 0 -2.0 0M49.9 479.2a1.0 1.0 0 1 0 2.0 0a1.0 1.0 0 1 0 -2.0 0M52.4 479.6a1.0 1.0 0 1 0 2.0 0a1.0 1.0 0 1 0 -2.0 0M54.1 479.3a1.0 1.0 0 1 0 2.0 0a1.0 1.0 0 1 0 -2.0 0M58.2 479.5a1.0 1.0 0 1 0 2.0 0a1.0 1.0 0 1 0 -2.0 0M60.7 479.5a1.0 1.0 0 1 0 2.0 0a1.0 1.0 0 1 0 -2.0 0M62.5 479.6a1.0 1.0 0 1 0 2.0 0a1.0 1.0 0 1 0 -2.0 0M64.9 479.4a1.0 1.0 0 1 0 2.0 0a1.0 1.0 0 1 0 -2.0 0M66.8 479.2a1.0 1.0 0 1 0 2.0 0a1.0 1.0 0 1 0 -2.0 0M69.1 479.2a1.0 1.0 0 1 0 2.0 0a1.0 1.0 0 1 0 -2.0 0M71.3 479.6a1.0 1.0 0 1 0 2.0 0a1.0 1.0 0 1 0 -2.0 0M47.9 477.4a1.0 1.0 0 1 0 2.0 0a1.0 1.0 0 1 0 -2.0 0M50.2 477.9a1.0 1.0 0 1 0 2.0 0a1.0 1.0 0 1 0 -2.0 0M51.8 477.5a1.0 1.0 0 1 0 2.0 0a1.0 1.0 0 1 0 -2.0 0M54.3 477.4a1.0 1.0 0 1 0 2.0 0a1.0 1.0 0 1 0 -2.0 0M56.2 477.9a1.0 1.0 0 1 0 2.0 0a1.0 1.0 0 1 0 -2.0 0M58.3 477.4a1.0 1.0 0 1 0 2.0 0a1.0 1.0 0 1 0 -2.0 0M60.6 477.8a1.0 1.0 0 1 0 2.0 0a1.0 1.0 0 1 0 -2.0 0M64.9 477.9a1.0 1.0 0 1 0 2.0 0a1.0 1.0 0 1 0 -2.0 0M66.6 477.5a1.0 1.0 0 1 0 2.0 0a1.0 1.0 0 1 0 -2.0 0M69.0 477.9a1.0 1.0 0 1 0 2.0 0a1.0 1.0 0 1 0 -2.0 0M70.8 477.9a1.0 1.0 0 1 0 2.0 0a1.0 1.0 0 1 0 -2.0 0M47.9 475.7a1.0 1.0 0 1 0 2.0 0a1.0 1.0 0 1 0 -2.0 0M50.3 476.1a1.0 1.0 0 1 0 2.0 0a1.0 1.0 0 1 0 -2.0 0M52.0 476.0a1.0 1.0 0 1 0 2.0 0a1.0 1.0 0 1 0 -2.0 0M56.6 475.7a1.0 1.0 0 1 0 2.0 0a1.0 1.0 0 1 0 -2.0 0M58.5 475.7a1.0 1.0 0 1 0 2.0 0a1.0 1.0 0 1 0 -2.0 0M60.6 475.6a1.0 1.0 0 1 0 2.0 0a1.0 1.0 0 1 0 -2.0 0M62.4 475.9a1.0 1.0 0 1 0 2.0 0a1.0 1.0 0 1 0 -2.0 0M64.6 475.6a1.0 1.0 0 1 0 2.0 0a1.0 1.0 0 1 0 -2.0 0M67.1 475.8a1.0 1.0 0 1 0 2.0 0a1.0 1.0 0 1 0 -2.0 0M69.3 476.1a1.0 1.0 0 1 0 2.0 0a1.0 1.0 0 1 0 -2.0 0M71.0 475.8a1.0 1.0 0 1 0 2.0 0a1.0 1.0 0 1 0 -2.0 0M48.0 474.1a1.0 1.0 0 1 0 2.0 0a1.0 1.0 0 1 0 -2.0 0M50.0 474.0a1.0 1.0 0 1 0 2.0 0a1.0 1.0 0 1 0 -2.0 0M51.9 474.2a1.0 1.0 0 1 0 2.0 0a1.0 1.0 0 1 0 -2.0 0M56.4 473.8a1.0 1.0 0 1 0 2.0 0a1.0 1.0 0 1 0 -2.0 0M58.4 473.8a1.0 1.0 0 1 0 2.0 0a1.0 1.0 0 1 0 -2.0 0M60.6 474.0a1.0 1.0 0 1 0 2.0 0a1.0 1.0 0 1 0 -2.0 0M66.7 473.9a1.0 1.0 0 1 0 2.0 0a1.0 1.0 0 1 0 -2.0 0M69.2 474.2a1.0 1.0 0 1 0 2.0 0a1.0 1.0 0 1 0 -2.0 0M70.8 474.2a1.0 1.0 0 1 0 2.0 0a1.0 1.0 0 1 0 -2.0 0M47.8 471.9a1.0 1.0 0 1 0 2.0 0a1.0 1.0 0 1 0 -2.0 0M49.9 472.2a1.0 1.0 0 1 0 2.0 0a1.0 1.0 0 1 0 -2.0 0M51.9 471.9a1.0 1.0 0 1 0 2.0 0a1.0 1.0 0 1 0 -2.0 0M54.0 472.0a1.0 1.0 0 1 0 2.0 0a1.0 1.0 0 1 0 -2.0 0M56.6 472.1a1.0 1.0 0 1 0 2.0 0a1.0 1.0 0 1 0 -2.0 0M58.4 472.0a1.0 1.0 0 1 0 2.0 0a1.0 1.0 0 1 0 -2.0 0M60.7 472.1a1.0 1.0 0 1 0 2.0 0a1.0 1.0 0 1 0 -2.0 0M62.5 471.9a1.0 1.0 0 1 0 2.0 0a1.0 1.0 0 1 0 -2.0 0M64.7 472.4a1.0 1.0 0 1 0 2.0 0a1.0 1.0 0 1 0 -2.0 0M67.0 472.3a1.0 1.0 0 1 0 2.0 0a1.0 1.0 0 1 0 -2.0 0M68.8 472.3a1.0 1.0 0 1 0 2.0 0a1.0 1.0 0 1 0 -2.0 0M71.1 472.2a1.0 1.0 0 1 0 2.0 0a1.0 1.0 0 1 0 -2.0 0M48.0 470.3a1.0 1.0 0 1 0 2.0 0a1.0 1.0 0 1 0 -2.0 0M50.0 470.4a1.0 1.0 0 1 0 2.0 0a1.0 1.0 0 1 0 -2.0 0M52.4 470.4a1.0 1.0 0 1 0 2.0 0a1.0 1.0 0 1 0 -2.0 0M54.1 470.5a1.0 1.0 0 1 0 2.0 0a1.0 1.0 0 1 0 -2.0 0M56.2 470.5a1.0 1.0 0 1 0 2.0 0a1.0 1.0 0 1 0 -2.0 0M58.4 470.6a1.0 1.0 0 1 0 2.0 0a1.0 1.0 0 1 0 -2.0 0M60.6 470.6a1.0 1.0 0 1 0 2.0 0a1.0 1.0 0 1 0 -2.0 0M62.6 470.7a1.0 1.0 0 1 0 2.0 0a1.0 1.0 0 1 0 -2.0 0M66.9 470.5a1.0 1.0 0 1 0 2.0 0a1.0 1.0 0 1 0 -2.0 0M69.2 470.5a1.0 1.0 0 1 0 2.0 0a1.0 1.0 0 1 0 -2.0 0M51.8 468.6a1.0 1.0 0 1 0 2.0 0a1.0 1.0 0 1 0 -2.0 0M54.0 468.8a1.0 1.0 0 1 0 2.0 0a1.0 1.0 0 1 0 -2.0 0M56.6 468.5a1.0 1.0 0 1 0 2.0 0a1.0 1.0 0 1 0 -2.0 0M58.5 468.4a1.0 1.0 0 1 0 2.0 0a1.0 1.0 0 1 0 -2.0 0M60.3 468.4a1.0 1.0 0 1 0 2.0 0a1.0 1.0 0 1 0 -2.0 0M62.9 468.6a1.0 1.0 0 1 0 2.0 0a1.0 1.0 0 1 0 -2.0 0M66.9 468.7a1.0 1.0 0 1 0 2.0 0a1.0 1.0 0 1 0 -2.0 0M69.2 468.5a1.0 1.0 0 1 0 2.0 0a1.0 1.0 0 1 0 -2.0 0M71.1 468.5a1.0 1.0 0 1 0 2.0 0a1.0 1.0 0 1 0 -2.0 0M48.2 467.0a1.0 1.0 0 1 0 2.0 0a1.0 1.0 0 1 0 -2.0 0M50.1 466.5a1.0 1.0 0 1 0 2.0 0a1.0 1.0 0 1 0 -2.0 0M54.3 466.8a1.0 1.0 0 1 0 2.0 0a1.0 1.0 0 1 0 -2.0 0M56.2 467.0a1.0 1.0 0 1 0 2.0 0a1.0 1.0 0 1 0 -2.0 0M58.2 466.7a1.0 1.0 0 1 0 2.0 0a1.0 1.0 0 1 0 -2.0 0M60.3 467.0a1.0 1.0 0 1 0 2.0 0a1.0 1.0 0 1 0 -2.0 0M62.9 466.5a1.0 1.0 0 1 0 2.0 0a1.0 1.0 0 1 0 -2.0 0M64.5 466.9a1.0 1.0 0 1 0 2.0 0a1.0 1.0 0 1 0 -2.0 0M67.1 466.9a1.0 1.0 0 1 0 2.0 0a1.0 1.0 0 1 0 -2.0 0M68.7 466.5a1.0 1.0 0 1 0 2.0 0a1.0 1.0 0 1 0 -2.0 0M71.3 466.8a1.0 1.0 0 1 0 2.0 0a1.0 1.0 0 1 0 -2.0 0M48.1 464.7a1.0 1.0 0 1 0 2.0 0a1.0 1.0 0 1 0 -2.0 0M49.7 465.2a1.0 1.0 0 1 0 2.0 0a1.0 1.0 0 1 0 -2.0 0M52.3 465.1a1.0 1.0 0 1 0 2.0 0a1.0 1.0 0 1 0 -2.0 0M54.5 465.1a1.0 1.0 0 1 0 2.0 0a1.0 1.0 0 1 0 -2.0 0M56.6 464.7a1.0 1.0 0 1 0 2.0 0a1.0 1.0 0 1 0 -2.0 0M58.3 464.8a1.0 1.0 0 1 0 2.0 0a1.0 1.0 0 1 0 -2.0 0M60.8 464.7a1.0 1.0 0 1 0 2.0 0a1.0 1.0 0 1 0 -2.0 0M62.4 465.2a1.0 1.0 0 1 0 2.0 0a1.0 1.0 0 1 0 -2.0 0M64.9 465.0a1.0 1.0 0 1 0 2.0 0a1.0 1.0 0 1 0 -2.0 0M66.8 464.9a1.0 1.0 0 1 0 2.0 0a1.0 1.0 0 1 0 -2.0 0M69.1 465.2a1.0 1.0 0 1 0 2.0 0a1.0 1.0 0 1 0 -2.0 0M71.3 465.1a1.0 1.0 0 1 0 2.0 0a1.0 1.0 0 1 0 -2.0 0M47.8 463.2a1.0 1.0 0 1 0 2.0 0a1.0 1.0 0 1 0 -2.0 0M54.0 462.9a1.0 1.0 0 1 0 2.0 0a1.0 1.0 0 1 0 -2.0 0M56.5 463.2a1.0 1.0 0 1 0 2.0 0a1.0 1.0 0 1 0 -2.0 0M58.6 463.3a1.0 1.0 0 1 0 2.0 0a1.0 1.0 0 1 0 -2.0 0M60.4 463.2a1.0 1.0 0 1 0 2.0 0a1.0 1.0 0 1 0 -2.0 0M62.5 462.9a1.0 1.0 0 1 0 2.0 0a1.0 1.0 0 1 0 -2.0 0M64.9 463.4a1.0 1.0 0 1 0 2.0 0a1.0 1.0 0 1 0 -2.0 0M66.7 463.1a1.0 1.0 0 1 0 2.0 0a1.0 1.0 0 1 0 -2.0 0M71.1 463.1a1.0 1.0 0 1 0 2.0 0a1.0 1.0 0 1 0 -2.0 0M47.9 461.4a1.0 1.0 0 1 0 2.0 0a1.0 1.0 0 1 0 -2.0 0M50.2 461.2a1.0 1.0 0 1 0 2.0 0a1.0 1.0 0 1 0 -2.0 0M54.4 461.1a1.0 1.0 0 1 0 2.0 0a1.0 1.0 0 1 0 -2.0 0M60.3 461.0a1.0 1.0 0 1 0 2.0 0a1.0 1.0 0 1 0 -2.0 0M65.9 459.5a1.0 1.0 0 1 0 2.0 0a1.0 1.0 0 1 0 -2.0 0M51.5 457.5a1.0 1.0 0 1 0 2.0 0a1.0 1.0 0 1 0 -2.0 0M54.0 457.5a1.0 1.0 0 1 0 2.0 0a1.0 1.0 0 1 0 -2.0 0M58.1 457.6a1.0 1.0 0 1 0 2.0 0a1.0 1.0 0 1 0 -2.0 0M60.7 457.8a1.0 1.0 0 1 0 2.0 0a1.0 1.0 0 1 0 -2.0 0M62.9 457.4a1.0 1.0 0 1 0 2.0 0a1.0 1.0 0 1 0 -2.0 0M67.7 457.9a1.0 1.0 0 1 0 2.0 0a1.0 1.0 0 1 0 -2.0 0M56.8 455.8a1.0 1.0 0 1 0 2.0 0a1.0 1.0 0 1 0 -2.0 0M62.2 456.1a1.0 1.0 0 1 0 2.0 0a1.0 1.0 0 1 0 -2.0 0" fill="#12cf12"/>
<path d="M96.5 516.4a1.05 1.05 0 1 0 2.1 0a1.05 1.05 0 1 0 -2.1 0M99.0 516.7a1.05 1.05 0 1 0 2.1 0a1.05 1.05 0 1 0 -2.1 0M96.0 514.1a1.05 1.05 0 1 0 2.1 0a1.05 1.05 0 1 0 -2.1 0M98.7 514.4a1.05 1.05 0 1 0 2.1 0a1.05 1.05 0 1 0 -2.1 0M94.5 512.1a1.05 1.05 0 1 0 2.1 0a1.05 1.05 0 1 0 -2.1 0M97.4 512.5a1.05 1.05 0 1 0 2.1 0a1.05 1.05 0 1 0 -2.1 0M100.4 512.4a1.05 1.05 0 1 0 2.1 0a1.05 1.05 0 1 0 -2.1 0M95.0 510.1a1.05 1.05 0 1 0 2.1 0a1.05 1.05 0 1 0 -2.1 0M97.3 510.0a1.05 1.05 0 1 0 2.1 0a1.05 1.05 0 1 0 -2.1 0M100.1 509.8a1.05 1.05 0 1 0 2.1 0a1.05 1.05 0 1 0 -2.1 0M94.5 507.2a1.05 1.05 0 1 0 2.1 0a1.05 1.05 0 1 0 -2.1 0M97.4 507.8a1.05 1.05 0 1 0 2.1 0a1.05 1.05 0 1 0 -2.1 0M100.5 507.2a1.05 1.05 0 1 0 2.1 0a1.05 1.05 0 1 0 -2.1 0M96.0 505.5a1.05 1.05 0 1 0 2.1 0a1.05 1.05 0 1 0 -2.1 0M99.0 505.1a1.05 1.05 0 1 0 2.1 0a1.05 1.05 0 1 0 -2.1 0M94.5 503.0a1.05 1.05 0 1 0 2.1 0a1.05 1.05 0 1 0 -2.1 0M97.6 502.7a1.05 1.05 0 1 0 2.1 0a1.05 1.05 0 1 0 -2.1 0M100.5 502.8a1.05 1.05 0 1 0 2.1 0a1.05 1.05 0 1 0 -2.1 0M96.2 500.6a1.05 1.05 0 1 0 2.1 0a1.05 1.05 0 1 0 -2.1 0M98.8 500.9a1.05 1.05 0 1 0 2.1 0a1.05 1.05 0 1 0 -2.1 0M96.1 493.3a1.05 1.05 0 1 0 2.1 0a1.05 1.05 0 1 0 -2.1 0M99.0 493.6a1.05 1.05 0 1 0 2.1 0a1.05 1.05 0 1 0 -2.1 0M95.1 492.3a1.05 1.05 0 1 0 2.1 0a1.05 1.05 0 1 0 -2.1 0M97.6 492.3a1.05 1.05 0 1 0 2.1 0a1.05 1.05 0 1 0 -2.1 0M100.4 492.4a1.05 1.05 0 1 0 2.1 0a1.05 1.05 0 1 0 -2.1 0M98.9 482.9a1.05 1.05 0 1 0 2.1 0a1.05 1.05 0 1 0 -2.1 0M96.4 478.0a1.05 1.05 0 1 0 2.1 0a1.05 1.05 0 1 0 -2.1 0M96.1 473.8a1.05 1.05 0 1 0 2.1 0a1.05 1.05 0 1 0 -2.1 0M99.1 473.8a1.05 1.05 0 1 0 2.1 0a1.05 1.05 0 1 0 -2.1 0M94.9 470.4a1.05 1.05 0 1 0 2.1 0a1.05 1.05 0 1 0 -2.1 0M97.5 470.5a1.05 1.05 0 1 0 2.1 0a1.05 1.05 0 1 0 -2.1 0M100.5 470.7a1.05 1.05 0 1 0 2.1 0a1.05 1.05 0 1 0 -2.1 0M92.3 468.8a1.05 1.05 0 1 0 2.1 0a1.05 1.05 0 1 0 -2.1 0M94.6 468.7a1.05 1.05 0 1 0 2.1 0a1.05 1.05 0 1 0 -2.1 0M97.5 468.9a1.05 1.05 0 1 0 2.1 0a1.05 1.05 0 1 0 -2.1 0M100.3 468.5a1.05 1.05 0 1 0 2.1 0a1.05 1.05 0 1 0 -2.1 0M102.8 468.5a1.05 1.05 0 1 0 2.1 0a1.05 1.05 0 1 0 -2.1 0M93.4 466.6a1.05 1.05 0 1 0 2.1 0a1.05 1.05 0 1 0 -2.1 0M95.9 466.7a1.05 1.05 0 1 0 2.1 0a1.05 1.05 0 1 0 -2.1 0M98.6 466.5a1.05 1.05 0 1 0 2.1 0a1.05 1.05 0 1 0 -2.1 0M101.7 466.6a1.05 1.05 0 1 0 2.1 0a1.05 1.05 0 1 0 -2.1 0M98.6 463.1a1.05 1.05 0 1 0 2.1 0a1.05 1.05 0 1 0 -2.1 0" fill="#ff1a1a"/>
<path d="M136.8 519.0a1.1 1.1 0 1 0 2.2 0a1.1 1.1 0 1 0 -2.2 0M133.9 511.5a1.1 1.1 0 1 0 2.2 0a1.1 1.1 0 1 0 -2.2 0M137.5 511.3a1.1 1.1 0 1 0 2.2 0a1.1 1.1 0 1 0 -2.2 0M134.4 503.5a1.1 1.1 0 1 0 2.2 0a1.1 1.1 0 1 0 -2.2 0M137.1 496.9a1.1 1.1 0 1 0 2.2 0a1.1 1.1 0 1 0 -2.2 0M134.7 491.2a1.1 1.1 0 1 0 2.2 0a1.1 1.1 0 1 0 -2.2 0M136.6 486.2a1.1 1.1 0 1 0 2.2 0a1.1 1.1 0 1 0 -2.2 0M134.4 484.2a1.1 1.1 0 1 0 2.2 0a1.1 1.1 0 1 0 -2.2 0M132.7 482.8a1.1 1.1 0 1 0 2.2 0a1.1 1.1 0 1 0 -2.2 0M135.7 482.5a1.1 1.1 0 1 0 2.2 0a1.1 1.1 0 1 0 -2.2 0M138.9 482.6a1.1 1.1 0 1 0 2.2 0a1.1 1.1 0 1 0 -2.2 0M131.4 480.9a1.1 1.1 0 1 0 2.2 0a1.1 1.1 0 1 0 -2.2 0M134.1 480.3a1.1 1.1 0 1 0 2.2 0a1.1 1.1 0 1 0 -2.2 0M137.5 480.7a1.1 1.1 0 1 0 2.2 0a1.1 1.1 0 1 0 -2.2 0M140.1 480.3a1.1 1.1 0 1 0 2.2 0a1.1 1.1 0 1 0 -2.2 0M137.1 476.0a1.1 1.1 0 1 0 2.2 0a1.1 1.1 0 1 0 -2.2 0M134.4 474.2a1.1 1.1 0 1 0 2.2 0a1.1 1.1 0 1 0 -2.2 0M137.4 474.2a1.1 1.1 0 1 0 2.2 0a1.1 1.1 0 1 0 -2.2 0M132.6 472.8a1.1 1.1 0 1 0 2.2 0a1.1 1.1 0 1 0 -2.2 0M135.5 472.3a1.1 1.1 0 1 0 2.2 0a1.1 1.1 0 1 0 -2.2 0M138.6 472.8a1.1 1.1 0 1 0 2.2 0a1.1 1.1 0 1 0 -2.2 0M132.5 470.2a1.1 1.1 0 1 0 2.2 0a1.1 1.1 0 1 0 -2.2 0M135.9 470.1a1.1 1.1 0 1 0 2.2 0a1.1 1.1 0 1 0 -2.2 0M138.5 470.6a1.1 1.1 0 1 0 2.2 0a1.1 1.1 0 1 0 -2.2 0M131.5 468.2a1.1 1.1 0 1 0 2.2 0a1.1 1.1 0 1 0 -2.2 0M134.0 468.2a1.1 1.1 0 1 0 2.2 0a1.1 1.1 0 1 0 -2.2 0M137.0 468.2a1.1 1.1 0 1 0 2.2 0a1.1 1.1 0 1 0 -2.2 0M140.0 468.2a1.1 1.1 0 1 0 2.2 0a1.1 1.1 0 1 0 -2.2 0M134.2 465.7a1.1 1.1 0 1 0 2.2 0a1.1 1.1 0 1 0 -2.2 0M136.9 465.8a1.1 1.1 0 1 0 2.2 0a1.1 1.1 0 1 0 -2.2 0M131.0 464.7a1.1 1.1 0 1 0 2.2 0a1.1 1.1 0 1 0 -2.2 0M134.5 465.0a1.1 1.1 0 1 0 2.2 0a1.1 1.1 0 1 0 -2.2 0M137.4 464.7a1.1 1.1 0 1 0 2.2 0a1.1 1.1 0 1 0 -2.2 0M140.0 464.9a1.1 1.1 0 1 0 2.2 0a1.1 1.1 0 1 0 -2.2 0M134.0 462.4a1.1 1.1 0 1 0 2.2 0a1.1 1.1 0 1 0 -2.2 0M137.4 462.7a1.1 1.1 0 1 0 2.2 0a1.1 1.1 0 1 0 -2.2 0M132.8 460.8a1.1 1.1 0 1 0 2.2 0a1.1 1.1 0 1 0 -2.2 0M136.0 461.0a1.1 1.1 0 1 0 2.2 0a1.1 1.1 0 1 0 -2.2 0M138.7 460.4a1.1 1.1 0 1 0 2.2 0a1.1 1.1 0 1 0 -2.2 0" fill="#c02828"/>
<line x1="48.0" y1="490.1" x2="73.0" y2="490.1" stroke="#2a2a2a" stroke-width="1.45"/>
<line x1="85.6" y1="490.0" x2="111.6" y2="490.0" stroke="#2a2a2a" stroke-width="1.45"/>
<line x1="124.0" y1="478.0" x2="149.6" y2="478.0" stroke="#2a2a2a" stroke-width="1.45"/>
<text x="54.3" y="531.1" font-size="8.8" fill="#2a2a2a" textLength="12.8" lengthAdjust="spacingAndGlyphs" stroke="#2a2a2a" stroke-width="0.35">WT</text>
<text x="87.9" y="532.2" font-size="8.8" fill="#2a2a2a" textLength="18.4" lengthAdjust="spacingAndGlyphs" stroke="#2a2a2a" stroke-width="0.35">IDH1</text>
<text x="83.6" y="543.1" font-size="8.8" fill="#2a2a2a" textLength="28.1" lengthAdjust="spacingAndGlyphs" stroke="#2a2a2a" stroke-width="0.35">mutant</text>
<text x="125.3" y="532.2" font-size="8.8" fill="#2a2a2a" textLength="19.5" lengthAdjust="spacingAndGlyphs" stroke="#2a2a2a" stroke-width="0.35">IDH2</text>
<text x="121.5" y="543.1" font-size="8.8" fill="#2a2a2a" textLength="28.1" lengthAdjust="spacingAndGlyphs" stroke="#2a2a2a" stroke-width="0.35">mutant</text>
<text x="177.8" y="412.7" font-size="10.2" fill="#222" font-weight="bold">H</text>
<text x="232.9" y="419.0" font-size="8.2" fill="#262626" textLength="62.4" lengthAdjust="spacingAndGlyphs" stroke="#262626" stroke-width="0.22">EVI1 (MECOM)</text>
<line x1="204.0" y1="428.4" x2="204.0" y2="520.5" stroke="#767676" stroke-width="1"/>
<line x1="204.0" y1="520.5" x2="323.8" y2="520.5" stroke="#767676" stroke-width="1"/>
<line x1="201.8" y1="520.5" x2="204.0" y2="520.5" stroke="#767676" stroke-width="1"/>
<text x="199.4" y="524.1" font-size="8.6" fill="#4a4a4a" text-anchor="end" stroke="#4a4a4a" stroke-width="0.2">0</text>
<line x1="201.8" y1="489.8" x2="204.0" y2="489.8" stroke="#767676" stroke-width="1"/>
<text x="199.4" y="493.4" font-size="8.6" fill="#4a4a4a" text-anchor="end" stroke="#4a4a4a" stroke-width="0.2">5</text>
<line x1="201.8" y1="459.1" x2="204.0" y2="459.1" stroke="#767676" stroke-width="1"/>
<text x="199.4" y="462.7" font-size="8.6" fill="#4a4a4a" text-anchor="end" stroke="#4a4a4a" stroke-width="0.2">10</text>
<line x1="201.8" y1="428.4" x2="204.0" y2="428.4" stroke="#767676" stroke-width="1"/>
<text x="199.4" y="432.0" font-size="8.6" fill="#4a4a4a" text-anchor="end" stroke="#4a4a4a" stroke-width="0.2">15</text>
<text x="183.7" y="478.1" font-size="8.2" fill="#4a4a4a" text-anchor="middle" textLength="43.5" lengthAdjust="spacingAndGlyphs" transform="rotate(-90 183.7 478.1)">log2 ZNF521</text>
<line x1="234.6" y1="520.3" x2="234.6" y2="522.5" stroke="#767676" stroke-width="1"/>
<line x1="295.0" y1="520.3" x2="295.0" y2="522.5" stroke="#767676" stroke-width="1"/>
<path d="M225.9 454.9a1.0 1.0 0 1 0 2.0 0a1.0 1.0 0 1 0 -2.0 0M227.9 454.9a1.0 1.0 0 1 0 2.0 0a1.0 1.0 0 1 0 -2.0 0M230.2 455.1a1.0 1.0 0 1 0 2.0 0a1.0 1.0 0 1 0 -2.0 0M232.5 455.0a1.0 1.0 0 1 0 2.0 0a1.0 1.0 0 1 0 -2.0 0M234.6 455.1a1.0 1.0 0 1 0 2.0 0a1.0 1.0 0 1 0 -2.0 0M237.0 455.0a1.0 1.0 0 1 0 2.0 0a1.0 1.0 0 1 0 -2.0 0M239.4 455.2a1.0 1.0 0 1 0 2.0 0a1.0 1.0 0 1 0 -2.0 0M241.6 455.2a1.0 1.0 0 1 0 2.0 0a1.0 1.0 0 1 0 -2.0 0M221.1 457.8a1.0 1.0 0 1 0 2.0 0a1.0 1.0 0 1 0 -2.0 0M223.5 457.7a1.0 1.0 0 1 0 2.0 0a1.0 1.0 0 1 0 -2.0 0M225.8 458.0a1.0 1.0 0 1 0 2.0 0a1.0 1.0 0 1 0 -2.0 0M227.8 457.8a1.0 1.0 0 1 0 2.0 0a1.0 1.0 0 1 0 -2.0 0M230.4 458.0a1.0 1.0 0 1 0 2.0 0a1.0 1.0 0 1 0 -2.0 0M232.5 457.6a1.0 1.0 0 1 0 2.0 0a1.0 1.0 0 1 0 -2.0 0M234.7 457.8a1.0 1.0 0 1 0 2.0 0a1.0 1.0 0 1 0 -2.0 0M237.1 457.7a1.0 1.0 0 1 0 2.0 0a1.0 1.0 0 1 0 -2.0 0M239.1 458.0a1.0 1.0 0 1 0 2.0 0a1.0 1.0 0 1 0 -2.0 0M241.3 457.9a1.0 1.0 0 1 0 2.0 0a1.0 1.0 0 1 0 -2.0 0M243.6 457.9a1.0 1.0 0 1 0 2.0 0a1.0 1.0 0 1 0 -2.0 0M245.9 458.0a1.0 1.0 0 1 0 2.0 0a1.0 1.0 0 1 0 -2.0 0M215.5 460.7a1.0 1.0 0 1 0 2.0 0a1.0 1.0 0 1 0 -2.0 0M217.7 460.4a1.0 1.0 0 1 0 2.0 0a1.0 1.0 0 1 0 -2.0 0M219.9 460.4a1.0 1.0 0 1 0 2.0 0a1.0 1.0 0 1 0 -2.0 0M222.3 460.8a1.0 1.0 0 1 0 2.0 0a1.0 1.0 0 1 0 -2.0 0M224.5 460.7a1.0 1.0 0 1 0 2.0 0a1.0 1.0 0 1 0 -2.0 0M226.7 460.6a1.0 1.0 0 1 0 2.0 0a1.0 1.0 0 1 0 -2.0 0M229.1 460.4a1.0 1.0 0 1 0 2.0 0a1.0 1.0 0 1 0 -2.0 0M231.4 460.5a1.0 1.0 0 1 0 2.0 0a1.0 1.0 0 1 0 -2.0 0M233.5 460.7a1.0 1.0 0 1 0 2.0 0a1.0 1.0 0 1 0 -2.0 0M235.9 460.4a1.0 1.0 0 1 0 2.0 0a1.0 1.0 0 1 0 -2.0 0M237.9 460.4a1.0 1.0 0 1 0 2.0 0a1.0 1.0 0 1 0 -2.0 0M240.3 460.6a1.0 1.0 0 1 0 2.0 0a1.0 1.0 0 1 0 -2.0 0M242.8 460.8a1.0 1.0 0 1 0 2.0 0a1.0 1.0 0 1 0 -2.0 0M245.0 460.4a1.0 1.0 0 1 0 2.0 0a1.0 1.0 0 1 0 -2.0 0M247.2 460.7a1.0 1.0 0 1 0 2.0 0a1.0 1.0 0 1 0 -2.0 0M249.3 460.8a1.0 1.0 0 1 0 2.0 0a1.0 1.0 0 1 0 -2.0 0M251.6 460.4a1.0 1.0 0 1 0 2.0 0a1.0 1.0 0 1 0 -2.0 0M214.4 463.2a1.0 1.0 0 1 0 2.0 0a1.0 1.0 0 1 0 -2.0 0M216.8 463.4a1.0 1.0 0 1 0 2.0 0a1.0 1.0 0 1 0 -2.0 0M219.1 463.1a1.0 1.0 0 1 0 2.0 0a1.0 1.0 0 1 0 -2.0 0M221.0 463.5a1.0 1.0 0 1 0 2.0 0a1.0 1.0 0 1 0 -2.0 0M223.4 463.2a1.0 1.0 0 1 0 2.0 0a1.0 1.0 0 1 0 -2.0 0M225.9 463.2a1.0 1.0 0 1 0 2.0 0a1.0 1.0 0 1 0 -2.0 0M228.1 463.5a1.0 1.0 0 1 0 2.0 0a1.0 1.0 0 1 0 -2.0 0M230.2 463.4a1.0 1.0 0 1 0 2.0 0a1.0 1.0 0 1 0 -2.0 0M232.3 463.4a1.0 1.0 0 1 0 2.0 0a1.0 1.0 0 1 0 -2.0 0M234.8 463.4a1.0 1.0 0 1 0 2.0 0a1.0 1.0 0 1 0 -2.0 0M237.0 463.2a1.0 1.0 0 1 0 2.0 0a1.0 1.0 0 1 0 -2.0 0M239.1 463.4a1.0 1.0 0 1 0 2.0 0a1.0 1.0 0 1 0 -2.0 0M241.3 463.2a1.0 1.0 0 1 0 2.0 0a1.0 1.0 0 1 0 -2.0 0M243.6 463.4a1.0 1.0 0 1 0 2.0 0a1.0 1.0 0 1 0 -2.0 0M246.0 463.3a1.0 1.0 0 1 0 2.0 0a1.0 1.0 0 1 0 -2.0 0M248.4 463.4a1.0 1.0 0 1 0 2.0 0a1.0 1.0 0 1 0 -2.0 0M250.4 463.3a1.0 1.0 0 1 0 2.0 0a1.0 1.0 0 1 0 -2.0 0M252.9 463.3a1.0 1.0 0 1 0 2.0 0a1.0 1.0 0 1 0 -2.0 0M214.4 466.1a1.0 1.0 0 1 0 2.0 0a1.0 1.0 0 1 0 -2.0 0M216.9 466.1a1.0 1.0 0 1 0 2.0 0a1.0 1.0 0 1 0 -2.0 0M218.8 466.1a1.0 1.0 0 1 0 2.0 0a1.0 1.0 0 1 0 -2.0 0M221.2 466.1a1.0 1.0 0 1 0 2.0 0a1.0 1.0 0 1 0 -2.0 0M223.6 465.9a1.0 1.0 0 1 0 2.0 0a1.0 1.0 0 1 0 -2.0 0M225.7 466.0a1.0 1.0 0 1 0 2.0 0a1.0 1.0 0 1 0 -2.0 0M228.0 466.2a1.0 1.0 0 1 0 2.0 0a1.0 1.0 0 1 0 -2.0 0M230.2 466.1a1.0 1.0 0 1 0 2.0 0a1.0 1.0 0 1 0 -2.0 0M232.4 466.0a1.0 1.0 0 1 0 2.0 0a1.0 1.0 0 1 0 -2.0 0M234.7 466.1a1.0 1.0 0 1 0 2.0 0a1.0 1.0 0 1 0 -2.0 0M236.9 466.2a1.0 1.0 0 1 0 2.0 0a1.0 1.0 0 1 0 -2.0 0M239.2 466.0a1.0 1.0 0 1 0 2.0 0a1.0 1.0 0 1 0 -2.0 0M241.4 466.2a1.0 1.0 0 1 0 2.0 0a1.0 1.0 0 1 0 -2.0 0M243.9 466.3a1.0 1.0 0 1 0 2.0 0a1.0 1.0 0 1 0 -2.0 0M245.9 465.9a1.0 1.0 0 1 0 2.0 0a1.0 1.0 0 1 0 -2.0 0M248.3 465.9a1.0 1.0 0 1 0 2.0 0a1.0 1.0 0 1 0 -2.0 0M250.6 466.2a1.0 1.0 0 1 0 2.0 0a1.0 1.0 0 1 0 -2.0 0M252.7 466.1a1.0 1.0 0 1 0 2.0 0a1.0 1.0 0 1 0 -2.0 0M213.4 468.7a1.0 1.0 0 1 0 2.0 0a1.0 1.0 0 1 0 -2.0 0M215.5 469.0a1.0 1.0 0 1 0 2.0 0a1.0 1.0 0 1 0 -2.0 0M217.9 468.9a1.0 1.0 0 1 0 2.0 0a1.0 1.0 0 1 0 -2.0 0M219.9 468.7a1.0 1.0 0 1 0 2.0 0a1.0 1.0 0 1 0 -2.0 0M222.3 468.6a1.0 1.0 0 1 0 2.0 0a1.0 1.0 0 1 0 -2.0 0M224.7 468.9a1.0 1.0 0 1 0 2.0 0a1.0 1.0 0 1 0 -2.0 0M227.0 468.9a1.0 1.0 0 1 0 2.0 0a1.0 1.0 0 1 0 -2.0 0M229.3 468.8a1.0 1.0 0 1 0 2.0 0a1.0 1.0 0 1 0 -2.0 0M231.4 468.7a1.0 1.0 0 1 0 2.0 0a1.0 1.0 0 1 0 -2.0 0M233.6 469.0a1.0 1.0 0 1 0 2.0 0a1.0 1.0 0 1 0 -2.0 0M235.8 468.6a1.0 1.0 0 1 0 2.0 0a1.0 1.0 0 1 0 -2.0 0M238.0 468.7a1.0 1.0 0 1 0 2.0 0a1.0 1.0 0 1 0 -2.0 0M240.4 468.8a1.0 1.0 0 1 0 2.0 0a1.0 1.0 0 1 0 -2.0 0M242.6 469.0a1.0 1.0 0 1 0 2.0 0a1.0 1.0 0 1 0 -2.0 0M245.0 468.7a1.0 1.0 0 1 0 2.0 0a1.0 1.0 0 1 0 -2.0 0M246.9 468.9a1.0 1.0 0 1 0 2.0 0a1.0 1.0 0 1 0 -2.0 0M249.4 468.9a1.0 1.0 0 1 0 2.0 0a1.0 1.0 0 1 0 -2.0 0M251.6 468.7a1.0 1.0 0 1 0 2.0 0a1.0 1.0 0 1 0 -2.0 0M253.8 469.0a1.0 1.0 0 1 0 2.0 0a1.0 1.0 0 1 0 -2.0 0M213.4 471.4a1.0 1.0 0 1 0 2.0 0a1.0 1.0 0 1 0 -2.0 0M215.4 471.8a1.0 1.0 0 1 0 2.0 0a1.0 1.0 0 1 0 -2.0 0M217.9 471.5a1.0 1.0 0 1 0 2.0 0a1.0 1.0 0 1 0 -2.0 0M220.2 471.8a1.0 1.0 0 1 0 2.0 0a1.0 1.0 0 1 0 -2.0 0M222.5 471.7a1.0 1.0 0 1 0 2.0 0a1.0 1.0 0 1 0 -2.0 0M224.7 471.4a1.0 1.0 0 1 0 2.0 0a1.0 1.0 0 1 0 -2.0 0M226.8 471.7a1.0 1.0 0 1 0 2.0 0a1.0 1.0 0 1 0 -2.0 0M229.0 471.5a1.0 1.0 0 1 0 2.0 0a1.0 1.0 0 1 0 -2.0 0M231.5 471.7a1.0 1.0 0 1 0 2.0 0a1.0 1.0 0 1 0 -2.0 0M233.4 471.4a1.0 1.0 0 1 0 2.0 0a1.0 1.0 0 1 0 -2.0 0M235.9 471.8a1.0 1.0 0 1 0 2.0 0a1.0 1.0 0 1 0 -2.0 0M238.1 471.7a1.0 1.0 0 1 0 2.0 0a1.0 1.0 0 1 0 -2.0 0M240.2 471.6a1.0 1.0 0 1 0 2.0 0a1.0 1.0 0 1 0 -2.0 0M242.5 471.5a1.0 1.0 0 1 0 2.0 0a1.0 1.0 0 1 0 -2.0 0M244.7 471.6a1.0 1.0 0 1 0 2.0 0a1.0 1.0 0 1 0 -2.0 0M246.9 471.7a1.0 1.0 0 1 0 2.0 0a1.0 1.0 0 1 0 -2.0 0M249.4 471.8a1.0 1.0 0 1 0 2.0 0a1.0 1.0 0 1 0 -2.0 0M251.7 471.4a1.0 1.0 0 1 0 2.0 0a1.0 1.0 0 1 0 -2.0 0M254.0 471.6a1.0 1.0 0 1 0 2.0 0a1.0 1.0 0 1 0 -2.0 0M213.5 474.3a1.0 1.0 0 1 0 2.0 0a1.0 1.0 0 1 0 -2.0 0M215.4 474.4a1.0 1.0 0 1 0 2.0 0a1.0 1.0 0 1 0 -2.0 0M217.7 474.5a1.0 1.0 0 1 0 2.0 0a1.0 1.0 0 1 0 -2.0 0M220.1 474.5a1.0 1.0 0 1 0 2.0 0a1.0 1.0 0 1 0 -2.0 0M222.3 474.3a1.0 1.0 0 1 0 2.0 0a1.0 1.0 0 1 0 -2.0 0M224.7 474.4a1.0 1.0 0 1 0 2.0 0a1.0 1.0 0 1 0 -2.0 0M226.8 474.3a1.0 1.0 0 1 0 2.0 0a1.0 1.0 0 1 0 -2.0 0M229.1 474.4a1.0 1.0 0 1 0 2.0 0a1.0 1.0 0 1 0 -2.0 0M231.2 474.2a1.0 1.0 0 1 0 2.0 0a1.0 1.0 0 1 0 -2.0 0M233.6 474.4a1.0 1.0 0 1 0 2.0 0a1.0 1.0 0 1 0 -2.0 0M235.7 474.3a1.0 1.0 0 1 0 2.0 0a1.0 1.0 0 1 0 -2.0 0M238.3 474.3a1.0 1.0 0 1 0 2.0 0a1.0 1.0 0 1 0 -2.0 0M240.5 474.3a1.0 1.0 0 1 0 2.0 0a1.0 1.0 0 1 0 -2.0 0M242.4 474.3a1.0 1.0 0 1 0 2.0 0a1.0 1.0 0 1 0 -2.0 0M245.0 474.5a1.0 1.0 0 1 0 2.0 0a1.0 1.0 0 1 0 -2.0 0M246.9 474.4a1.0 1.0 0 1 0 2.0 0a1.0 1.0 0 1 0 -2.0 0M249.4 474.3a1.0 1.0 0 1 0 2.0 0a1.0 1.0 0 1 0 -2.0 0M251.7 474.4a1.0 1.0 0 1 0 2.0 0a1.0 1.0 0 1 0 -2.0 0M253.7 474.4a1.0 1.0 0 1 0 2.0 0a1.0 1.0 0 1 0 -2.0 0M213.2 477.0a1.0 1.0 0 1 0 2.0 0a1.0 1.0 0 1 0 -2.0 0M215.7 477.1a1.0 1.0 0 1 0 2.0 0a1.0 1.0 0 1 0 -2.0 0M217.9 477.2a1.0 1.0 0 1 0 2.0 0a1.0 1.0 0 1 0 -2.0 0M220.1 477.1a1.0 1.0 0 1 0 2.0 0a1.0 1.0 0 1 0 -2.0 0M222.4 476.9a1.0 1.0 0 1 0 2.0 0a1.0 1.0 0 1 0 -2.0 0M224.5 476.9a1.0 1.0 0 1 0 2.0 0a1.0 1.0 0 1 0 -2.0 0M227.0 477.3a1.0 1.0 0 1 0 2.0 0a1.0 1.0 0 1 0 -2.0 0M229.2 477.0a1.0 1.0 0 1 0 2.0 0a1.0 1.0 0 1 0 -2.0 0M231.5 477.0a1.0 1.0 0 1 0 2.0 0a1.0 1.0 0 1 0 -2.0 0M233.7 477.2a1.0 1.0 0 1 0 2.0 0a1.0 1.0 0 1 0 -2.0 0M235.9 477.2a1.0 1.0 0 1 0 2.0 0a1.0 1.0 0 1 0 -2.0 0M238.0 477.2a1.0 1.0 0 1 0 2.0 0a1.0 1.0 0 1 0 -2.0 0M240.4 477.2a1.0 1.0 0 1 0 2.0 0a1.0 1.0 0 1 0 -2.0 0M242.7 477.0a1.0 1.0 0 1 0 2.0 0a1.0 1.0 0 1 0 -2.0 0M244.8 477.1a1.0 1.0 0 1 0 2.0 0a1.0 1.0 0 1 0 -2.0 0M246.9 477.3a1.0 1.0 0 1 0 2.0 0a1.0 1.0 0 1 0 -2.0 0M249.4 477.1a1.0 1.0 0 1 0 2.0 0a1.0 1.0 0 1 0 -2.0 0M251.6 477.3a1.0 1.0 0 1 0 2.0 0a1.0 1.0 0 1 0 -2.0 0M253.7 477.1a1.0 1.0 0 1 0 2.0 0a1.0 1.0 0 1 0 -2.0 0M213.4 479.9a1.0 1.0 0 1 0 2.0 0a1.0 1.0 0 1 0 -2.0 0M215.6 479.8a1.0 1.0 0 1 0 2.0 0a1.0 1.0 0 1 0 -2.0 0M217.7 479.9a1.0 1.0 0 1 0 2.0 0a1.0 1.0 0 1 0 -2.0 0M220.0 480.0a1.0 1.0 0 1 0 2.0 0a1.0 1.0 0 1 0 -2.0 0M222.5 480.1a1.0 1.0 0 1 0 2.0 0a1.0 1.0 0 1 0 -2.0 0M224.5 479.9a1.0 1.0 0 1 0 2.0 0a1.0 1.0 0 1 0 -2.0 0M226.7 479.8a1.0 1.0 0 1 0 2.0 0a1.0 1.0 0 1 0 -2.0 0M228.9 479.9a1.0 1.0 0 1 0 2.0 0a1.0 1.0 0 1 0 -2.0 0M231.5 480.0a1.0 1.0 0 1 0 2.0 0a1.0 1.0 0 1 0 -2.0 0M233.5 479.8a1.0 1.0 0 1 0 2.0 0a1.0 1.0 0 1 0 -2.0 0M236.0 479.7a1.0 1.0 0 1 0 2.0 0a1.0 1.0 0 1 0 -2.0 0M238.2 480.0a1.0 1.0 0 1 0 2.0 0a1.0 1.0 0 1 0 -2.0 0M240.2 480.0a1.0 1.0 0 1 0 2.0 0a1.0 1.0 0 1 0 -2.0 0M242.7 479.8a1.0 1.0 0 1 0 2.0 0a1.0 1.0 0 1 0 -2.0 0M244.8 479.9a1.0 1.0 0 1 0 2.0 0a1.0 1.0 0 1 0 -2.0 0M247.1 480.0a1.0 1.0 0 1 0 2.0 0a1.0 1.0 0 1 0 -2.0 0M249.5 479.8a1.0 1.0 0 1 0 2.0 0a1.0 1.0 0 1 0 -2.0 0M251.4 480.0a1.0 1.0 0 1 0 2.0 0a1.0 1.0 0 1 0 -2.0 0M253.9 479.9a1.0 1.0 0 1 0 2.0 0a1.0 1.0 0 1 0 -2.0 0M213.2 482.5a1.0 1.0 0 1 0 2.0 0a1.0 1.0 0 1 0 -2.0 0M215.8 482.6a1.0 1.0 0 1 0 2.0 0a1.0 1.0 0 1 0 -2.0 0M217.8 482.8a1.0 1.0 0 1 0 2.0 0a1.0 1.0 0 1 0 -2.0 0M220.0 482.7a1.0 1.0 0 1 0 2.0 0a1.0 1.0 0 1 0 -2.0 0M222.2 482.6a1.0 1.0 0 1 0 2.0 0a1.0 1.0 0 1 0 -2.0 0M224.7 482.5a1.0 1.0 0 1 0 2.0 0a1.0 1.0 0 1 0 -2.0 0M227.0 482.8a1.0 1.0 0 1 0 2.0 0a1.0 1.0 0 1 0 -2.0 0M229.2 482.7a1.0 1.0 0 1 0 2.0 0a1.0 1.0 0 1 0 -2.0 0M231.5 482.7a1.0 1.0 0 1 0 2.0 0a1.0 1.0 0 1 0 -2.0 0M233.6 482.8a1.0 1.0 0 1 0 2.0 0a1.0 1.0 0 1 0 -2.0 0M236.0 482.7a1.0 1.0 0 1 0 2.0 0a1.0 1.0 0 1 0 -2.0 0M238.2 482.5a1.0 1.0 0 1 0 2.0 0a1.0 1.0 0 1 0 -2.0 0M240.3 482.6a1.0 1.0 0 1 0 2.0 0a1.0 1.0 0 1 0 -2.0 0M242.7 482.7a1.0 1.0 0 1 0 2.0 0a1.0 1.0 0 1 0 -2.0 0M244.8 482.8a1.0 1.0 0 1 0 2.0 0a1.0 1.0 0 1 0 -2.0 0M246.9 482.4a1.0 1.0 0 1 0 2.0 0a1.0 1.0 0 1 0 -2.0 0M249.3 482.5a1.0 1.0 0 1 0 2.0 0a1.0 1.0 0 1 0 -2.0 0M251.8 482.6a1.0 1.0 0 1 0 2.0 0a1.0 1.0 0 1 0 -2.0 0M253.8 482.8a1.0 1.0 0 1 0 2.0 0a1.0 1.0 0 1 0 -2.0 0M213.4 485.4a1.0 1.0 0 1 0 2.0 0a1.0 1.0 0 1 0 -2.0 0M215.6 485.4a1.0 1.0 0 1 0 2.0 0a1.0 1.0 0 1 0 -2.0 0M218.0 485.3a1.0 1.0 0 1 0 2.0 0a1.0 1.0 0 1 0 -2.0 0M220.1 485.4a1.0 1.0 0 1 0 2.0 0a1.0 1.0 0 1 0 -2.0 0M222.2 485.2a1.0 1.0 0 1 0 2.0 0a1.0 1.0 0 1 0 -2.0 0M224.6 485.5a1.0 1.0 0 1 0 2.0 0a1.0 1.0 0 1 0 -2.0 0M226.8 485.2a1.0 1.0 0 1 0 2.0 0a1.0 1.0 0 1 0 -2.0 0M229.3 485.2a1.0 1.0 0 1 0 2.0 0a1.0 1.0 0 1 0 -2.0 0M231.5 485.2a1.0 1.0 0 1 0 2.0 0a1.0 1.0 0 1 0 -2.0 0M233.7 485.2a1.0 1.0 0 1 0 2.0 0a1.0 1.0 0 1 0 -2.0 0M235.8 485.3a1.0 1.0 0 1 0 2.0 0a1.0 1.0 0 1 0 -2.0 0M238.2 485.4a1.0 1.0 0 1 0 2.0 0a1.0 1.0 0 1 0 -2.0 0M240.3 485.3a1.0 1.0 0 1 0 2.0 0a1.0 1.0 0 1 0 -2.0 0M242.6 485.3a1.0 1.0 0 1 0 2.0 0a1.0 1.0 0 1 0 -2.0 0M245.0 485.3a1.0 1.0 0 1 0 2.0 0a1.0 1.0 0 1 0 -2.0 0M247.0 485.4a1.0 1.0 0 1 0 2.0 0a1.0 1.0 0 1 0 -2.0 0M249.3 485.5a1.0 1.0 0 1 0 2.0 0a1.0 1.0 0 1 0 -2.0 0M251.4 485.4a1.0 1.0 0 1 0 2.0 0a1.0 1.0 0 1 0 -2.0 0M253.8 485.5a1.0 1.0 0 1 0 2.0 0a1.0 1.0 0 1 0 -2.0 0M214.4 488.1a1.0 1.0 0 1 0 2.0 0a1.0 1.0 0 1 0 -2.0 0M216.7 488.1a1.0 1.0 0 1 0 2.0 0a1.0 1.0 0 1 0 -2.0 0M218.9 488.2a1.0 1.0 0 1 0 2.0 0a1.0 1.0 0 1 0 -2.0 0M221.2 488.2a1.0 1.0 0 1 0 2.0 0a1.0 1.0 0 1 0 -2.0 0M223.4 488.1a1.0 1.0 0 1 0 2.0 0a1.0 1.0 0 1 0 -2.0 0M225.7 488.2a1.0 1.0 0 1 0 2.0 0a1.0 1.0 0 1 0 -2.0 0M228.0 488.1a1.0 1.0 0 1 0 2.0 0a1.0 1.0 0 1 0 -2.0 0M230.1 488.0a1.0 1.0 0 1 0 2.0 0a1.0 1.0 0 1 0 -2.0 0M232.3 488.0a1.0 1.0 0 1 0 2.0 0a1.0 1.0 0 1 0 -2.0 0M234.6 488.2a1.0 1.0 0 1 0 2.0 0a1.0 1.0 0 1 0 -2.0 0M236.9 488.3a1.0 1.0 0 1 0 2.0 0a1.0 1.0 0 1 0 -2.0 0M239.1 488.0a1.0 1.0 0 1 0 2.0 0a1.0 1.0 0 1 0 -2.0 0M241.3 488.0a1.0 1.0 0 1 0 2.0 0a1.0 1.0 0 1 0 -2.0 0M243.8 488.2a1.0 1.0 0 1 0 2.0 0a1.0 1.0 0 1 0 -2.0 0M245.9 488.3a1.0 1.0 0 1 0 2.0 0a1.0 1.0 0 1 0 -2.0 0M248.3 488.1a1.0 1.0 0 1 0 2.0 0a1.0 1.0 0 1 0 -2.0 0M250.5 488.2a1.0 1.0 0 1 0 2.0 0a1.0 1.0 0 1 0 -2.0 0M252.7 488.0a1.0 1.0 0 1 0 2.0 0a1.0 1.0 0 1 0 -2.0 0M214.4 491.1a1.0 1.0 0 1 0 2.0 0a1.0 1.0 0 1 0 -2.0 0M216.7 490.9a1.0 1.0 0 1 0 2.0 0a1.0 1.0 0 1 0 -2.0 0M218.8 491.0a1.0 1.0 0 1 0 2.0 0a1.0 1.0 0 1 0 -2.0 0M221.4 490.8a1.0 1.0 0 1 0 2.0 0a1.0 1.0 0 1 0 -2.0 0M223.4 490.9a1.0 1.0 0 1 0 2.0 0a1.0 1.0 0 1 0 -2.0 0M225.6 490.8a1.0 1.0 0 1 0 2.0 0a1.0 1.0 0 1 0 -2.0 0M227.8 491.0a1.0 1.0 0 1 0 2.0 0a1.0 1.0 0 1 0 -2.0 0M230.2 491.1a1.0 1.0 0 1 0 2.0 0a1.0 1.0 0 1 0 -2.0 0M232.7 491.0a1.0 1.0 0 1 0 2.0 0a1.0 1.0 0 1 0 -2.0 0M234.9 491.0a1.0 1.0 0 1 0 2.0 0a1.0 1.0 0 1 0 -2.0 0M236.8 490.7a1.0 1.0 0 1 0 2.0 0a1.0 1.0 0 1 0 -2.0 0M239.4 491.0a1.0 1.0 0 1 0 2.0 0a1.0 1.0 0 1 0 -2.0 0M241.5 490.9a1.0 1.0 0 1 0 2.0 0a1.0 1.0 0 1 0 -2.0 0M243.7 490.9a1.0 1.0 0 1 0 2.0 0a1.0 1.0 0 1 0 -2.0 0M245.8 490.9a1.0 1.0 0 1 0 2.0 0a1.0 1.0 0 1 0 -2.0 0M248.1 490.7a1.0 1.0 0 1 0 2.0 0a1.0 1.0 0 1 0 -2.0 0M250.6 490.9a1.0 1.0 0 1 0 2.0 0a1.0 1.0 0 1 0 -2.0 0M252.9 490.8a1.0 1.0 0 1 0 2.0 0a1.0 1.0 0 1 0 -2.0 0M214.5 493.6a1.0 1.0 0 1 0 2.0 0a1.0 1.0 0 1 0 -2.0 0M216.9 493.5a1.0 1.0 0 1 0 2.0 0a1.0 1.0 0 1 0 -2.0 0M219.0 493.7a1.0 1.0 0 1 0 2.0 0a1.0 1.0 0 1 0 -2.0 0M221.2 493.5a1.0 1.0 0 1 0 2.0 0a1.0 1.0 0 1 0 -2.0 0M223.5 493.7a1.0 1.0 0 1 0 2.0 0a1.0 1.0 0 1 0 -2.0 0M225.9 493.5a1.0 1.0 0 1 0 2.0 0a1.0 1.0 0 1 0 -2.0 0M227.8 493.6a1.0 1.0 0 1 0 2.0 0a1.0 1.0 0 1 0 -2.0 0M230.3 493.5a1.0 1.0 0 1 0 2.0 0a1.0 1.0 0 1 0 -2.0 0M232.5 493.5a1.0 1.0 0 1 0 2.0 0a1.0 1.0 0 1 0 -2.0 0M234.6 493.7a1.0 1.0 0 1 0 2.0 0a1.0 1.0 0 1 0 -2.0 0M237.0 493.5a1.0 1.0 0 1 0 2.0 0a1.0 1.0 0 1 0 -2.0 0M239.2 493.8a1.0 1.0 0 1 0 2.0 0a1.0 1.0 0 1 0 -2.0 0M241.4 493.7a1.0 1.0 0 1 0 2.0 0a1.0 1.0 0 1 0 -2.0 0M243.7 493.7a1.0 1.0 0 1 0 2.0 0a1.0 1.0 0 1 0 -2.0 0M245.8 493.8a1.0 1.0 0 1 0 2.0 0a1.0 1.0 0 1 0 -2.0 0M248.3 493.6a1.0 1.0 0 1 0 2.0 0a1.0 1.0 0 1 0 -2.0 0M250.4 493.5a1.0 1.0 0 1 0 2.0 0a1.0 1.0 0 1 0 -2.0 0M252.9 493.8a1.0 1.0 0 1 0 2.0 0a1.0 1.0 0 1 0 -2.0 0M214.4 496.4a1.0 1.0 0 1 0 2.0 0a1.0 1.0 0 1 0 -2.0 0M216.7 496.3a1.0 1.0 0 1 0 2.0 0a1.0 1.0 0 1 0 -2.0 0M218.8 496.5a1.0 1.0 0 1 0 2.0 0a1.0 1.0 0 1 0 -2.0 0M221.1 496.4a1.0 1.0 0 1 0 2.0 0a1.0 1.0 0 1 0 -2.0 0M223.3 496.2a1.0 1.0 0 1 0 2.0 0a1.0 1.0 0 1 0 -2.0 0M225.6 496.5a1.0 1.0 0 1 0 2.0 0a1.0 1.0 0 1 0 -2.0 0M228.0 496.6a1.0 1.0 0 1 0 2.0 0a1.0 1.0 0 1 0 -2.0 0M230.3 496.4a1.0 1.0 0 1 0 2.0 0a1.0 1.0 0 1 0 -2.0 0M232.3 496.6a1.0 1.0 0 1 0 2.0 0a1.0 1.0 0 1 0 -2.0 0M234.7 496.5a1.0 1.0 0 1 0 2.0 0a1.0 1.0 0 1 0 -2.0 0M236.8 496.5a1.0 1.0 0 1 0 2.0 0a1.0 1.0 0 1 0 -2.0 0M239.2 496.3a1.0 1.0 0 1 0 2.0 0a1.0 1.0 0 1 0 -2.0 0M241.4 496.2a1.0 1.0 0 1 0 2.0 0a1.0 1.0 0 1 0 -2.0 0M243.8 496.3a1.0 1.0 0 1 0 2.0 0a1.0 1.0 0 1 0 -2.0 0M246.1 496.3a1.0 1.0 0 1 0 2.0 0a1.0 1.0 0 1 0 -2.0 0M248.3 496.5a1.0 1.0 0 1 0 2.0 0a1.0 1.0 0 1 0 -2.0 0M250.6 496.6a1.0 1.0 0 1 0 2.0 0a1.0 1.0 0 1 0 -2.0 0M252.6 496.5a1.0 1.0 0 1 0 2.0 0a1.0 1.0 0 1 0 -2.0 0M214.4 499.3a1.0 1.0 0 1 0 2.0 0a1.0 1.0 0 1 0 -2.0 0M216.9 499.3a1.0 1.0 0 1 0 2.0 0a1.0 1.0 0 1 0 -2.0 0M219.0 499.1a1.0 1.0 0 1 0 2.0 0a1.0 1.0 0 1 0 -2.0 0M221.4 499.4a1.0 1.0 0 1 0 2.0 0a1.0 1.0 0 1 0 -2.0 0M223.7 499.1a1.0 1.0 0 1 0 2.0 0a1.0 1.0 0 1 0 -2.0 0M225.9 499.2a1.0 1.0 0 1 0 2.0 0a1.0 1.0 0 1 0 -2.0 0M228.1 499.3a1.0 1.0 0 1 0 2.0 0a1.0 1.0 0 1 0 -2.0 0M230.2 499.1a1.0 1.0 0 1 0 2.0 0a1.0 1.0 0 1 0 -2.0 0M232.6 499.2a1.0 1.0 0 1 0 2.0 0a1.0 1.0 0 1 0 -2.0 0M234.7 499.3a1.0 1.0 0 1 0 2.0 0a1.0 1.0 0 1 0 -2.0 0M236.8 499.0a1.0 1.0 0 1 0 2.0 0a1.0 1.0 0 1 0 -2.0 0M239.2 499.0a1.0 1.0 0 1 0 2.0 0a1.0 1.0 0 1 0 -2.0 0M241.6 499.0a1.0 1.0 0 1 0 2.0 0a1.0 1.0 0 1 0 -2.0 0M243.9 499.1a1.0 1.0 0 1 0 2.0 0a1.0 1.0 0 1 0 -2.0 0M245.8 499.3a1.0 1.0 0 1 0 2.0 0a1.0 1.0 0 1 0 -2.0 0M248.3 499.1a1.0 1.0 0 1 0 2.0 0a1.0 1.0 0 1 0 -2.0 0M250.5 499.2a1.0 1.0 0 1 0 2.0 0a1.0 1.0 0 1 0 -2.0 0M252.9 499.2a1.0 1.0 0 1 0 2.0 0a1.0 1.0 0 1 0 -2.0 0M215.6 501.9a1.0 1.0 0 1 0 2.0 0a1.0 1.0 0 1 0 -2.0 0M217.8 502.0a1.0 1.0 0 1 0 2.0 0a1.0 1.0 0 1 0 -2.0 0M219.9 502.0a1.0 1.0 0 1 0 2.0 0a1.0 1.0 0 1 0 -2.0 0M222.5 502.0a1.0 1.0 0 1 0 2.0 0a1.0 1.0 0 1 0 -2.0 0M224.6 501.9a1.0 1.0 0 1 0 2.0 0a1.0 1.0 0 1 0 -2.0 0M226.7 501.8a1.0 1.0 0 1 0 2.0 0a1.0 1.0 0 1 0 -2.0 0M229.1 502.1a1.0 1.0 0 1 0 2.0 0a1.0 1.0 0 1 0 -2.0 0M231.5 501.8a1.0 1.0 0 1 0 2.0 0a1.0 1.0 0 1 0 -2.0 0M233.7 502.0a1.0 1.0 0 1 0 2.0 0a1.0 1.0 0 1 0 -2.0 0M235.8 502.1a1.0 1.0 0 1 0 2.0 0a1.0 1.0 0 1 0 -2.0 0M238.0 501.9a1.0 1.0 0 1 0 2.0 0a1.0 1.0 0 1 0 -2.0 0M240.4 502.0a1.0 1.0 0 1 0 2.0 0a1.0 1.0 0 1 0 -2.0 0M242.6 501.8a1.0 1.0 0 1 0 2.0 0a1.0 1.0 0 1 0 -2.0 0M245.0 501.9a1.0 1.0 0 1 0 2.0 0a1.0 1.0 0 1 0 -2.0 0M247.1 501.8a1.0 1.0 0 1 0 2.0 0a1.0 1.0 0 1 0 -2.0 0M249.3 502.0a1.0 1.0 0 1 0 2.0 0a1.0 1.0 0 1 0 -2.0 0M251.5 502.0a1.0 1.0 0 1 0 2.0 0a1.0 1.0 0 1 0 -2.0 0M215.6 504.5a1.0 1.0 0 1 0 2.0 0a1.0 1.0 0 1 0 -2.0 0M218.0 504.6a1.0 1.0 0 1 0 2.0 0a1.0 1.0 0 1 0 -2.0 0M220.1 504.9a1.0 1.0 0 1 0 2.0 0a1.0 1.0 0 1 0 -2.0 0M222.2 504.5a1.0 1.0 0 1 0 2.0 0a1.0 1.0 0 1 0 -2.0 0M224.5 504.5a1.0 1.0 0 1 0 2.0 0a1.0 1.0 0 1 0 -2.0 0M227.0 504.7a1.0 1.0 0 1 0 2.0 0a1.0 1.0 0 1 0 -2.0 0M228.9 504.6a1.0 1.0 0 1 0 2.0 0a1.0 1.0 0 1 0 -2.0 0M231.4 504.5a1.0 1.0 0 1 0 2.0 0a1.0 1.0 0 1 0 -2.0 0M233.5 504.8a1.0 1.0 0 1 0 2.0 0a1.0 1.0 0 1 0 -2.0 0M235.8 504.6a1.0 1.0 0 1 0 2.0 0a1.0 1.0 0 1 0 -2.0 0M238.1 504.5a1.0 1.0 0 1 0 2.0 0a1.0 1.0 0 1 0 -2.0 0M240.4 504.7a1.0 1.0 0 1 0 2.0 0a1.0 1.0 0 1 0 -2.0 0M242.4 504.7a1.0 1.0 0 1 0 2.0 0a1.0 1.0 0 1 0 -2.0 0M244.8 504.8a1.0 1.0 0 1 0 2.0 0a1.0 1.0 0 1 0 -2.0 0M247.1 504.8a1.0 1.0 0 1 0 2.0 0a1.0 1.0 0 1 0 -2.0 0M249.4 504.6a1.0 1.0 0 1 0 2.0 0a1.0 1.0 0 1 0 -2.0 0M251.5 504.8a1.0 1.0 0 1 0 2.0 0a1.0 1.0 0 1 0 -2.0 0M215.7 507.3a1.0 1.0 0 1 0 2.0 0a1.0 1.0 0 1 0 -2.0 0M217.8 507.3a1.0 1.0 0 1 0 2.0 0a1.0 1.0 0 1 0 -2.0 0M220.1 507.6a1.0 1.0 0 1 0 2.0 0a1.0 1.0 0 1 0 -2.0 0M222.4 507.5a1.0 1.0 0 1 0 2.0 0a1.0 1.0 0 1 0 -2.0 0M224.7 507.3a1.0 1.0 0 1 0 2.0 0a1.0 1.0 0 1 0 -2.0 0M226.9 507.4a1.0 1.0 0 1 0 2.0 0a1.0 1.0 0 1 0 -2.0 0M229.1 507.4a1.0 1.0 0 1 0 2.0 0a1.0 1.0 0 1 0 -2.0 0M231.4 507.3a1.0 1.0 0 1 0 2.0 0a1.0 1.0 0 1 0 -2.0 0M233.7 507.3a1.0 1.0 0 1 0 2.0 0a1.0 1.0 0 1 0 -2.0 0M235.8 507.6a1.0 1.0 0 1 0 2.0 0a1.0 1.0 0 1 0 -2.0 0M238.3 507.4a1.0 1.0 0 1 0 2.0 0a1.0 1.0 0 1 0 -2.0 0M240.5 507.2a1.0 1.0 0 1 0 2.0 0a1.0 1.0 0 1 0 -2.0 0M242.8 507.3a1.0 1.0 0 1 0 2.0 0a1.0 1.0 0 1 0 -2.0 0M244.7 507.5a1.0 1.0 0 1 0 2.0 0a1.0 1.0 0 1 0 -2.0 0M247.0 507.5a1.0 1.0 0 1 0 2.0 0a1.0 1.0 0 1 0 -2.0 0M249.2 507.3a1.0 1.0 0 1 0 2.0 0a1.0 1.0 0 1 0 -2.0 0M251.5 507.3a1.0 1.0 0 1 0 2.0 0a1.0 1.0 0 1 0 -2.0 0M216.7 510.1a1.0 1.0 0 1 0 2.0 0a1.0 1.0 0 1 0 -2.0 0M219.1 510.2a1.0 1.0 0 1 0 2.0 0a1.0 1.0 0 1 0 -2.0 0M221.4 510.3a1.0 1.0 0 1 0 2.0 0a1.0 1.0 0 1 0 -2.0 0M223.3 510.4a1.0 1.0 0 1 0 2.0 0a1.0 1.0 0 1 0 -2.0 0M225.9 510.2a1.0 1.0 0 1 0 2.0 0a1.0 1.0 0 1 0 -2.0 0M228.0 510.1a1.0 1.0 0 1 0 2.0 0a1.0 1.0 0 1 0 -2.0 0M230.2 510.1a1.0 1.0 0 1 0 2.0 0a1.0 1.0 0 1 0 -2.0 0M232.4 510.2a1.0 1.0 0 1 0 2.0 0a1.0 1.0 0 1 0 -2.0 0M234.7 510.3a1.0 1.0 0 1 0 2.0 0a1.0 1.0 0 1 0 -2.0 0M237.0 510.3a1.0 1.0 0 1 0 2.0 0a1.0 1.0 0 1 0 -2.0 0M239.1 510.3a1.0 1.0 0 1 0 2.0 0a1.0 1.0 0 1 0 -2.0 0M241.5 510.2a1.0 1.0 0 1 0 2.0 0a1.0 1.0 0 1 0 -2.0 0M243.6 510.3a1.0 1.0 0 1 0 2.0 0a1.0 1.0 0 1 0 -2.0 0M245.9 510.3a1.0 1.0 0 1 0 2.0 0a1.0 1.0 0 1 0 -2.0 0M248.3 510.0a1.0 1.0 0 1 0 2.0 0a1.0 1.0 0 1 0 -2.0 0M250.4 510.3a1.0 1.0 0 1 0 2.0 0a1.0 1.0 0 1 0 -2.0 0M216.5 513.0a1.0 1.0 0 1 0 2.0 0a1.0 1.0 0 1 0 -2.0 0M219.0 513.0a1.0 1.0 0 1 0 2.0 0a1.0 1.0 0 1 0 -2.0 0M221.2 512.9a1.0 1.0 0 1 0 2.0 0a1.0 1.0 0 1 0 -2.0 0M223.5 513.0a1.0 1.0 0 1 0 2.0 0a1.0 1.0 0 1 0 -2.0 0M225.6 513.0a1.0 1.0 0 1 0 2.0 0a1.0 1.0 0 1 0 -2.0 0M227.9 513.0a1.0 1.0 0 1 0 2.0 0a1.0 1.0 0 1 0 -2.0 0M230.1 512.8a1.0 1.0 0 1 0 2.0 0a1.0 1.0 0 1 0 -2.0 0M232.4 513.1a1.0 1.0 0 1 0 2.0 0a1.0 1.0 0 1 0 -2.0 0M234.7 513.1a1.0 1.0 0 1 0 2.0 0a1.0 1.0 0 1 0 -2.0 0M237.1 512.9a1.0 1.0 0 1 0 2.0 0a1.0 1.0 0 1 0 -2.0 0M239.2 512.8a1.0 1.0 0 1 0 2.0 0a1.0 1.0 0 1 0 -2.0 0M241.6 513.0a1.0 1.0 0 1 0 2.0 0a1.0 1.0 0 1 0 -2.0 0M243.6 513.0a1.0 1.0 0 1 0 2.0 0a1.0 1.0 0 1 0 -2.0 0M246.0 513.0a1.0 1.0 0 1 0 2.0 0a1.0 1.0 0 1 0 -2.0 0M248.1 513.1a1.0 1.0 0 1 0 2.0 0a1.0 1.0 0 1 0 -2.0 0M250.5 512.8a1.0 1.0 0 1 0 2.0 0a1.0 1.0 0 1 0 -2.0 0M219.1 515.9a1.0 1.0 0 1 0 2.0 0a1.0 1.0 0 1 0 -2.0 0M221.1 515.8a1.0 1.0 0 1 0 2.0 0a1.0 1.0 0 1 0 -2.0 0M223.6 515.9a1.0 1.0 0 1 0 2.0 0a1.0 1.0 0 1 0 -2.0 0M225.6 515.8a1.0 1.0 0 1 0 2.0 0a1.0 1.0 0 1 0 -2.0 0M227.9 515.8a1.0 1.0 0 1 0 2.0 0a1.0 1.0 0 1 0 -2.0 0M230.3 515.7a1.0 1.0 0 1 0 2.0 0a1.0 1.0 0 1 0 -2.0 0M232.6 515.8a1.0 1.0 0 1 0 2.0 0a1.0 1.0 0 1 0 -2.0 0M234.9 515.9a1.0 1.0 0 1 0 2.0 0a1.0 1.0 0 1 0 -2.0 0M237.0 515.8a1.0 1.0 0 1 0 2.0 0a1.0 1.0 0 1 0 -2.0 0M239.3 515.7a1.0 1.0 0 1 0 2.0 0a1.0 1.0 0 1 0 -2.0 0M241.5 515.7a1.0 1.0 0 1 0 2.0 0a1.0 1.0 0 1 0 -2.0 0M243.6 515.6a1.0 1.0 0 1 0 2.0 0a1.0 1.0 0 1 0 -2.0 0M246.1 515.8a1.0 1.0 0 1 0 2.0 0a1.0 1.0 0 1 0 -2.0 0M248.3 515.8a1.0 1.0 0 1 0 2.0 0a1.0 1.0 0 1 0 -2.0 0M220.1 518.5a1.0 1.0 0 1 0 2.0 0a1.0 1.0 0 1 0 -2.0 0M222.4 518.3a1.0 1.0 0 1 0 2.0 0a1.0 1.0 0 1 0 -2.0 0M224.6 518.6a1.0 1.0 0 1 0 2.0 0a1.0 1.0 0 1 0 -2.0 0M226.7 518.4a1.0 1.0 0 1 0 2.0 0a1.0 1.0 0 1 0 -2.0 0M228.9 518.4a1.0 1.0 0 1 0 2.0 0a1.0 1.0 0 1 0 -2.0 0M231.5 518.3a1.0 1.0 0 1 0 2.0 0a1.0 1.0 0 1 0 -2.0 0M233.7 518.6a1.0 1.0 0 1 0 2.0 0a1.0 1.0 0 1 0 -2.0 0M236.0 518.4a1.0 1.0 0 1 0 2.0 0a1.0 1.0 0 1 0 -2.0 0M238.3 518.4a1.0 1.0 0 1 0 2.0 0a1.0 1.0 0 1 0 -2.0 0M240.3 518.6a1.0 1.0 0 1 0 2.0 0a1.0 1.0 0 1 0 -2.0 0M242.6 518.5a1.0 1.0 0 1 0 2.0 0a1.0 1.0 0 1 0 -2.0 0M244.7 518.3a1.0 1.0 0 1 0 2.0 0a1.0 1.0 0 1 0 -2.0 0M247.0 518.3a1.0 1.0 0 1 0 2.0 0a1.0 1.0 0 1 0 -2.0 0M213.5 520.2a1.0 1.0 0 1 0 2.0 0a1.0 1.0 0 1 0 -2.0 0M215.8 520.4a1.0 1.0 0 1 0 2.0 0a1.0 1.0 0 1 0 -2.0 0M217.7 520.4a1.0 1.0 0 1 0 2.0 0a1.0 1.0 0 1 0 -2.0 0M220.0 520.3a1.0 1.0 0 1 0 2.0 0a1.0 1.0 0 1 0 -2.0 0M222.2 520.4a1.0 1.0 0 1 0 2.0 0a1.0 1.0 0 1 0 -2.0 0M224.7 520.3a1.0 1.0 0 1 0 2.0 0a1.0 1.0 0 1 0 -2.0 0M226.9 520.2a1.0 1.0 0 1 0 2.0 0a1.0 1.0 0 1 0 -2.0 0M229.0 520.2a1.0 1.0 0 1 0 2.0 0a1.0 1.0 0 1 0 -2.0 0M231.4 520.3a1.0 1.0 0 1 0 2.0 0a1.0 1.0 0 1 0 -2.0 0M233.5 520.2a1.0 1.0 0 1 0 2.0 0a1.0 1.0 0 1 0 -2.0 0M235.8 520.1a1.0 1.0 0 1 0 2.0 0a1.0 1.0 0 1 0 -2.0 0M237.9 520.3a1.0 1.0 0 1 0 2.0 0a1.0 1.0 0 1 0 -2.0 0M240.2 520.5a1.0 1.0 0 1 0 2.0 0a1.0 1.0 0 1 0 -2.0 0M242.5 520.4a1.0 1.0 0 1 0 2.0 0a1.0 1.0 0 1 0 -2.0 0M245.0 520.2a1.0 1.0 0 1 0 2.0 0a1.0 1.0 0 1 0 -2.0 0M247.1 520.5a1.0 1.0 0 1 0 2.0 0a1.0 1.0 0 1 0 -2.0 0M249.4 520.3a1.0 1.0 0 1 0 2.0 0a1.0 1.0 0 1 0 -2.0 0M251.8 520.2a1.0 1.0 0 1 0 2.0 0a1.0 1.0 0 1 0 -2.0 0M254.0 520.2a1.0 1.0 0 1 0 2.0 0a1.0 1.0 0 1 0 -2.0 0M221.2 469.1a1.0 1.0 0 1 0 2.0 0a1.0 1.0 0 1 0 -2.0 0M223.5 469.3a1.0 1.0 0 1 0 2.0 0a1.0 1.0 0 1 0 -2.0 0M225.8 469.0a1.0 1.0 0 1 0 2.0 0a1.0 1.0 0 1 0 -2.0 0M228.2 469.2a1.0 1.0 0 1 0 2.0 0a1.0 1.0 0 1 0 -2.0 0M230.2 469.3a1.0 1.0 0 1 0 2.0 0a1.0 1.0 0 1 0 -2.0 0M232.3 469.2a1.0 1.0 0 1 0 2.0 0a1.0 1.0 0 1 0 -2.0 0M234.8 469.3a1.0 1.0 0 1 0 2.0 0a1.0 1.0 0 1 0 -2.0 0M237.0 469.0a1.0 1.0 0 1 0 2.0 0a1.0 1.0 0 1 0 -2.0 0M239.2 469.0a1.0 1.0 0 1 0 2.0 0a1.0 1.0 0 1 0 -2.0 0M241.5 469.1a1.0 1.0 0 1 0 2.0 0a1.0 1.0 0 1 0 -2.0 0M243.7 469.2a1.0 1.0 0 1 0 2.0 0a1.0 1.0 0 1 0 -2.0 0M246.0 469.3a1.0 1.0 0 1 0 2.0 0a1.0 1.0 0 1 0 -2.0 0M224.5 476.7a1.0 1.0 0 1 0 2.0 0a1.0 1.0 0 1 0 -2.0 0M226.7 476.6a1.0 1.0 0 1 0 2.0 0a1.0 1.0 0 1 0 -2.0 0M229.2 477.0a1.0 1.0 0 1 0 2.0 0a1.0 1.0 0 1 0 -2.0 0M231.2 476.7a1.0 1.0 0 1 0 2.0 0a1.0 1.0 0 1 0 -2.0 0M233.8 476.9a1.0 1.0 0 1 0 2.0 0a1.0 1.0 0 1 0 -2.0 0M236.0 477.0a1.0 1.0 0 1 0 2.0 0a1.0 1.0 0 1 0 -2.0 0M238.0 476.6a1.0 1.0 0 1 0 2.0 0a1.0 1.0 0 1 0 -2.0 0M240.2 476.8a1.0 1.0 0 1 0 2.0 0a1.0 1.0 0 1 0 -2.0 0M242.4 476.7a1.0 1.0 0 1 0 2.0 0a1.0 1.0 0 1 0 -2.0 0M224.6 504.4a1.0 1.0 0 1 0 2.0 0a1.0 1.0 0 1 0 -2.0 0M226.7 504.2a1.0 1.0 0 1 0 2.0 0a1.0 1.0 0 1 0 -2.0 0M229.0 504.2a1.0 1.0 0 1 0 2.0 0a1.0 1.0 0 1 0 -2.0 0M231.2 504.2a1.0 1.0 0 1 0 2.0 0a1.0 1.0 0 1 0 -2.0 0M233.7 504.5a1.0 1.0 0 1 0 2.0 0a1.0 1.0 0 1 0 -2.0 0M235.7 504.5a1.0 1.0 0 1 0 2.0 0a1.0 1.0 0 1 0 -2.0 0M238.2 504.4a1.0 1.0 0 1 0 2.0 0a1.0 1.0 0 1 0 -2.0 0M240.3 504.5a1.0 1.0 0 1 0 2.0 0a1.0 1.0 0 1 0 -2.0 0M242.4 504.2a1.0 1.0 0 1 0 2.0 0a1.0 1.0 0 1 0 -2.0 0M225.9 511.6a1.0 1.0 0 1 0 2.0 0a1.0 1.0 0 1 0 -2.0 0M228.1 511.8a1.0 1.0 0 1 0 2.0 0a1.0 1.0 0 1 0 -2.0 0M230.0 511.6a1.0 1.0 0 1 0 2.0 0a1.0 1.0 0 1 0 -2.0 0M232.5 511.6a1.0 1.0 0 1 0 2.0 0a1.0 1.0 0 1 0 -2.0 0M234.8 511.8a1.0 1.0 0 1 0 2.0 0a1.0 1.0 0 1 0 -2.0 0M236.9 511.7a1.0 1.0 0 1 0 2.0 0a1.0 1.0 0 1 0 -2.0 0M239.1 511.9a1.0 1.0 0 1 0 2.0 0a1.0 1.0 0 1 0 -2.0 0M241.5 511.8a1.0 1.0 0 1 0 2.0 0a1.0 1.0 0 1 0 -2.0 0M226.9 486.4a1.0 1.0 0 1 0 2.0 0a1.0 1.0 0 1 0 -2.0 0M229.3 486.7a1.0 1.0 0 1 0 2.0 0a1.0 1.0 0 1 0 -2.0 0M231.4 486.6a1.0 1.0 0 1 0 2.0 0a1.0 1.0 0 1 0 -2.0 0M233.6 486.7a1.0 1.0 0 1 0 2.0 0a1.0 1.0 0 1 0 -2.0 0M235.9 486.5a1.0 1.0 0 1 0 2.0 0a1.0 1.0 0 1 0 -2.0 0M238.1 486.5a1.0 1.0 0 1 0 2.0 0a1.0 1.0 0 1 0 -2.0 0M240.2 486.6a1.0 1.0 0 1 0 2.0 0a1.0 1.0 0 1 0 -2.0 0M225.9 463.4a1.0 1.0 0 1 0 2.0 0a1.0 1.0 0 1 0 -2.0 0M227.9 463.3a1.0 1.0 0 1 0 2.0 0a1.0 1.0 0 1 0 -2.0 0M230.3 463.4a1.0 1.0 0 1 0 2.0 0a1.0 1.0 0 1 0 -2.0 0M232.5 463.3a1.0 1.0 0 1 0 2.0 0a1.0 1.0 0 1 0 -2.0 0M234.8 463.5a1.0 1.0 0 1 0 2.0 0a1.0 1.0 0 1 0 -2.0 0M237.0 463.4a1.0 1.0 0 1 0 2.0 0a1.0 1.0 0 1 0 -2.0 0M239.3 463.2a1.0 1.0 0 1 0 2.0 0a1.0 1.0 0 1 0 -2.0 0M241.4 463.2a1.0 1.0 0 1 0 2.0 0a1.0 1.0 0 1 0 -2.0 0M226.8 497.0a1.0 1.0 0 1 0 2.0 0a1.0 1.0 0 1 0 -2.0 0M229.0 497.2a1.0 1.0 0 1 0 2.0 0a1.0 1.0 0 1 0 -2.0 0M231.4 497.0a1.0 1.0 0 1 0 2.0 0a1.0 1.0 0 1 0 -2.0 0M233.7 497.2a1.0 1.0 0 1 0 2.0 0a1.0 1.0 0 1 0 -2.0 0M235.7 497.1a1.0 1.0 0 1 0 2.0 0a1.0 1.0 0 1 0 -2.0 0M238.3 497.0a1.0 1.0 0 1 0 2.0 0a1.0 1.0 0 1 0 -2.0 0M240.5 497.1a1.0 1.0 0 1 0 2.0 0a1.0 1.0 0 1 0 -2.0 0" fill="#12cf12"/>
<path d="M295.0 510.2a1.1 1.1 0 1 0 2.2 0a1.1 1.1 0 1 0 -2.2 0M292.9 508.0a1.1 1.1 0 1 0 2.2 0a1.1 1.1 0 1 0 -2.2 0M295.0 503.7a1.1 1.1 0 1 0 2.2 0a1.1 1.1 0 1 0 -2.2 0M292.9 492.7a1.1 1.1 0 1 0 2.2 0a1.1 1.1 0 1 0 -2.2 0M295.4 491.1a1.1 1.1 0 1 0 2.2 0a1.1 1.1 0 1 0 -2.2 0M292.5 488.3a1.1 1.1 0 1 0 2.2 0a1.1 1.1 0 1 0 -2.2 0M294.8 484.2a1.1 1.1 0 1 0 2.2 0a1.1 1.1 0 1 0 -2.2 0M292.6 483.3a1.1 1.1 0 1 0 2.2 0a1.1 1.1 0 1 0 -2.2 0M295.1 478.7a1.1 1.1 0 1 0 2.2 0a1.1 1.1 0 1 0 -2.2 0M292.8 477.4a1.1 1.1 0 1 0 2.2 0a1.1 1.1 0 1 0 -2.2 0M289.8 473.9a1.1 1.1 0 1 0 2.2 0a1.1 1.1 0 1 0 -2.2 0M292.5 473.4a1.1 1.1 0 1 0 2.2 0a1.1 1.1 0 1 0 -2.2 0M295.4 473.9a1.1 1.1 0 1 0 2.2 0a1.1 1.1 0 1 0 -2.2 0M298.1 473.6a1.1 1.1 0 1 0 2.2 0a1.1 1.1 0 1 0 -2.2 0M289.8 472.6a1.1 1.1 0 1 0 2.2 0a1.1 1.1 0 1 0 -2.2 0M292.4 472.8a1.1 1.1 0 1 0 2.2 0a1.1 1.1 0 1 0 -2.2 0M295.3 472.5a1.1 1.1 0 1 0 2.2 0a1.1 1.1 0 1 0 -2.2 0M297.5 472.4a1.1 1.1 0 1 0 2.2 0a1.1 1.1 0 1 0 -2.2 0M289.9 469.8a1.1 1.1 0 1 0 2.2 0a1.1 1.1 0 1 0 -2.2 0M292.4 469.5a1.1 1.1 0 1 0 2.2 0a1.1 1.1 0 1 0 -2.2 0M294.9 469.8a1.1 1.1 0 1 0 2.2 0a1.1 1.1 0 1 0 -2.2 0M298.0 469.7a1.1 1.1 0 1 0 2.2 0a1.1 1.1 0 1 0 -2.2 0M288.9 466.8a1.1 1.1 0 1 0 2.2 0a1.1 1.1 0 1 0 -2.2 0M291.1 466.7a1.1 1.1 0 1 0 2.2 0a1.1 1.1 0 1 0 -2.2 0M293.9 466.7a1.1 1.1 0 1 0 2.2 0a1.1 1.1 0 1 0 -2.2 0M296.3 466.8a1.1 1.1 0 1 0 2.2 0a1.1 1.1 0 1 0 -2.2 0M299.4 467.2a1.1 1.1 0 1 0 2.2 0a1.1 1.1 0 1 0 -2.2 0M287.3 465.2a1.1 1.1 0 1 0 2.2 0a1.1 1.1 0 1 0 -2.2 0M289.8 464.6a1.1 1.1 0 1 0 2.2 0a1.1 1.1 0 1 0 -2.2 0M292.5 465.1a1.1 1.1 0 1 0 2.2 0a1.1 1.1 0 1 0 -2.2 0M294.9 465.1a1.1 1.1 0 1 0 2.2 0a1.1 1.1 0 1 0 -2.2 0M297.8 465.1a1.1 1.1 0 1 0 2.2 0a1.1 1.1 0 1 0 -2.2 0M300.3 464.5a1.1 1.1 0 1 0 2.2 0a1.1 1.1 0 1 0 -2.2 0M294.8 461.6a1.1 1.1 0 1 0 2.2 0a1.1 1.1 0 1 0 -2.2 0M292.7 458.6a1.1 1.1 0 1 0 2.2 0a1.1 1.1 0 1 0 -2.2 0" fill="#ff1010"/>
<line x1="214.3" y1="491.5" x2="254.9" y2="491.5" stroke="#2a2a2a" stroke-width="1.45"/>
<line x1="274.6" y1="476.2" x2="315.4" y2="476.2" stroke="#2a2a2a" stroke-width="1.45"/>
<text x="228.2" y="532.2" font-size="8.8" fill="#2a2a2a" textLength="12.6" lengthAdjust="spacingAndGlyphs" stroke="#2a2a2a" stroke-width="0.35">WT</text>
<text x="285.9" y="532.0" font-size="8.8" fill="#2a2a2a" textLength="17.8" lengthAdjust="spacingAndGlyphs" stroke="#2a2a2a" stroke-width="0.35">EVI1</text>
<text x="349.8" y="412.4" font-size="10.2" fill="#222" font-weight="bold">I</text>
<text x="430.7" y="418.7" font-size="8.2" fill="#262626" textLength="21.0" lengthAdjust="spacingAndGlyphs" stroke="#262626" stroke-width="0.22">KRAS</text>
<text x="430.7" y="428.5" font-size="8.2" fill="#262626" textLength="22.4" lengthAdjust="spacingAndGlyphs" stroke="#262626" stroke-width="0.22">NRAS</text>
<line x1="377.0" y1="428.4" x2="377.0" y2="519.5" stroke="#767676" stroke-width="1"/>
<line x1="377.0" y1="519.5" x2="504.1" y2="519.5" stroke="#767676" stroke-width="1"/>
<line x1="374.8" y1="519.5" x2="377.0" y2="519.5" stroke="#767676" stroke-width="1"/>
<text x="372.4" y="523.1" font-size="8.6" fill="#4a4a4a" text-anchor="end" stroke="#4a4a4a" stroke-width="0.2">0</text>
<line x1="374.8" y1="489.1" x2="377.0" y2="489.1" stroke="#767676" stroke-width="1"/>
<text x="372.4" y="492.7" font-size="8.6" fill="#4a4a4a" text-anchor="end" stroke="#4a4a4a" stroke-width="0.2">5</text>
<line x1="374.8" y1="458.8" x2="377.0" y2="458.8" stroke="#767676" stroke-width="1"/>
<text x="372.4" y="462.4" font-size="8.6" fill="#4a4a4a" text-anchor="end" stroke="#4a4a4a" stroke-width="0.2">10</text>
<line x1="374.8" y1="428.4" x2="377.0" y2="428.4" stroke="#767676" stroke-width="1"/>
<text x="372.4" y="432.0" font-size="8.6" fill="#4a4a4a" text-anchor="end" stroke="#4a4a4a" stroke-width="0.2">15</text>
<text x="356.6" y="479.4" font-size="8.2" fill="#4a4a4a" text-anchor="middle" textLength="43.5" lengthAdjust="spacingAndGlyphs" transform="rotate(-90 356.6 479.4)">log2 ZNF521</text>
<line x1="398.9" y1="519.5" x2="398.9" y2="521.7" stroke="#767676" stroke-width="1"/>
<line x1="440.8" y1="519.5" x2="440.8" y2="521.7" stroke="#767676" stroke-width="1"/>
<line x1="483.2" y1="519.5" x2="483.2" y2="521.7" stroke="#767676" stroke-width="1"/>
<path d="M384.9 519.3a1.0 1.0 0 1 0 2.0 0a1.0 1.0 0 1 0 -2.0 0M387.3 519.3a1.0 1.0 0 1 0 2.0 0a1.0 1.0 0 1 0 -2.0 0M389.0 519.5a1.0 1.0 0 1 0 2.0 0a1.0 1.0 0 1 0 -2.0 0M391.6 519.6a1.0 1.0 0 1 0 2.0 0a1.0 1.0 0 1 0 -2.0 0M393.4 519.2a1.0 1.0 0 1 0 2.0 0a1.0 1.0 0 1 0 -2.0 0M395.9 519.2a1.0 1.0 0 1 0 2.0 0a1.0 1.0 0 1 0 -2.0 0M398.1 519.4a1.0 1.0 0 1 0 2.0 0a1.0 1.0 0 1 0 -2.0 0M400.1 519.8a1.0 1.0 0 1 0 2.0 0a1.0 1.0 0 1 0 -2.0 0M402.2 519.7a1.0 1.0 0 1 0 2.0 0a1.0 1.0 0 1 0 -2.0 0M404.1 519.5a1.0 1.0 0 1 0 2.0 0a1.0 1.0 0 1 0 -2.0 0M406.4 519.4a1.0 1.0 0 1 0 2.0 0a1.0 1.0 0 1 0 -2.0 0M408.5 519.6a1.0 1.0 0 1 0 2.0 0a1.0 1.0 0 1 0 -2.0 0M410.8 519.7a1.0 1.0 0 1 0 2.0 0a1.0 1.0 0 1 0 -2.0 0M385.0 517.8a1.0 1.0 0 1 0 2.0 0a1.0 1.0 0 1 0 -2.0 0M387.1 517.5a1.0 1.0 0 1 0 2.0 0a1.0 1.0 0 1 0 -2.0 0M389.4 517.8a1.0 1.0 0 1 0 2.0 0a1.0 1.0 0 1 0 -2.0 0M391.2 517.7a1.0 1.0 0 1 0 2.0 0a1.0 1.0 0 1 0 -2.0 0M393.8 517.8a1.0 1.0 0 1 0 2.0 0a1.0 1.0 0 1 0 -2.0 0M395.8 517.8a1.0 1.0 0 1 0 2.0 0a1.0 1.0 0 1 0 -2.0 0M398.2 517.7a1.0 1.0 0 1 0 2.0 0a1.0 1.0 0 1 0 -2.0 0M399.9 517.4a1.0 1.0 0 1 0 2.0 0a1.0 1.0 0 1 0 -2.0 0M402.3 517.8a1.0 1.0 0 1 0 2.0 0a1.0 1.0 0 1 0 -2.0 0M404.3 517.8a1.0 1.0 0 1 0 2.0 0a1.0 1.0 0 1 0 -2.0 0M406.7 517.4a1.0 1.0 0 1 0 2.0 0a1.0 1.0 0 1 0 -2.0 0M408.4 517.8a1.0 1.0 0 1 0 2.0 0a1.0 1.0 0 1 0 -2.0 0M410.5 517.6a1.0 1.0 0 1 0 2.0 0a1.0 1.0 0 1 0 -2.0 0M385.2 515.6a1.0 1.0 0 1 0 2.0 0a1.0 1.0 0 1 0 -2.0 0M387.3 515.6a1.0 1.0 0 1 0 2.0 0a1.0 1.0 0 1 0 -2.0 0M389.6 515.8a1.0 1.0 0 1 0 2.0 0a1.0 1.0 0 1 0 -2.0 0M391.2 515.7a1.0 1.0 0 1 0 2.0 0a1.0 1.0 0 1 0 -2.0 0M393.7 516.1a1.0 1.0 0 1 0 2.0 0a1.0 1.0 0 1 0 -2.0 0M396.0 515.8a1.0 1.0 0 1 0 2.0 0a1.0 1.0 0 1 0 -2.0 0M397.6 515.8a1.0 1.0 0 1 0 2.0 0a1.0 1.0 0 1 0 -2.0 0M402.4 515.6a1.0 1.0 0 1 0 2.0 0a1.0 1.0 0 1 0 -2.0 0M404.4 515.9a1.0 1.0 0 1 0 2.0 0a1.0 1.0 0 1 0 -2.0 0M408.8 515.8a1.0 1.0 0 1 0 2.0 0a1.0 1.0 0 1 0 -2.0 0M384.9 514.3a1.0 1.0 0 1 0 2.0 0a1.0 1.0 0 1 0 -2.0 0M389.0 514.1a1.0 1.0 0 1 0 2.0 0a1.0 1.0 0 1 0 -2.0 0M391.6 513.8a1.0 1.0 0 1 0 2.0 0a1.0 1.0 0 1 0 -2.0 0M393.5 514.3a1.0 1.0 0 1 0 2.0 0a1.0 1.0 0 1 0 -2.0 0M395.8 513.9a1.0 1.0 0 1 0 2.0 0a1.0 1.0 0 1 0 -2.0 0M397.9 514.0a1.0 1.0 0 1 0 2.0 0a1.0 1.0 0 1 0 -2.0 0M399.8 514.0a1.0 1.0 0 1 0 2.0 0a1.0 1.0 0 1 0 -2.0 0M402.1 514.0a1.0 1.0 0 1 0 2.0 0a1.0 1.0 0 1 0 -2.0 0M404.5 514.2a1.0 1.0 0 1 0 2.0 0a1.0 1.0 0 1 0 -2.0 0M406.6 513.9a1.0 1.0 0 1 0 2.0 0a1.0 1.0 0 1 0 -2.0 0M408.4 513.8a1.0 1.0 0 1 0 2.0 0a1.0 1.0 0 1 0 -2.0 0M410.7 514.2a1.0 1.0 0 1 0 2.0 0a1.0 1.0 0 1 0 -2.0 0M386.9 512.5a1.0 1.0 0 1 0 2.0 0a1.0 1.0 0 1 0 -2.0 0M389.4 512.4a1.0 1.0 0 1 0 2.0 0a1.0 1.0 0 1 0 -2.0 0M391.4 512.4a1.0 1.0 0 1 0 2.0 0a1.0 1.0 0 1 0 -2.0 0M395.8 512.4a1.0 1.0 0 1 0 2.0 0a1.0 1.0 0 1 0 -2.0 0M397.6 512.2a1.0 1.0 0 1 0 2.0 0a1.0 1.0 0 1 0 -2.0 0M400.2 512.0a1.0 1.0 0 1 0 2.0 0a1.0 1.0 0 1 0 -2.0 0M402.5 512.1a1.0 1.0 0 1 0 2.0 0a1.0 1.0 0 1 0 -2.0 0M404.6 512.3a1.0 1.0 0 1 0 2.0 0a1.0 1.0 0 1 0 -2.0 0M406.5 512.2a1.0 1.0 0 1 0 2.0 0a1.0 1.0 0 1 0 -2.0 0M408.4 512.1a1.0 1.0 0 1 0 2.0 0a1.0 1.0 0 1 0 -2.0 0M411.0 512.1a1.0 1.0 0 1 0 2.0 0a1.0 1.0 0 1 0 -2.0 0M385.0 510.6a1.0 1.0 0 1 0 2.0 0a1.0 1.0 0 1 0 -2.0 0M387.3 510.4a1.0 1.0 0 1 0 2.0 0a1.0 1.0 0 1 0 -2.0 0M389.3 510.3a1.0 1.0 0 1 0 2.0 0a1.0 1.0 0 1 0 -2.0 0M391.2 510.5a1.0 1.0 0 1 0 2.0 0a1.0 1.0 0 1 0 -2.0 0M393.6 510.4a1.0 1.0 0 1 0 2.0 0a1.0 1.0 0 1 0 -2.0 0M396.0 510.3a1.0 1.0 0 1 0 2.0 0a1.0 1.0 0 1 0 -2.0 0M398.2 510.4a1.0 1.0 0 1 0 2.0 0a1.0 1.0 0 1 0 -2.0 0M399.9 510.6a1.0 1.0 0 1 0 2.0 0a1.0 1.0 0 1 0 -2.0 0M402.4 510.6a1.0 1.0 0 1 0 2.0 0a1.0 1.0 0 1 0 -2.0 0M404.5 510.4a1.0 1.0 0 1 0 2.0 0a1.0 1.0 0 1 0 -2.0 0M406.5 510.1a1.0 1.0 0 1 0 2.0 0a1.0 1.0 0 1 0 -2.0 0M408.9 510.3a1.0 1.0 0 1 0 2.0 0a1.0 1.0 0 1 0 -2.0 0M410.8 510.1a1.0 1.0 0 1 0 2.0 0a1.0 1.0 0 1 0 -2.0 0M384.8 508.4a1.0 1.0 0 1 0 2.0 0a1.0 1.0 0 1 0 -2.0 0M387.4 508.3a1.0 1.0 0 1 0 2.0 0a1.0 1.0 0 1 0 -2.0 0M389.3 508.6a1.0 1.0 0 1 0 2.0 0a1.0 1.0 0 1 0 -2.0 0M391.2 508.5a1.0 1.0 0 1 0 2.0 0a1.0 1.0 0 1 0 -2.0 0M393.5 508.9a1.0 1.0 0 1 0 2.0 0a1.0 1.0 0 1 0 -2.0 0M396.0 508.8a1.0 1.0 0 1 0 2.0 0a1.0 1.0 0 1 0 -2.0 0M397.9 508.6a1.0 1.0 0 1 0 2.0 0a1.0 1.0 0 1 0 -2.0 0M399.8 508.4a1.0 1.0 0 1 0 2.0 0a1.0 1.0 0 1 0 -2.0 0M404.3 508.8a1.0 1.0 0 1 0 2.0 0a1.0 1.0 0 1 0 -2.0 0M406.4 508.6a1.0 1.0 0 1 0 2.0 0a1.0 1.0 0 1 0 -2.0 0M408.8 508.6a1.0 1.0 0 1 0 2.0 0a1.0 1.0 0 1 0 -2.0 0M411.0 508.3a1.0 1.0 0 1 0 2.0 0a1.0 1.0 0 1 0 -2.0 0M385.0 507.0a1.0 1.0 0 1 0 2.0 0a1.0 1.0 0 1 0 -2.0 0M387.0 506.9a1.0 1.0 0 1 0 2.0 0a1.0 1.0 0 1 0 -2.0 0M389.6 506.5a1.0 1.0 0 1 0 2.0 0a1.0 1.0 0 1 0 -2.0 0M391.3 507.0a1.0 1.0 0 1 0 2.0 0a1.0 1.0 0 1 0 -2.0 0M393.7 507.0a1.0 1.0 0 1 0 2.0 0a1.0 1.0 0 1 0 -2.0 0M395.9 506.5a1.0 1.0 0 1 0 2.0 0a1.0 1.0 0 1 0 -2.0 0M397.7 506.5a1.0 1.0 0 1 0 2.0 0a1.0 1.0 0 1 0 -2.0 0M400.2 506.8a1.0 1.0 0 1 0 2.0 0a1.0 1.0 0 1 0 -2.0 0M402.1 506.5a1.0 1.0 0 1 0 2.0 0a1.0 1.0 0 1 0 -2.0 0M404.5 506.7a1.0 1.0 0 1 0 2.0 0a1.0 1.0 0 1 0 -2.0 0M406.8 506.6a1.0 1.0 0 1 0 2.0 0a1.0 1.0 0 1 0 -2.0 0M408.5 506.8a1.0 1.0 0 1 0 2.0 0a1.0 1.0 0 1 0 -2.0 0M410.8 506.9a1.0 1.0 0 1 0 2.0 0a1.0 1.0 0 1 0 -2.0 0M384.9 505.0a1.0 1.0 0 1 0 2.0 0a1.0 1.0 0 1 0 -2.0 0M386.9 504.9a1.0 1.0 0 1 0 2.0 0a1.0 1.0 0 1 0 -2.0 0M389.4 504.9a1.0 1.0 0 1 0 2.0 0a1.0 1.0 0 1 0 -2.0 0M391.6 505.2a1.0 1.0 0 1 0 2.0 0a1.0 1.0 0 1 0 -2.0 0M393.7 505.2a1.0 1.0 0 1 0 2.0 0a1.0 1.0 0 1 0 -2.0 0M395.7 504.7a1.0 1.0 0 1 0 2.0 0a1.0 1.0 0 1 0 -2.0 0M397.6 505.2a1.0 1.0 0 1 0 2.0 0a1.0 1.0 0 1 0 -2.0 0M400.1 505.2a1.0 1.0 0 1 0 2.0 0a1.0 1.0 0 1 0 -2.0 0M402.3 505.0a1.0 1.0 0 1 0 2.0 0a1.0 1.0 0 1 0 -2.0 0M404.1 505.1a1.0 1.0 0 1 0 2.0 0a1.0 1.0 0 1 0 -2.0 0M406.3 505.0a1.0 1.0 0 1 0 2.0 0a1.0 1.0 0 1 0 -2.0 0M408.5 505.1a1.0 1.0 0 1 0 2.0 0a1.0 1.0 0 1 0 -2.0 0M410.9 505.1a1.0 1.0 0 1 0 2.0 0a1.0 1.0 0 1 0 -2.0 0M385.0 503.1a1.0 1.0 0 1 0 2.0 0a1.0 1.0 0 1 0 -2.0 0M387.3 503.3a1.0 1.0 0 1 0 2.0 0a1.0 1.0 0 1 0 -2.0 0M389.4 502.9a1.0 1.0 0 1 0 2.0 0a1.0 1.0 0 1 0 -2.0 0M393.8 503.0a1.0 1.0 0 1 0 2.0 0a1.0 1.0 0 1 0 -2.0 0M395.9 503.0a1.0 1.0 0 1 0 2.0 0a1.0 1.0 0 1 0 -2.0 0M398.1 502.9a1.0 1.0 0 1 0 2.0 0a1.0 1.0 0 1 0 -2.0 0M400.0 503.0a1.0 1.0 0 1 0 2.0 0a1.0 1.0 0 1 0 -2.0 0M402.2 503.1a1.0 1.0 0 1 0 2.0 0a1.0 1.0 0 1 0 -2.0 0M404.1 503.2a1.0 1.0 0 1 0 2.0 0a1.0 1.0 0 1 0 -2.0 0M406.6 503.0a1.0 1.0 0 1 0 2.0 0a1.0 1.0 0 1 0 -2.0 0M408.4 502.9a1.0 1.0 0 1 0 2.0 0a1.0 1.0 0 1 0 -2.0 0M385.0 501.1a1.0 1.0 0 1 0 2.0 0a1.0 1.0 0 1 0 -2.0 0M386.9 501.0a1.0 1.0 0 1 0 2.0 0a1.0 1.0 0 1 0 -2.0 0M389.5 501.0a1.0 1.0 0 1 0 2.0 0a1.0 1.0 0 1 0 -2.0 0M391.5 501.3a1.0 1.0 0 1 0 2.0 0a1.0 1.0 0 1 0 -2.0 0M393.7 501.5a1.0 1.0 0 1 0 2.0 0a1.0 1.0 0 1 0 -2.0 0M396.0 501.0a1.0 1.0 0 1 0 2.0 0a1.0 1.0 0 1 0 -2.0 0M397.8 501.5a1.0 1.0 0 1 0 2.0 0a1.0 1.0 0 1 0 -2.0 0M400.3 501.4a1.0 1.0 0 1 0 2.0 0a1.0 1.0 0 1 0 -2.0 0M402.2 501.4a1.0 1.0 0 1 0 2.0 0a1.0 1.0 0 1 0 -2.0 0M406.5 501.4a1.0 1.0 0 1 0 2.0 0a1.0 1.0 0 1 0 -2.0 0M408.7 501.4a1.0 1.0 0 1 0 2.0 0a1.0 1.0 0 1 0 -2.0 0M410.9 501.5a1.0 1.0 0 1 0 2.0 0a1.0 1.0 0 1 0 -2.0 0M385.0 499.4a1.0 1.0 0 1 0 2.0 0a1.0 1.0 0 1 0 -2.0 0M387.0 499.3a1.0 1.0 0 1 0 2.0 0a1.0 1.0 0 1 0 -2.0 0M389.4 499.3a1.0 1.0 0 1 0 2.0 0a1.0 1.0 0 1 0 -2.0 0M391.5 499.6a1.0 1.0 0 1 0 2.0 0a1.0 1.0 0 1 0 -2.0 0M393.3 499.4a1.0 1.0 0 1 0 2.0 0a1.0 1.0 0 1 0 -2.0 0M395.5 499.7a1.0 1.0 0 1 0 2.0 0a1.0 1.0 0 1 0 -2.0 0M397.9 499.2a1.0 1.0 0 1 0 2.0 0a1.0 1.0 0 1 0 -2.0 0M400.0 499.5a1.0 1.0 0 1 0 2.0 0a1.0 1.0 0 1 0 -2.0 0M402.2 499.3a1.0 1.0 0 1 0 2.0 0a1.0 1.0 0 1 0 -2.0 0M404.5 499.5a1.0 1.0 0 1 0 2.0 0a1.0 1.0 0 1 0 -2.0 0M406.6 499.2a1.0 1.0 0 1 0 2.0 0a1.0 1.0 0 1 0 -2.0 0M408.6 499.6a1.0 1.0 0 1 0 2.0 0a1.0 1.0 0 1 0 -2.0 0M410.7 499.7a1.0 1.0 0 1 0 2.0 0a1.0 1.0 0 1 0 -2.0 0M385.1 497.3a1.0 1.0 0 1 0 2.0 0a1.0 1.0 0 1 0 -2.0 0M387.1 497.6a1.0 1.0 0 1 0 2.0 0a1.0 1.0 0 1 0 -2.0 0M389.2 497.5a1.0 1.0 0 1 0 2.0 0a1.0 1.0 0 1 0 -2.0 0M391.5 497.4a1.0 1.0 0 1 0 2.0 0a1.0 1.0 0 1 0 -2.0 0M393.9 497.5a1.0 1.0 0 1 0 2.0 0a1.0 1.0 0 1 0 -2.0 0M395.8 497.6a1.0 1.0 0 1 0 2.0 0a1.0 1.0 0 1 0 -2.0 0M398.2 497.4a1.0 1.0 0 1 0 2.0 0a1.0 1.0 0 1 0 -2.0 0M399.9 497.6a1.0 1.0 0 1 0 2.0 0a1.0 1.0 0 1 0 -2.0 0M402.3 497.9a1.0 1.0 0 1 0 2.0 0a1.0 1.0 0 1 0 -2.0 0M408.5 497.4a1.0 1.0 0 1 0 2.0 0a1.0 1.0 0 1 0 -2.0 0M410.7 497.8a1.0 1.0 0 1 0 2.0 0a1.0 1.0 0 1 0 -2.0 0M385.3 495.8a1.0 1.0 0 1 0 2.0 0a1.0 1.0 0 1 0 -2.0 0M386.9 495.9a1.0 1.0 0 1 0 2.0 0a1.0 1.0 0 1 0 -2.0 0M389.5 495.6a1.0 1.0 0 1 0 2.0 0a1.0 1.0 0 1 0 -2.0 0M391.7 495.9a1.0 1.0 0 1 0 2.0 0a1.0 1.0 0 1 0 -2.0 0M393.3 495.9a1.0 1.0 0 1 0 2.0 0a1.0 1.0 0 1 0 -2.0 0M398.1 495.7a1.0 1.0 0 1 0 2.0 0a1.0 1.0 0 1 0 -2.0 0M402.5 495.9a1.0 1.0 0 1 0 2.0 0a1.0 1.0 0 1 0 -2.0 0M404.2 496.0a1.0 1.0 0 1 0 2.0 0a1.0 1.0 0 1 0 -2.0 0M406.4 495.6a1.0 1.0 0 1 0 2.0 0a1.0 1.0 0 1 0 -2.0 0M408.6 495.8a1.0 1.0 0 1 0 2.0 0a1.0 1.0 0 1 0 -2.0 0M410.9 496.1a1.0 1.0 0 1 0 2.0 0a1.0 1.0 0 1 0 -2.0 0M385.2 493.9a1.0 1.0 0 1 0 2.0 0a1.0 1.0 0 1 0 -2.0 0M387.3 494.3a1.0 1.0 0 1 0 2.0 0a1.0 1.0 0 1 0 -2.0 0M389.4 494.2a1.0 1.0 0 1 0 2.0 0a1.0 1.0 0 1 0 -2.0 0M391.7 494.0a1.0 1.0 0 1 0 2.0 0a1.0 1.0 0 1 0 -2.0 0M393.3 494.0a1.0 1.0 0 1 0 2.0 0a1.0 1.0 0 1 0 -2.0 0M395.5 494.3a1.0 1.0 0 1 0 2.0 0a1.0 1.0 0 1 0 -2.0 0M398.2 493.7a1.0 1.0 0 1 0 2.0 0a1.0 1.0 0 1 0 -2.0 0M400.2 494.1a1.0 1.0 0 1 0 2.0 0a1.0 1.0 0 1 0 -2.0 0M402.2 493.7a1.0 1.0 0 1 0 2.0 0a1.0 1.0 0 1 0 -2.0 0M404.5 494.0a1.0 1.0 0 1 0 2.0 0a1.0 1.0 0 1 0 -2.0 0M406.7 494.0a1.0 1.0 0 1 0 2.0 0a1.0 1.0 0 1 0 -2.0 0M408.6 494.1a1.0 1.0 0 1 0 2.0 0a1.0 1.0 0 1 0 -2.0 0M410.7 494.2a1.0 1.0 0 1 0 2.0 0a1.0 1.0 0 1 0 -2.0 0M385.1 492.1a1.0 1.0 0 1 0 2.0 0a1.0 1.0 0 1 0 -2.0 0M387.4 492.3a1.0 1.0 0 1 0 2.0 0a1.0 1.0 0 1 0 -2.0 0M389.2 492.1a1.0 1.0 0 1 0 2.0 0a1.0 1.0 0 1 0 -2.0 0M391.2 492.2a1.0 1.0 0 1 0 2.0 0a1.0 1.0 0 1 0 -2.0 0M393.3 492.4a1.0 1.0 0 1 0 2.0 0a1.0 1.0 0 1 0 -2.0 0M396.0 492.3a1.0 1.0 0 1 0 2.0 0a1.0 1.0 0 1 0 -2.0 0M398.1 492.1a1.0 1.0 0 1 0 2.0 0a1.0 1.0 0 1 0 -2.0 0M400.3 492.4a1.0 1.0 0 1 0 2.0 0a1.0 1.0 0 1 0 -2.0 0M402.0 492.2a1.0 1.0 0 1 0 2.0 0a1.0 1.0 0 1 0 -2.0 0M404.3 492.2a1.0 1.0 0 1 0 2.0 0a1.0 1.0 0 1 0 -2.0 0M406.8 492.2a1.0 1.0 0 1 0 2.0 0a1.0 1.0 0 1 0 -2.0 0M408.9 492.0a1.0 1.0 0 1 0 2.0 0a1.0 1.0 0 1 0 -2.0 0M410.7 492.2a1.0 1.0 0 1 0 2.0 0a1.0 1.0 0 1 0 -2.0 0M385.1 490.2a1.0 1.0 0 1 0 2.0 0a1.0 1.0 0 1 0 -2.0 0M387.1 490.5a1.0 1.0 0 1 0 2.0 0a1.0 1.0 0 1 0 -2.0 0M389.4 490.6a1.0 1.0 0 1 0 2.0 0a1.0 1.0 0 1 0 -2.0 0M391.2 490.6a1.0 1.0 0 1 0 2.0 0a1.0 1.0 0 1 0 -2.0 0M393.7 490.5a1.0 1.0 0 1 0 2.0 0a1.0 1.0 0 1 0 -2.0 0M395.7 490.6a1.0 1.0 0 1 0 2.0 0a1.0 1.0 0 1 0 -2.0 0M398.0 490.5a1.0 1.0 0 1 0 2.0 0a1.0 1.0 0 1 0 -2.0 0M400.0 490.3a1.0 1.0 0 1 0 2.0 0a1.0 1.0 0 1 0 -2.0 0M402.1 490.6a1.0 1.0 0 1 0 2.0 0a1.0 1.0 0 1 0 -2.0 0M406.7 490.4a1.0 1.0 0 1 0 2.0 0a1.0 1.0 0 1 0 -2.0 0M408.5 490.5a1.0 1.0 0 1 0 2.0 0a1.0 1.0 0 1 0 -2.0 0M410.7 490.3a1.0 1.0 0 1 0 2.0 0a1.0 1.0 0 1 0 -2.0 0M384.9 488.7a1.0 1.0 0 1 0 2.0 0a1.0 1.0 0 1 0 -2.0 0M387.1 488.6a1.0 1.0 0 1 0 2.0 0a1.0 1.0 0 1 0 -2.0 0M389.0 488.4a1.0 1.0 0 1 0 2.0 0a1.0 1.0 0 1 0 -2.0 0M391.3 488.6a1.0 1.0 0 1 0 2.0 0a1.0 1.0 0 1 0 -2.0 0M393.5 488.7a1.0 1.0 0 1 0 2.0 0a1.0 1.0 0 1 0 -2.0 0M395.9 488.7a1.0 1.0 0 1 0 2.0 0a1.0 1.0 0 1 0 -2.0 0M397.6 488.7a1.0 1.0 0 1 0 2.0 0a1.0 1.0 0 1 0 -2.0 0M400.1 488.6a1.0 1.0 0 1 0 2.0 0a1.0 1.0 0 1 0 -2.0 0M402.4 488.2a1.0 1.0 0 1 0 2.0 0a1.0 1.0 0 1 0 -2.0 0M404.4 488.5a1.0 1.0 0 1 0 2.0 0a1.0 1.0 0 1 0 -2.0 0M406.7 488.6a1.0 1.0 0 1 0 2.0 0a1.0 1.0 0 1 0 -2.0 0M410.7 488.6a1.0 1.0 0 1 0 2.0 0a1.0 1.0 0 1 0 -2.0 0M384.8 486.9a1.0 1.0 0 1 0 2.0 0a1.0 1.0 0 1 0 -2.0 0M387.0 486.4a1.0 1.0 0 1 0 2.0 0a1.0 1.0 0 1 0 -2.0 0M389.2 486.7a1.0 1.0 0 1 0 2.0 0a1.0 1.0 0 1 0 -2.0 0M391.3 486.6a1.0 1.0 0 1 0 2.0 0a1.0 1.0 0 1 0 -2.0 0M393.7 486.6a1.0 1.0 0 1 0 2.0 0a1.0 1.0 0 1 0 -2.0 0M395.5 486.4a1.0 1.0 0 1 0 2.0 0a1.0 1.0 0 1 0 -2.0 0M398.0 486.5a1.0 1.0 0 1 0 2.0 0a1.0 1.0 0 1 0 -2.0 0M401.9 487.0a1.0 1.0 0 1 0 2.0 0a1.0 1.0 0 1 0 -2.0 0M404.1 486.6a1.0 1.0 0 1 0 2.0 0a1.0 1.0 0 1 0 -2.0 0M411.0 486.9a1.0 1.0 0 1 0 2.0 0a1.0 1.0 0 1 0 -2.0 0M385.1 484.9a1.0 1.0 0 1 0 2.0 0a1.0 1.0 0 1 0 -2.0 0M387.2 484.9a1.0 1.0 0 1 0 2.0 0a1.0 1.0 0 1 0 -2.0 0M389.5 484.8a1.0 1.0 0 1 0 2.0 0a1.0 1.0 0 1 0 -2.0 0M391.6 485.2a1.0 1.0 0 1 0 2.0 0a1.0 1.0 0 1 0 -2.0 0M393.6 484.8a1.0 1.0 0 1 0 2.0 0a1.0 1.0 0 1 0 -2.0 0M395.7 485.1a1.0 1.0 0 1 0 2.0 0a1.0 1.0 0 1 0 -2.0 0M397.9 484.8a1.0 1.0 0 1 0 2.0 0a1.0 1.0 0 1 0 -2.0 0M400.2 484.7a1.0 1.0 0 1 0 2.0 0a1.0 1.0 0 1 0 -2.0 0M402.0 485.0a1.0 1.0 0 1 0 2.0 0a1.0 1.0 0 1 0 -2.0 0M404.2 484.7a1.0 1.0 0 1 0 2.0 0a1.0 1.0 0 1 0 -2.0 0M406.4 485.1a1.0 1.0 0 1 0 2.0 0a1.0 1.0 0 1 0 -2.0 0M408.8 484.8a1.0 1.0 0 1 0 2.0 0a1.0 1.0 0 1 0 -2.0 0M410.6 484.9a1.0 1.0 0 1 0 2.0 0a1.0 1.0 0 1 0 -2.0 0M384.8 483.0a1.0 1.0 0 1 0 2.0 0a1.0 1.0 0 1 0 -2.0 0M387.4 482.9a1.0 1.0 0 1 0 2.0 0a1.0 1.0 0 1 0 -2.0 0M389.0 483.2a1.0 1.0 0 1 0 2.0 0a1.0 1.0 0 1 0 -2.0 0M391.6 483.2a1.0 1.0 0 1 0 2.0 0a1.0 1.0 0 1 0 -2.0 0M393.5 482.9a1.0 1.0 0 1 0 2.0 0a1.0 1.0 0 1 0 -2.0 0M395.5 483.3a1.0 1.0 0 1 0 2.0 0a1.0 1.0 0 1 0 -2.0 0M397.9 483.0a1.0 1.0 0 1 0 2.0 0a1.0 1.0 0 1 0 -2.0 0M402.4 482.8a1.0 1.0 0 1 0 2.0 0a1.0 1.0 0 1 0 -2.0 0M406.5 483.2a1.0 1.0 0 1 0 2.0 0a1.0 1.0 0 1 0 -2.0 0M408.9 483.3a1.0 1.0 0 1 0 2.0 0a1.0 1.0 0 1 0 -2.0 0M410.8 483.1a1.0 1.0 0 1 0 2.0 0a1.0 1.0 0 1 0 -2.0 0M385.2 481.4a1.0 1.0 0 1 0 2.0 0a1.0 1.0 0 1 0 -2.0 0M387.0 481.2a1.0 1.0 0 1 0 2.0 0a1.0 1.0 0 1 0 -2.0 0M389.4 480.9a1.0 1.0 0 1 0 2.0 0a1.0 1.0 0 1 0 -2.0 0M391.4 481.0a1.0 1.0 0 1 0 2.0 0a1.0 1.0 0 1 0 -2.0 0M393.6 481.4a1.0 1.0 0 1 0 2.0 0a1.0 1.0 0 1 0 -2.0 0M395.8 481.5a1.0 1.0 0 1 0 2.0 0a1.0 1.0 0 1 0 -2.0 0M399.8 481.3a1.0 1.0 0 1 0 2.0 0a1.0 1.0 0 1 0 -2.0 0M401.9 481.0a1.0 1.0 0 1 0 2.0 0a1.0 1.0 0 1 0 -2.0 0M404.4 481.2a1.0 1.0 0 1 0 2.0 0a1.0 1.0 0 1 0 -2.0 0M406.2 481.3a1.0 1.0 0 1 0 2.0 0a1.0 1.0 0 1 0 -2.0 0M408.4 481.0a1.0 1.0 0 1 0 2.0 0a1.0 1.0 0 1 0 -2.0 0M410.7 481.0a1.0 1.0 0 1 0 2.0 0a1.0 1.0 0 1 0 -2.0 0M384.8 479.6a1.0 1.0 0 1 0 2.0 0a1.0 1.0 0 1 0 -2.0 0M387.0 479.2a1.0 1.0 0 1 0 2.0 0a1.0 1.0 0 1 0 -2.0 0M389.1 479.5a1.0 1.0 0 1 0 2.0 0a1.0 1.0 0 1 0 -2.0 0M391.4 479.7a1.0 1.0 0 1 0 2.0 0a1.0 1.0 0 1 0 -2.0 0M393.7 479.7a1.0 1.0 0 1 0 2.0 0a1.0 1.0 0 1 0 -2.0 0M396.0 479.4a1.0 1.0 0 1 0 2.0 0a1.0 1.0 0 1 0 -2.0 0M398.1 479.3a1.0 1.0 0 1 0 2.0 0a1.0 1.0 0 1 0 -2.0 0M399.8 479.2a1.0 1.0 0 1 0 2.0 0a1.0 1.0 0 1 0 -2.0 0M402.5 479.3a1.0 1.0 0 1 0 2.0 0a1.0 1.0 0 1 0 -2.0 0M404.6 479.5a1.0 1.0 0 1 0 2.0 0a1.0 1.0 0 1 0 -2.0 0M406.3 479.3a1.0 1.0 0 1 0 2.0 0a1.0 1.0 0 1 0 -2.0 0M408.9 479.4a1.0 1.0 0 1 0 2.0 0a1.0 1.0 0 1 0 -2.0 0M410.7 479.1a1.0 1.0 0 1 0 2.0 0a1.0 1.0 0 1 0 -2.0 0M384.7 477.8a1.0 1.0 0 1 0 2.0 0a1.0 1.0 0 1 0 -2.0 0M387.0 477.8a1.0 1.0 0 1 0 2.0 0a1.0 1.0 0 1 0 -2.0 0M389.6 477.6a1.0 1.0 0 1 0 2.0 0a1.0 1.0 0 1 0 -2.0 0M391.7 477.5a1.0 1.0 0 1 0 2.0 0a1.0 1.0 0 1 0 -2.0 0M393.7 477.7a1.0 1.0 0 1 0 2.0 0a1.0 1.0 0 1 0 -2.0 0M398.1 477.4a1.0 1.0 0 1 0 2.0 0a1.0 1.0 0 1 0 -2.0 0M404.1 477.8a1.0 1.0 0 1 0 2.0 0a1.0 1.0 0 1 0 -2.0 0M406.8 477.7a1.0 1.0 0 1 0 2.0 0a1.0 1.0 0 1 0 -2.0 0M408.5 477.5a1.0 1.0 0 1 0 2.0 0a1.0 1.0 0 1 0 -2.0 0M411.0 477.8a1.0 1.0 0 1 0 2.0 0a1.0 1.0 0 1 0 -2.0 0M384.7 475.9a1.0 1.0 0 1 0 2.0 0a1.0 1.0 0 1 0 -2.0 0M387.2 476.0a1.0 1.0 0 1 0 2.0 0a1.0 1.0 0 1 0 -2.0 0M389.4 476.0a1.0 1.0 0 1 0 2.0 0a1.0 1.0 0 1 0 -2.0 0M391.7 475.9a1.0 1.0 0 1 0 2.0 0a1.0 1.0 0 1 0 -2.0 0M395.8 475.7a1.0 1.0 0 1 0 2.0 0a1.0 1.0 0 1 0 -2.0 0M397.8 475.8a1.0 1.0 0 1 0 2.0 0a1.0 1.0 0 1 0 -2.0 0M400.3 475.7a1.0 1.0 0 1 0 2.0 0a1.0 1.0 0 1 0 -2.0 0M402.3 475.8a1.0 1.0 0 1 0 2.0 0a1.0 1.0 0 1 0 -2.0 0M404.6 475.9a1.0 1.0 0 1 0 2.0 0a1.0 1.0 0 1 0 -2.0 0M406.2 475.6a1.0 1.0 0 1 0 2.0 0a1.0 1.0 0 1 0 -2.0 0M408.4 475.9a1.0 1.0 0 1 0 2.0 0a1.0 1.0 0 1 0 -2.0 0M410.7 476.0a1.0 1.0 0 1 0 2.0 0a1.0 1.0 0 1 0 -2.0 0M385.1 473.9a1.0 1.0 0 1 0 2.0 0a1.0 1.0 0 1 0 -2.0 0M387.4 474.2a1.0 1.0 0 1 0 2.0 0a1.0 1.0 0 1 0 -2.0 0M389.0 474.2a1.0 1.0 0 1 0 2.0 0a1.0 1.0 0 1 0 -2.0 0M393.7 473.8a1.0 1.0 0 1 0 2.0 0a1.0 1.0 0 1 0 -2.0 0M395.9 473.7a1.0 1.0 0 1 0 2.0 0a1.0 1.0 0 1 0 -2.0 0M398.2 474.0a1.0 1.0 0 1 0 2.0 0a1.0 1.0 0 1 0 -2.0 0M400.2 473.9a1.0 1.0 0 1 0 2.0 0a1.0 1.0 0 1 0 -2.0 0M402.5 474.1a1.0 1.0 0 1 0 2.0 0a1.0 1.0 0 1 0 -2.0 0M406.6 473.9a1.0 1.0 0 1 0 2.0 0a1.0 1.0 0 1 0 -2.0 0M408.6 473.7a1.0 1.0 0 1 0 2.0 0a1.0 1.0 0 1 0 -2.0 0M410.6 474.1a1.0 1.0 0 1 0 2.0 0a1.0 1.0 0 1 0 -2.0 0M385.3 471.9a1.0 1.0 0 1 0 2.0 0a1.0 1.0 0 1 0 -2.0 0M387.2 471.9a1.0 1.0 0 1 0 2.0 0a1.0 1.0 0 1 0 -2.0 0M389.3 472.2a1.0 1.0 0 1 0 2.0 0a1.0 1.0 0 1 0 -2.0 0M391.4 472.3a1.0 1.0 0 1 0 2.0 0a1.0 1.0 0 1 0 -2.0 0M393.4 472.0a1.0 1.0 0 1 0 2.0 0a1.0 1.0 0 1 0 -2.0 0M395.5 472.1a1.0 1.0 0 1 0 2.0 0a1.0 1.0 0 1 0 -2.0 0M397.9 471.8a1.0 1.0 0 1 0 2.0 0a1.0 1.0 0 1 0 -2.0 0M400.3 472.1a1.0 1.0 0 1 0 2.0 0a1.0 1.0 0 1 0 -2.0 0M402.2 471.9a1.0 1.0 0 1 0 2.0 0a1.0 1.0 0 1 0 -2.0 0M406.7 471.9a1.0 1.0 0 1 0 2.0 0a1.0 1.0 0 1 0 -2.0 0M408.4 472.0a1.0 1.0 0 1 0 2.0 0a1.0 1.0 0 1 0 -2.0 0M411.0 472.1a1.0 1.0 0 1 0 2.0 0a1.0 1.0 0 1 0 -2.0 0M385.3 470.3a1.0 1.0 0 1 0 2.0 0a1.0 1.0 0 1 0 -2.0 0M389.4 470.1a1.0 1.0 0 1 0 2.0 0a1.0 1.0 0 1 0 -2.0 0M391.2 470.0a1.0 1.0 0 1 0 2.0 0a1.0 1.0 0 1 0 -2.0 0M393.5 470.3a1.0 1.0 0 1 0 2.0 0a1.0 1.0 0 1 0 -2.0 0M395.5 470.2a1.0 1.0 0 1 0 2.0 0a1.0 1.0 0 1 0 -2.0 0M398.0 470.5a1.0 1.0 0 1 0 2.0 0a1.0 1.0 0 1 0 -2.0 0M399.9 470.3a1.0 1.0 0 1 0 2.0 0a1.0 1.0 0 1 0 -2.0 0M402.0 470.2a1.0 1.0 0 1 0 2.0 0a1.0 1.0 0 1 0 -2.0 0M404.6 470.0a1.0 1.0 0 1 0 2.0 0a1.0 1.0 0 1 0 -2.0 0M406.5 470.3a1.0 1.0 0 1 0 2.0 0a1.0 1.0 0 1 0 -2.0 0M408.4 470.4a1.0 1.0 0 1 0 2.0 0a1.0 1.0 0 1 0 -2.0 0M411.0 470.4a1.0 1.0 0 1 0 2.0 0a1.0 1.0 0 1 0 -2.0 0M384.8 468.6a1.0 1.0 0 1 0 2.0 0a1.0 1.0 0 1 0 -2.0 0M387.2 468.6a1.0 1.0 0 1 0 2.0 0a1.0 1.0 0 1 0 -2.0 0M389.1 468.6a1.0 1.0 0 1 0 2.0 0a1.0 1.0 0 1 0 -2.0 0M391.3 468.7a1.0 1.0 0 1 0 2.0 0a1.0 1.0 0 1 0 -2.0 0M393.9 468.5a1.0 1.0 0 1 0 2.0 0a1.0 1.0 0 1 0 -2.0 0M396.0 468.7a1.0 1.0 0 1 0 2.0 0a1.0 1.0 0 1 0 -2.0 0M397.9 468.5a1.0 1.0 0 1 0 2.0 0a1.0 1.0 0 1 0 -2.0 0M400.0 468.7a1.0 1.0 0 1 0 2.0 0a1.0 1.0 0 1 0 -2.0 0M402.2 468.3a1.0 1.0 0 1 0 2.0 0a1.0 1.0 0 1 0 -2.0 0M404.2 468.2a1.0 1.0 0 1 0 2.0 0a1.0 1.0 0 1 0 -2.0 0M406.6 468.4a1.0 1.0 0 1 0 2.0 0a1.0 1.0 0 1 0 -2.0 0M408.7 468.6a1.0 1.0 0 1 0 2.0 0a1.0 1.0 0 1 0 -2.0 0M384.7 466.5a1.0 1.0 0 1 0 2.0 0a1.0 1.0 0 1 0 -2.0 0M386.9 466.7a1.0 1.0 0 1 0 2.0 0a1.0 1.0 0 1 0 -2.0 0M389.4 466.9a1.0 1.0 0 1 0 2.0 0a1.0 1.0 0 1 0 -2.0 0M391.7 466.9a1.0 1.0 0 1 0 2.0 0a1.0 1.0 0 1 0 -2.0 0M393.9 466.8a1.0 1.0 0 1 0 2.0 0a1.0 1.0 0 1 0 -2.0 0M395.6 466.7a1.0 1.0 0 1 0 2.0 0a1.0 1.0 0 1 0 -2.0 0M397.7 466.9a1.0 1.0 0 1 0 2.0 0a1.0 1.0 0 1 0 -2.0 0M400.1 466.6a1.0 1.0 0 1 0 2.0 0a1.0 1.0 0 1 0 -2.0 0M402.1 466.8a1.0 1.0 0 1 0 2.0 0a1.0 1.0 0 1 0 -2.0 0M404.5 466.9a1.0 1.0 0 1 0 2.0 0a1.0 1.0 0 1 0 -2.0 0M410.6 466.9a1.0 1.0 0 1 0 2.0 0a1.0 1.0 0 1 0 -2.0 0M384.8 464.5a1.0 1.0 0 1 0 2.0 0a1.0 1.0 0 1 0 -2.0 0M387.2 464.6a1.0 1.0 0 1 0 2.0 0a1.0 1.0 0 1 0 -2.0 0M391.7 465.0a1.0 1.0 0 1 0 2.0 0a1.0 1.0 0 1 0 -2.0 0M393.5 464.8a1.0 1.0 0 1 0 2.0 0a1.0 1.0 0 1 0 -2.0 0M395.6 464.8a1.0 1.0 0 1 0 2.0 0a1.0 1.0 0 1 0 -2.0 0M397.7 464.8a1.0 1.0 0 1 0 2.0 0a1.0 1.0 0 1 0 -2.0 0M400.1 464.6a1.0 1.0 0 1 0 2.0 0a1.0 1.0 0 1 0 -2.0 0M402.2 464.7a1.0 1.0 0 1 0 2.0 0a1.0 1.0 0 1 0 -2.0 0M404.4 464.8a1.0 1.0 0 1 0 2.0 0a1.0 1.0 0 1 0 -2.0 0M406.7 464.6a1.0 1.0 0 1 0 2.0 0a1.0 1.0 0 1 0 -2.0 0M408.4 464.9a1.0 1.0 0 1 0 2.0 0a1.0 1.0 0 1 0 -2.0 0M410.7 464.9a1.0 1.0 0 1 0 2.0 0a1.0 1.0 0 1 0 -2.0 0M384.9 462.8a1.0 1.0 0 1 0 2.0 0a1.0 1.0 0 1 0 -2.0 0M389.4 463.2a1.0 1.0 0 1 0 2.0 0a1.0 1.0 0 1 0 -2.0 0M395.8 463.3a1.0 1.0 0 1 0 2.0 0a1.0 1.0 0 1 0 -2.0 0M402.4 463.0a1.0 1.0 0 1 0 2.0 0a1.0 1.0 0 1 0 -2.0 0M404.1 463.1a1.0 1.0 0 1 0 2.0 0a1.0 1.0 0 1 0 -2.0 0M408.5 462.8a1.0 1.0 0 1 0 2.0 0a1.0 1.0 0 1 0 -2.0 0M386.0 461.4a1.0 1.0 0 1 0 2.0 0a1.0 1.0 0 1 0 -2.0 0M392.3 461.3a1.0 1.0 0 1 0 2.0 0a1.0 1.0 0 1 0 -2.0 0M403.3 461.4a1.0 1.0 0 1 0 2.0 0a1.0 1.0 0 1 0 -2.0 0M405.6 461.5a1.0 1.0 0 1 0 2.0 0a1.0 1.0 0 1 0 -2.0 0M390.1 459.4a1.0 1.0 0 1 0 2.0 0a1.0 1.0 0 1 0 -2.0 0M403.4 459.1a1.0 1.0 0 1 0 2.0 0a1.0 1.0 0 1 0 -2.0 0M405.3 459.2a1.0 1.0 0 1 0 2.0 0a1.0 1.0 0 1 0 -2.0 0M389.9 457.6a1.0 1.0 0 1 0 2.0 0a1.0 1.0 0 1 0 -2.0 0M392.2 457.5a1.0 1.0 0 1 0 2.0 0a1.0 1.0 0 1 0 -2.0 0M397.0 457.5a1.0 1.0 0 1 0 2.0 0a1.0 1.0 0 1 0 -2.0 0M403.4 457.5a1.0 1.0 0 1 0 2.0 0a1.0 1.0 0 1 0 -2.0 0M405.4 457.6a1.0 1.0 0 1 0 2.0 0a1.0 1.0 0 1 0 -2.0 0M407.7 457.5a1.0 1.0 0 1 0 2.0 0a1.0 1.0 0 1 0 -2.0 0M391.8 455.7a1.0 1.0 0 1 0 2.0 0a1.0 1.0 0 1 0 -2.0 0M396.6 455.6a1.0 1.0 0 1 0 2.0 0a1.0 1.0 0 1 0 -2.0 0M399.2 456.0a1.0 1.0 0 1 0 2.0 0a1.0 1.0 0 1 0 -2.0 0" fill="#12cf12"/>
<path d="M439.6 519.8a1.1 1.1 0 1 0 2.2 0a1.1 1.1 0 1 0 -2.2 0M438.4 507.5a1.1 1.1 0 1 0 2.2 0a1.1 1.1 0 1 0 -2.2 0M440.7 507.4a1.1 1.1 0 1 0 2.2 0a1.1 1.1 0 1 0 -2.2 0M439.5 467.6a1.1 1.1 0 1 0 2.2 0a1.1 1.1 0 1 0 -2.2 0" fill="#ff8c00"/>
<path d="M480.6 519.8a1.05 1.05 0 1 0 2.1 0a1.05 1.05 0 1 0 -2.1 0M483.7 519.4a1.05 1.05 0 1 0 2.1 0a1.05 1.05 0 1 0 -2.1 0M479.2 515.9a1.05 1.05 0 1 0 2.1 0a1.05 1.05 0 1 0 -2.1 0M482.3 515.8a1.05 1.05 0 1 0 2.1 0a1.05 1.05 0 1 0 -2.1 0M485.2 515.6a1.05 1.05 0 1 0 2.1 0a1.05 1.05 0 1 0 -2.1 0M480.4 513.7a1.05 1.05 0 1 0 2.1 0a1.05 1.05 0 1 0 -2.1 0M483.7 513.5a1.05 1.05 0 1 0 2.1 0a1.05 1.05 0 1 0 -2.1 0M479.0 510.0a1.05 1.05 0 1 0 2.1 0a1.05 1.05 0 1 0 -2.1 0M482.2 509.7a1.05 1.05 0 1 0 2.1 0a1.05 1.05 0 1 0 -2.1 0M485.5 510.0a1.05 1.05 0 1 0 2.1 0a1.05 1.05 0 1 0 -2.1 0M474.8 507.6a1.05 1.05 0 1 0 2.1 0a1.05 1.05 0 1 0 -2.1 0M477.8 507.3a1.05 1.05 0 1 0 2.1 0a1.05 1.05 0 1 0 -2.1 0M481.0 507.6a1.05 1.05 0 1 0 2.1 0a1.05 1.05 0 1 0 -2.1 0M483.8 507.3a1.05 1.05 0 1 0 2.1 0a1.05 1.05 0 1 0 -2.1 0M486.7 507.0a1.05 1.05 0 1 0 2.1 0a1.05 1.05 0 1 0 -2.1 0M489.9 507.6a1.05 1.05 0 1 0 2.1 0a1.05 1.05 0 1 0 -2.1 0M483.2 497.6a1.05 1.05 0 1 0 2.1 0a1.05 1.05 0 1 0 -2.1 0M479.4 492.1a1.05 1.05 0 1 0 2.1 0a1.05 1.05 0 1 0 -2.1 0M482.1 492.3a1.05 1.05 0 1 0 2.1 0a1.05 1.05 0 1 0 -2.1 0M485.2 492.4a1.05 1.05 0 1 0 2.1 0a1.05 1.05 0 1 0 -2.1 0M477.7 490.3a1.05 1.05 0 1 0 2.1 0a1.05 1.05 0 1 0 -2.1 0M480.6 489.8a1.05 1.05 0 1 0 2.1 0a1.05 1.05 0 1 0 -2.1 0M483.3 490.3a1.05 1.05 0 1 0 2.1 0a1.05 1.05 0 1 0 -2.1 0M486.6 490.0a1.05 1.05 0 1 0 2.1 0a1.05 1.05 0 1 0 -2.1 0M478.8 483.4a1.05 1.05 0 1 0 2.1 0a1.05 1.05 0 1 0 -2.1 0M481.8 483.9a1.05 1.05 0 1 0 2.1 0a1.05 1.05 0 1 0 -2.1 0M484.8 483.5a1.05 1.05 0 1 0 2.1 0a1.05 1.05 0 1 0 -2.1 0M480.6 481.3a1.05 1.05 0 1 0 2.1 0a1.05 1.05 0 1 0 -2.1 0M483.5 481.3a1.05 1.05 0 1 0 2.1 0a1.05 1.05 0 1 0 -2.1 0M479.2 479.1a1.05 1.05 0 1 0 2.1 0a1.05 1.05 0 1 0 -2.1 0M481.9 478.7a1.05 1.05 0 1 0 2.1 0a1.05 1.05 0 1 0 -2.1 0M484.9 478.7a1.05 1.05 0 1 0 2.1 0a1.05 1.05 0 1 0 -2.1 0M475.9 476.1a1.05 1.05 0 1 0 2.1 0a1.05 1.05 0 1 0 -2.1 0M479.4 476.2a1.05 1.05 0 1 0 2.1 0a1.05 1.05 0 1 0 -2.1 0M482.3 476.6a1.05 1.05 0 1 0 2.1 0a1.05 1.05 0 1 0 -2.1 0M485.4 476.0a1.05 1.05 0 1 0 2.1 0a1.05 1.05 0 1 0 -2.1 0M488.2 476.6a1.05 1.05 0 1 0 2.1 0a1.05 1.05 0 1 0 -2.1 0M477.7 474.0a1.05 1.05 0 1 0 2.1 0a1.05 1.05 0 1 0 -2.1 0M480.6 474.2a1.05 1.05 0 1 0 2.1 0a1.05 1.05 0 1 0 -2.1 0M483.7 473.8a1.05 1.05 0 1 0 2.1 0a1.05 1.05 0 1 0 -2.1 0M486.6 473.9a1.05 1.05 0 1 0 2.1 0a1.05 1.05 0 1 0 -2.1 0M475.9 471.6a1.05 1.05 0 1 0 2.1 0a1.05 1.05 0 1 0 -2.1 0M479.4 471.6a1.05 1.05 0 1 0 2.1 0a1.05 1.05 0 1 0 -2.1 0M481.8 471.5a1.05 1.05 0 1 0 2.1 0a1.05 1.05 0 1 0 -2.1 0M485.3 471.3a1.05 1.05 0 1 0 2.1 0a1.05 1.05 0 1 0 -2.1 0M488.2 471.6a1.05 1.05 0 1 0 2.1 0a1.05 1.05 0 1 0 -2.1 0M477.7 469.0a1.05 1.05 0 1 0 2.1 0a1.05 1.05 0 1 0 -2.1 0M480.3 469.2a1.05 1.05 0 1 0 2.1 0a1.05 1.05 0 1 0 -2.1 0M483.4 469.2a1.05 1.05 0 1 0 2.1 0a1.05 1.05 0 1 0 -2.1 0M486.7 469.2a1.05 1.05 0 1 0 2.1 0a1.05 1.05 0 1 0 -2.1 0M480.4 456.7a1.05 1.05 0 1 0 2.1 0a1.05 1.05 0 1 0 -2.1 0M483.8 456.6a1.05 1.05 0 1 0 2.1 0a1.05 1.05 0 1 0 -2.1 0" fill="#ff1a1a"/>
<line x1="384.7" y1="490.3" x2="413.1" y2="490.3" stroke="#2a2a2a" stroke-width="1.45"/>
<line x1="426.9" y1="500.7" x2="454.7" y2="500.7" stroke="#2a2a2a" stroke-width="1.45"/>
<line x1="469.3" y1="487.3" x2="497.1" y2="487.3" stroke="#2a2a2a" stroke-width="1.45"/>
<text x="391.9" y="531.7" font-size="8.8" fill="#2a2a2a" textLength="12.2" lengthAdjust="spacingAndGlyphs" stroke="#2a2a2a" stroke-width="0.35">WT</text>
<text x="429.4" y="531.7" font-size="8.8" fill="#2a2a2a" textLength="22.8" lengthAdjust="spacingAndGlyphs" stroke="#2a2a2a" stroke-width="0.35">K-RAS</text>
<text x="471.4" y="531.8" font-size="8.8" fill="#2a2a2a" textLength="23.6" lengthAdjust="spacingAndGlyphs" stroke="#2a2a2a" stroke-width="0.35">N-RAS</text>
</svg></body></html>
